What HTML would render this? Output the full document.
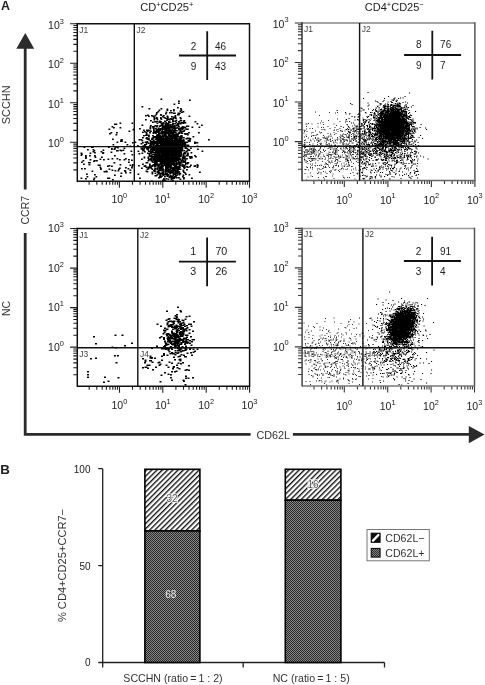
<!DOCTYPE html>
<html><head><meta charset="utf-8"><title>Figure</title>
<style>html,body{margin:0;padding:0;background:#fff;}svg{display:block;}</style></head>
<body>
<svg width="485" height="685" viewBox="0 0 485 685" font-family="'Liberation Sans', Arial, Helvetica, sans-serif" fill="#222">
<rect width="485" height="685" fill="#fff"/>

<text x="1" y="9.9" font-size="12.4" font-weight="bold">A</text>
<text x="140.2" y="10.8" font-size="11.1">CD<tspan font-size="7.5" dy="-4.3">+</tspan><tspan dy="4.3">CD25</tspan><tspan font-size="7.5" dy="-4.3">+</tspan></text>
<text x="364.8" y="10.8" font-size="11.0">CD4<tspan font-size="7.5" dy="-4.3">+</tspan><tspan dy="4.3">CD25</tspan><tspan font-size="7.5" dy="-4.3">&#8722;</tspan></text>
<!-- vertical arrow -->
<path d="M25.2 48V189.6M25.2 233V434.4H250.6M292.9 434.4H469" stroke="#2b2b2b" stroke-width="2.8" fill="none"/>
<path d="M25.3 33L34.2 48.8H16.3Z" fill="#2b2b2b"/>
<path d="M484.5 434.6L468.8 426V443.2Z" fill="#2b2b2b"/>
<text transform="translate(9.9,124.2) rotate(-90)" font-size="10.9" fill="#333">SCCHN</text>
<text transform="translate(29,224.5) rotate(-90)" font-size="10.5" fill="#333">CCR7</text>
<text transform="translate(9.6,316) rotate(-90)" font-size="10.5" fill="#333">NC</text>
<text x="256.5" y="438.8" font-size="10.8" fill="#333">CD62L</text>

<path fill="#000" d="M154 166h1.8v1.6h-1.8zM179 164.5h1.8v1.6h-1.8zM159 157.5h1.8v1.6h-1.8zM164.5 132.5h1.8v1.6h-1.8zM166.5 137.5h1.8v1.6h-1.8zM160 176.5h1.8v1.6h-1.8zM154.5 151.5h1.8v1.6h-1.8zM173 127.5h1.8v1.6h-1.8zM170.5 151.5h1.8v1.6h-1.8zM149 163.5h1.8v1.6h-1.8zM189 156h1.8v1.6h-1.8zM176 151h1.8v1.6h-1.8zM160 121h1.8v1.6h-1.8zM175.5 151.5h1.8v1.6h-1.8zM162.5 149h1.8v1.6h-1.8zM166.5 172.5h1.8v1.6h-1.8zM174.5 151h1.8v1.6h-1.8zM155.5 150.5h1.8v1.6h-1.8zM172.5 145.5h1.8v1.6h-1.8zM180 149.5h1.8v1.6h-1.8zM179.5 154.5h1.8v1.6h-1.8zM164 144.5h1.8v1.6h-1.8zM175.5 139.5h1.8v1.6h-1.8zM152 135h1.8v1.6h-1.8zM165.5 152.5h1.8v1.6h-1.8zM171 146.5h1.8v1.6h-1.8zM154.5 147h1.8v1.6h-1.8zM166 131.5h1.8v1.6h-1.8zM183 140.5h1.8v1.6h-1.8zM191.5 126.5h1.8v1.6h-1.8zM174 163h1.8v1.6h-1.8zM174.5 166h1.8v1.6h-1.8zM158 156h1.8v1.6h-1.8zM156 149.5h1.8v1.6h-1.8zM154 157h1.8v1.6h-1.8zM172 132h1.8v1.6h-1.8zM174 134h1.8v1.6h-1.8zM161 166h1.8v1.6h-1.8zM155.5 137.5h1.8v1.6h-1.8zM169.5 150h1.8v1.6h-1.8zM170 142h1.8v1.6h-1.8zM166 119.5h1.8v1.6h-1.8zM179 142h1.8v1.6h-1.8zM166 161.5h1.8v1.6h-1.8zM166.5 167.5h1.8v1.6h-1.8zM156.5 118.5h1.8v1.6h-1.8zM168.5 130.5h1.8v1.6h-1.8zM179.5 143.5h1.8v1.6h-1.8zM167.5 163.5h1.8v1.6h-1.8zM167.5 166.5h1.8v1.6h-1.8zM171 171h1.8v1.6h-1.8zM169.5 172.5h1.8v1.6h-1.8zM172 145.5h1.8v1.6h-1.8zM172 138h1.8v1.6h-1.8zM173 162.5h1.8v1.6h-1.8zM159.5 147.5h1.8v1.6h-1.8zM170 151h1.8v1.6h-1.8zM152 146h1.8v1.6h-1.8zM169.5 146h1.8v1.6h-1.8zM155.5 162.5h1.8v1.6h-1.8zM166.5 138h1.8v1.6h-1.8zM171.5 128.5h1.8v1.6h-1.8zM163 142h1.8v1.6h-1.8zM168 152h1.8v1.6h-1.8zM151.5 147h1.8v1.6h-1.8zM159 149h1.8v1.6h-1.8zM173.5 125h1.8v1.6h-1.8zM156.5 139.5h1.8v1.6h-1.8zM173 164.5h1.8v1.6h-1.8zM154 148.5h1.8v1.6h-1.8zM158.5 142h1.8v1.6h-1.8zM157 165h1.8v1.6h-1.8zM167 143.5h1.8v1.6h-1.8zM172 160.5h1.8v1.6h-1.8zM157 153.5h1.8v1.6h-1.8zM165.5 156h1.8v1.6h-1.8zM182 164h1.8v1.6h-1.8zM164 179.5h1.8v1.6h-1.8zM159.5 167h1.8v1.6h-1.8zM170.5 139.5h1.8v1.6h-1.8zM165 136h1.8v1.6h-1.8zM160.5 146.5h1.8v1.6h-1.8zM150.5 148.5h1.8v1.6h-1.8zM174.5 159.5h1.8v1.6h-1.8zM161.5 151h1.8v1.6h-1.8zM167 153h1.8v1.6h-1.8zM157 128.5h1.8v1.6h-1.8zM179 150h1.8v1.6h-1.8zM174 157.5h1.8v1.6h-1.8zM176 172.5h1.8v1.6h-1.8zM166 160.5h1.8v1.6h-1.8zM171.5 151.5h1.8v1.6h-1.8zM175.5 135h1.8v1.6h-1.8zM176.5 150.5h1.8v1.6h-1.8zM170 150.5h1.8v1.6h-1.8zM166.5 148.5h1.8v1.6h-1.8zM163.5 152.5h1.8v1.6h-1.8zM160 157h1.8v1.6h-1.8zM158 156h1.8v1.6h-1.8zM170.5 179h1.8v1.6h-1.8zM164.5 137.5h1.8v1.6h-1.8zM148.5 130h1.8v1.6h-1.8zM165.5 155.5h1.8v1.6h-1.8zM177 134.5h1.8v1.6h-1.8zM164.5 147.5h1.8v1.6h-1.8zM150 149.5h1.8v1.6h-1.8zM166 140h1.8v1.6h-1.8zM174.5 160.5h1.8v1.6h-1.8zM169 158.5h1.8v1.6h-1.8zM163 152h1.8v1.6h-1.8zM184 158h1.8v1.6h-1.8zM184.5 161.5h1.8v1.6h-1.8zM166 146.5h1.8v1.6h-1.8zM174.5 158h1.8v1.6h-1.8zM170.5 152h1.8v1.6h-1.8zM174.5 150h1.8v1.6h-1.8zM180.5 144h1.8v1.6h-1.8zM174.5 173h1.8v1.6h-1.8zM168 154.5h1.8v1.6h-1.8zM161 132h1.8v1.6h-1.8zM159.5 156.5h1.8v1.6h-1.8zM167 117h1.8v1.6h-1.8zM178 153.5h1.8v1.6h-1.8zM170 160h1.8v1.6h-1.8zM167.5 168.5h1.8v1.6h-1.8zM169.5 153h1.8v1.6h-1.8zM167.5 141h1.8v1.6h-1.8zM172 175.5h1.8v1.6h-1.8zM156.5 163.5h1.8v1.6h-1.8zM148.5 167h1.8v1.6h-1.8zM163 147h1.8v1.6h-1.8zM156.5 158.5h1.8v1.6h-1.8zM182 127.5h1.8v1.6h-1.8zM165.5 156.5h1.8v1.6h-1.8zM164.5 123h1.8v1.6h-1.8zM152.5 137h1.8v1.6h-1.8zM169.5 131h1.8v1.6h-1.8zM161 165h1.8v1.6h-1.8zM177.5 162h1.8v1.6h-1.8zM175 142.5h1.8v1.6h-1.8zM160 166h1.8v1.6h-1.8zM171 151h1.8v1.6h-1.8zM141.5 124.5h1.8v1.6h-1.8zM160.5 145h1.8v1.6h-1.8zM178.5 128h1.8v1.6h-1.8zM174.5 151h1.8v1.6h-1.8zM168.5 155h1.8v1.6h-1.8zM166.5 140.5h1.8v1.6h-1.8zM154 160.5h1.8v1.6h-1.8zM154.5 163.5h1.8v1.6h-1.8zM169 138.5h1.8v1.6h-1.8zM183.5 157.5h1.8v1.6h-1.8zM147 149h1.8v1.6h-1.8zM173 146.5h1.8v1.6h-1.8zM172.5 172h1.8v1.6h-1.8zM176 141h1.8v1.6h-1.8zM159 145.5h1.8v1.6h-1.8zM162 149.5h1.8v1.6h-1.8zM167.5 157.5h1.8v1.6h-1.8zM157.5 160h1.8v1.6h-1.8zM155.5 138h1.8v1.6h-1.8zM159 168h1.8v1.6h-1.8zM166.5 174h1.8v1.6h-1.8zM170.5 176.5h1.8v1.6h-1.8zM167 152.5h1.8v1.6h-1.8zM167.5 143.5h1.8v1.6h-1.8zM160.5 136.5h1.8v1.6h-1.8zM160.5 154.5h1.8v1.6h-1.8zM177.5 149.5h1.8v1.6h-1.8zM166.5 149.5h1.8v1.6h-1.8zM166 142h1.8v1.6h-1.8zM175.5 121.5h1.8v1.6h-1.8zM178.5 146.5h1.8v1.6h-1.8zM179 148h1.8v1.6h-1.8zM171 145.5h1.8v1.6h-1.8zM166.5 132h1.8v1.6h-1.8zM169.5 146.5h1.8v1.6h-1.8zM168.5 148.5h1.8v1.6h-1.8zM180 135.5h1.8v1.6h-1.8zM169.5 158.5h1.8v1.6h-1.8zM173 150h1.8v1.6h-1.8zM166.5 152h1.8v1.6h-1.8zM180 155.5h1.8v1.6h-1.8zM148 147h1.8v1.6h-1.8zM170.5 149.5h1.8v1.6h-1.8zM174 157h1.8v1.6h-1.8zM156 160h1.8v1.6h-1.8zM187 162h1.8v1.6h-1.8zM165.5 148h1.8v1.6h-1.8zM165.5 160.5h1.8v1.6h-1.8zM157 165h1.8v1.6h-1.8zM175 132h1.8v1.6h-1.8zM169 145h1.8v1.6h-1.8zM161.5 150h1.8v1.6h-1.8zM169 150.5h1.8v1.6h-1.8zM173.5 173.5h1.8v1.6h-1.8zM178.5 166h1.8v1.6h-1.8zM169 148.5h1.8v1.6h-1.8zM158 149h1.8v1.6h-1.8zM162 132.5h1.8v1.6h-1.8zM145.5 137.5h1.8v1.6h-1.8zM160 168h1.8v1.6h-1.8zM174 128h1.8v1.6h-1.8zM171.5 158.5h1.8v1.6h-1.8zM166 141.5h1.8v1.6h-1.8zM164 146.5h1.8v1.6h-1.8zM181.5 149h1.8v1.6h-1.8zM169.5 174.5h1.8v1.6h-1.8zM175.5 155h1.8v1.6h-1.8zM170.5 157h1.8v1.6h-1.8zM161 164h1.8v1.6h-1.8zM181.5 122h1.8v1.6h-1.8zM155.5 175h1.8v1.6h-1.8zM156 129h1.8v1.6h-1.8zM163 141.5h1.8v1.6h-1.8zM160 159.5h1.8v1.6h-1.8zM162 134.5h1.8v1.6h-1.8zM161.5 128h1.8v1.6h-1.8zM176 166h1.8v1.6h-1.8zM167.5 146.5h1.8v1.6h-1.8zM170.5 163h1.8v1.6h-1.8zM152 157h1.8v1.6h-1.8zM159 148.5h1.8v1.6h-1.8zM177 173h1.8v1.6h-1.8zM156 147.5h1.8v1.6h-1.8zM178 177h1.8v1.6h-1.8zM157.5 139h1.8v1.6h-1.8zM170 138h1.8v1.6h-1.8zM159 142h1.8v1.6h-1.8zM169 154h1.8v1.6h-1.8zM158.5 136h1.8v1.6h-1.8zM164.5 142h1.8v1.6h-1.8zM182.5 169.5h1.8v1.6h-1.8zM163.5 153.5h1.8v1.6h-1.8zM186 166h1.8v1.6h-1.8zM162.5 156h1.8v1.6h-1.8zM156 143.5h1.8v1.6h-1.8zM167.5 141h1.8v1.6h-1.8zM163 153.5h1.8v1.6h-1.8zM183.5 152h1.8v1.6h-1.8zM175 144.5h1.8v1.6h-1.8zM178 144h1.8v1.6h-1.8zM173 170h1.8v1.6h-1.8zM190 164.5h1.8v1.6h-1.8zM174.5 155h1.8v1.6h-1.8zM172 146.5h1.8v1.6h-1.8zM159.5 145.5h1.8v1.6h-1.8zM158.5 177h1.8v1.6h-1.8zM168.5 143.5h1.8v1.6h-1.8zM177.5 142.5h1.8v1.6h-1.8zM158 132h1.8v1.6h-1.8zM172 177.5h1.8v1.6h-1.8zM169 149.5h1.8v1.6h-1.8zM156.5 171h1.8v1.6h-1.8zM172 157h1.8v1.6h-1.8zM146 148h1.8v1.6h-1.8zM169.5 163.5h1.8v1.6h-1.8zM190 147.5h1.8v1.6h-1.8zM157.5 156.5h1.8v1.6h-1.8zM167 149h1.8v1.6h-1.8zM149.5 128h1.8v1.6h-1.8zM160 156h1.8v1.6h-1.8zM174 144h1.8v1.6h-1.8zM157.5 149h1.8v1.6h-1.8zM166.5 156.5h1.8v1.6h-1.8zM163.5 132.5h1.8v1.6h-1.8zM163.5 158h1.8v1.6h-1.8zM169 158.5h1.8v1.6h-1.8zM171.5 176h1.8v1.6h-1.8zM178.5 161.5h1.8v1.6h-1.8zM174.5 155.5h1.8v1.6h-1.8zM161.5 142.5h1.8v1.6h-1.8zM180 150.5h1.8v1.6h-1.8zM178.5 132.5h1.8v1.6h-1.8zM152.5 156h1.8v1.6h-1.8zM173 148.5h1.8v1.6h-1.8zM174.5 146h1.8v1.6h-1.8zM176 151h1.8v1.6h-1.8zM172 156.5h1.8v1.6h-1.8zM155 154h1.8v1.6h-1.8zM164.5 135.5h1.8v1.6h-1.8zM147.5 168h1.8v1.6h-1.8zM165.5 151h1.8v1.6h-1.8zM186 155h1.8v1.6h-1.8zM173.5 151h1.8v1.6h-1.8zM175 138.5h1.8v1.6h-1.8zM162 154h1.8v1.6h-1.8zM157.5 145.5h1.8v1.6h-1.8zM157 140h1.8v1.6h-1.8zM168 152.5h1.8v1.6h-1.8zM159.5 160.5h1.8v1.6h-1.8zM161 158.5h1.8v1.6h-1.8zM177.5 153h1.8v1.6h-1.8zM151.5 143h1.8v1.6h-1.8zM155 146.5h1.8v1.6h-1.8zM162.5 149h1.8v1.6h-1.8zM166 132.5h1.8v1.6h-1.8zM166 161h1.8v1.6h-1.8zM154 152h1.8v1.6h-1.8zM169 134h1.8v1.6h-1.8zM166 170h1.8v1.6h-1.8zM170.5 175.5h1.8v1.6h-1.8zM157 134h1.8v1.6h-1.8zM169.5 148.5h1.8v1.6h-1.8zM169 140h1.8v1.6h-1.8zM161 160.5h1.8v1.6h-1.8zM165 133h1.8v1.6h-1.8zM162 157h1.8v1.6h-1.8zM179.5 155.5h1.8v1.6h-1.8zM138 165h1.8v1.6h-1.8zM153.5 126h1.8v1.6h-1.8zM151 141h1.8v1.6h-1.8zM163.5 148h1.8v1.6h-1.8zM160.5 163h1.8v1.6h-1.8zM163 152h1.8v1.6h-1.8zM173.5 160h1.8v1.6h-1.8zM152 156.5h1.8v1.6h-1.8zM159 139h1.8v1.6h-1.8zM165 149h1.8v1.6h-1.8zM156 145.5h1.8v1.6h-1.8zM170.5 146.5h1.8v1.6h-1.8zM170 139h1.8v1.6h-1.8zM160.5 160.5h1.8v1.6h-1.8zM150.5 154.5h1.8v1.6h-1.8zM182 126h1.8v1.6h-1.8zM171.5 160h1.8v1.6h-1.8zM171 143.5h1.8v1.6h-1.8zM167.5 131.5h1.8v1.6h-1.8zM167 166h1.8v1.6h-1.8zM174.5 150h1.8v1.6h-1.8zM167 155h1.8v1.6h-1.8zM161 148.5h1.8v1.6h-1.8zM173.5 150h1.8v1.6h-1.8zM167.5 127h1.8v1.6h-1.8zM160 160h1.8v1.6h-1.8zM158.5 141h1.8v1.6h-1.8zM178 150.5h1.8v1.6h-1.8zM173 149.5h1.8v1.6h-1.8zM185.5 138h1.8v1.6h-1.8zM162 134.5h1.8v1.6h-1.8zM160 148.5h1.8v1.6h-1.8zM171 167h1.8v1.6h-1.8zM180 142h1.8v1.6h-1.8zM172.5 142.5h1.8v1.6h-1.8zM171 151.5h1.8v1.6h-1.8zM184.5 143h1.8v1.6h-1.8zM160 167.5h1.8v1.6h-1.8zM155.5 156.5h1.8v1.6h-1.8zM164 153.5h1.8v1.6h-1.8zM170.5 179h1.8v1.6h-1.8zM176.5 143h1.8v1.6h-1.8zM171 153.5h1.8v1.6h-1.8zM181 137h1.8v1.6h-1.8zM159.5 145.5h1.8v1.6h-1.8zM184.5 146.5h1.8v1.6h-1.8zM159.5 158.5h1.8v1.6h-1.8zM178 168.5h1.8v1.6h-1.8zM158.5 147.5h1.8v1.6h-1.8zM170 132h1.8v1.6h-1.8zM167.5 151h1.8v1.6h-1.8zM172 148.5h1.8v1.6h-1.8zM174 144.5h1.8v1.6h-1.8zM165 162h1.8v1.6h-1.8zM166.5 165.5h1.8v1.6h-1.8zM169 142h1.8v1.6h-1.8zM155 142h1.8v1.6h-1.8zM160 117.5h1.8v1.6h-1.8zM152 143h1.8v1.6h-1.8zM167 162h1.8v1.6h-1.8zM187.5 139.5h1.8v1.6h-1.8zM174 163h1.8v1.6h-1.8zM159 160h1.8v1.6h-1.8zM160.5 159h1.8v1.6h-1.8zM176 159.5h1.8v1.6h-1.8zM162.5 150.5h1.8v1.6h-1.8zM152 164.5h1.8v1.6h-1.8zM157.5 165h1.8v1.6h-1.8zM157 156h1.8v1.6h-1.8zM157.5 151h1.8v1.6h-1.8zM173.5 168.5h1.8v1.6h-1.8zM167.5 171h1.8v1.6h-1.8zM153 143.5h1.8v1.6h-1.8zM162 162.5h1.8v1.6h-1.8zM156.5 152.5h1.8v1.6h-1.8zM153 147.5h1.8v1.6h-1.8zM183 143.5h1.8v1.6h-1.8zM164 139.5h1.8v1.6h-1.8zM172.5 163.5h1.8v1.6h-1.8zM175 138h1.8v1.6h-1.8zM163.5 160h1.8v1.6h-1.8zM172 145h1.8v1.6h-1.8zM172 169h1.8v1.6h-1.8zM169 172h1.8v1.6h-1.8zM187 166.5h1.8v1.6h-1.8zM169.5 126.5h1.8v1.6h-1.8zM165 133h1.8v1.6h-1.8zM173 116.5h1.8v1.6h-1.8zM176 144h1.8v1.6h-1.8zM162.5 146.5h1.8v1.6h-1.8zM159 152h1.8v1.6h-1.8zM158.5 159.5h1.8v1.6h-1.8zM161 147.5h1.8v1.6h-1.8zM170.5 152.5h1.8v1.6h-1.8zM175 151.5h1.8v1.6h-1.8zM146 134.5h1.8v1.6h-1.8zM167 175h1.8v1.6h-1.8zM156.5 174h1.8v1.6h-1.8zM173.5 152h1.8v1.6h-1.8zM175.5 150h1.8v1.6h-1.8zM160 176h1.8v1.6h-1.8zM158 152.5h1.8v1.6h-1.8zM170.5 159.5h1.8v1.6h-1.8zM152 146.5h1.8v1.6h-1.8zM156.5 156h1.8v1.6h-1.8zM160.5 118.5h1.8v1.6h-1.8zM178.5 122.5h1.8v1.6h-1.8zM189.5 157.5h1.8v1.6h-1.8zM167 149.5h1.8v1.6h-1.8zM155.5 157h1.8v1.6h-1.8zM167.5 153h1.8v1.6h-1.8zM159 159.5h1.8v1.6h-1.8zM171.5 155h1.8v1.6h-1.8zM156.5 149.5h1.8v1.6h-1.8zM163.5 157.5h1.8v1.6h-1.8zM167 143.5h1.8v1.6h-1.8zM172 170.5h1.8v1.6h-1.8zM166.5 139.5h1.8v1.6h-1.8zM179 147h1.8v1.6h-1.8zM168 163.5h1.8v1.6h-1.8zM150 147h1.8v1.6h-1.8zM175.5 164.5h1.8v1.6h-1.8zM164.5 171h1.8v1.6h-1.8zM161 162.5h1.8v1.6h-1.8zM181 146.5h1.8v1.6h-1.8zM158 177h1.8v1.6h-1.8zM167.5 158h1.8v1.6h-1.8zM160.5 139.5h1.8v1.6h-1.8zM179.5 178.5h1.8v1.6h-1.8zM163.5 154.5h1.8v1.6h-1.8zM169 160h1.8v1.6h-1.8zM154 164h1.8v1.6h-1.8zM180.5 145.5h1.8v1.6h-1.8zM157 164h1.8v1.6h-1.8zM175.5 136h1.8v1.6h-1.8zM177.5 139.5h1.8v1.6h-1.8zM178.5 147h1.8v1.6h-1.8zM156 160h1.8v1.6h-1.8zM170.5 167.5h1.8v1.6h-1.8zM168.5 146.5h1.8v1.6h-1.8zM171 159.5h1.8v1.6h-1.8zM177 125h1.8v1.6h-1.8zM168 149h1.8v1.6h-1.8zM159.5 158h1.8v1.6h-1.8zM166 145h1.8v1.6h-1.8zM181.5 126.5h1.8v1.6h-1.8zM156 131h1.8v1.6h-1.8zM167.5 160.5h1.8v1.6h-1.8zM158 170h1.8v1.6h-1.8zM177.5 147.5h1.8v1.6h-1.8zM151.5 173h1.8v1.6h-1.8zM164 135.5h1.8v1.6h-1.8zM166 160.5h1.8v1.6h-1.8zM168 156h1.8v1.6h-1.8zM189 166h1.8v1.6h-1.8zM181.5 132.5h1.8v1.6h-1.8zM157.5 165.5h1.8v1.6h-1.8zM187 153.5h1.8v1.6h-1.8zM156 141h1.8v1.6h-1.8zM149.5 146h1.8v1.6h-1.8zM153 149.5h1.8v1.6h-1.8zM169 156h1.8v1.6h-1.8zM172 141h1.8v1.6h-1.8zM146.5 141h1.8v1.6h-1.8zM171 153h1.8v1.6h-1.8zM164.5 151.5h1.8v1.6h-1.8zM173.5 158.5h1.8v1.6h-1.8zM163.5 163.5h1.8v1.6h-1.8zM175.5 127.5h1.8v1.6h-1.8zM172 150.5h1.8v1.6h-1.8zM156 155h1.8v1.6h-1.8zM180.5 152.5h1.8v1.6h-1.8zM169 137.5h1.8v1.6h-1.8zM174 161h1.8v1.6h-1.8zM178.5 174h1.8v1.6h-1.8zM158 149h1.8v1.6h-1.8zM166 141h1.8v1.6h-1.8zM159.5 161.5h1.8v1.6h-1.8zM158 151.5h1.8v1.6h-1.8zM169.5 153h1.8v1.6h-1.8zM170 154.5h1.8v1.6h-1.8zM179.5 145.5h1.8v1.6h-1.8zM180 151h1.8v1.6h-1.8zM167 142h1.8v1.6h-1.8zM159 125.5h1.8v1.6h-1.8zM197 165h1.8v1.6h-1.8zM187 155h1.8v1.6h-1.8zM166 150.5h1.8v1.6h-1.8zM158.5 169h1.8v1.6h-1.8zM163 149h1.8v1.6h-1.8zM169.5 166h1.8v1.6h-1.8zM177.5 162h1.8v1.6h-1.8zM176 147.5h1.8v1.6h-1.8zM171 135h1.8v1.6h-1.8zM164.5 157.5h1.8v1.6h-1.8zM168.5 154h1.8v1.6h-1.8zM164 164.5h1.8v1.6h-1.8zM167.5 131h1.8v1.6h-1.8zM166 149.5h1.8v1.6h-1.8zM172 154h1.8v1.6h-1.8zM149.5 155.5h1.8v1.6h-1.8zM164 152.5h1.8v1.6h-1.8zM164.5 155h1.8v1.6h-1.8zM156.5 120.5h1.8v1.6h-1.8zM165.5 147h1.8v1.6h-1.8zM157 142.5h1.8v1.6h-1.8zM161 131h1.8v1.6h-1.8zM164.5 152.5h1.8v1.6h-1.8zM164.5 146h1.8v1.6h-1.8zM161.5 136h1.8v1.6h-1.8zM177.5 133h1.8v1.6h-1.8zM169 155.5h1.8v1.6h-1.8zM170 118h1.8v1.6h-1.8zM169 150h1.8v1.6h-1.8zM161 136.5h1.8v1.6h-1.8zM159 153h1.8v1.6h-1.8zM175 176h1.8v1.6h-1.8zM163.5 164.5h1.8v1.6h-1.8zM150.5 150.5h1.8v1.6h-1.8zM146.5 171h1.8v1.6h-1.8zM169 176h1.8v1.6h-1.8zM160 164h1.8v1.6h-1.8zM166.5 175.5h1.8v1.6h-1.8zM162 154h1.8v1.6h-1.8zM163 159.5h1.8v1.6h-1.8zM165.5 150h1.8v1.6h-1.8zM155.5 146.5h1.8v1.6h-1.8zM167 151.5h1.8v1.6h-1.8zM176 141h1.8v1.6h-1.8zM173.5 150h1.8v1.6h-1.8zM151 180.5h1.8v1.6h-1.8zM154.5 160.5h1.8v1.6h-1.8zM154.5 149h1.8v1.6h-1.8zM164.5 174h1.8v1.6h-1.8zM175 170.5h1.8v1.6h-1.8zM170 137.5h1.8v1.6h-1.8zM150.5 142h1.8v1.6h-1.8zM167.5 174h1.8v1.6h-1.8zM174.5 152.5h1.8v1.6h-1.8zM163 154h1.8v1.6h-1.8zM184.5 144.5h1.8v1.6h-1.8zM161 137h1.8v1.6h-1.8zM178 166.5h1.8v1.6h-1.8zM189 140.5h1.8v1.6h-1.8zM155 158.5h1.8v1.6h-1.8zM164 176h1.8v1.6h-1.8zM172.5 158.5h1.8v1.6h-1.8zM197 148.5h1.8v1.6h-1.8zM150.5 159.5h1.8v1.6h-1.8zM172.5 158.5h1.8v1.6h-1.8zM169.5 145.5h1.8v1.6h-1.8zM163 155h1.8v1.6h-1.8zM159 135.5h1.8v1.6h-1.8zM162 128.5h1.8v1.6h-1.8zM164 144h1.8v1.6h-1.8zM155 128h1.8v1.6h-1.8zM181.5 143h1.8v1.6h-1.8zM156.5 149.5h1.8v1.6h-1.8zM163 153.5h1.8v1.6h-1.8zM161 175.5h1.8v1.6h-1.8zM163 139h1.8v1.6h-1.8zM168 145h1.8v1.6h-1.8zM160 145h1.8v1.6h-1.8zM165 138h1.8v1.6h-1.8zM183 178h1.8v1.6h-1.8zM177 141h1.8v1.6h-1.8zM164.5 148h1.8v1.6h-1.8zM175.5 148.5h1.8v1.6h-1.8zM169 147h1.8v1.6h-1.8zM153.5 141h1.8v1.6h-1.8zM156.5 167.5h1.8v1.6h-1.8zM159 142.5h1.8v1.6h-1.8zM178.5 123h1.8v1.6h-1.8zM169 166h1.8v1.6h-1.8zM172 163.5h1.8v1.6h-1.8zM168.5 132h1.8v1.6h-1.8zM170.5 134.5h1.8v1.6h-1.8zM171 150.5h1.8v1.6h-1.8zM174 138h1.8v1.6h-1.8zM168.5 130.5h1.8v1.6h-1.8zM158.5 135h1.8v1.6h-1.8zM159.5 174.5h1.8v1.6h-1.8zM178.5 165h1.8v1.6h-1.8zM180 136.5h1.8v1.6h-1.8zM172 148.5h1.8v1.6h-1.8zM151.5 152h1.8v1.6h-1.8zM181.5 146h1.8v1.6h-1.8zM170 150h1.8v1.6h-1.8zM166.5 174h1.8v1.6h-1.8zM167 142h1.8v1.6h-1.8zM163.5 140.5h1.8v1.6h-1.8zM183.5 150h1.8v1.6h-1.8zM182.5 141.5h1.8v1.6h-1.8zM157 144.5h1.8v1.6h-1.8zM165 144.5h1.8v1.6h-1.8zM170 137h1.8v1.6h-1.8zM179 166.5h1.8v1.6h-1.8zM144.5 141.5h1.8v1.6h-1.8zM175.5 168h1.8v1.6h-1.8zM182.5 139h1.8v1.6h-1.8zM164 138h1.8v1.6h-1.8zM166.5 153.5h1.8v1.6h-1.8zM178.5 147h1.8v1.6h-1.8zM170.5 161.5h1.8v1.6h-1.8zM154.5 159.5h1.8v1.6h-1.8zM157.5 111h1.8v1.6h-1.8zM153.5 136.5h1.8v1.6h-1.8zM167 149.5h1.8v1.6h-1.8zM162 147.5h1.8v1.6h-1.8zM167 149.5h1.8v1.6h-1.8zM183.5 120h1.8v1.6h-1.8zM169 159.5h1.8v1.6h-1.8zM149.5 147h1.8v1.6h-1.8zM180 150.5h1.8v1.6h-1.8zM166 164.5h1.8v1.6h-1.8zM177.5 149.5h1.8v1.6h-1.8zM162.5 161h1.8v1.6h-1.8zM169.5 167.5h1.8v1.6h-1.8zM165.5 166h1.8v1.6h-1.8zM166.5 125h1.8v1.6h-1.8zM178.5 141.5h1.8v1.6h-1.8zM160.5 132.5h1.8v1.6h-1.8zM168.5 139.5h1.8v1.6h-1.8zM169 147.5h1.8v1.6h-1.8zM163 178h1.8v1.6h-1.8zM146.5 141.5h1.8v1.6h-1.8zM170 146h1.8v1.6h-1.8zM140.5 148h1.8v1.6h-1.8zM153 170h1.8v1.6h-1.8zM162.5 142.5h1.8v1.6h-1.8zM171 156h1.8v1.6h-1.8zM175 161h1.8v1.6h-1.8zM174.5 157.5h1.8v1.6h-1.8zM172.5 123h1.8v1.6h-1.8zM163.5 132.5h1.8v1.6h-1.8zM178 159h1.8v1.6h-1.8zM164.5 126h1.8v1.6h-1.8zM177.5 146.5h1.8v1.6h-1.8zM146 129.5h1.8v1.6h-1.8zM158 155h1.8v1.6h-1.8zM161.5 149h1.8v1.6h-1.8zM167 128.5h1.8v1.6h-1.8zM144.5 146h1.8v1.6h-1.8zM174.5 135h1.8v1.6h-1.8zM176 142h1.8v1.6h-1.8zM174 166h1.8v1.6h-1.8zM162 153h1.8v1.6h-1.8zM180.5 154h1.8v1.6h-1.8zM162 170h1.8v1.6h-1.8zM175.5 151h1.8v1.6h-1.8zM166.5 167h1.8v1.6h-1.8zM166.5 154.5h1.8v1.6h-1.8zM165.5 153h1.8v1.6h-1.8zM166.5 144.5h1.8v1.6h-1.8zM177 138.5h1.8v1.6h-1.8zM180.5 135.5h1.8v1.6h-1.8zM180 137h1.8v1.6h-1.8zM175.5 156.5h1.8v1.6h-1.8zM173 155h1.8v1.6h-1.8zM171 138h1.8v1.6h-1.8zM183 166h1.8v1.6h-1.8zM162.5 141h1.8v1.6h-1.8zM161 144h1.8v1.6h-1.8zM167.5 131h1.8v1.6h-1.8zM151.5 138.5h1.8v1.6h-1.8zM164.5 161h1.8v1.6h-1.8zM166.5 155.5h1.8v1.6h-1.8zM157.5 141h1.8v1.6h-1.8zM161.5 166h1.8v1.6h-1.8zM173.5 148.5h1.8v1.6h-1.8zM164.5 150.5h1.8v1.6h-1.8zM167.5 163.5h1.8v1.6h-1.8zM176.5 155.5h1.8v1.6h-1.8zM161 145h1.8v1.6h-1.8zM156 135.5h1.8v1.6h-1.8zM166.5 166.5h1.8v1.6h-1.8zM171 118.5h1.8v1.6h-1.8zM150 141.5h1.8v1.6h-1.8zM173 126.5h1.8v1.6h-1.8zM164 141.5h1.8v1.6h-1.8zM163 161h1.8v1.6h-1.8zM159 145h1.8v1.6h-1.8zM165 144h1.8v1.6h-1.8zM176 149h1.8v1.6h-1.8zM172 175.5h1.8v1.6h-1.8zM174.5 167.5h1.8v1.6h-1.8zM163.5 152.5h1.8v1.6h-1.8zM181.5 141h1.8v1.6h-1.8zM179 144.5h1.8v1.6h-1.8zM166.5 154h1.8v1.6h-1.8zM142.5 146.5h1.8v1.6h-1.8zM167.5 148h1.8v1.6h-1.8zM192.5 136h1.8v1.6h-1.8zM166.5 131.5h1.8v1.6h-1.8zM157.5 135h1.8v1.6h-1.8zM183 153h1.8v1.6h-1.8zM161 137.5h1.8v1.6h-1.8zM174 157h1.8v1.6h-1.8zM153 158.5h1.8v1.6h-1.8zM168 163h1.8v1.6h-1.8zM178 136h1.8v1.6h-1.8zM164 134.5h1.8v1.6h-1.8zM173 147h1.8v1.6h-1.8zM167 158h1.8v1.6h-1.8zM176.5 157.5h1.8v1.6h-1.8zM184 172h1.8v1.6h-1.8zM156.5 169h1.8v1.6h-1.8zM164.5 164.5h1.8v1.6h-1.8zM170.5 165.5h1.8v1.6h-1.8zM161 154h1.8v1.6h-1.8zM159.5 162h1.8v1.6h-1.8zM163.5 147h1.8v1.6h-1.8zM164.5 145.5h1.8v1.6h-1.8zM161 163.5h1.8v1.6h-1.8zM170 129.5h1.8v1.6h-1.8zM174.5 169.5h1.8v1.6h-1.8zM174 176h1.8v1.6h-1.8zM173.5 145h1.8v1.6h-1.8zM178 161.5h1.8v1.6h-1.8zM154.5 154h1.8v1.6h-1.8zM166 139h1.8v1.6h-1.8zM169 156.5h1.8v1.6h-1.8zM172 159h1.8v1.6h-1.8zM152 165h1.8v1.6h-1.8zM184.5 147.5h1.8v1.6h-1.8zM158.5 154h1.8v1.6h-1.8zM169.5 144h1.8v1.6h-1.8zM174 165h1.8v1.6h-1.8zM177 150.5h1.8v1.6h-1.8zM160.5 163.5h1.8v1.6h-1.8zM162 143h1.8v1.6h-1.8zM170.5 153.5h1.8v1.6h-1.8zM172.5 140h1.8v1.6h-1.8zM175.5 142.5h1.8v1.6h-1.8zM166.5 166.5h1.8v1.6h-1.8zM160.5 149.5h1.8v1.6h-1.8zM154.5 151h1.8v1.6h-1.8zM183 161.5h1.8v1.6h-1.8zM154 141.5h1.8v1.6h-1.8zM173.5 177.5h1.8v1.6h-1.8zM169.5 142h1.8v1.6h-1.8zM174 147h1.8v1.6h-1.8zM179.5 129.5h1.8v1.6h-1.8zM166.5 175h1.8v1.6h-1.8zM170.5 157h1.8v1.6h-1.8zM149 159h1.8v1.6h-1.8zM167.5 138h1.8v1.6h-1.8zM158.5 154h1.8v1.6h-1.8zM165.5 135.5h1.8v1.6h-1.8zM178.5 165h1.8v1.6h-1.8zM168 148.5h1.8v1.6h-1.8zM177 143.5h1.8v1.6h-1.8zM165 145.5h1.8v1.6h-1.8zM171 150h1.8v1.6h-1.8zM163 164.5h1.8v1.6h-1.8zM143.5 156.5h1.8v1.6h-1.8zM160.5 141.5h1.8v1.6h-1.8zM164.5 140.5h1.8v1.6h-1.8zM168.5 138h1.8v1.6h-1.8zM167 162h1.8v1.6h-1.8zM166 158h1.8v1.6h-1.8zM176 137h1.8v1.6h-1.8zM173 130.5h1.8v1.6h-1.8zM163.5 151h1.8v1.6h-1.8zM175 144h1.8v1.6h-1.8zM148.5 158.5h1.8v1.6h-1.8zM164.5 150h1.8v1.6h-1.8zM165.5 156.5h1.8v1.6h-1.8zM179 162h1.8v1.6h-1.8zM162 165h1.8v1.6h-1.8zM153.5 148.5h1.8v1.6h-1.8zM168.5 160.5h1.8v1.6h-1.8zM183 144h1.8v1.6h-1.8zM165 135.5h1.8v1.6h-1.8zM166 154h1.8v1.6h-1.8zM165 167h1.8v1.6h-1.8zM167.5 170h1.8v1.6h-1.8zM179 150.5h1.8v1.6h-1.8zM185.5 128.5h1.8v1.6h-1.8zM171.5 155.5h1.8v1.6h-1.8zM166 148.5h1.8v1.6h-1.8zM184.5 159.5h1.8v1.6h-1.8zM168 165h1.8v1.6h-1.8zM167.5 145.5h1.8v1.6h-1.8zM164 142h1.8v1.6h-1.8zM164 146h1.8v1.6h-1.8zM169.5 142h1.8v1.6h-1.8zM164.5 138h1.8v1.6h-1.8zM171 154h1.8v1.6h-1.8zM168 141.5h1.8v1.6h-1.8zM172.5 147.5h1.8v1.6h-1.8zM163.5 146.5h1.8v1.6h-1.8zM165.5 143h1.8v1.6h-1.8zM169.5 159h1.8v1.6h-1.8zM168 145h1.8v1.6h-1.8zM168 150h1.8v1.6h-1.8zM178 161h1.8v1.6h-1.8zM157 149h1.8v1.6h-1.8zM149 132h1.8v1.6h-1.8zM174 144.5h1.8v1.6h-1.8zM165 144.5h1.8v1.6h-1.8zM179.5 159h1.8v1.6h-1.8zM166.5 172.5h1.8v1.6h-1.8zM156.5 153.5h1.8v1.6h-1.8zM187.5 149h1.8v1.6h-1.8zM171 169.5h1.8v1.6h-1.8zM163 141.5h1.8v1.6h-1.8zM160 154.5h1.8v1.6h-1.8zM172.5 157h1.8v1.6h-1.8zM161 150h1.8v1.6h-1.8zM171 148h1.8v1.6h-1.8zM178 153h1.8v1.6h-1.8zM154 170.5h1.8v1.6h-1.8zM164 158h1.8v1.6h-1.8zM171.5 143h1.8v1.6h-1.8zM182.5 154.5h1.8v1.6h-1.8zM176 163h1.8v1.6h-1.8zM163 173.5h1.8v1.6h-1.8zM180.5 161h1.8v1.6h-1.8zM164 153h1.8v1.6h-1.8zM165.5 168.5h1.8v1.6h-1.8zM170.5 162h1.8v1.6h-1.8zM157 152.5h1.8v1.6h-1.8zM195.5 142h1.8v1.6h-1.8zM178 151.5h1.8v1.6h-1.8zM169 163h1.8v1.6h-1.8zM162 137h1.8v1.6h-1.8zM156.5 130h1.8v1.6h-1.8zM170.5 157h1.8v1.6h-1.8zM173.5 131h1.8v1.6h-1.8zM163.5 134h1.8v1.6h-1.8zM165.5 148h1.8v1.6h-1.8zM172.5 147.5h1.8v1.6h-1.8zM166.5 151h1.8v1.6h-1.8zM150 152.5h1.8v1.6h-1.8zM173.5 157.5h1.8v1.6h-1.8zM169.5 149h1.8v1.6h-1.8zM174 139.5h1.8v1.6h-1.8zM160 114h1.8v1.6h-1.8zM147.5 166.5h1.8v1.6h-1.8zM155.5 160.5h1.8v1.6h-1.8zM170 158.5h1.8v1.6h-1.8zM186.5 150h1.8v1.6h-1.8zM189 139h1.8v1.6h-1.8zM170 156.5h1.8v1.6h-1.8zM153.5 149.5h1.8v1.6h-1.8zM164 132.5h1.8v1.6h-1.8zM171 163.5h1.8v1.6h-1.8zM171 132h1.8v1.6h-1.8zM168 144.5h1.8v1.6h-1.8zM179.5 173h1.8v1.6h-1.8zM158.5 139.5h1.8v1.6h-1.8zM147 152.5h1.8v1.6h-1.8zM159 164h1.8v1.6h-1.8zM156 150h1.8v1.6h-1.8zM188 132h1.8v1.6h-1.8zM165.5 143.5h1.8v1.6h-1.8zM154 149.5h1.8v1.6h-1.8zM173 130.5h1.8v1.6h-1.8zM176.5 168.5h1.8v1.6h-1.8zM167.5 154h1.8v1.6h-1.8zM169 159h1.8v1.6h-1.8zM176.5 153.5h1.8v1.6h-1.8zM172 155h1.8v1.6h-1.8zM160.5 145h1.8v1.6h-1.8zM172.5 131h1.8v1.6h-1.8zM175.5 158.5h1.8v1.6h-1.8zM170 150.5h1.8v1.6h-1.8zM175 170h1.8v1.6h-1.8zM172.5 135h1.8v1.6h-1.8zM165 152h1.8v1.6h-1.8zM165.5 178h1.8v1.6h-1.8zM172.5 132.5h1.8v1.6h-1.8zM162 134.5h1.8v1.6h-1.8zM177.5 152.5h1.8v1.6h-1.8zM178.5 171.5h1.8v1.6h-1.8zM148 134.5h1.8v1.6h-1.8zM166.5 150.5h1.8v1.6h-1.8zM160 147.5h1.8v1.6h-1.8zM161 142.5h1.8v1.6h-1.8zM168.5 146.5h1.8v1.6h-1.8zM165.5 165.5h1.8v1.6h-1.8zM172.5 151.5h1.8v1.6h-1.8zM170 132.5h1.8v1.6h-1.8zM170.5 141.5h1.8v1.6h-1.8zM159.5 151h1.8v1.6h-1.8zM164 131.5h1.8v1.6h-1.8zM180.5 140.5h1.8v1.6h-1.8zM144 144h1.8v1.6h-1.8zM183 122h1.8v1.6h-1.8zM162 173.5h1.8v1.6h-1.8zM178 128.5h1.8v1.6h-1.8zM143 150h1.8v1.6h-1.8zM163 147h1.8v1.6h-1.8zM175 141.5h1.8v1.6h-1.8zM168.5 165h1.8v1.6h-1.8zM176.5 150h1.8v1.6h-1.8zM159 138.5h1.8v1.6h-1.8zM162 164.5h1.8v1.6h-1.8zM161 156.5h1.8v1.6h-1.8zM171.5 136h1.8v1.6h-1.8zM171.5 129.5h1.8v1.6h-1.8zM166 161h1.8v1.6h-1.8zM164.5 147.5h1.8v1.6h-1.8zM164.5 130.5h1.8v1.6h-1.8zM168 156.5h1.8v1.6h-1.8zM158 130.5h1.8v1.6h-1.8zM166.5 140.5h1.8v1.6h-1.8zM165.5 138.5h1.8v1.6h-1.8zM162 123.5h1.8v1.6h-1.8zM161.5 158.5h1.8v1.6h-1.8zM161.5 157.5h1.8v1.6h-1.8zM171 154.5h1.8v1.6h-1.8zM179.5 146h1.8v1.6h-1.8zM174 148.5h1.8v1.6h-1.8zM167 153h1.8v1.6h-1.8zM176.5 157.5h1.8v1.6h-1.8zM154 143h1.8v1.6h-1.8zM155.5 150h1.8v1.6h-1.8zM163.5 147h1.8v1.6h-1.8zM165 157h1.8v1.6h-1.8zM166 162h1.8v1.6h-1.8zM184.5 164h1.8v1.6h-1.8zM182.5 144h1.8v1.6h-1.8zM166.5 143.5h1.8v1.6h-1.8zM169.5 159h1.8v1.6h-1.8zM158.5 146.5h1.8v1.6h-1.8zM170 147h1.8v1.6h-1.8zM154.5 156h1.8v1.6h-1.8zM180 155h1.8v1.6h-1.8zM162 167.5h1.8v1.6h-1.8zM172 134.5h1.8v1.6h-1.8zM155 165h1.8v1.6h-1.8zM180 144h1.8v1.6h-1.8zM172.5 159h1.8v1.6h-1.8zM185 133.5h1.8v1.6h-1.8zM167.5 148.5h1.8v1.6h-1.8zM152 142.5h1.8v1.6h-1.8zM159.5 173.5h1.8v1.6h-1.8zM155.5 138h1.8v1.6h-1.8zM181.5 165.5h1.8v1.6h-1.8zM161 140h1.8v1.6h-1.8zM160 136h1.8v1.6h-1.8zM172.5 154.5h1.8v1.6h-1.8zM169.5 164.5h1.8v1.6h-1.8zM171.5 150h1.8v1.6h-1.8zM162.5 158.5h1.8v1.6h-1.8zM148.5 153.5h1.8v1.6h-1.8zM154.5 150h1.8v1.6h-1.8zM146.5 168.5h1.8v1.6h-1.8zM179 150.5h1.8v1.6h-1.8zM175.5 162h1.8v1.6h-1.8zM163.5 135.5h1.8v1.6h-1.8zM173 148.5h1.8v1.6h-1.8zM173.5 163h1.8v1.6h-1.8zM173 145h1.8v1.6h-1.8zM172 123h1.8v1.6h-1.8zM175 160.5h1.8v1.6h-1.8zM168 158.5h1.8v1.6h-1.8zM146.5 147h1.8v1.6h-1.8zM141.5 152.5h1.8v1.6h-1.8zM179 146.5h1.8v1.6h-1.8zM172.5 156h1.8v1.6h-1.8zM143.5 165.5h1.8v1.6h-1.8zM168.5 155h1.8v1.6h-1.8zM159 150h1.8v1.6h-1.8zM162 144.5h1.8v1.6h-1.8zM143 149h1.8v1.6h-1.8zM174 144.5h1.8v1.6h-1.8zM166 163.5h1.8v1.6h-1.8zM174.5 137.5h1.8v1.6h-1.8zM177 143.5h1.8v1.6h-1.8zM179 155.5h1.8v1.6h-1.8zM182.5 155.5h1.8v1.6h-1.8zM169.5 154.5h1.8v1.6h-1.8zM169 145.5h1.8v1.6h-1.8zM161 154h1.8v1.6h-1.8zM172 132.5h1.8v1.6h-1.8zM165 131.5h1.8v1.6h-1.8zM156 134.5h1.8v1.6h-1.8zM178 156h1.8v1.6h-1.8zM173.5 169h1.8v1.6h-1.8zM142 145.5h1.8v1.6h-1.8zM149.5 144h1.8v1.6h-1.8zM165 147.5h1.8v1.6h-1.8zM154.5 175h1.8v1.6h-1.8zM178.5 154h1.8v1.6h-1.8zM169 152.5h1.8v1.6h-1.8zM172.5 144h1.8v1.6h-1.8zM176 158h1.8v1.6h-1.8zM179.5 168.5h1.8v1.6h-1.8zM164.5 154h1.8v1.6h-1.8zM173 141h1.8v1.6h-1.8zM169.5 168.5h1.8v1.6h-1.8zM174.5 151.5h1.8v1.6h-1.8zM172.5 174.5h1.8v1.6h-1.8zM180.5 138h1.8v1.6h-1.8zM172 149.5h1.8v1.6h-1.8zM162.5 155h1.8v1.6h-1.8zM168.5 129h1.8v1.6h-1.8zM156.5 153h1.8v1.6h-1.8zM170 159.5h1.8v1.6h-1.8zM181.5 150h1.8v1.6h-1.8zM161.5 157h1.8v1.6h-1.8zM151.5 154h1.8v1.6h-1.8zM166.5 140.5h1.8v1.6h-1.8zM162.5 161h1.8v1.6h-1.8zM167 141.5h1.8v1.6h-1.8zM161.5 147.5h1.8v1.6h-1.8zM168 142h1.8v1.6h-1.8zM157.5 159.5h1.8v1.6h-1.8zM181.5 145.5h1.8v1.6h-1.8zM165 145h1.8v1.6h-1.8zM172 123.5h1.8v1.6h-1.8zM174.5 147.5h1.8v1.6h-1.8zM165.5 164h1.8v1.6h-1.8zM171.5 124h1.8v1.6h-1.8zM165 156h1.8v1.6h-1.8zM163 150.5h1.8v1.6h-1.8zM165 128.5h1.8v1.6h-1.8zM172 146h1.8v1.6h-1.8zM155.5 163.5h1.8v1.6h-1.8zM158.5 151h1.8v1.6h-1.8zM159.5 156h1.8v1.6h-1.8zM162 165.5h1.8v1.6h-1.8zM178 147h1.8v1.6h-1.8zM167 162.5h1.8v1.6h-1.8zM164.5 135h1.8v1.6h-1.8zM168.5 140h1.8v1.6h-1.8zM177 170h1.8v1.6h-1.8zM160 169h1.8v1.6h-1.8zM177 163.5h1.8v1.6h-1.8zM145.5 132h1.8v1.6h-1.8zM159 148.5h1.8v1.6h-1.8zM181 140h1.8v1.6h-1.8zM182 176h1.8v1.6h-1.8zM169 134h1.8v1.6h-1.8zM163.5 135h1.8v1.6h-1.8zM175 143.5h1.8v1.6h-1.8zM163.5 155.5h1.8v1.6h-1.8zM182 144h1.8v1.6h-1.8zM178.5 147.5h1.8v1.6h-1.8zM174.5 155.5h1.8v1.6h-1.8zM159.5 152h1.8v1.6h-1.8zM176.5 127h1.8v1.6h-1.8zM165 135.5h1.8v1.6h-1.8zM165 172.5h1.8v1.6h-1.8zM163.5 152h1.8v1.6h-1.8zM166.5 175h1.8v1.6h-1.8zM172 170.5h1.8v1.6h-1.8zM175.5 166h1.8v1.6h-1.8zM175.5 152.5h1.8v1.6h-1.8zM199 171.5h1.8v1.6h-1.8zM164.5 146h1.8v1.6h-1.8zM161.5 159.5h1.8v1.6h-1.8zM165.5 159.5h1.8v1.6h-1.8zM156.5 147h1.8v1.6h-1.8zM179 144.5h1.8v1.6h-1.8zM170 149h1.8v1.6h-1.8zM169 145.5h1.8v1.6h-1.8zM166.5 141h1.8v1.6h-1.8zM176.5 138.5h1.8v1.6h-1.8zM163 155h1.8v1.6h-1.8zM171.5 167.5h1.8v1.6h-1.8zM191 177.5h1.8v1.6h-1.8zM166.5 162.5h1.8v1.6h-1.8zM162 151h1.8v1.6h-1.8zM158 160.5h1.8v1.6h-1.8zM175.5 174.5h1.8v1.6h-1.8zM168.5 154.5h1.8v1.6h-1.8zM160.5 165.5h1.8v1.6h-1.8zM160 157.5h1.8v1.6h-1.8zM168 154.5h1.8v1.6h-1.8zM158.5 145.5h1.8v1.6h-1.8zM187.5 162h1.8v1.6h-1.8zM166 142h1.8v1.6h-1.8zM166 140h1.8v1.6h-1.8zM167 157h1.8v1.6h-1.8zM151 165.5h1.8v1.6h-1.8zM154 164.5h1.8v1.6h-1.8zM164.5 163.5h1.8v1.6h-1.8zM167.5 149h1.8v1.6h-1.8zM156 151h1.8v1.6h-1.8zM183.5 167h1.8v1.6h-1.8zM172 179.5h1.8v1.6h-1.8zM180 118h1.8v1.6h-1.8zM178.5 168.5h1.8v1.6h-1.8zM165.5 155.5h1.8v1.6h-1.8zM190.5 152h1.8v1.6h-1.8zM169 143h1.8v1.6h-1.8zM150 144.5h1.8v1.6h-1.8zM146 137h1.8v1.6h-1.8zM168 156h1.8v1.6h-1.8zM176 140h1.8v1.6h-1.8zM168.5 150h1.8v1.6h-1.8zM184 133h1.8v1.6h-1.8zM165 168h1.8v1.6h-1.8zM173 161h1.8v1.6h-1.8zM174.5 137.5h1.8v1.6h-1.8zM158 158.5h1.8v1.6h-1.8zM170.5 147.5h1.8v1.6h-1.8zM171 141h1.8v1.6h-1.8zM178 153h1.8v1.6h-1.8zM179 163h1.8v1.6h-1.8zM177 171.5h1.8v1.6h-1.8zM160.5 156h1.8v1.6h-1.8zM174.5 167.5h1.8v1.6h-1.8zM178 161h1.8v1.6h-1.8zM168 161h1.8v1.6h-1.8zM175 165h1.8v1.6h-1.8zM175 135h1.8v1.6h-1.8zM179 147h1.8v1.6h-1.8zM168.5 171.5h1.8v1.6h-1.8zM172 135h1.8v1.6h-1.8zM169.5 141.5h1.8v1.6h-1.8zM168.5 176.5h1.8v1.6h-1.8zM162 139h1.8v1.6h-1.8zM164.5 153.5h1.8v1.6h-1.8zM157.5 155.5h1.8v1.6h-1.8zM166 148.5h1.8v1.6h-1.8zM174 164h1.8v1.6h-1.8zM173.5 163h1.8v1.6h-1.8zM174.5 143h1.8v1.6h-1.8zM166.5 174.5h1.8v1.6h-1.8zM180.5 141.5h1.8v1.6h-1.8zM163.5 146h1.8v1.6h-1.8zM175 150h1.8v1.6h-1.8zM171.5 154.5h1.8v1.6h-1.8zM160.5 137.5h1.8v1.6h-1.8zM161 155h1.8v1.6h-1.8zM174.5 123h1.8v1.6h-1.8zM168 145h1.8v1.6h-1.8zM170 140h1.8v1.6h-1.8zM196.5 142h1.8v1.6h-1.8zM173 150h1.8v1.6h-1.8zM169 154h1.8v1.6h-1.8zM174.5 141.5h1.8v1.6h-1.8zM162 151.5h1.8v1.6h-1.8zM166 131.5h1.8v1.6h-1.8zM172 146h1.8v1.6h-1.8zM160 163h1.8v1.6h-1.8zM167.5 142h1.8v1.6h-1.8zM166 146.5h1.8v1.6h-1.8zM168.5 150.5h1.8v1.6h-1.8zM151.5 161h1.8v1.6h-1.8zM184 155.5h1.8v1.6h-1.8zM167 148.5h1.8v1.6h-1.8zM173 138h1.8v1.6h-1.8zM158 153.5h1.8v1.6h-1.8zM155.5 113.5h1.8v1.6h-1.8zM168 156h1.8v1.6h-1.8zM164.5 141h1.8v1.6h-1.8zM174 158.5h1.8v1.6h-1.8zM159 149.5h1.8v1.6h-1.8zM158.5 167.5h1.8v1.6h-1.8zM171 142.5h1.8v1.6h-1.8zM174 125h1.8v1.6h-1.8zM176.5 150.5h1.8v1.6h-1.8zM167.5 144h1.8v1.6h-1.8zM170 149h1.8v1.6h-1.8zM160.5 165.5h1.8v1.6h-1.8zM180 139h1.8v1.6h-1.8zM178.5 159h1.8v1.6h-1.8zM178 161.5h1.8v1.6h-1.8zM153 164h1.8v1.6h-1.8zM176 125h1.8v1.6h-1.8zM161 152.5h1.8v1.6h-1.8zM172.5 141.5h1.8v1.6h-1.8zM171.5 147.5h1.8v1.6h-1.8zM179 140h1.8v1.6h-1.8zM166 146h1.8v1.6h-1.8zM164.5 162.5h1.8v1.6h-1.8zM158.5 172.5h1.8v1.6h-1.8zM156.5 159.5h1.8v1.6h-1.8zM173 134.5h1.8v1.6h-1.8zM159 166.5h1.8v1.6h-1.8zM174 134.5h1.8v1.6h-1.8zM164 145.5h1.8v1.6h-1.8zM162.5 165h1.8v1.6h-1.8zM176.5 143h1.8v1.6h-1.8zM175.5 159.5h1.8v1.6h-1.8zM158.5 147h1.8v1.6h-1.8zM166 135.5h1.8v1.6h-1.8zM167.5 153h1.8v1.6h-1.8zM173.5 143.5h1.8v1.6h-1.8zM160.5 173h1.8v1.6h-1.8zM163.5 174h1.8v1.6h-1.8zM166.5 170.5h1.8v1.6h-1.8zM174 137.5h1.8v1.6h-1.8zM176 174.5h1.8v1.6h-1.8zM162.5 154.5h1.8v1.6h-1.8zM184 157h1.8v1.6h-1.8zM171.5 153h1.8v1.6h-1.8zM160 143.5h1.8v1.6h-1.8zM153 152h1.8v1.6h-1.8zM163 162h1.8v1.6h-1.8zM145.5 170.5h1.8v1.6h-1.8zM169 158h1.8v1.6h-1.8zM172.5 150.5h1.8v1.6h-1.8zM179.5 144.5h1.8v1.6h-1.8zM172 146.5h1.8v1.6h-1.8zM151.5 171.5h1.8v1.6h-1.8zM165 159.5h1.8v1.6h-1.8zM174 153.5h1.8v1.6h-1.8zM147.5 129.5h1.8v1.6h-1.8zM160 128h1.8v1.6h-1.8zM173.5 159h1.8v1.6h-1.8zM168 158.5h1.8v1.6h-1.8zM149 165h1.8v1.6h-1.8zM163 153h1.8v1.6h-1.8zM167.5 142h1.8v1.6h-1.8zM187 128.5h1.8v1.6h-1.8zM163.5 139h1.8v1.6h-1.8zM159 121h1.8v1.6h-1.8zM169.5 154.5h1.8v1.6h-1.8zM170.5 156.5h1.8v1.6h-1.8zM172.5 168h1.8v1.6h-1.8zM181 127h1.8v1.6h-1.8zM167 132.5h1.8v1.6h-1.8zM154.5 158.5h1.8v1.6h-1.8zM168 154.5h1.8v1.6h-1.8zM167.5 124.5h1.8v1.6h-1.8zM176.5 141.5h1.8v1.6h-1.8zM175.5 151.5h1.8v1.6h-1.8zM160.5 145.5h1.8v1.6h-1.8zM174.5 155h1.8v1.6h-1.8zM177 151h1.8v1.6h-1.8zM166 143h1.8v1.6h-1.8zM176.5 155.5h1.8v1.6h-1.8zM169 149.5h1.8v1.6h-1.8zM169 165.5h1.8v1.6h-1.8zM166 131.5h1.8v1.6h-1.8zM175 147.5h1.8v1.6h-1.8zM194 141.5h1.8v1.6h-1.8zM169.5 147h1.8v1.6h-1.8zM156.5 155.5h1.8v1.6h-1.8zM165.5 158.5h1.8v1.6h-1.8zM162 122.5h1.8v1.6h-1.8zM170.5 165.5h1.8v1.6h-1.8zM166 157.5h1.8v1.6h-1.8zM191 157h1.8v1.6h-1.8zM174.5 151h1.8v1.6h-1.8zM185 162.5h1.8v1.6h-1.8zM161 155.5h1.8v1.6h-1.8zM165.5 127h1.8v1.6h-1.8zM186.5 141.5h1.8v1.6h-1.8zM152 147h1.8v1.6h-1.8zM169 145.5h1.8v1.6h-1.8zM153 144.5h1.8v1.6h-1.8zM182 158h1.8v1.6h-1.8zM154.5 136h1.8v1.6h-1.8zM164.5 140.5h1.8v1.6h-1.8zM166 137.5h1.8v1.6h-1.8zM152 150h1.8v1.6h-1.8zM190.5 156h1.8v1.6h-1.8zM166 138.5h1.8v1.6h-1.8zM183 155.5h1.8v1.6h-1.8zM161 143h1.8v1.6h-1.8zM154 168.5h1.8v1.6h-1.8zM169.5 121.5h1.8v1.6h-1.8zM169 150h1.8v1.6h-1.8zM194.5 165h1.8v1.6h-1.8zM157.5 145.5h1.8v1.6h-1.8zM153 136h1.8v1.6h-1.8zM161 139h1.8v1.6h-1.8zM170.5 157.5h1.8v1.6h-1.8zM172.5 143h1.8v1.6h-1.8zM160.5 164h1.8v1.6h-1.8zM164 151h1.8v1.6h-1.8zM172.5 143h1.8v1.6h-1.8zM177.5 144.5h1.8v1.6h-1.8zM162 156.5h1.8v1.6h-1.8zM168.5 163.5h1.8v1.6h-1.8zM141.5 140h1.8v1.6h-1.8zM158.5 135h1.8v1.6h-1.8zM171.5 135.5h1.8v1.6h-1.8zM167.5 156.5h1.8v1.6h-1.8zM165.5 174h1.8v1.6h-1.8zM182.5 144h1.8v1.6h-1.8zM164.5 159.5h1.8v1.6h-1.8zM157 145.5h1.8v1.6h-1.8zM169.5 162.5h1.8v1.6h-1.8zM169.5 131.5h1.8v1.6h-1.8zM156.5 158.5h1.8v1.6h-1.8zM176.5 133.5h1.8v1.6h-1.8zM183 139.5h1.8v1.6h-1.8zM162 155h1.8v1.6h-1.8zM159 147.5h1.8v1.6h-1.8zM166.5 150h1.8v1.6h-1.8zM179 157.5h1.8v1.6h-1.8zM162 153h1.8v1.6h-1.8zM160.5 170h1.8v1.6h-1.8zM162 160.5h1.8v1.6h-1.8zM169.5 139.5h1.8v1.6h-1.8zM169.5 150h1.8v1.6h-1.8zM166 143.5h1.8v1.6h-1.8zM178.5 145.5h1.8v1.6h-1.8zM188.5 174h1.8v1.6h-1.8zM162 140.5h1.8v1.6h-1.8zM177 167.5h1.8v1.6h-1.8zM170 170.5h1.8v1.6h-1.8zM159 151h1.8v1.6h-1.8zM164 154h1.8v1.6h-1.8zM168.5 154.5h1.8v1.6h-1.8zM154 146h1.8v1.6h-1.8zM165.5 174h1.8v1.6h-1.8zM174 176.5h1.8v1.6h-1.8zM154 121h1.8v1.6h-1.8zM168.5 146.5h1.8v1.6h-1.8zM184 166.5h1.8v1.6h-1.8zM162 137.5h1.8v1.6h-1.8zM159 142h1.8v1.6h-1.8zM144 151h1.8v1.6h-1.8zM166.5 150.5h1.8v1.6h-1.8zM152 148.5h1.8v1.6h-1.8zM172.5 149h1.8v1.6h-1.8zM182.5 174.5h1.8v1.6h-1.8zM172.5 120.5h1.8v1.6h-1.8zM160 144h1.8v1.6h-1.8zM173.5 136h1.8v1.6h-1.8zM163 154h1.8v1.6h-1.8zM157 145h1.8v1.6h-1.8zM162.5 157h1.8v1.6h-1.8zM169.5 151h1.8v1.6h-1.8zM172.5 133.5h1.8v1.6h-1.8zM187.5 144.5h1.8v1.6h-1.8zM173 162h1.8v1.6h-1.8zM174.5 145.5h1.8v1.6h-1.8zM161 152.5h1.8v1.6h-1.8zM179.5 130.5h1.8v1.6h-1.8zM170.5 160h1.8v1.6h-1.8zM176.5 149h1.8v1.6h-1.8zM160 158h1.8v1.6h-1.8zM169.5 138.5h1.8v1.6h-1.8zM145.5 143.5h1.8v1.6h-1.8zM164 139.5h1.8v1.6h-1.8zM159.5 172.5h1.8v1.6h-1.8zM158 127.5h1.8v1.6h-1.8zM183.5 156h1.8v1.6h-1.8zM153 154h1.8v1.6h-1.8zM166 167h1.8v1.6h-1.8zM166 154h1.8v1.6h-1.8zM172 137h1.8v1.6h-1.8zM176.5 157h1.8v1.6h-1.8zM152.5 127.5h1.8v1.6h-1.8zM162 164.5h1.8v1.6h-1.8zM160.5 149h1.8v1.6h-1.8zM173.5 140.5h1.8v1.6h-1.8zM176 144h1.8v1.6h-1.8zM163.5 158h1.8v1.6h-1.8zM162 128.5h1.8v1.6h-1.8zM158 173h1.8v1.6h-1.8zM170.5 141h1.8v1.6h-1.8zM182.5 170.5h1.8v1.6h-1.8zM170.5 152.5h1.8v1.6h-1.8zM160.5 175.5h1.8v1.6h-1.8zM159.5 134.5h1.8v1.6h-1.8zM160.5 162h1.8v1.6h-1.8zM152 149.5h1.8v1.6h-1.8zM183.5 142h1.8v1.6h-1.8zM168 161.5h1.8v1.6h-1.8zM164 147.5h1.8v1.6h-1.8zM188 140.5h1.8v1.6h-1.8zM169 147.5h1.8v1.6h-1.8zM181 140h1.8v1.6h-1.8zM169.5 147.5h1.8v1.6h-1.8zM177.5 149.5h1.8v1.6h-1.8zM168 164.5h1.8v1.6h-1.8zM163.5 149h1.8v1.6h-1.8zM171 140h1.8v1.6h-1.8zM174 160.5h1.8v1.6h-1.8zM177.5 145.5h1.8v1.6h-1.8zM169 137.5h1.8v1.6h-1.8zM165 134.5h1.8v1.6h-1.8zM163.5 173.5h1.8v1.6h-1.8zM170 149h1.8v1.6h-1.8zM162.5 171.5h1.8v1.6h-1.8zM164 137.5h1.8v1.6h-1.8zM172 136h1.8v1.6h-1.8zM172.5 173h1.8v1.6h-1.8zM172 147h1.8v1.6h-1.8zM160 147.5h1.8v1.6h-1.8zM153.5 147h1.8v1.6h-1.8zM169.5 136.5h1.8v1.6h-1.8zM168 163.5h1.8v1.6h-1.8zM163.5 134h1.8v1.6h-1.8zM169 160h1.8v1.6h-1.8zM175 136h1.8v1.6h-1.8zM171 159.5h1.8v1.6h-1.8zM158 165h1.8v1.6h-1.8zM165 128h1.8v1.6h-1.8zM159.5 155h1.8v1.6h-1.8zM153.5 142h1.8v1.6h-1.8zM171 138.5h1.8v1.6h-1.8zM140.5 139h1.8v1.6h-1.8zM166.5 161h1.8v1.6h-1.8zM174.5 150.5h1.8v1.6h-1.8zM171 143.5h1.8v1.6h-1.8zM152.5 142h1.8v1.6h-1.8zM169.5 141.5h1.8v1.6h-1.8zM150 143h1.8v1.6h-1.8zM159 146.5h1.8v1.6h-1.8zM180.5 135h1.8v1.6h-1.8zM168.5 138h1.8v1.6h-1.8zM178 121h1.8v1.6h-1.8zM157 149.5h1.8v1.6h-1.8zM147.5 157.5h1.8v1.6h-1.8zM160 143.5h1.8v1.6h-1.8zM179 168.5h1.8v1.6h-1.8zM175.5 140h1.8v1.6h-1.8zM177 150.5h1.8v1.6h-1.8zM165.5 165.5h1.8v1.6h-1.8zM166 153.5h1.8v1.6h-1.8zM165 139.5h1.8v1.6h-1.8zM194 155h1.8v1.6h-1.8zM168 145h1.8v1.6h-1.8zM183.5 165h1.8v1.6h-1.8zM165.5 160.5h1.8v1.6h-1.8zM180 147.5h1.8v1.6h-1.8zM157 157h1.8v1.6h-1.8zM162.5 173h1.8v1.6h-1.8zM170.5 165h1.8v1.6h-1.8zM162 161.5h1.8v1.6h-1.8zM163.5 148h1.8v1.6h-1.8zM165.5 142.5h1.8v1.6h-1.8zM162 140.5h1.8v1.6h-1.8zM181.5 164h1.8v1.6h-1.8zM177.5 136h1.8v1.6h-1.8zM154 155.5h1.8v1.6h-1.8zM183 171.5h1.8v1.6h-1.8zM167 129.5h1.8v1.6h-1.8zM167 155h1.8v1.6h-1.8zM165.5 137h1.8v1.6h-1.8zM175.5 148.5h1.8v1.6h-1.8zM174 157h1.8v1.6h-1.8zM162.5 137.5h1.8v1.6h-1.8zM167.5 133h1.8v1.6h-1.8zM155 145h1.8v1.6h-1.8zM184.5 153h1.8v1.6h-1.8zM159.5 145h1.8v1.6h-1.8zM159 137.5h1.8v1.6h-1.8zM160.5 159.5h1.8v1.6h-1.8zM168.5 135.5h1.8v1.6h-1.8zM174 131.5h1.8v1.6h-1.8zM164 151.5h1.8v1.6h-1.8zM167.5 178.5h1.8v1.6h-1.8zM164 143.5h1.8v1.6h-1.8zM179.5 149h1.8v1.6h-1.8zM169.5 137h1.8v1.6h-1.8zM151.5 142.5h1.8v1.6h-1.8zM181 135.5h1.8v1.6h-1.8zM170.5 154h1.8v1.6h-1.8zM185 141.5h1.8v1.6h-1.8zM161.5 140h1.8v1.6h-1.8zM162.5 162.5h1.8v1.6h-1.8zM165.5 131h1.8v1.6h-1.8zM154 162.5h1.8v1.6h-1.8zM164 148h1.8v1.6h-1.8zM179 138.5h1.8v1.6h-1.8zM174 150h1.8v1.6h-1.8zM145 146.5h1.8v1.6h-1.8zM179.5 154.5h1.8v1.6h-1.8zM170.5 147.5h1.8v1.6h-1.8zM175 175h1.8v1.6h-1.8zM167.5 164h1.8v1.6h-1.8zM169 165h1.8v1.6h-1.8zM168 134.5h1.8v1.6h-1.8zM168 146h1.8v1.6h-1.8zM157.5 166h1.8v1.6h-1.8zM177 158.5h1.8v1.6h-1.8zM169.5 150.5h1.8v1.6h-1.8zM171 149.5h1.8v1.6h-1.8zM170.5 164h1.8v1.6h-1.8zM164.5 125.5h1.8v1.6h-1.8zM167 139h1.8v1.6h-1.8zM155 132.5h1.8v1.6h-1.8zM170 165.5h1.8v1.6h-1.8zM170 132.5h1.8v1.6h-1.8zM165 147h1.8v1.6h-1.8zM151.5 168.5h1.8v1.6h-1.8zM180 146.5h1.8v1.6h-1.8zM165.5 154.5h1.8v1.6h-1.8zM167 151h1.8v1.6h-1.8zM164.5 159.5h1.8v1.6h-1.8zM162 179.5h1.8v1.6h-1.8zM163.5 135h1.8v1.6h-1.8zM157 150h1.8v1.6h-1.8zM162 172.5h1.8v1.6h-1.8zM178.5 148h1.8v1.6h-1.8zM186 169h1.8v1.6h-1.8zM161.5 159.5h1.8v1.6h-1.8zM149.5 159h1.8v1.6h-1.8zM154.5 132h1.8v1.6h-1.8zM143 129.5h1.8v1.6h-1.8zM177.5 152.5h1.8v1.6h-1.8zM179 149h1.8v1.6h-1.8zM168.5 149.5h1.8v1.6h-1.8zM171 135h1.8v1.6h-1.8zM171 169.5h1.8v1.6h-1.8zM166.5 148.5h1.8v1.6h-1.8zM158 147.5h1.8v1.6h-1.8zM163 155.5h1.8v1.6h-1.8zM166 160.5h1.8v1.6h-1.8zM151.5 146h1.8v1.6h-1.8zM158 137.5h1.8v1.6h-1.8zM171.5 143.5h1.8v1.6h-1.8zM170.5 151h1.8v1.6h-1.8zM144.5 144h1.8v1.6h-1.8zM176 177h1.8v1.6h-1.8zM170.5 144h1.8v1.6h-1.8zM174.5 161h1.8v1.6h-1.8zM166.5 161.5h1.8v1.6h-1.8zM173 153.5h1.8v1.6h-1.8zM155.5 136.5h1.8v1.6h-1.8zM165.5 157.5h1.8v1.6h-1.8zM157.5 163.5h1.8v1.6h-1.8zM162.5 153h1.8v1.6h-1.8zM178.5 151h1.8v1.6h-1.8zM182.5 122.5h1.8v1.6h-1.8zM167.5 136.5h1.8v1.6h-1.8zM163 148.5h1.8v1.6h-1.8zM174.5 153.5h1.8v1.6h-1.8zM171.5 161h1.8v1.6h-1.8zM185 147h1.8v1.6h-1.8zM173 153h1.8v1.6h-1.8zM145.5 137.5h1.8v1.6h-1.8zM168 159h1.8v1.6h-1.8zM164.5 160.5h1.8v1.6h-1.8zM160 149.5h1.8v1.6h-1.8zM168.5 163.5h1.8v1.6h-1.8zM168 147h1.8v1.6h-1.8zM164 144.5h1.8v1.6h-1.8zM181.5 147h1.8v1.6h-1.8zM171 177h1.8v1.6h-1.8zM171 129.5h1.8v1.6h-1.8zM169 153.5h1.8v1.6h-1.8zM178.5 146.5h1.8v1.6h-1.8zM157 152.5h1.8v1.6h-1.8zM178.5 131.5h1.8v1.6h-1.8zM165 160.5h1.8v1.6h-1.8zM181 159.5h1.8v1.6h-1.8zM180.5 147.5h1.8v1.6h-1.8zM172 145.5h1.8v1.6h-1.8zM163 152h1.8v1.6h-1.8zM170 163.5h1.8v1.6h-1.8zM170.5 131h1.8v1.6h-1.8zM154 169.5h1.8v1.6h-1.8zM164.5 147h1.8v1.6h-1.8zM161 162h1.8v1.6h-1.8zM180 140h1.8v1.6h-1.8zM183 177h1.8v1.6h-1.8zM160.5 154.5h1.8v1.6h-1.8zM162.5 174.5h1.8v1.6h-1.8zM155 143h1.8v1.6h-1.8zM170 143h1.8v1.6h-1.8zM175 166h1.8v1.6h-1.8zM184 160.5h1.8v1.6h-1.8zM155.5 156h1.8v1.6h-1.8zM176 167.5h1.8v1.6h-1.8zM166 157h1.8v1.6h-1.8zM160.5 147h1.8v1.6h-1.8zM164 126.5h1.8v1.6h-1.8zM160 121.5h1.8v1.6h-1.8zM171.5 160h1.8v1.6h-1.8zM167.5 159h1.8v1.6h-1.8zM178.5 139.5h1.8v1.6h-1.8zM162.5 158.5h1.8v1.6h-1.8zM150 149h1.8v1.6h-1.8zM158 152h1.8v1.6h-1.8zM170.5 164.5h1.8v1.6h-1.8zM153.5 131h1.8v1.6h-1.8zM160.5 156.5h1.8v1.6h-1.8zM172 158.5h1.8v1.6h-1.8zM154.5 149h1.8v1.6h-1.8zM175 154h1.8v1.6h-1.8zM170.5 136.5h1.8v1.6h-1.8zM162 153.5h1.8v1.6h-1.8zM167 160h1.8v1.6h-1.8zM162.5 162h1.8v1.6h-1.8zM163.5 142.5h1.8v1.6h-1.8zM164 162h1.8v1.6h-1.8zM167.5 155.5h1.8v1.6h-1.8zM166.5 160.5h1.8v1.6h-1.8zM160.5 151h1.8v1.6h-1.8zM158 160h1.8v1.6h-1.8zM186.5 154.5h1.8v1.6h-1.8zM166 147.5h1.8v1.6h-1.8zM178.5 166.5h1.8v1.6h-1.8zM176.5 151.5h1.8v1.6h-1.8zM160.5 132h1.8v1.6h-1.8zM186 158h1.8v1.6h-1.8zM183.5 167.5h1.8v1.6h-1.8zM164.5 161.5h1.8v1.6h-1.8zM156 162h1.8v1.6h-1.8zM173 141h1.8v1.6h-1.8zM165.5 155.5h1.8v1.6h-1.8zM164.5 133.5h1.8v1.6h-1.8zM159.5 175h1.8v1.6h-1.8zM161.5 172h1.8v1.6h-1.8zM168.5 138h1.8v1.6h-1.8zM175.5 146.5h1.8v1.6h-1.8zM148 135.5h1.8v1.6h-1.8zM145 141.5h1.8v1.6h-1.8zM176 145.5h1.8v1.6h-1.8zM159.5 136h1.8v1.6h-1.8zM173.5 145.5h1.8v1.6h-1.8zM168 160h1.8v1.6h-1.8zM179 148h1.8v1.6h-1.8zM175.5 161h1.8v1.6h-1.8zM164.5 149.5h1.8v1.6h-1.8zM165.5 153h1.8v1.6h-1.8zM170 135h1.8v1.6h-1.8zM174 163.5h1.8v1.6h-1.8zM161.5 136.5h1.8v1.6h-1.8zM153 146.5h1.8v1.6h-1.8zM168 134.5h1.8v1.6h-1.8zM167 158h1.8v1.6h-1.8zM166 137.5h1.8v1.6h-1.8zM158 159h1.8v1.6h-1.8zM173 177h1.8v1.6h-1.8zM151 156h1.8v1.6h-1.8zM162.5 122h1.8v1.6h-1.8zM179 164.5h1.8v1.6h-1.8zM157 154h1.8v1.6h-1.8zM171 159.5h1.8v1.6h-1.8zM171.5 157h1.8v1.6h-1.8zM171 167h1.8v1.6h-1.8zM151.5 165h1.8v1.6h-1.8zM176.5 151h1.8v1.6h-1.8zM168.5 135.5h1.8v1.6h-1.8zM172 150.5h1.8v1.6h-1.8zM170 162h1.8v1.6h-1.8zM168 127h1.8v1.6h-1.8zM178.5 153.5h1.8v1.6h-1.8zM180.5 128h1.8v1.6h-1.8zM150 166.5h1.8v1.6h-1.8zM160 176h1.8v1.6h-1.8zM165.5 163.5h1.8v1.6h-1.8zM147 146h1.8v1.6h-1.8zM181 162h1.8v1.6h-1.8zM160 169.5h1.8v1.6h-1.8zM172.5 174h1.8v1.6h-1.8zM169.5 170.5h1.8v1.6h-1.8zM165.5 166h1.8v1.6h-1.8zM158 139h1.8v1.6h-1.8zM164 150.5h1.8v1.6h-1.8zM168 158h1.8v1.6h-1.8zM174.5 152.5h1.8v1.6h-1.8zM165.5 126h1.8v1.6h-1.8zM163.5 149.5h1.8v1.6h-1.8zM165 142.5h1.8v1.6h-1.8zM179.5 154.5h1.8v1.6h-1.8zM170 156.5h1.8v1.6h-1.8zM161 133h1.8v1.6h-1.8zM155.5 142h1.8v1.6h-1.8zM163.5 154h1.8v1.6h-1.8zM159 138h1.8v1.6h-1.8zM163.5 151.5h1.8v1.6h-1.8zM180 140.5h1.8v1.6h-1.8zM173.5 142.5h1.8v1.6h-1.8zM169.5 163h1.8v1.6h-1.8zM171 150h1.8v1.6h-1.8zM183.5 144.5h1.8v1.6h-1.8zM157 172h1.8v1.6h-1.8zM171.5 147.5h1.8v1.6h-1.8zM165.5 151h1.8v1.6h-1.8zM168.5 152h1.8v1.6h-1.8zM164.5 160h1.8v1.6h-1.8zM172.5 163h1.8v1.6h-1.8zM147.5 146.5h1.8v1.6h-1.8zM170 162.5h1.8v1.6h-1.8zM173.5 166.5h1.8v1.6h-1.8zM158.5 136h1.8v1.6h-1.8zM158.5 157.5h1.8v1.6h-1.8zM185 173.5h1.8v1.6h-1.8zM159 175.5h1.8v1.6h-1.8zM164 155h1.8v1.6h-1.8zM161.5 142.5h1.8v1.6h-1.8zM161 165.5h1.8v1.6h-1.8zM148 159h1.8v1.6h-1.8zM189.5 138h1.8v1.6h-1.8zM160.5 165h1.8v1.6h-1.8zM171 135h1.8v1.6h-1.8zM166.5 143h1.8v1.6h-1.8zM180 150.5h1.8v1.6h-1.8zM173.5 136h1.8v1.6h-1.8zM178 167.5h1.8v1.6h-1.8zM178 146h1.8v1.6h-1.8zM175 135.5h1.8v1.6h-1.8zM167.5 155.5h1.8v1.6h-1.8zM175.5 152h1.8v1.6h-1.8zM152.5 137.5h1.8v1.6h-1.8zM175.5 144.5h1.8v1.6h-1.8zM174 163.5h1.8v1.6h-1.8zM170 163h1.8v1.6h-1.8zM155 131h1.8v1.6h-1.8zM179.5 164.5h1.8v1.6h-1.8zM161 165h1.8v1.6h-1.8zM173 167h1.8v1.6h-1.8zM150 145.5h1.8v1.6h-1.8zM165.5 142h1.8v1.6h-1.8zM161.5 151h1.8v1.6h-1.8zM160 143.5h1.8v1.6h-1.8zM161 148.5h1.8v1.6h-1.8zM183.5 144h1.8v1.6h-1.8zM167 148.5h1.8v1.6h-1.8zM170.5 145.5h1.8v1.6h-1.8zM187 152.5h1.8v1.6h-1.8zM154 154h1.8v1.6h-1.8zM181.5 148.5h1.8v1.6h-1.8zM164 145h1.8v1.6h-1.8zM161.5 173h1.8v1.6h-1.8zM163.5 164.5h1.8v1.6h-1.8zM150.5 158.5h1.8v1.6h-1.8zM153 140.5h1.8v1.6h-1.8zM157 160.5h1.8v1.6h-1.8zM162 150h1.8v1.6h-1.8zM174 160h1.8v1.6h-1.8zM177.5 155h1.8v1.6h-1.8zM170.5 152.5h1.8v1.6h-1.8zM171.5 138.5h1.8v1.6h-1.8zM165 166h1.8v1.6h-1.8zM169.5 167h1.8v1.6h-1.8zM162 169.5h1.8v1.6h-1.8zM172.5 117.5h1.8v1.6h-1.8zM165 139.5h1.8v1.6h-1.8zM167.5 141h1.8v1.6h-1.8zM169.5 130h1.8v1.6h-1.8zM168.5 153.5h1.8v1.6h-1.8zM160.5 160.5h1.8v1.6h-1.8zM154.5 166h1.8v1.6h-1.8zM166.5 163.5h1.8v1.6h-1.8zM162 152h1.8v1.6h-1.8zM162.5 172h1.8v1.6h-1.8zM166 155h1.8v1.6h-1.8zM160.5 114.5h1.8v1.6h-1.8zM171.5 147h1.8v1.6h-1.8zM171 141.5h1.8v1.6h-1.8zM159 156h1.8v1.6h-1.8zM170.5 145.5h1.8v1.6h-1.8zM158.5 147h1.8v1.6h-1.8zM174 169.5h1.8v1.6h-1.8zM173 141h1.8v1.6h-1.8zM167 133h1.8v1.6h-1.8zM175.5 154h1.8v1.6h-1.8zM176.5 159.5h1.8v1.6h-1.8zM171.5 149.5h1.8v1.6h-1.8zM150 151h1.8v1.6h-1.8zM168.5 143h1.8v1.6h-1.8zM169 133.5h1.8v1.6h-1.8zM174.5 140.5h1.8v1.6h-1.8zM158 136.5h1.8v1.6h-1.8zM173.5 167h1.8v1.6h-1.8zM170.5 147.5h1.8v1.6h-1.8zM171 169.5h1.8v1.6h-1.8zM155.5 149h1.8v1.6h-1.8zM159 138.5h1.8v1.6h-1.8zM177.5 153h1.8v1.6h-1.8zM175 153.5h1.8v1.6h-1.8zM166.5 168h1.8v1.6h-1.8zM177 124h1.8v1.6h-1.8zM169.5 145h1.8v1.6h-1.8zM163 156h1.8v1.6h-1.8zM152.5 140.5h1.8v1.6h-1.8zM176.5 152h1.8v1.6h-1.8zM166 146.5h1.8v1.6h-1.8zM169 169.5h1.8v1.6h-1.8zM150.5 167.5h1.8v1.6h-1.8zM162 123.5h1.8v1.6h-1.8zM170 130h1.8v1.6h-1.8zM165 140h1.8v1.6h-1.8zM160 149.5h1.8v1.6h-1.8zM157 148.5h1.8v1.6h-1.8zM169 144h1.8v1.6h-1.8zM163.5 158.5h1.8v1.6h-1.8zM164 162h1.8v1.6h-1.8zM164.5 152h1.8v1.6h-1.8zM161 147h1.8v1.6h-1.8zM164 151h1.8v1.6h-1.8zM161.5 140h1.8v1.6h-1.8zM167.5 161.5h1.8v1.6h-1.8zM154.5 162h1.8v1.6h-1.8zM157 138.5h1.8v1.6h-1.8zM167 170h1.8v1.6h-1.8zM165.5 150h1.8v1.6h-1.8zM168.5 161.5h1.8v1.6h-1.8zM185.5 151h1.8v1.6h-1.8zM174 148.5h1.8v1.6h-1.8zM177.5 160h1.8v1.6h-1.8zM171 138h1.8v1.6h-1.8zM166 147.5h1.8v1.6h-1.8zM159.5 135h1.8v1.6h-1.8zM150 157.5h1.8v1.6h-1.8zM154 148h1.8v1.6h-1.8zM145.5 146.5h1.8v1.6h-1.8zM156.5 144h1.8v1.6h-1.8zM152.5 159.5h1.8v1.6h-1.8zM158 154.5h1.8v1.6h-1.8zM167 148h1.8v1.6h-1.8zM163 144.5h1.8v1.6h-1.8zM175 174.5h1.8v1.6h-1.8zM175.5 170.5h1.8v1.6h-1.8zM176.5 136h1.8v1.6h-1.8zM175 167h1.8v1.6h-1.8zM169.5 158h1.8v1.6h-1.8zM162 155h1.8v1.6h-1.8zM171 156.5h1.8v1.6h-1.8zM164.5 133h1.8v1.6h-1.8zM170.5 178h1.8v1.6h-1.8zM157 151.5h1.8v1.6h-1.8zM152 151h1.8v1.6h-1.8zM170 153h1.8v1.6h-1.8zM183.5 142h1.8v1.6h-1.8zM177.5 158h1.8v1.6h-1.8zM201.5 150.5h1.8v1.6h-1.8zM154 136.5h1.8v1.6h-1.8zM161 144.5h1.8v1.6h-1.8zM146 142h1.8v1.6h-1.8zM159 143h1.8v1.6h-1.8zM184.5 146.5h1.8v1.6h-1.8zM182 159h1.8v1.6h-1.8zM157.5 145h1.8v1.6h-1.8zM164 129h1.8v1.6h-1.8zM159.5 169.5h1.8v1.6h-1.8zM154.5 143h1.8v1.6h-1.8zM164.5 169.5h1.8v1.6h-1.8zM164 154h1.8v1.6h-1.8zM168 158h1.8v1.6h-1.8zM169.5 139.5h1.8v1.6h-1.8zM173.5 152h1.8v1.6h-1.8zM179.5 145.5h1.8v1.6h-1.8zM166.5 150h1.8v1.6h-1.8zM165 157h1.8v1.6h-1.8zM167 145.5h1.8v1.6h-1.8zM171 161.5h1.8v1.6h-1.8zM166 132h1.8v1.6h-1.8zM158 136.5h1.8v1.6h-1.8zM162 156.5h1.8v1.6h-1.8zM174 157.5h1.8v1.6h-1.8zM157.5 164.5h1.8v1.6h-1.8zM174.5 172h1.8v1.6h-1.8zM154 156.5h1.8v1.6h-1.8zM172.5 160.5h1.8v1.6h-1.8zM172.5 154h1.8v1.6h-1.8zM165 153h1.8v1.6h-1.8zM167 149.5h1.8v1.6h-1.8zM165 152.5h1.8v1.6h-1.8zM182.5 143.5h1.8v1.6h-1.8zM163 149h1.8v1.6h-1.8zM160.5 161.5h1.8v1.6h-1.8zM170.5 157.5h1.8v1.6h-1.8zM177 166h1.8v1.6h-1.8zM170 144.5h1.8v1.6h-1.8zM165.5 146h1.8v1.6h-1.8zM176.5 156.5h1.8v1.6h-1.8zM160 139.5h1.8v1.6h-1.8zM160 139h1.8v1.6h-1.8zM155.5 159h1.8v1.6h-1.8zM178 147h1.8v1.6h-1.8zM146.5 162h1.8v1.6h-1.8zM155 152h1.8v1.6h-1.8zM169.5 145h1.8v1.6h-1.8zM170.5 137h1.8v1.6h-1.8zM183 166.5h1.8v1.6h-1.8zM171 149.5h1.8v1.6h-1.8zM162.5 139h1.8v1.6h-1.8zM179.5 131h1.8v1.6h-1.8zM177 134h1.8v1.6h-1.8zM159 149.5h1.8v1.6h-1.8zM180.5 132h1.8v1.6h-1.8zM152.5 115.5h1.8v1.6h-1.8zM168 153.5h1.8v1.6h-1.8zM167 167h1.8v1.6h-1.8zM120.5 139h1.8v1.6h-1.8zM147.5 156.5h1.8v1.6h-1.8zM174.5 138.5h1.8v1.6h-1.8zM137 145h1.8v1.6h-1.8zM178.5 137.5h1.8v1.6h-1.8zM164 161.5h1.8v1.6h-1.8zM142 131.5h1.8v1.6h-1.8zM188.5 149.5h1.8v1.6h-1.8zM162 162.5h1.8v1.6h-1.8zM184.5 147h1.8v1.6h-1.8zM166.5 126.5h1.8v1.6h-1.8zM154 154h1.8v1.6h-1.8zM178.5 144h1.8v1.6h-1.8zM187.5 125.5h1.8v1.6h-1.8zM180.5 144h1.8v1.6h-1.8zM148 142.5h1.8v1.6h-1.8zM172 157.5h1.8v1.6h-1.8zM148 139h1.8v1.6h-1.8zM156 149h1.8v1.6h-1.8zM181.5 157.5h1.8v1.6h-1.8zM145 115h1.8v1.6h-1.8zM196.5 164h1.8v1.6h-1.8zM143.5 147.5h1.8v1.6h-1.8zM146.5 130.5h1.8v1.6h-1.8zM173.5 149.5h1.8v1.6h-1.8zM161 164.5h1.8v1.6h-1.8zM161.5 135.5h1.8v1.6h-1.8zM151.5 138h1.8v1.6h-1.8zM173 170.5h1.8v1.6h-1.8zM166.5 173.5h1.8v1.6h-1.8zM153 148h1.8v1.6h-1.8zM144 131h1.8v1.6h-1.8zM163.5 131h1.8v1.6h-1.8zM134.5 141.5h1.8v1.6h-1.8zM155 130.5h1.8v1.6h-1.8zM172 154.5h1.8v1.6h-1.8zM172.5 168.5h1.8v1.6h-1.8zM158 129h1.8v1.6h-1.8zM129.5 172h1.8v1.6h-1.8zM171 132h1.8v1.6h-1.8zM175 135.5h1.8v1.6h-1.8zM164.5 124h1.8v1.6h-1.8zM180.5 159.5h1.8v1.6h-1.8zM177 146h1.8v1.6h-1.8zM141.5 147.5h1.8v1.6h-1.8zM160.5 98.5h1.8v1.6h-1.8zM157 137h1.8v1.6h-1.8zM184.5 152.5h1.8v1.6h-1.8zM178 100.5h1.8v1.6h-1.8zM165 180.5h1.8v1.6h-1.8zM171 152.5h1.8v1.6h-1.8zM175.5 165.5h1.8v1.6h-1.8zM154.5 142h1.8v1.6h-1.8zM161.5 162.5h1.8v1.6h-1.8zM162.5 169h1.8v1.6h-1.8zM159.5 130h1.8v1.6h-1.8zM146.5 129.5h1.8v1.6h-1.8zM148.5 150.5h1.8v1.6h-1.8zM174 141.5h1.8v1.6h-1.8zM184 145h1.8v1.6h-1.8zM188.5 115.5h1.8v1.6h-1.8zM140.5 143h1.8v1.6h-1.8zM168.5 128h1.8v1.6h-1.8zM152.5 144.5h1.8v1.6h-1.8zM156.5 152.5h1.8v1.6h-1.8zM160.5 149h1.8v1.6h-1.8zM169 146.5h1.8v1.6h-1.8zM171 172h1.8v1.6h-1.8zM131.5 154h1.8v1.6h-1.8zM155.5 158.5h1.8v1.6h-1.8zM178 171h1.8v1.6h-1.8zM165 147.5h1.8v1.6h-1.8zM142 150h1.8v1.6h-1.8zM150.5 160h1.8v1.6h-1.8zM153 144h1.8v1.6h-1.8zM177 169.5h1.8v1.6h-1.8zM186.5 137.5h1.8v1.6h-1.8zM149 145h1.8v1.6h-1.8zM170 146h1.8v1.6h-1.8zM159.5 143h1.8v1.6h-1.8zM171 148h1.8v1.6h-1.8zM160 140.5h1.8v1.6h-1.8zM148.5 108h1.8v1.6h-1.8zM154.5 168h1.8v1.6h-1.8zM154.5 141h1.8v1.6h-1.8zM182.5 160.5h1.8v1.6h-1.8zM153 130h1.8v1.6h-1.8zM170.5 158h1.8v1.6h-1.8zM152 126h1.8v1.6h-1.8zM154.5 172.5h1.8v1.6h-1.8zM166 146h1.8v1.6h-1.8zM155.5 140.5h1.8v1.6h-1.8zM189 99.5h1.8v1.6h-1.8zM180.5 109.5h1.8v1.6h-1.8zM148 139h1.8v1.6h-1.8zM170 137h1.8v1.6h-1.8zM183 137h1.8v1.6h-1.8zM147 138.5h1.8v1.6h-1.8zM158 163.5h1.8v1.6h-1.8zM183 140.5h1.8v1.6h-1.8zM152 140.5h1.8v1.6h-1.8zM171.5 134.5h1.8v1.6h-1.8zM162 129h1.8v1.6h-1.8zM165.5 153.5h1.8v1.6h-1.8zM149.5 140h1.8v1.6h-1.8zM162 140.5h1.8v1.6h-1.8zM157.5 152h1.8v1.6h-1.8zM186.5 148h1.8v1.6h-1.8zM171.5 160.5h1.8v1.6h-1.8zM164.5 159.5h1.8v1.6h-1.8zM163 125.5h1.8v1.6h-1.8zM172 134h1.8v1.6h-1.8zM142 163.5h1.8v1.6h-1.8zM150 140.5h1.8v1.6h-1.8zM151 158h1.8v1.6h-1.8zM152.5 132.5h1.8v1.6h-1.8zM141.5 106h1.8v1.6h-1.8zM170 110h1.8v1.6h-1.8zM157 135.5h1.8v1.6h-1.8zM179.5 140h1.8v1.6h-1.8zM158 160h1.8v1.6h-1.8zM169 159.5h1.8v1.6h-1.8zM169 163h1.8v1.6h-1.8zM159 120.5h1.8v1.6h-1.8zM170.5 148.5h1.8v1.6h-1.8zM179.5 146h1.8v1.6h-1.8zM180 136h1.8v1.6h-1.8zM160.5 123h1.8v1.6h-1.8zM174.5 149h1.8v1.6h-1.8zM162.5 144.5h1.8v1.6h-1.8zM158 149.5h1.8v1.6h-1.8zM167 152h1.8v1.6h-1.8zM148 150.5h1.8v1.6h-1.8zM142 137h1.8v1.6h-1.8zM162.5 140.5h1.8v1.6h-1.8zM148 137.5h1.8v1.6h-1.8zM191 156.5h1.8v1.6h-1.8zM168.5 131h1.8v1.6h-1.8zM153.5 119h1.8v1.6h-1.8zM170 163.5h1.8v1.6h-1.8zM170 151.5h1.8v1.6h-1.8zM158 171h1.8v1.6h-1.8zM160 166.5h1.8v1.6h-1.8zM138.5 153h1.8v1.6h-1.8zM166 136.5h1.8v1.6h-1.8zM178 150.5h1.8v1.6h-1.8zM155.5 161.5h1.8v1.6h-1.8zM149 165.5h1.8v1.6h-1.8zM174.5 160.5h1.8v1.6h-1.8zM167 158h1.8v1.6h-1.8zM160.5 147h1.8v1.6h-1.8zM175.5 135.5h1.8v1.6h-1.8zM171.5 125h1.8v1.6h-1.8zM157 156h1.8v1.6h-1.8zM161.5 139.5h1.8v1.6h-1.8zM141 167.5h1.8v1.6h-1.8zM147.5 148h1.8v1.6h-1.8zM170.5 171h1.8v1.6h-1.8zM157 152.5h1.8v1.6h-1.8zM151.5 137.5h1.8v1.6h-1.8zM166.5 145.5h1.8v1.6h-1.8zM179.5 162.5h1.8v1.6h-1.8zM152 140.5h1.8v1.6h-1.8zM159 136.5h1.8v1.6h-1.8zM159.5 147.5h1.8v1.6h-1.8zM195 156h1.8v1.6h-1.8zM176.5 171.5h1.8v1.6h-1.8zM166.5 158h1.8v1.6h-1.8zM144.5 165h1.8v1.6h-1.8zM173 147.5h1.8v1.6h-1.8zM153 139.5h1.8v1.6h-1.8zM157 154.5h1.8v1.6h-1.8zM141.5 148.5h1.8v1.6h-1.8zM158 156h1.8v1.6h-1.8zM157 145h1.8v1.6h-1.8zM151 138.5h1.8v1.6h-1.8zM159 128.5h1.8v1.6h-1.8zM142 142h1.8v1.6h-1.8zM178 150.5h1.8v1.6h-1.8zM161 168h1.8v1.6h-1.8zM147.5 160h1.8v1.6h-1.8zM173 143.5h1.8v1.6h-1.8zM170.5 139h1.8v1.6h-1.8zM156.5 125h1.8v1.6h-1.8zM145.5 162h1.8v1.6h-1.8zM162 152h1.8v1.6h-1.8zM169 160.5h1.8v1.6h-1.8zM171.5 163h1.8v1.6h-1.8zM175 159.5h1.8v1.6h-1.8zM174 148.5h1.8v1.6h-1.8zM143.5 145h1.8v1.6h-1.8zM164.5 133h1.8v1.6h-1.8zM138.5 139h1.8v1.6h-1.8zM175.5 157h1.8v1.6h-1.8zM175.5 143h1.8v1.6h-1.8zM163.5 153.5h1.8v1.6h-1.8zM155.5 151.5h1.8v1.6h-1.8zM126.5 144h1.8v1.6h-1.8zM160 150h1.8v1.6h-1.8zM196.5 145.5h1.8v1.6h-1.8zM179.5 117h1.8v1.6h-1.8zM160 163.5h1.8v1.6h-1.8zM167 119h1.8v1.6h-1.8zM169 139.5h1.8v1.6h-1.8zM155.5 141.5h1.8v1.6h-1.8zM163 156h1.8v1.6h-1.8zM167.5 145h1.8v1.6h-1.8zM156.5 140.5h1.8v1.6h-1.8zM169 133.5h1.8v1.6h-1.8zM179 152h1.8v1.6h-1.8zM174 142h1.8v1.6h-1.8zM166.5 135.5h1.8v1.6h-1.8zM161 125h1.8v1.6h-1.8zM172.5 133h1.8v1.6h-1.8zM156 150h1.8v1.6h-1.8zM155 121h1.8v1.6h-1.8zM180 149.5h1.8v1.6h-1.8zM158.5 148.5h1.8v1.6h-1.8zM145.5 166.5h1.8v1.6h-1.8zM174.5 135.5h1.8v1.6h-1.8zM172.5 130.5h1.8v1.6h-1.8zM178 145h1.8v1.6h-1.8zM162 140h1.8v1.6h-1.8zM178 102.5h1.8v1.6h-1.8zM161.5 166.5h1.8v1.6h-1.8zM150 150.5h1.8v1.6h-1.8zM161 148.5h1.8v1.6h-1.8zM166.5 132.5h1.8v1.6h-1.8zM149 152.5h1.8v1.6h-1.8zM161 141.5h1.8v1.6h-1.8zM166.5 173h1.8v1.6h-1.8zM158 158h1.8v1.6h-1.8zM164.5 170.5h1.8v1.6h-1.8zM163 125.5h1.8v1.6h-1.8zM153 131.5h1.8v1.6h-1.8zM168 139.5h1.8v1.6h-1.8zM171 136h1.8v1.6h-1.8zM137.5 173.5h1.8v1.6h-1.8zM154.5 152.5h1.8v1.6h-1.8zM174 128.5h1.8v1.6h-1.8zM169.5 142h1.8v1.6h-1.8zM139 177.5h1.8v1.6h-1.8zM166.5 141h1.8v1.6h-1.8zM182 156.5h1.8v1.6h-1.8zM175 117.5h1.8v1.6h-1.8zM174 137h1.8v1.6h-1.8zM162.5 143.5h1.8v1.6h-1.8zM165 142h1.8v1.6h-1.8zM149 146.5h1.8v1.6h-1.8zM164 152.5h1.8v1.6h-1.8zM194 165.5h1.8v1.6h-1.8zM163.5 117h1.8v1.6h-1.8zM152 147.5h1.8v1.6h-1.8zM171 158.5h1.8v1.6h-1.8zM137.5 150.5h1.8v1.6h-1.8zM193.5 165.5h1.8v1.6h-1.8zM172 144h1.8v1.6h-1.8zM160.5 139h1.8v1.6h-1.8zM159.5 132.5h1.8v1.6h-1.8zM152.5 161.5h1.8v1.6h-1.8zM165.5 124.5h1.8v1.6h-1.8zM164.5 139h1.8v1.6h-1.8zM144 145.5h1.8v1.6h-1.8zM177 156.5h1.8v1.6h-1.8zM159.5 141.5h1.8v1.6h-1.8zM150 130.5h1.8v1.6h-1.8zM176.5 156h1.8v1.6h-1.8zM174 127h1.8v1.6h-1.8zM157 134h1.8v1.6h-1.8zM156 112h1.8v1.6h-1.8zM178.5 149h1.8v1.6h-1.8zM159 148h1.8v1.6h-1.8zM167 116.5h1.8v1.6h-1.8zM182 142h1.8v1.6h-1.8zM148.5 155h1.8v1.6h-1.8zM145 134.5h1.8v1.6h-1.8zM153.5 117.5h1.8v1.6h-1.8zM157 144h1.8v1.6h-1.8zM165 156h1.8v1.6h-1.8zM177 114h1.8v1.6h-1.8zM159 160h1.8v1.6h-1.8zM186.5 144.5h1.8v1.6h-1.8zM167.5 161h1.8v1.6h-1.8zM139 128h1.8v1.6h-1.8zM164 161h1.8v1.6h-1.8zM174 151h1.8v1.6h-1.8zM179 158.5h1.8v1.6h-1.8zM155.5 146.5h1.8v1.6h-1.8zM163.5 162h1.8v1.6h-1.8zM194 142.5h1.8v1.6h-1.8zM166.5 138h1.8v1.6h-1.8zM153 128h1.8v1.6h-1.8zM145 119h1.8v1.6h-1.8zM159 146.5h1.8v1.6h-1.8zM169.5 140h1.8v1.6h-1.8zM150.5 143.5h1.8v1.6h-1.8zM182.5 140.5h1.8v1.6h-1.8zM155 151.5h1.8v1.6h-1.8zM140 146h1.8v1.6h-1.8zM173.5 135.5h1.8v1.6h-1.8zM165.5 158h1.8v1.6h-1.8zM181.5 130.5h1.8v1.6h-1.8zM157 138h1.8v1.6h-1.8zM174 155h1.8v1.6h-1.8zM158 133.5h1.8v1.6h-1.8zM186.5 163h1.8v1.6h-1.8zM165 134h1.8v1.6h-1.8zM165.5 125.5h1.8v1.6h-1.8zM173 130h1.8v1.6h-1.8zM164 163.5h1.8v1.6h-1.8zM171 112h1.8v1.6h-1.8zM162 148h1.8v1.6h-1.8zM173 110h1.8v1.6h-1.8zM166 158.5h1.8v1.6h-1.8zM158 153h1.8v1.6h-1.8zM172.5 157.5h1.8v1.6h-1.8zM151.5 145.5h1.8v1.6h-1.8zM161 166.5h1.8v1.6h-1.8zM143.5 157h1.8v1.6h-1.8zM166.5 165h1.8v1.6h-1.8zM176 135h1.8v1.6h-1.8zM196.5 166.5h1.8v1.6h-1.8zM169 142.5h1.8v1.6h-1.8zM179 173h1.8v1.6h-1.8zM184.5 164h1.8v1.6h-1.8zM174.5 149.5h1.8v1.6h-1.8zM141 158.5h1.8v1.6h-1.8zM159 158h1.8v1.6h-1.8zM169.5 153h1.8v1.6h-1.8zM162 125h1.8v1.6h-1.8zM156.5 122.5h1.8v1.6h-1.8zM157 131.5h1.8v1.6h-1.8zM168 121h1.8v1.6h-1.8zM170 131h1.8v1.6h-1.8zM177 123h1.8v1.6h-1.8zM180.5 122h1.8v1.6h-1.8zM173 129.5h1.8v1.6h-1.8zM172 119h1.8v1.6h-1.8zM161.5 136h1.8v1.6h-1.8zM180.5 120h1.8v1.6h-1.8zM184.5 122h1.8v1.6h-1.8zM169.5 135.5h1.8v1.6h-1.8zM178 114h1.8v1.6h-1.8zM164.5 133.5h1.8v1.6h-1.8zM170.5 126.5h1.8v1.6h-1.8zM172 126.5h1.8v1.6h-1.8zM179.5 127.5h1.8v1.6h-1.8zM156.5 118.5h1.8v1.6h-1.8zM171.5 139.5h1.8v1.6h-1.8zM179.5 130h1.8v1.6h-1.8zM174 131h1.8v1.6h-1.8zM177.5 132.5h1.8v1.6h-1.8zM146 133.5h1.8v1.6h-1.8zM162 128.5h1.8v1.6h-1.8zM166.5 118h1.8v1.6h-1.8zM163 115h1.8v1.6h-1.8zM147 114.5h1.8v1.6h-1.8zM181 122h1.8v1.6h-1.8zM173 134h1.8v1.6h-1.8zM151 115h1.8v1.6h-1.8zM165.5 123h1.8v1.6h-1.8zM170.5 130.5h1.8v1.6h-1.8zM179.5 123h1.8v1.6h-1.8zM176.5 123.5h1.8v1.6h-1.8zM160 117h1.8v1.6h-1.8zM163.5 127h1.8v1.6h-1.8zM172 120.5h1.8v1.6h-1.8zM179.5 120h1.8v1.6h-1.8zM165.5 122h1.8v1.6h-1.8zM163.5 128.5h1.8v1.6h-1.8zM175.5 133.5h1.8v1.6h-1.8zM171 116h1.8v1.6h-1.8zM183.5 129.5h1.8v1.6h-1.8zM174.5 116.5h1.8v1.6h-1.8zM179.5 110.5h1.8v1.6h-1.8zM150 120h1.8v1.6h-1.8zM156 126h1.8v1.6h-1.8zM154.5 125h1.8v1.6h-1.8zM162.5 128.5h1.8v1.6h-1.8zM173 109h1.8v1.6h-1.8zM166.5 136.5h1.8v1.6h-1.8zM174.5 132h1.8v1.6h-1.8zM162 131h1.8v1.6h-1.8zM179 112.5h1.8v1.6h-1.8zM178 129h1.8v1.6h-1.8zM152 121.5h1.8v1.6h-1.8zM158.5 121.5h1.8v1.6h-1.8zM163 125.5h1.8v1.6h-1.8zM177.5 112.5h1.8v1.6h-1.8zM177 134.5h1.8v1.6h-1.8zM187 134h1.8v1.6h-1.8zM154 132h1.8v1.6h-1.8zM171 137h1.8v1.6h-1.8zM169 112h1.8v1.6h-1.8zM166 123h1.8v1.6h-1.8zM167.5 123h1.8v1.6h-1.8zM148 115.5h1.8v1.6h-1.8zM172 132h1.8v1.6h-1.8zM164.5 146.5h1.8v1.6h-1.8zM156 117h1.8v1.6h-1.8zM183 130.5h1.8v1.6h-1.8zM162 126.5h1.8v1.6h-1.8zM171 127h1.8v1.6h-1.8zM162 126.5h1.8v1.6h-1.8zM153 131.5h1.8v1.6h-1.8zM164 120.5h1.8v1.6h-1.8zM172 122.5h1.8v1.6h-1.8zM158.5 139h1.8v1.6h-1.8zM174 126h1.8v1.6h-1.8zM186 125.5h1.8v1.6h-1.8zM181 111.5h1.8v1.6h-1.8zM165.5 129.5h1.8v1.6h-1.8zM161 130.5h1.8v1.6h-1.8zM178 128h1.8v1.6h-1.8zM155 138.5h1.8v1.6h-1.8zM158.5 109.5h1.8v1.6h-1.8zM186.5 133h1.8v1.6h-1.8zM173 112.5h1.8v1.6h-1.8zM174 117h1.8v1.6h-1.8zM166.5 109.5h1.8v1.6h-1.8zM198 132h1.8v1.6h-1.8zM201 124.5h1.8v1.6h-1.8zM168 122h1.8v1.6h-1.8zM178 126h1.8v1.6h-1.8zM166.5 108.5h1.8v1.6h-1.8zM174.5 120.5h1.8v1.6h-1.8zM183.5 127h1.8v1.6h-1.8zM183 120.5h1.8v1.6h-1.8zM167.5 125h1.8v1.6h-1.8zM174 112.5h1.8v1.6h-1.8zM198.5 126.5h1.8v1.6h-1.8zM180 123h1.8v1.6h-1.8zM184.5 127h1.8v1.6h-1.8zM176 138h1.8v1.6h-1.8zM169 126h1.8v1.6h-1.8zM159 120.5h1.8v1.6h-1.8zM160 128.5h1.8v1.6h-1.8zM153 116h1.8v1.6h-1.8zM159 138.5h1.8v1.6h-1.8zM161 125h1.8v1.6h-1.8zM177.5 125h1.8v1.6h-1.8zM153 129h1.8v1.6h-1.8zM174.5 115h1.8v1.6h-1.8zM150 125h1.8v1.6h-1.8zM196.5 123h1.8v1.6h-1.8zM164 142h1.8v1.6h-1.8zM171.5 136.5h1.8v1.6h-1.8zM188 139.5h1.8v1.6h-1.8zM168 125.5h1.8v1.6h-1.8zM171 126h1.8v1.6h-1.8zM171.5 133.5h1.8v1.6h-1.8zM175.5 119.5h1.8v1.6h-1.8zM165 117.5h1.8v1.6h-1.8zM188 137.5h1.8v1.6h-1.8zM181.5 128.5h1.8v1.6h-1.8zM171.5 128.5h1.8v1.6h-1.8zM182.5 111h1.8v1.6h-1.8zM169 121.5h1.8v1.6h-1.8zM164.5 121h1.8v1.6h-1.8zM169 119h1.8v1.6h-1.8zM175 127.5h1.8v1.6h-1.8zM154 117.5h1.8v1.6h-1.8zM166.5 115.5h1.8v1.6h-1.8zM174.5 140.5h1.8v1.6h-1.8zM158.5 128.5h1.8v1.6h-1.8zM173.5 116.5h1.8v1.6h-1.8zM158.5 142h1.8v1.6h-1.8zM172 129.5h1.8v1.6h-1.8zM169 128h1.8v1.6h-1.8zM173.5 103.5h1.8v1.6h-1.8zM162.5 137h1.8v1.6h-1.8zM149.5 126.5h1.8v1.6h-1.8zM143 135h1.8v1.6h-1.8zM208 139h1.8v1.6h-1.8zM154.5 115h1.8v1.6h-1.8zM161 140.5h1.8v1.6h-1.8zM152.5 132h1.8v1.6h-1.8zM184 126.5h1.8v1.6h-1.8zM177 107h1.8v1.6h-1.8zM178.5 141.5h1.8v1.6h-1.8zM158 128.5h1.8v1.6h-1.8zM180 130.5h1.8v1.6h-1.8zM162 116h1.8v1.6h-1.8zM182.5 130.5h1.8v1.6h-1.8zM169 130.5h1.8v1.6h-1.8zM146 138h1.8v1.6h-1.8zM168.5 118.5h1.8v1.6h-1.8zM160.5 108h1.8v1.6h-1.8zM194.5 121h1.8v1.6h-1.8zM156 117.5h1.8v1.6h-1.8zM166.5 128h1.8v1.6h-1.8zM166.5 124.5h1.8v1.6h-1.8zM161 127.5h1.8v1.6h-1.8zM162 136h1.8v1.6h-1.8zM169 139.5h1.8v1.6h-1.8zM173 126h1.8v1.6h-1.8zM165 113h1.8v1.6h-1.8zM166.5 125.5h1.8v1.6h-1.8zM169.5 124h1.8v1.6h-1.8zM159.5 125h1.8v1.6h-1.8zM167 124.5h1.8v1.6h-1.8zM169.5 125.5h1.8v1.6h-1.8zM180 108h1.8v1.6h-1.8zM176 130h1.8v1.6h-1.8zM174.5 129.5h1.8v1.6h-1.8zM178.5 128h1.8v1.6h-1.8zM161 124.5h1.8v1.6h-1.8zM181 132.5h1.8v1.6h-1.8zM165.5 111.5h1.8v1.6h-1.8zM88 162h1.8v1.6h-1.8zM96 160h1.8v1.6h-1.8zM123.5 147.5h1.8v1.6h-1.8zM102 152.5h1.8v1.6h-1.8zM103.5 171h1.8v1.6h-1.8zM82.5 160h1.8v1.6h-1.8zM119 159h1.8v1.6h-1.8zM118 168.5h1.8v1.6h-1.8zM94 155h1.8v1.6h-1.8zM105.5 170.5h1.8v1.6h-1.8zM114.5 146.5h1.8v1.6h-1.8zM102.5 152h1.8v1.6h-1.8zM114 174.5h1.8v1.6h-1.8zM84 168h1.8v1.6h-1.8zM97.5 164.5h1.8v1.6h-1.8zM108 146.5h1.8v1.6h-1.8zM114.5 170h1.8v1.6h-1.8zM123.5 159h1.8v1.6h-1.8zM117 147h1.8v1.6h-1.8zM114 148h1.8v1.6h-1.8zM83.5 146.5h1.8v1.6h-1.8zM99.5 158.5h1.8v1.6h-1.8zM107 165.5h1.8v1.6h-1.8zM113.5 162h1.8v1.6h-1.8zM132 164h1.8v1.6h-1.8zM119 167.5h1.8v1.6h-1.8zM101 156.5h1.8v1.6h-1.8zM99.5 166.5h1.8v1.6h-1.8zM85 156.5h1.8v1.6h-1.8zM80.5 154.5h1.8v1.6h-1.8zM116 150h1.8v1.6h-1.8zM122.5 149.5h1.8v1.6h-1.8zM129.5 164.5h1.8v1.6h-1.8zM100 168.5h1.8v1.6h-1.8zM80.5 152.5h1.8v1.6h-1.8zM128 161.5h1.8v1.6h-1.8zM104 171h1.8v1.6h-1.8zM103 159h1.8v1.6h-1.8zM81 168h1.8v1.6h-1.8zM124 170h1.8v1.6h-1.8zM102.5 149.5h1.8v1.6h-1.8zM112 179h1.8v1.6h-1.8zM125 172h1.8v1.6h-1.8zM120 175.5h1.8v1.6h-1.8zM130.5 150.5h1.8v1.6h-1.8zM93 160.5h1.8v1.6h-1.8zM129.5 169.5h1.8v1.6h-1.8zM85 155h1.8v1.6h-1.8zM117 150h1.8v1.6h-1.8zM120.5 172.5h1.8v1.6h-1.8zM108.5 177.5h1.8v1.6h-1.8zM93.5 150h1.8v1.6h-1.8zM107 177.5h1.8v1.6h-1.8zM100 168h1.8v1.6h-1.8zM123.5 153h1.8v1.6h-1.8zM89 155h1.8v1.6h-1.8zM94 174h1.8v1.6h-1.8zM117.5 170h1.8v1.6h-1.8zM100.5 151h1.8v1.6h-1.8zM125 167h1.8v1.6h-1.8zM110.5 151.5h1.8v1.6h-1.8zM88.5 164h1.8v1.6h-1.8zM94 160h1.8v1.6h-1.8zM116.5 158h1.8v1.6h-1.8zM81 153.5h1.8v1.6h-1.8zM99 164.5h1.8v1.6h-1.8zM93 179h1.8v1.6h-1.8zM131.5 165.5h1.8v1.6h-1.8zM85 157.5h1.8v1.6h-1.8zM119.5 149.5h1.8v1.6h-1.8zM86.5 176h1.8v1.6h-1.8zM92.5 149h1.8v1.6h-1.8zM128 159h1.8v1.6h-1.8zM89 162h1.8v1.6h-1.8zM111 148.5h1.8v1.6h-1.8zM107.5 158.5h1.8v1.6h-1.8zM111.5 169.5h1.8v1.6h-1.8zM113.5 148.5h1.8v1.6h-1.8zM89.5 159h1.8v1.6h-1.8zM116.5 146h1.8v1.6h-1.8zM131 159.5h1.8v1.6h-1.8zM125 158h1.8v1.6h-1.8zM80.5 177.5h1.8v1.6h-1.8zM116.5 146.5h1.8v1.6h-1.8zM83 163.5h1.8v1.6h-1.8zM108.5 165h1.8v1.6h-1.8zM119.5 164h1.8v1.6h-1.8zM85 178h1.8v1.6h-1.8zM124.5 170.5h1.8v1.6h-1.8zM127.5 168h1.8v1.6h-1.8zM111 148h1.8v1.6h-1.8zM92.5 151h1.8v1.6h-1.8zM91.5 170.5h1.8v1.6h-1.8zM95.5 176h1.8v1.6h-1.8zM89.5 152.5h1.8v1.6h-1.8zM131 167h1.8v1.6h-1.8zM93.5 177.5h1.8v1.6h-1.8zM114 155h1.8v1.6h-1.8zM92 146.5h1.8v1.6h-1.8zM81 161.5h1.8v1.6h-1.8zM94.5 156.5h1.8v1.6h-1.8zM111.5 158h1.8v1.6h-1.8zM120.5 150h1.8v1.6h-1.8zM106 171h1.8v1.6h-1.8zM87 149h1.8v1.6h-1.8zM86 173.5h1.8v1.6h-1.8zM111 165.5h1.8v1.6h-1.8zM94 152h1.8v1.6h-1.8zM108.5 168.5h1.8v1.6h-1.8zM91 146.5h1.8v1.6h-1.8zM132.5 129h1.8v1.6h-1.8zM129.5 145.5h1.8v1.6h-1.8zM133 128.5h1.8v1.6h-1.8zM108.5 128.5h1.8v1.6h-1.8zM112.5 144h1.8v1.6h-1.8zM132 142h1.8v1.6h-1.8zM113 127h1.8v1.6h-1.8zM120 140.5h1.8v1.6h-1.8zM111.5 126h1.8v1.6h-1.8zM131.5 122.5h1.8v1.6h-1.8zM116.5 141.5h1.8v1.6h-1.8zM124.5 141.5h1.8v1.6h-1.8zM109 133h1.8v1.6h-1.8zM121 139h1.8v1.6h-1.8zM128.5 130.5h1.8v1.6h-1.8zM114 123.5h1.8v1.6h-1.8zM116 132h1.8v1.6h-1.8zM112 138.5h1.8v1.6h-1.8zM121 140.5h1.8v1.6h-1.8zM110.5 132h1.8v1.6h-1.8zM133 145.5h1.8v1.6h-1.8zM115.5 134h1.8v1.6h-1.8zM119.5 127h1.8v1.6h-1.8zM115.5 123.5h1.8v1.6h-1.8zM119.5 122.5h1.8v1.6h-1.8z"/>
<path fill="#000" d="M393 115.5h1.1v1.1h-1.1zM394 117.5h1.1v1.1h-1.1zM392 129h1.1v1.1h-1.1zM407 118h1.1v1.1h-1.1zM390 122h1.1v1.1h-1.1zM401 130.5h1.1v1.1h-1.1zM396.5 124h1.1v1.1h-1.1zM409 132.5h1.1v1.1h-1.1zM391.5 124.5h1.1v1.1h-1.1zM398.5 122.5h1.1v1.1h-1.1zM397.5 117.5h1.1v1.1h-1.1zM368.5 104.5h1.1v1.1h-1.1zM396.5 120.5h1.1v1.1h-1.1zM401.5 108h1.1v1.1h-1.1zM405 130.5h1.1v1.1h-1.1zM385 130.5h1.1v1.1h-1.1zM392 127.5h1.1v1.1h-1.1zM403 133.5h1.1v1.1h-1.1zM385 142h1.1v1.1h-1.1zM387.5 108.5h1.1v1.1h-1.1zM398 122.5h1.1v1.1h-1.1zM398.5 131h1.1v1.1h-1.1zM404 121.5h1.1v1.1h-1.1zM402 122.5h1.1v1.1h-1.1zM395 133h1.1v1.1h-1.1zM385.5 128h1.1v1.1h-1.1zM388.5 112h1.1v1.1h-1.1zM393.5 136.5h1.1v1.1h-1.1zM396.5 116.5h1.1v1.1h-1.1zM394 125.5h1.1v1.1h-1.1zM399.5 128.5h1.1v1.1h-1.1zM388 109.5h1.1v1.1h-1.1zM390.5 138.5h1.1v1.1h-1.1zM383.5 129.5h1.1v1.1h-1.1zM409 127h1.1v1.1h-1.1zM392.5 130.5h1.1v1.1h-1.1zM401 122h1.1v1.1h-1.1zM403.5 130h1.1v1.1h-1.1zM396.5 129.5h1.1v1.1h-1.1zM392.5 105h1.1v1.1h-1.1zM390 113.5h1.1v1.1h-1.1zM392 132h1.1v1.1h-1.1zM380.5 115h1.1v1.1h-1.1zM389.5 128.5h1.1v1.1h-1.1zM399.5 122.5h1.1v1.1h-1.1zM396 130h1.1v1.1h-1.1zM400 108.5h1.1v1.1h-1.1zM400 125h1.1v1.1h-1.1zM399.5 124h1.1v1.1h-1.1zM394.5 126h1.1v1.1h-1.1zM395.5 126h1.1v1.1h-1.1zM401 124.5h1.1v1.1h-1.1zM391 127h1.1v1.1h-1.1zM383.5 128h1.1v1.1h-1.1zM400 119h1.1v1.1h-1.1zM394 136h1.1v1.1h-1.1zM402 124h1.1v1.1h-1.1zM389 118.5h1.1v1.1h-1.1zM381 129.5h1.1v1.1h-1.1zM392.5 111h1.1v1.1h-1.1zM389 133h1.1v1.1h-1.1zM386.5 120.5h1.1v1.1h-1.1zM405.5 124h1.1v1.1h-1.1zM396 124h1.1v1.1h-1.1zM384.5 127.5h1.1v1.1h-1.1zM381.5 118h1.1v1.1h-1.1zM393 119.5h1.1v1.1h-1.1zM398 126.5h1.1v1.1h-1.1zM396 118h1.1v1.1h-1.1zM402.5 123h1.1v1.1h-1.1zM396 122h1.1v1.1h-1.1zM397.5 120h1.1v1.1h-1.1zM379 117h1.1v1.1h-1.1zM403.5 116h1.1v1.1h-1.1zM389.5 119.5h1.1v1.1h-1.1zM401 112.5h1.1v1.1h-1.1zM382 113.5h1.1v1.1h-1.1zM387 146h1.1v1.1h-1.1zM403 123.5h1.1v1.1h-1.1zM384.5 131h1.1v1.1h-1.1zM395 125.5h1.1v1.1h-1.1zM391 129.5h1.1v1.1h-1.1zM407 124.5h1.1v1.1h-1.1zM396.5 132h1.1v1.1h-1.1zM403.5 125h1.1v1.1h-1.1zM393.5 125.5h1.1v1.1h-1.1zM381 113h1.1v1.1h-1.1zM409.5 131.5h1.1v1.1h-1.1zM389.5 121.5h1.1v1.1h-1.1zM394 123h1.1v1.1h-1.1zM393.5 127h1.1v1.1h-1.1zM381.5 125.5h1.1v1.1h-1.1zM399 123.5h1.1v1.1h-1.1zM391 134h1.1v1.1h-1.1zM380.5 116h1.1v1.1h-1.1zM382.5 106.5h1.1v1.1h-1.1zM376.5 121h1.1v1.1h-1.1zM387.5 104.5h1.1v1.1h-1.1zM392 122h1.1v1.1h-1.1zM386 134h1.1v1.1h-1.1zM393 136.5h1.1v1.1h-1.1zM390.5 114.5h1.1v1.1h-1.1zM397.5 127h1.1v1.1h-1.1zM393.5 113.5h1.1v1.1h-1.1zM392 126.5h1.1v1.1h-1.1zM387 135h1.1v1.1h-1.1zM384 118.5h1.1v1.1h-1.1zM386.5 136.5h1.1v1.1h-1.1zM396 126h1.1v1.1h-1.1zM389.5 146h1.1v1.1h-1.1zM404.5 118.5h1.1v1.1h-1.1zM399.5 116.5h1.1v1.1h-1.1zM383 135h1.1v1.1h-1.1zM396.5 131.5h1.1v1.1h-1.1zM403 129h1.1v1.1h-1.1zM388.5 117.5h1.1v1.1h-1.1zM402.5 125.5h1.1v1.1h-1.1zM387.5 119.5h1.1v1.1h-1.1zM405.5 137.5h1.1v1.1h-1.1zM397.5 129.5h1.1v1.1h-1.1zM391.5 118.5h1.1v1.1h-1.1zM380.5 117.5h1.1v1.1h-1.1zM392.5 112h1.1v1.1h-1.1zM387.5 119.5h1.1v1.1h-1.1zM396 124h1.1v1.1h-1.1zM386.5 128h1.1v1.1h-1.1zM397 133.5h1.1v1.1h-1.1zM389.5 120.5h1.1v1.1h-1.1zM397.5 135h1.1v1.1h-1.1zM399.5 107.5h1.1v1.1h-1.1zM394.5 124h1.1v1.1h-1.1zM397 130h1.1v1.1h-1.1zM401.5 120.5h1.1v1.1h-1.1zM386 126.5h1.1v1.1h-1.1zM398 131.5h1.1v1.1h-1.1zM395 120h1.1v1.1h-1.1zM405.5 126.5h1.1v1.1h-1.1zM392 134h1.1v1.1h-1.1zM401 114.5h1.1v1.1h-1.1zM380.5 134h1.1v1.1h-1.1zM403 123.5h1.1v1.1h-1.1zM396.5 112.5h1.1v1.1h-1.1zM396.5 128h1.1v1.1h-1.1zM400 130.5h1.1v1.1h-1.1zM383.5 123.5h1.1v1.1h-1.1zM391.5 127.5h1.1v1.1h-1.1zM394 129h1.1v1.1h-1.1zM391 125.5h1.1v1.1h-1.1zM389.5 126h1.1v1.1h-1.1zM400.5 132h1.1v1.1h-1.1zM393.5 131.5h1.1v1.1h-1.1zM391.5 125h1.1v1.1h-1.1zM393.5 109.5h1.1v1.1h-1.1zM403.5 114h1.1v1.1h-1.1zM407.5 121.5h1.1v1.1h-1.1zM401.5 134.5h1.1v1.1h-1.1zM397 129.5h1.1v1.1h-1.1zM383 140h1.1v1.1h-1.1zM389 129h1.1v1.1h-1.1zM386 128.5h1.1v1.1h-1.1zM386 122.5h1.1v1.1h-1.1zM402.5 135.5h1.1v1.1h-1.1zM388.5 113.5h1.1v1.1h-1.1zM404 128h1.1v1.1h-1.1zM394 124h1.1v1.1h-1.1zM392.5 120.5h1.1v1.1h-1.1zM391.5 133h1.1v1.1h-1.1zM382.5 131h1.1v1.1h-1.1zM390 128.5h1.1v1.1h-1.1zM400 122.5h1.1v1.1h-1.1zM398.5 112.5h1.1v1.1h-1.1zM394.5 113.5h1.1v1.1h-1.1zM398.5 103.5h1.1v1.1h-1.1zM394.5 113.5h1.1v1.1h-1.1zM396.5 127.5h1.1v1.1h-1.1zM411.5 137h1.1v1.1h-1.1zM394.5 115.5h1.1v1.1h-1.1zM380 135.5h1.1v1.1h-1.1zM377 141h1.1v1.1h-1.1zM387.5 134.5h1.1v1.1h-1.1zM395 139.5h1.1v1.1h-1.1zM401 125h1.1v1.1h-1.1zM393 121h1.1v1.1h-1.1zM394.5 127.5h1.1v1.1h-1.1zM398 133.5h1.1v1.1h-1.1zM386 129h1.1v1.1h-1.1zM393 127h1.1v1.1h-1.1zM396 132h1.1v1.1h-1.1zM390.5 118h1.1v1.1h-1.1zM387 132h1.1v1.1h-1.1zM397.5 108.5h1.1v1.1h-1.1zM401.5 137.5h1.1v1.1h-1.1zM394 137.5h1.1v1.1h-1.1zM375.5 145.5h1.1v1.1h-1.1zM387 117.5h1.1v1.1h-1.1zM390 120.5h1.1v1.1h-1.1zM396.5 116.5h1.1v1.1h-1.1zM389.5 113h1.1v1.1h-1.1zM390 105.5h1.1v1.1h-1.1zM400.5 132h1.1v1.1h-1.1zM403 123.5h1.1v1.1h-1.1zM394 124h1.1v1.1h-1.1zM384.5 110h1.1v1.1h-1.1zM384 126.5h1.1v1.1h-1.1zM398 142.5h1.1v1.1h-1.1zM387 126.5h1.1v1.1h-1.1zM393 132.5h1.1v1.1h-1.1zM391.5 115.5h1.1v1.1h-1.1zM394 134.5h1.1v1.1h-1.1zM395.5 125h1.1v1.1h-1.1zM385 126.5h1.1v1.1h-1.1zM388 128.5h1.1v1.1h-1.1zM394.5 123h1.1v1.1h-1.1zM393 131h1.1v1.1h-1.1zM382.5 124.5h1.1v1.1h-1.1zM407.5 121.5h1.1v1.1h-1.1zM382.5 116h1.1v1.1h-1.1zM401 115.5h1.1v1.1h-1.1zM380.5 133h1.1v1.1h-1.1zM400.5 134.5h1.1v1.1h-1.1zM379.5 124.5h1.1v1.1h-1.1zM400 124h1.1v1.1h-1.1zM394 120.5h1.1v1.1h-1.1zM399 127h1.1v1.1h-1.1zM387 137.5h1.1v1.1h-1.1zM395 127.5h1.1v1.1h-1.1zM394.5 121h1.1v1.1h-1.1zM394 134.5h1.1v1.1h-1.1zM388.5 132h1.1v1.1h-1.1zM403 110h1.1v1.1h-1.1zM379 121.5h1.1v1.1h-1.1zM381 136.5h1.1v1.1h-1.1zM381.5 129h1.1v1.1h-1.1zM403.5 125h1.1v1.1h-1.1zM386 129h1.1v1.1h-1.1zM387 115.5h1.1v1.1h-1.1zM387 115.5h1.1v1.1h-1.1zM390.5 124.5h1.1v1.1h-1.1zM391 126.5h1.1v1.1h-1.1zM389 139.5h1.1v1.1h-1.1zM381 124.5h1.1v1.1h-1.1zM396 128.5h1.1v1.1h-1.1zM393 139h1.1v1.1h-1.1zM404.5 120.5h1.1v1.1h-1.1zM396 123.5h1.1v1.1h-1.1zM392 126h1.1v1.1h-1.1zM382 128h1.1v1.1h-1.1zM393.5 127h1.1v1.1h-1.1zM397.5 131.5h1.1v1.1h-1.1zM405.5 115.5h1.1v1.1h-1.1zM396 114h1.1v1.1h-1.1zM399 125h1.1v1.1h-1.1zM397.5 111.5h1.1v1.1h-1.1zM405.5 139h1.1v1.1h-1.1zM401.5 118.5h1.1v1.1h-1.1zM393.5 120.5h1.1v1.1h-1.1zM382 130.5h1.1v1.1h-1.1zM405.5 128h1.1v1.1h-1.1zM393.5 130.5h1.1v1.1h-1.1zM387 125h1.1v1.1h-1.1zM382 114h1.1v1.1h-1.1zM379.5 124h1.1v1.1h-1.1zM395 119.5h1.1v1.1h-1.1zM391.5 110.5h1.1v1.1h-1.1zM395 122.5h1.1v1.1h-1.1zM402 133.5h1.1v1.1h-1.1zM388 117h1.1v1.1h-1.1zM395 118.5h1.1v1.1h-1.1zM389 118.5h1.1v1.1h-1.1zM386 131.5h1.1v1.1h-1.1zM375.5 107.5h1.1v1.1h-1.1zM387 129h1.1v1.1h-1.1zM401 126h1.1v1.1h-1.1zM389 124h1.1v1.1h-1.1zM395 117h1.1v1.1h-1.1zM394 122.5h1.1v1.1h-1.1zM408.5 141.5h1.1v1.1h-1.1zM404 126.5h1.1v1.1h-1.1zM388 121.5h1.1v1.1h-1.1zM389.5 132h1.1v1.1h-1.1zM401.5 114h1.1v1.1h-1.1zM395 134.5h1.1v1.1h-1.1zM394 124h1.1v1.1h-1.1zM402 146.5h1.1v1.1h-1.1zM397.5 144h1.1v1.1h-1.1zM394.5 130h1.1v1.1h-1.1zM416.5 128.5h1.1v1.1h-1.1zM396.5 121.5h1.1v1.1h-1.1zM383 130h1.1v1.1h-1.1zM395.5 131h1.1v1.1h-1.1zM395 113h1.1v1.1h-1.1zM406 112h1.1v1.1h-1.1zM395.5 129.5h1.1v1.1h-1.1zM388.5 120h1.1v1.1h-1.1zM396 126h1.1v1.1h-1.1zM384 125.5h1.1v1.1h-1.1zM390.5 126h1.1v1.1h-1.1zM396 122.5h1.1v1.1h-1.1zM386.5 130h1.1v1.1h-1.1zM377.5 137h1.1v1.1h-1.1zM385 138.5h1.1v1.1h-1.1zM387 121.5h1.1v1.1h-1.1zM397.5 125.5h1.1v1.1h-1.1zM389.5 125.5h1.1v1.1h-1.1zM392.5 111.5h1.1v1.1h-1.1zM385.5 111h1.1v1.1h-1.1zM393.5 123.5h1.1v1.1h-1.1zM388 128.5h1.1v1.1h-1.1zM397 131h1.1v1.1h-1.1zM394.5 119h1.1v1.1h-1.1zM404 130h1.1v1.1h-1.1zM397 123.5h1.1v1.1h-1.1zM390.5 120.5h1.1v1.1h-1.1zM386 133h1.1v1.1h-1.1zM394.5 109.5h1.1v1.1h-1.1zM398.5 104.5h1.1v1.1h-1.1zM404.5 141h1.1v1.1h-1.1zM388.5 124h1.1v1.1h-1.1zM382.5 131h1.1v1.1h-1.1zM378.5 123.5h1.1v1.1h-1.1zM385 118.5h1.1v1.1h-1.1zM391 114.5h1.1v1.1h-1.1zM390.5 108.5h1.1v1.1h-1.1zM390 126h1.1v1.1h-1.1zM392 115.5h1.1v1.1h-1.1zM395 123.5h1.1v1.1h-1.1zM379.5 126.5h1.1v1.1h-1.1zM392.5 123.5h1.1v1.1h-1.1zM391 125h1.1v1.1h-1.1zM391 137h1.1v1.1h-1.1zM389 127h1.1v1.1h-1.1zM378 126.5h1.1v1.1h-1.1zM396 123h1.1v1.1h-1.1zM388.5 136.5h1.1v1.1h-1.1zM391.5 135.5h1.1v1.1h-1.1zM394.5 119h1.1v1.1h-1.1zM392.5 127.5h1.1v1.1h-1.1zM395.5 123h1.1v1.1h-1.1zM395.5 120.5h1.1v1.1h-1.1zM385 116.5h1.1v1.1h-1.1zM383.5 140h1.1v1.1h-1.1zM398.5 129h1.1v1.1h-1.1zM386.5 106h1.1v1.1h-1.1zM408.5 133.5h1.1v1.1h-1.1zM384 139.5h1.1v1.1h-1.1zM393.5 125.5h1.1v1.1h-1.1zM391.5 124h1.1v1.1h-1.1zM394 125.5h1.1v1.1h-1.1zM385 132.5h1.1v1.1h-1.1zM394.5 119.5h1.1v1.1h-1.1zM407.5 128h1.1v1.1h-1.1zM388 111.5h1.1v1.1h-1.1zM375.5 134.5h1.1v1.1h-1.1zM397 114.5h1.1v1.1h-1.1zM395 121h1.1v1.1h-1.1zM397 128h1.1v1.1h-1.1zM386 133h1.1v1.1h-1.1zM395 118h1.1v1.1h-1.1zM399 118.5h1.1v1.1h-1.1zM388.5 137.5h1.1v1.1h-1.1zM392.5 119h1.1v1.1h-1.1zM396 117h1.1v1.1h-1.1zM397.5 120h1.1v1.1h-1.1zM390.5 130h1.1v1.1h-1.1zM393.5 130.5h1.1v1.1h-1.1zM407 133h1.1v1.1h-1.1zM407.5 128h1.1v1.1h-1.1zM384 120.5h1.1v1.1h-1.1zM408.5 128h1.1v1.1h-1.1zM389 131h1.1v1.1h-1.1zM400 114.5h1.1v1.1h-1.1zM382.5 119h1.1v1.1h-1.1zM390.5 124h1.1v1.1h-1.1zM387 138.5h1.1v1.1h-1.1zM398 121.5h1.1v1.1h-1.1zM393.5 125h1.1v1.1h-1.1zM395.5 124.5h1.1v1.1h-1.1zM395 127.5h1.1v1.1h-1.1zM393.5 130h1.1v1.1h-1.1zM399 115.5h1.1v1.1h-1.1zM393 100h1.1v1.1h-1.1zM391.5 131h1.1v1.1h-1.1zM387 106h1.1v1.1h-1.1zM385 127h1.1v1.1h-1.1zM388 128h1.1v1.1h-1.1zM394.5 130.5h1.1v1.1h-1.1zM399.5 115.5h1.1v1.1h-1.1zM391 127h1.1v1.1h-1.1zM407 130h1.1v1.1h-1.1zM401.5 130.5h1.1v1.1h-1.1zM392 135h1.1v1.1h-1.1zM394.5 115.5h1.1v1.1h-1.1zM391.5 120h1.1v1.1h-1.1zM378 122h1.1v1.1h-1.1zM398 124h1.1v1.1h-1.1zM393.5 133h1.1v1.1h-1.1zM379 131.5h1.1v1.1h-1.1zM398.5 125.5h1.1v1.1h-1.1zM387.5 139.5h1.1v1.1h-1.1zM390 129.5h1.1v1.1h-1.1zM379 114.5h1.1v1.1h-1.1zM391.5 135.5h1.1v1.1h-1.1zM395 113h1.1v1.1h-1.1zM388.5 113.5h1.1v1.1h-1.1zM392 121h1.1v1.1h-1.1zM377.5 120.5h1.1v1.1h-1.1zM396 123.5h1.1v1.1h-1.1zM391.5 124.5h1.1v1.1h-1.1zM391.5 117.5h1.1v1.1h-1.1zM397 118h1.1v1.1h-1.1zM399.5 130h1.1v1.1h-1.1zM391 127h1.1v1.1h-1.1zM398.5 122.5h1.1v1.1h-1.1zM405.5 117h1.1v1.1h-1.1zM383.5 124.5h1.1v1.1h-1.1zM392.5 115.5h1.1v1.1h-1.1zM379.5 113h1.1v1.1h-1.1zM394.5 133h1.1v1.1h-1.1zM402 130h1.1v1.1h-1.1zM390.5 121.5h1.1v1.1h-1.1zM383 138h1.1v1.1h-1.1zM387.5 123.5h1.1v1.1h-1.1zM395 130h1.1v1.1h-1.1zM380.5 128.5h1.1v1.1h-1.1zM381 125.5h1.1v1.1h-1.1zM395 125.5h1.1v1.1h-1.1zM381.5 137.5h1.1v1.1h-1.1zM392 132.5h1.1v1.1h-1.1zM383.5 108.5h1.1v1.1h-1.1zM379.5 129.5h1.1v1.1h-1.1zM398 105.5h1.1v1.1h-1.1zM400 115.5h1.1v1.1h-1.1zM385.5 128.5h1.1v1.1h-1.1zM409.5 115h1.1v1.1h-1.1zM393 135.5h1.1v1.1h-1.1zM396 121.5h1.1v1.1h-1.1zM393 129.5h1.1v1.1h-1.1zM383.5 127h1.1v1.1h-1.1zM399.5 131.5h1.1v1.1h-1.1zM393 136h1.1v1.1h-1.1zM396 112h1.1v1.1h-1.1zM393 124h1.1v1.1h-1.1zM389 126.5h1.1v1.1h-1.1zM410 133.5h1.1v1.1h-1.1zM395.5 129.5h1.1v1.1h-1.1zM390.5 122.5h1.1v1.1h-1.1zM397 113h1.1v1.1h-1.1zM383 111h1.1v1.1h-1.1zM395 117h1.1v1.1h-1.1zM413 126h1.1v1.1h-1.1zM387 126h1.1v1.1h-1.1zM396 137h1.1v1.1h-1.1zM383 127h1.1v1.1h-1.1zM392.5 131.5h1.1v1.1h-1.1zM400.5 112.5h1.1v1.1h-1.1zM384.5 127h1.1v1.1h-1.1zM385 120.5h1.1v1.1h-1.1zM401 119.5h1.1v1.1h-1.1zM394 135.5h1.1v1.1h-1.1zM397 124.5h1.1v1.1h-1.1zM396 124h1.1v1.1h-1.1zM382.5 124.5h1.1v1.1h-1.1zM379 113h1.1v1.1h-1.1zM377.5 110.5h1.1v1.1h-1.1zM396 141h1.1v1.1h-1.1zM381 125h1.1v1.1h-1.1zM378.5 124.5h1.1v1.1h-1.1zM388 126.5h1.1v1.1h-1.1zM391 120.5h1.1v1.1h-1.1zM394 122h1.1v1.1h-1.1zM378 117h1.1v1.1h-1.1zM402 127.5h1.1v1.1h-1.1zM385 123h1.1v1.1h-1.1zM393 133.5h1.1v1.1h-1.1zM391.5 138h1.1v1.1h-1.1zM384.5 115.5h1.1v1.1h-1.1zM395 130.5h1.1v1.1h-1.1zM394.5 121h1.1v1.1h-1.1zM400.5 143h1.1v1.1h-1.1zM407 126.5h1.1v1.1h-1.1zM408.5 133h1.1v1.1h-1.1zM399.5 120.5h1.1v1.1h-1.1zM397.5 135.5h1.1v1.1h-1.1zM389.5 118h1.1v1.1h-1.1zM380.5 114h1.1v1.1h-1.1zM395.5 103.5h1.1v1.1h-1.1zM387.5 124h1.1v1.1h-1.1zM390 121h1.1v1.1h-1.1zM388.5 126h1.1v1.1h-1.1zM395.5 116.5h1.1v1.1h-1.1zM389 124h1.1v1.1h-1.1zM410.5 124h1.1v1.1h-1.1zM399 115h1.1v1.1h-1.1zM388.5 141h1.1v1.1h-1.1zM395 143.5h1.1v1.1h-1.1zM403 127h1.1v1.1h-1.1zM383 129.5h1.1v1.1h-1.1zM394 130.5h1.1v1.1h-1.1zM388 131h1.1v1.1h-1.1zM393 117.5h1.1v1.1h-1.1zM388.5 127h1.1v1.1h-1.1zM393.5 140h1.1v1.1h-1.1zM396 123h1.1v1.1h-1.1zM397 122.5h1.1v1.1h-1.1zM381 117h1.1v1.1h-1.1zM398 121h1.1v1.1h-1.1zM392.5 106h1.1v1.1h-1.1zM387.5 124.5h1.1v1.1h-1.1zM392 134h1.1v1.1h-1.1zM405 127.5h1.1v1.1h-1.1zM391 126.5h1.1v1.1h-1.1zM385.5 125.5h1.1v1.1h-1.1zM398 125.5h1.1v1.1h-1.1zM391 116h1.1v1.1h-1.1zM398 108.5h1.1v1.1h-1.1zM394.5 141h1.1v1.1h-1.1zM403 129.5h1.1v1.1h-1.1zM388 106h1.1v1.1h-1.1zM389.5 139h1.1v1.1h-1.1zM401 121.5h1.1v1.1h-1.1zM406 133.5h1.1v1.1h-1.1zM394.5 124h1.1v1.1h-1.1zM402 119.5h1.1v1.1h-1.1zM396.5 132h1.1v1.1h-1.1zM393 122h1.1v1.1h-1.1zM380 103.5h1.1v1.1h-1.1zM409 129.5h1.1v1.1h-1.1zM401.5 124h1.1v1.1h-1.1zM375 124.5h1.1v1.1h-1.1zM399 122h1.1v1.1h-1.1zM388 128.5h1.1v1.1h-1.1zM385 138h1.1v1.1h-1.1zM388 133.5h1.1v1.1h-1.1zM398.5 127.5h1.1v1.1h-1.1zM392 125.5h1.1v1.1h-1.1zM391 118.5h1.1v1.1h-1.1zM391.5 140.5h1.1v1.1h-1.1zM389.5 108h1.1v1.1h-1.1zM396.5 116h1.1v1.1h-1.1zM377 123.5h1.1v1.1h-1.1zM382.5 126h1.1v1.1h-1.1zM391.5 127.5h1.1v1.1h-1.1zM383.5 121.5h1.1v1.1h-1.1zM394 141.5h1.1v1.1h-1.1zM389.5 135.5h1.1v1.1h-1.1zM395.5 108.5h1.1v1.1h-1.1zM391.5 116.5h1.1v1.1h-1.1zM397 113h1.1v1.1h-1.1zM392.5 137.5h1.1v1.1h-1.1zM398.5 121h1.1v1.1h-1.1zM390 111.5h1.1v1.1h-1.1zM379 122.5h1.1v1.1h-1.1zM393 113.5h1.1v1.1h-1.1zM393 125.5h1.1v1.1h-1.1zM389 131h1.1v1.1h-1.1zM400.5 115h1.1v1.1h-1.1zM397 127h1.1v1.1h-1.1zM405 127.5h1.1v1.1h-1.1zM390 118.5h1.1v1.1h-1.1zM390 129h1.1v1.1h-1.1zM397 119.5h1.1v1.1h-1.1zM404.5 130.5h1.1v1.1h-1.1zM388 124h1.1v1.1h-1.1zM397 121h1.1v1.1h-1.1zM393 137.5h1.1v1.1h-1.1zM391 133.5h1.1v1.1h-1.1zM400.5 122.5h1.1v1.1h-1.1zM400 97.5h1.1v1.1h-1.1zM399 127.5h1.1v1.1h-1.1zM388.5 120.5h1.1v1.1h-1.1zM393.5 128.5h1.1v1.1h-1.1zM380.5 125h1.1v1.1h-1.1zM397.5 122.5h1.1v1.1h-1.1zM383.5 122h1.1v1.1h-1.1zM391.5 137h1.1v1.1h-1.1zM400 138h1.1v1.1h-1.1zM391.5 136h1.1v1.1h-1.1zM394.5 115h1.1v1.1h-1.1zM388.5 121.5h1.1v1.1h-1.1zM413.5 126h1.1v1.1h-1.1zM384 107.5h1.1v1.1h-1.1zM389 134h1.1v1.1h-1.1zM392.5 115h1.1v1.1h-1.1zM413.5 133h1.1v1.1h-1.1zM389 119.5h1.1v1.1h-1.1zM394 128h1.1v1.1h-1.1zM400 109h1.1v1.1h-1.1zM377.5 102h1.1v1.1h-1.1zM400.5 117.5h1.1v1.1h-1.1zM396.5 112h1.1v1.1h-1.1zM405.5 112.5h1.1v1.1h-1.1zM406 119.5h1.1v1.1h-1.1zM398 126.5h1.1v1.1h-1.1zM402.5 131h1.1v1.1h-1.1zM389 115.5h1.1v1.1h-1.1zM385.5 110.5h1.1v1.1h-1.1zM392.5 122.5h1.1v1.1h-1.1zM395.5 114h1.1v1.1h-1.1zM392 112.5h1.1v1.1h-1.1zM397.5 119h1.1v1.1h-1.1zM399 133h1.1v1.1h-1.1zM408 125.5h1.1v1.1h-1.1zM393 105h1.1v1.1h-1.1zM391 140.5h1.1v1.1h-1.1zM398 111.5h1.1v1.1h-1.1zM396 124.5h1.1v1.1h-1.1zM399 116h1.1v1.1h-1.1zM407.5 131.5h1.1v1.1h-1.1zM388 127h1.1v1.1h-1.1zM400.5 133.5h1.1v1.1h-1.1zM405 125h1.1v1.1h-1.1zM404.5 122h1.1v1.1h-1.1zM383 134h1.1v1.1h-1.1zM392 106.5h1.1v1.1h-1.1zM404.5 112h1.1v1.1h-1.1zM394.5 110.5h1.1v1.1h-1.1zM398 121.5h1.1v1.1h-1.1zM393.5 119h1.1v1.1h-1.1zM404.5 115.5h1.1v1.1h-1.1zM396.5 129.5h1.1v1.1h-1.1zM392.5 128h1.1v1.1h-1.1zM395.5 119h1.1v1.1h-1.1zM405 111h1.1v1.1h-1.1zM397.5 142h1.1v1.1h-1.1zM382 126.5h1.1v1.1h-1.1zM378.5 118.5h1.1v1.1h-1.1zM399.5 125h1.1v1.1h-1.1zM381.5 126.5h1.1v1.1h-1.1zM395 118h1.1v1.1h-1.1zM388.5 130.5h1.1v1.1h-1.1zM395.5 125h1.1v1.1h-1.1zM388 119.5h1.1v1.1h-1.1zM375.5 133.5h1.1v1.1h-1.1zM404.5 120h1.1v1.1h-1.1zM393 135.5h1.1v1.1h-1.1zM392 125h1.1v1.1h-1.1zM405.5 122h1.1v1.1h-1.1zM398.5 134.5h1.1v1.1h-1.1zM402 121h1.1v1.1h-1.1zM391.5 129h1.1v1.1h-1.1zM394.5 136h1.1v1.1h-1.1zM397 121h1.1v1.1h-1.1zM388.5 119h1.1v1.1h-1.1zM399.5 131h1.1v1.1h-1.1zM396.5 133h1.1v1.1h-1.1zM391 105h1.1v1.1h-1.1zM390 128.5h1.1v1.1h-1.1zM400 134h1.1v1.1h-1.1zM392 119.5h1.1v1.1h-1.1zM396.5 133h1.1v1.1h-1.1zM395.5 121.5h1.1v1.1h-1.1zM391.5 118.5h1.1v1.1h-1.1zM368.5 121.5h1.1v1.1h-1.1zM396 131h1.1v1.1h-1.1zM399.5 121h1.1v1.1h-1.1zM388.5 119.5h1.1v1.1h-1.1zM388 124.5h1.1v1.1h-1.1zM400 131.5h1.1v1.1h-1.1zM384 106.5h1.1v1.1h-1.1zM402.5 134h1.1v1.1h-1.1zM397.5 136.5h1.1v1.1h-1.1zM404 115h1.1v1.1h-1.1zM393 123.5h1.1v1.1h-1.1zM394 128h1.1v1.1h-1.1zM395.5 125h1.1v1.1h-1.1zM381.5 140.5h1.1v1.1h-1.1zM386.5 125.5h1.1v1.1h-1.1zM402 119.5h1.1v1.1h-1.1zM388 120.5h1.1v1.1h-1.1zM386 127h1.1v1.1h-1.1zM396 117.5h1.1v1.1h-1.1zM404 119h1.1v1.1h-1.1zM393 119.5h1.1v1.1h-1.1zM391.5 139h1.1v1.1h-1.1zM393 130h1.1v1.1h-1.1zM396.5 114h1.1v1.1h-1.1zM381.5 128.5h1.1v1.1h-1.1zM396 101h1.1v1.1h-1.1zM396.5 124.5h1.1v1.1h-1.1zM401.5 130h1.1v1.1h-1.1zM401.5 127.5h1.1v1.1h-1.1zM398.5 129h1.1v1.1h-1.1zM409 126.5h1.1v1.1h-1.1zM393.5 118.5h1.1v1.1h-1.1zM392.5 123h1.1v1.1h-1.1zM406 122.5h1.1v1.1h-1.1zM394.5 112h1.1v1.1h-1.1zM389 125h1.1v1.1h-1.1zM389.5 116h1.1v1.1h-1.1zM393.5 130.5h1.1v1.1h-1.1zM383.5 144.5h1.1v1.1h-1.1zM401 143.5h1.1v1.1h-1.1zM396 148h1.1v1.1h-1.1zM403.5 121.5h1.1v1.1h-1.1zM386 121h1.1v1.1h-1.1zM391 130.5h1.1v1.1h-1.1zM388.5 117h1.1v1.1h-1.1zM397.5 130.5h1.1v1.1h-1.1zM396.5 120h1.1v1.1h-1.1zM399.5 128h1.1v1.1h-1.1zM399 121.5h1.1v1.1h-1.1zM385.5 139h1.1v1.1h-1.1zM395.5 135.5h1.1v1.1h-1.1zM394.5 132.5h1.1v1.1h-1.1zM393.5 114.5h1.1v1.1h-1.1zM397.5 136h1.1v1.1h-1.1zM379.5 121.5h1.1v1.1h-1.1zM388.5 113.5h1.1v1.1h-1.1zM391.5 128h1.1v1.1h-1.1zM387 134.5h1.1v1.1h-1.1zM384.5 112h1.1v1.1h-1.1zM400.5 132h1.1v1.1h-1.1zM400 123.5h1.1v1.1h-1.1zM406.5 123.5h1.1v1.1h-1.1zM386.5 129.5h1.1v1.1h-1.1zM376 122.5h1.1v1.1h-1.1zM398 119.5h1.1v1.1h-1.1zM390.5 135h1.1v1.1h-1.1zM385 103.5h1.1v1.1h-1.1zM397 134h1.1v1.1h-1.1zM392.5 114h1.1v1.1h-1.1zM380 136h1.1v1.1h-1.1zM393.5 115h1.1v1.1h-1.1zM380.5 137.5h1.1v1.1h-1.1zM397 110.5h1.1v1.1h-1.1zM383.5 141h1.1v1.1h-1.1zM381 127h1.1v1.1h-1.1zM398 123.5h1.1v1.1h-1.1zM400 123h1.1v1.1h-1.1zM390.5 134.5h1.1v1.1h-1.1zM384 124h1.1v1.1h-1.1zM397 131h1.1v1.1h-1.1zM393.5 127h1.1v1.1h-1.1zM394.5 116h1.1v1.1h-1.1zM389.5 140.5h1.1v1.1h-1.1zM381.5 124h1.1v1.1h-1.1zM389 128h1.1v1.1h-1.1zM403.5 128h1.1v1.1h-1.1zM387.5 126h1.1v1.1h-1.1zM391.5 140.5h1.1v1.1h-1.1zM392 129h1.1v1.1h-1.1zM399.5 123h1.1v1.1h-1.1zM394.5 126.5h1.1v1.1h-1.1zM389.5 123h1.1v1.1h-1.1zM406.5 116h1.1v1.1h-1.1zM394 135.5h1.1v1.1h-1.1zM395 117h1.1v1.1h-1.1zM387.5 136.5h1.1v1.1h-1.1zM381 126.5h1.1v1.1h-1.1zM396 133h1.1v1.1h-1.1zM390 125.5h1.1v1.1h-1.1zM395 123h1.1v1.1h-1.1zM376 145.5h1.1v1.1h-1.1zM405 122.5h1.1v1.1h-1.1zM393 117.5h1.1v1.1h-1.1zM398.5 129.5h1.1v1.1h-1.1zM384.5 138h1.1v1.1h-1.1zM393.5 114.5h1.1v1.1h-1.1zM394 121h1.1v1.1h-1.1zM401 133h1.1v1.1h-1.1zM398.5 134h1.1v1.1h-1.1zM377.5 130.5h1.1v1.1h-1.1zM394.5 122h1.1v1.1h-1.1zM393.5 127.5h1.1v1.1h-1.1zM390.5 119.5h1.1v1.1h-1.1zM394.5 129.5h1.1v1.1h-1.1zM397 125.5h1.1v1.1h-1.1zM400 128h1.1v1.1h-1.1zM384 124h1.1v1.1h-1.1zM386.5 132h1.1v1.1h-1.1zM393 126h1.1v1.1h-1.1zM397.5 119h1.1v1.1h-1.1zM385.5 138h1.1v1.1h-1.1zM392.5 127.5h1.1v1.1h-1.1zM383 123h1.1v1.1h-1.1zM393 124h1.1v1.1h-1.1zM391.5 138.5h1.1v1.1h-1.1zM396.5 126.5h1.1v1.1h-1.1zM403 128h1.1v1.1h-1.1zM387 118.5h1.1v1.1h-1.1zM396 122.5h1.1v1.1h-1.1zM381 120.5h1.1v1.1h-1.1zM395 118h1.1v1.1h-1.1zM406 116h1.1v1.1h-1.1zM381 122.5h1.1v1.1h-1.1zM389 114h1.1v1.1h-1.1zM369 130.5h1.1v1.1h-1.1zM396 131.5h1.1v1.1h-1.1zM409 117h1.1v1.1h-1.1zM386 128.5h1.1v1.1h-1.1zM395.5 118.5h1.1v1.1h-1.1zM403.5 127.5h1.1v1.1h-1.1zM387 128.5h1.1v1.1h-1.1zM394.5 110h1.1v1.1h-1.1zM387 103.5h1.1v1.1h-1.1zM389.5 128.5h1.1v1.1h-1.1zM393 128.5h1.1v1.1h-1.1zM399.5 124h1.1v1.1h-1.1zM394.5 119.5h1.1v1.1h-1.1zM392.5 118h1.1v1.1h-1.1zM391.5 102h1.1v1.1h-1.1zM401 136h1.1v1.1h-1.1zM397 104.5h1.1v1.1h-1.1zM396 126h1.1v1.1h-1.1zM379 122h1.1v1.1h-1.1zM391.5 126.5h1.1v1.1h-1.1zM385 113h1.1v1.1h-1.1zM406 116.5h1.1v1.1h-1.1zM398 127.5h1.1v1.1h-1.1zM404 114h1.1v1.1h-1.1zM387 124.5h1.1v1.1h-1.1zM381.5 112.5h1.1v1.1h-1.1zM387 125h1.1v1.1h-1.1zM398 127.5h1.1v1.1h-1.1zM388 124h1.1v1.1h-1.1zM398.5 128h1.1v1.1h-1.1zM403.5 113.5h1.1v1.1h-1.1zM390.5 119h1.1v1.1h-1.1zM400.5 120.5h1.1v1.1h-1.1zM376.5 135.5h1.1v1.1h-1.1zM384 118.5h1.1v1.1h-1.1zM388.5 123.5h1.1v1.1h-1.1zM390.5 133.5h1.1v1.1h-1.1zM382.5 125h1.1v1.1h-1.1zM390.5 131h1.1v1.1h-1.1zM401 114h1.1v1.1h-1.1zM399.5 131.5h1.1v1.1h-1.1zM396.5 123h1.1v1.1h-1.1zM386 127.5h1.1v1.1h-1.1zM404 129h1.1v1.1h-1.1zM398 106.5h1.1v1.1h-1.1zM385.5 132.5h1.1v1.1h-1.1zM400.5 119.5h1.1v1.1h-1.1zM390.5 133h1.1v1.1h-1.1zM397.5 120.5h1.1v1.1h-1.1zM396 124.5h1.1v1.1h-1.1zM397.5 109.5h1.1v1.1h-1.1zM404.5 113h1.1v1.1h-1.1zM412.5 132h1.1v1.1h-1.1zM396.5 115.5h1.1v1.1h-1.1zM394.5 125h1.1v1.1h-1.1zM393 122.5h1.1v1.1h-1.1zM397 113h1.1v1.1h-1.1zM398 121h1.1v1.1h-1.1zM383.5 121.5h1.1v1.1h-1.1zM394.5 128h1.1v1.1h-1.1zM411 119.5h1.1v1.1h-1.1zM399.5 117.5h1.1v1.1h-1.1zM402 135h1.1v1.1h-1.1zM393.5 135h1.1v1.1h-1.1zM410 123.5h1.1v1.1h-1.1zM398 114.5h1.1v1.1h-1.1zM391.5 126.5h1.1v1.1h-1.1zM388 118.5h1.1v1.1h-1.1zM397.5 135h1.1v1.1h-1.1zM407 123h1.1v1.1h-1.1zM389 117.5h1.1v1.1h-1.1zM386.5 120.5h1.1v1.1h-1.1zM376 115h1.1v1.1h-1.1zM399 122.5h1.1v1.1h-1.1zM385.5 112h1.1v1.1h-1.1zM388 125h1.1v1.1h-1.1zM385.5 130h1.1v1.1h-1.1zM387 127h1.1v1.1h-1.1zM399.5 115h1.1v1.1h-1.1zM387.5 126.5h1.1v1.1h-1.1zM394.5 119.5h1.1v1.1h-1.1zM388 110.5h1.1v1.1h-1.1zM390.5 122h1.1v1.1h-1.1zM398.5 130h1.1v1.1h-1.1zM398.5 124.5h1.1v1.1h-1.1zM384.5 120h1.1v1.1h-1.1zM393.5 117.5h1.1v1.1h-1.1zM386 122.5h1.1v1.1h-1.1zM398.5 126.5h1.1v1.1h-1.1zM388.5 124h1.1v1.1h-1.1zM386 132.5h1.1v1.1h-1.1zM399.5 129.5h1.1v1.1h-1.1zM389 131h1.1v1.1h-1.1zM394 120.5h1.1v1.1h-1.1zM398.5 126.5h1.1v1.1h-1.1zM389 123h1.1v1.1h-1.1zM391 126.5h1.1v1.1h-1.1zM397.5 125.5h1.1v1.1h-1.1zM410.5 144h1.1v1.1h-1.1zM397.5 113.5h1.1v1.1h-1.1zM399 126.5h1.1v1.1h-1.1zM393.5 119h1.1v1.1h-1.1zM393 126.5h1.1v1.1h-1.1zM404.5 125.5h1.1v1.1h-1.1zM387.5 136.5h1.1v1.1h-1.1zM388 122h1.1v1.1h-1.1zM404.5 117.5h1.1v1.1h-1.1zM387.5 126h1.1v1.1h-1.1zM383.5 125.5h1.1v1.1h-1.1zM397 105.5h1.1v1.1h-1.1zM401 139.5h1.1v1.1h-1.1zM406.5 116h1.1v1.1h-1.1zM410 136.5h1.1v1.1h-1.1zM376 134h1.1v1.1h-1.1zM391.5 135h1.1v1.1h-1.1zM391 125.5h1.1v1.1h-1.1zM396 116.5h1.1v1.1h-1.1zM386.5 117.5h1.1v1.1h-1.1zM393.5 134h1.1v1.1h-1.1zM395.5 120h1.1v1.1h-1.1zM394.5 127h1.1v1.1h-1.1zM387 120.5h1.1v1.1h-1.1zM395 119h1.1v1.1h-1.1zM386.5 132h1.1v1.1h-1.1zM386.5 116h1.1v1.1h-1.1zM391.5 122h1.1v1.1h-1.1zM399.5 121.5h1.1v1.1h-1.1zM378 125h1.1v1.1h-1.1zM393 123h1.1v1.1h-1.1zM404 115h1.1v1.1h-1.1zM394.5 120.5h1.1v1.1h-1.1zM389 121h1.1v1.1h-1.1zM395 140.5h1.1v1.1h-1.1zM405.5 130.5h1.1v1.1h-1.1zM392 123h1.1v1.1h-1.1zM388 125.5h1.1v1.1h-1.1zM399 121.5h1.1v1.1h-1.1zM391 138h1.1v1.1h-1.1zM388 122.5h1.1v1.1h-1.1zM399.5 115.5h1.1v1.1h-1.1zM386.5 157.5h1.1v1.1h-1.1zM391 117h1.1v1.1h-1.1zM403.5 119h1.1v1.1h-1.1zM394.5 115.5h1.1v1.1h-1.1zM403 127.5h1.1v1.1h-1.1zM379.5 118h1.1v1.1h-1.1zM381.5 117h1.1v1.1h-1.1zM387 132h1.1v1.1h-1.1zM392 136h1.1v1.1h-1.1zM378.5 126.5h1.1v1.1h-1.1zM394.5 115h1.1v1.1h-1.1zM389 128h1.1v1.1h-1.1zM389 118.5h1.1v1.1h-1.1zM393 126.5h1.1v1.1h-1.1zM391 126.5h1.1v1.1h-1.1zM384 114h1.1v1.1h-1.1zM391 131.5h1.1v1.1h-1.1zM384 124h1.1v1.1h-1.1zM403 123.5h1.1v1.1h-1.1zM389.5 115h1.1v1.1h-1.1zM391 132h1.1v1.1h-1.1zM388 118h1.1v1.1h-1.1zM393 124.5h1.1v1.1h-1.1zM394.5 115.5h1.1v1.1h-1.1zM392 113.5h1.1v1.1h-1.1zM385 113.5h1.1v1.1h-1.1zM401.5 110h1.1v1.1h-1.1zM392.5 120.5h1.1v1.1h-1.1zM378.5 135h1.1v1.1h-1.1zM375.5 133h1.1v1.1h-1.1zM384.5 116.5h1.1v1.1h-1.1zM384 117h1.1v1.1h-1.1zM380 136.5h1.1v1.1h-1.1zM385.5 130.5h1.1v1.1h-1.1zM395.5 124h1.1v1.1h-1.1zM402.5 120.5h1.1v1.1h-1.1zM394.5 120.5h1.1v1.1h-1.1zM395.5 104h1.1v1.1h-1.1zM401.5 118.5h1.1v1.1h-1.1zM409.5 141.5h1.1v1.1h-1.1zM401.5 137h1.1v1.1h-1.1zM397.5 121.5h1.1v1.1h-1.1zM392 130.5h1.1v1.1h-1.1zM385 128.5h1.1v1.1h-1.1zM396 119h1.1v1.1h-1.1zM402 116h1.1v1.1h-1.1zM395 118.5h1.1v1.1h-1.1zM388.5 125h1.1v1.1h-1.1zM397.5 134.5h1.1v1.1h-1.1zM392 125.5h1.1v1.1h-1.1zM388.5 123.5h1.1v1.1h-1.1zM377.5 121.5h1.1v1.1h-1.1zM397 134h1.1v1.1h-1.1zM388 137.5h1.1v1.1h-1.1zM401.5 125.5h1.1v1.1h-1.1zM388 121.5h1.1v1.1h-1.1zM393.5 126.5h1.1v1.1h-1.1zM388.5 128.5h1.1v1.1h-1.1zM406.5 133.5h1.1v1.1h-1.1zM403.5 132h1.1v1.1h-1.1zM393 117h1.1v1.1h-1.1zM404 123h1.1v1.1h-1.1zM383.5 120h1.1v1.1h-1.1zM398 129h1.1v1.1h-1.1zM388.5 114.5h1.1v1.1h-1.1zM392 108.5h1.1v1.1h-1.1zM389.5 124h1.1v1.1h-1.1zM397.5 119.5h1.1v1.1h-1.1zM379 120h1.1v1.1h-1.1zM389.5 122.5h1.1v1.1h-1.1zM403.5 116h1.1v1.1h-1.1zM375.5 124.5h1.1v1.1h-1.1zM391.5 114h1.1v1.1h-1.1zM382.5 113.5h1.1v1.1h-1.1zM372.5 128h1.1v1.1h-1.1zM396 121h1.1v1.1h-1.1zM389.5 133h1.1v1.1h-1.1zM403 126h1.1v1.1h-1.1zM378.5 117.5h1.1v1.1h-1.1zM396 119h1.1v1.1h-1.1zM405 115h1.1v1.1h-1.1zM379 123.5h1.1v1.1h-1.1zM398 128h1.1v1.1h-1.1zM398.5 123.5h1.1v1.1h-1.1zM394.5 125.5h1.1v1.1h-1.1zM404 115.5h1.1v1.1h-1.1zM398.5 134h1.1v1.1h-1.1zM387.5 128.5h1.1v1.1h-1.1zM387 131.5h1.1v1.1h-1.1zM392 114h1.1v1.1h-1.1zM406 121.5h1.1v1.1h-1.1zM392 117h1.1v1.1h-1.1zM400 136.5h1.1v1.1h-1.1zM392 122h1.1v1.1h-1.1zM398 142h1.1v1.1h-1.1zM397.5 127h1.1v1.1h-1.1zM402.5 118.5h1.1v1.1h-1.1zM407.5 133.5h1.1v1.1h-1.1zM389.5 138h1.1v1.1h-1.1zM384.5 122h1.1v1.1h-1.1zM392.5 118.5h1.1v1.1h-1.1zM393 123h1.1v1.1h-1.1zM395.5 113.5h1.1v1.1h-1.1zM401 114.5h1.1v1.1h-1.1zM390 105.5h1.1v1.1h-1.1zM393.5 118.5h1.1v1.1h-1.1zM393.5 112.5h1.1v1.1h-1.1zM402 124.5h1.1v1.1h-1.1zM390 125.5h1.1v1.1h-1.1zM402.5 132h1.1v1.1h-1.1zM408.5 125.5h1.1v1.1h-1.1zM392 121.5h1.1v1.1h-1.1zM404.5 134h1.1v1.1h-1.1zM398 117.5h1.1v1.1h-1.1zM393 105.5h1.1v1.1h-1.1zM409 112h1.1v1.1h-1.1zM403 120h1.1v1.1h-1.1zM391.5 128h1.1v1.1h-1.1zM398 131.5h1.1v1.1h-1.1zM388.5 115h1.1v1.1h-1.1zM383 132h1.1v1.1h-1.1zM402 126.5h1.1v1.1h-1.1zM394 128.5h1.1v1.1h-1.1zM406.5 115h1.1v1.1h-1.1zM395 121.5h1.1v1.1h-1.1zM396 105.5h1.1v1.1h-1.1zM393 124h1.1v1.1h-1.1zM395 120h1.1v1.1h-1.1zM387.5 129h1.1v1.1h-1.1zM392 132.5h1.1v1.1h-1.1zM380.5 116h1.1v1.1h-1.1zM380 131h1.1v1.1h-1.1zM383 132.5h1.1v1.1h-1.1zM389 121h1.1v1.1h-1.1zM393 139h1.1v1.1h-1.1zM392.5 117h1.1v1.1h-1.1zM403 111.5h1.1v1.1h-1.1zM413 123.5h1.1v1.1h-1.1zM375 138h1.1v1.1h-1.1zM405 128h1.1v1.1h-1.1zM401 109h1.1v1.1h-1.1zM389 119h1.1v1.1h-1.1zM395 133.5h1.1v1.1h-1.1zM378.5 117.5h1.1v1.1h-1.1zM392 122h1.1v1.1h-1.1zM405.5 115h1.1v1.1h-1.1zM384.5 140h1.1v1.1h-1.1zM389 137.5h1.1v1.1h-1.1zM394.5 113h1.1v1.1h-1.1zM398.5 108.5h1.1v1.1h-1.1zM394 128.5h1.1v1.1h-1.1zM389.5 127.5h1.1v1.1h-1.1zM398.5 124h1.1v1.1h-1.1zM389 124.5h1.1v1.1h-1.1zM412 121.5h1.1v1.1h-1.1zM403 131.5h1.1v1.1h-1.1zM394.5 131h1.1v1.1h-1.1zM387 134.5h1.1v1.1h-1.1zM389 131h1.1v1.1h-1.1zM388 119.5h1.1v1.1h-1.1zM391 120.5h1.1v1.1h-1.1zM396.5 121.5h1.1v1.1h-1.1zM383.5 125h1.1v1.1h-1.1zM394.5 118h1.1v1.1h-1.1zM393.5 117h1.1v1.1h-1.1zM386 122h1.1v1.1h-1.1zM403.5 120h1.1v1.1h-1.1zM397 123h1.1v1.1h-1.1zM396 137h1.1v1.1h-1.1zM389 135h1.1v1.1h-1.1zM387.5 119.5h1.1v1.1h-1.1zM393.5 124.5h1.1v1.1h-1.1zM382 121.5h1.1v1.1h-1.1zM396 116.5h1.1v1.1h-1.1zM384.5 128h1.1v1.1h-1.1zM393 107.5h1.1v1.1h-1.1zM398.5 125h1.1v1.1h-1.1zM391 121h1.1v1.1h-1.1zM388 113h1.1v1.1h-1.1zM387.5 127h1.1v1.1h-1.1zM394.5 131h1.1v1.1h-1.1zM384.5 125h1.1v1.1h-1.1zM392.5 126.5h1.1v1.1h-1.1zM400.5 115.5h1.1v1.1h-1.1zM378.5 126.5h1.1v1.1h-1.1zM387 135.5h1.1v1.1h-1.1zM395 113.5h1.1v1.1h-1.1zM384.5 141.5h1.1v1.1h-1.1zM385 108h1.1v1.1h-1.1zM383.5 130.5h1.1v1.1h-1.1zM399.5 118h1.1v1.1h-1.1zM376.5 124.5h1.1v1.1h-1.1zM392 123h1.1v1.1h-1.1zM391.5 123h1.1v1.1h-1.1zM393 131.5h1.1v1.1h-1.1zM387 120.5h1.1v1.1h-1.1zM393.5 124.5h1.1v1.1h-1.1zM388.5 132.5h1.1v1.1h-1.1zM386 122h1.1v1.1h-1.1zM412.5 105h1.1v1.1h-1.1zM400.5 118.5h1.1v1.1h-1.1zM384.5 118h1.1v1.1h-1.1zM387 115.5h1.1v1.1h-1.1zM396 128h1.1v1.1h-1.1zM403.5 123.5h1.1v1.1h-1.1zM391 116.5h1.1v1.1h-1.1zM398 118h1.1v1.1h-1.1zM394 111h1.1v1.1h-1.1zM401.5 118.5h1.1v1.1h-1.1zM388.5 138.5h1.1v1.1h-1.1zM387 108.5h1.1v1.1h-1.1zM395 139h1.1v1.1h-1.1zM395 122.5h1.1v1.1h-1.1zM393 121h1.1v1.1h-1.1zM402 118h1.1v1.1h-1.1zM398 112.5h1.1v1.1h-1.1zM393.5 128h1.1v1.1h-1.1zM384 120h1.1v1.1h-1.1zM398 117.5h1.1v1.1h-1.1zM399.5 122.5h1.1v1.1h-1.1zM388 136h1.1v1.1h-1.1zM392 119h1.1v1.1h-1.1zM384.5 121.5h1.1v1.1h-1.1zM393.5 134h1.1v1.1h-1.1zM391 114h1.1v1.1h-1.1zM379 130h1.1v1.1h-1.1zM393 143.5h1.1v1.1h-1.1zM390.5 122.5h1.1v1.1h-1.1zM390 109h1.1v1.1h-1.1zM401 131h1.1v1.1h-1.1zM396.5 120h1.1v1.1h-1.1zM399.5 134h1.1v1.1h-1.1zM390.5 127.5h1.1v1.1h-1.1zM403 125.5h1.1v1.1h-1.1zM387 115.5h1.1v1.1h-1.1zM398.5 133h1.1v1.1h-1.1zM381.5 127h1.1v1.1h-1.1zM394.5 127h1.1v1.1h-1.1zM385 127h1.1v1.1h-1.1zM382 127h1.1v1.1h-1.1zM398 125h1.1v1.1h-1.1zM394.5 122.5h1.1v1.1h-1.1zM396.5 109.5h1.1v1.1h-1.1zM393 118.5h1.1v1.1h-1.1zM395 120.5h1.1v1.1h-1.1zM392.5 132.5h1.1v1.1h-1.1zM391.5 132.5h1.1v1.1h-1.1zM394 115.5h1.1v1.1h-1.1zM410.5 119.5h1.1v1.1h-1.1zM385.5 118.5h1.1v1.1h-1.1zM381.5 126h1.1v1.1h-1.1zM386 126h1.1v1.1h-1.1zM388 128.5h1.1v1.1h-1.1zM397 118h1.1v1.1h-1.1zM401.5 121h1.1v1.1h-1.1zM402 141h1.1v1.1h-1.1zM391.5 114h1.1v1.1h-1.1zM398.5 136h1.1v1.1h-1.1zM407.5 130.5h1.1v1.1h-1.1zM398 132h1.1v1.1h-1.1zM403.5 125h1.1v1.1h-1.1zM386 124h1.1v1.1h-1.1zM400 130.5h1.1v1.1h-1.1zM399.5 123h1.1v1.1h-1.1zM384 123.5h1.1v1.1h-1.1zM393.5 122h1.1v1.1h-1.1zM398 127.5h1.1v1.1h-1.1zM386.5 123.5h1.1v1.1h-1.1zM400.5 121.5h1.1v1.1h-1.1zM401 129h1.1v1.1h-1.1zM395.5 125.5h1.1v1.1h-1.1zM392.5 113.5h1.1v1.1h-1.1zM392 123.5h1.1v1.1h-1.1zM396 135.5h1.1v1.1h-1.1zM402 127.5h1.1v1.1h-1.1zM383 137h1.1v1.1h-1.1zM395 110h1.1v1.1h-1.1zM395 127h1.1v1.1h-1.1zM386.5 108h1.1v1.1h-1.1zM383.5 129h1.1v1.1h-1.1zM391.5 118.5h1.1v1.1h-1.1zM380.5 122.5h1.1v1.1h-1.1zM395 127.5h1.1v1.1h-1.1zM391 117h1.1v1.1h-1.1zM384.5 118h1.1v1.1h-1.1zM393 120.5h1.1v1.1h-1.1zM386.5 130h1.1v1.1h-1.1zM387.5 135h1.1v1.1h-1.1zM402 117.5h1.1v1.1h-1.1zM387 116h1.1v1.1h-1.1zM373.5 124h1.1v1.1h-1.1zM395.5 113.5h1.1v1.1h-1.1zM385 112.5h1.1v1.1h-1.1zM386 128h1.1v1.1h-1.1zM405 119.5h1.1v1.1h-1.1zM392.5 136.5h1.1v1.1h-1.1zM399 116h1.1v1.1h-1.1zM382.5 136h1.1v1.1h-1.1zM385 134h1.1v1.1h-1.1zM386.5 121h1.1v1.1h-1.1zM398.5 125.5h1.1v1.1h-1.1zM387.5 101.5h1.1v1.1h-1.1zM378 126h1.1v1.1h-1.1zM398.5 124h1.1v1.1h-1.1zM389 117h1.1v1.1h-1.1zM393.5 135h1.1v1.1h-1.1zM398.5 104h1.1v1.1h-1.1zM409.5 129.5h1.1v1.1h-1.1zM392.5 124h1.1v1.1h-1.1zM405 125.5h1.1v1.1h-1.1zM382 111h1.1v1.1h-1.1zM394 129h1.1v1.1h-1.1zM395 119.5h1.1v1.1h-1.1zM376 125h1.1v1.1h-1.1zM385 131.5h1.1v1.1h-1.1zM387 116.5h1.1v1.1h-1.1zM396.5 100h1.1v1.1h-1.1zM389 126.5h1.1v1.1h-1.1zM389.5 125.5h1.1v1.1h-1.1zM387.5 121.5h1.1v1.1h-1.1zM396.5 118.5h1.1v1.1h-1.1zM392.5 116h1.1v1.1h-1.1zM392 125h1.1v1.1h-1.1zM391 129h1.1v1.1h-1.1zM398 120.5h1.1v1.1h-1.1zM387.5 135h1.1v1.1h-1.1zM392.5 122h1.1v1.1h-1.1zM393 129.5h1.1v1.1h-1.1zM396 123h1.1v1.1h-1.1zM400.5 124.5h1.1v1.1h-1.1zM395.5 132.5h1.1v1.1h-1.1zM383 130h1.1v1.1h-1.1zM400.5 134.5h1.1v1.1h-1.1zM402.5 134h1.1v1.1h-1.1zM403 125h1.1v1.1h-1.1zM400 131h1.1v1.1h-1.1zM381.5 129h1.1v1.1h-1.1zM392.5 129h1.1v1.1h-1.1zM399.5 131.5h1.1v1.1h-1.1zM399.5 126h1.1v1.1h-1.1zM392.5 126.5h1.1v1.1h-1.1zM394.5 129.5h1.1v1.1h-1.1zM385 117.5h1.1v1.1h-1.1zM396.5 132h1.1v1.1h-1.1zM377.5 133.5h1.1v1.1h-1.1zM392 108h1.1v1.1h-1.1zM401 131.5h1.1v1.1h-1.1zM384.5 119h1.1v1.1h-1.1zM403.5 118h1.1v1.1h-1.1zM408.5 130.5h1.1v1.1h-1.1zM397.5 117.5h1.1v1.1h-1.1zM389.5 127h1.1v1.1h-1.1zM390 119.5h1.1v1.1h-1.1zM384.5 114.5h1.1v1.1h-1.1zM399 139.5h1.1v1.1h-1.1zM385 118.5h1.1v1.1h-1.1zM395 114.5h1.1v1.1h-1.1zM385.5 121.5h1.1v1.1h-1.1zM398 139.5h1.1v1.1h-1.1zM383 111h1.1v1.1h-1.1zM393 134h1.1v1.1h-1.1zM388 118.5h1.1v1.1h-1.1zM401.5 126.5h1.1v1.1h-1.1zM390.5 124h1.1v1.1h-1.1zM392.5 133.5h1.1v1.1h-1.1zM402.5 118.5h1.1v1.1h-1.1zM385 140.5h1.1v1.1h-1.1zM384 121.5h1.1v1.1h-1.1zM393 113h1.1v1.1h-1.1zM386 126.5h1.1v1.1h-1.1zM406.5 131.5h1.1v1.1h-1.1zM394.5 130.5h1.1v1.1h-1.1zM395.5 132.5h1.1v1.1h-1.1zM391 123h1.1v1.1h-1.1zM369.5 137h1.1v1.1h-1.1zM403 132h1.1v1.1h-1.1zM392.5 117h1.1v1.1h-1.1zM378 121.5h1.1v1.1h-1.1zM385 119h1.1v1.1h-1.1zM393 122.5h1.1v1.1h-1.1zM403 127h1.1v1.1h-1.1zM396 121h1.1v1.1h-1.1zM396 123.5h1.1v1.1h-1.1zM396 131h1.1v1.1h-1.1zM386.5 132h1.1v1.1h-1.1zM388.5 137h1.1v1.1h-1.1zM393.5 99h1.1v1.1h-1.1zM383 119.5h1.1v1.1h-1.1zM393.5 119h1.1v1.1h-1.1zM398.5 120.5h1.1v1.1h-1.1zM375.5 117.5h1.1v1.1h-1.1zM391.5 117.5h1.1v1.1h-1.1zM391 131h1.1v1.1h-1.1zM394 136h1.1v1.1h-1.1zM406.5 116h1.1v1.1h-1.1zM383 131h1.1v1.1h-1.1zM408 107h1.1v1.1h-1.1zM398.5 129.5h1.1v1.1h-1.1zM412 139h1.1v1.1h-1.1zM390.5 133h1.1v1.1h-1.1zM396 118h1.1v1.1h-1.1zM392.5 118h1.1v1.1h-1.1zM397 122.5h1.1v1.1h-1.1zM386.5 135.5h1.1v1.1h-1.1zM387.5 128h1.1v1.1h-1.1zM392 126.5h1.1v1.1h-1.1zM398 129.5h1.1v1.1h-1.1zM383.5 116h1.1v1.1h-1.1zM390.5 107h1.1v1.1h-1.1zM388.5 120h1.1v1.1h-1.1zM395.5 120.5h1.1v1.1h-1.1zM399.5 127.5h1.1v1.1h-1.1zM382 125.5h1.1v1.1h-1.1zM385.5 151.5h1.1v1.1h-1.1zM390.5 121h1.1v1.1h-1.1zM385.5 120h1.1v1.1h-1.1zM404 136.5h1.1v1.1h-1.1zM406 125.5h1.1v1.1h-1.1zM399 141.5h1.1v1.1h-1.1zM397 141h1.1v1.1h-1.1zM384.5 132h1.1v1.1h-1.1zM385.5 131.5h1.1v1.1h-1.1zM396.5 112h1.1v1.1h-1.1zM404.5 136h1.1v1.1h-1.1zM390.5 127h1.1v1.1h-1.1zM395.5 130.5h1.1v1.1h-1.1zM405.5 133.5h1.1v1.1h-1.1zM406.5 126.5h1.1v1.1h-1.1zM385.5 117h1.1v1.1h-1.1zM395 121h1.1v1.1h-1.1zM399 117h1.1v1.1h-1.1zM380.5 133h1.1v1.1h-1.1zM389.5 125h1.1v1.1h-1.1zM394.5 126h1.1v1.1h-1.1zM389 121.5h1.1v1.1h-1.1zM397 124h1.1v1.1h-1.1zM390 115.5h1.1v1.1h-1.1zM380 126h1.1v1.1h-1.1zM383.5 116h1.1v1.1h-1.1zM376.5 127.5h1.1v1.1h-1.1zM382.5 123h1.1v1.1h-1.1zM397 129h1.1v1.1h-1.1zM395 134.5h1.1v1.1h-1.1zM396.5 129h1.1v1.1h-1.1zM402.5 126.5h1.1v1.1h-1.1zM384 132.5h1.1v1.1h-1.1zM389 120.5h1.1v1.1h-1.1zM393.5 125h1.1v1.1h-1.1zM405.5 128.5h1.1v1.1h-1.1zM395 113.5h1.1v1.1h-1.1zM391.5 119.5h1.1v1.1h-1.1zM395 142.5h1.1v1.1h-1.1zM385.5 127h1.1v1.1h-1.1zM377.5 127h1.1v1.1h-1.1zM396.5 130h1.1v1.1h-1.1zM389.5 124h1.1v1.1h-1.1zM396 122h1.1v1.1h-1.1zM383.5 123h1.1v1.1h-1.1zM385.5 134h1.1v1.1h-1.1zM398.5 139h1.1v1.1h-1.1zM394 121h1.1v1.1h-1.1zM400 124.5h1.1v1.1h-1.1zM387.5 129h1.1v1.1h-1.1zM393 116h1.1v1.1h-1.1zM398 126h1.1v1.1h-1.1zM399.5 134.5h1.1v1.1h-1.1zM392.5 135h1.1v1.1h-1.1zM395 146h1.1v1.1h-1.1zM392 123h1.1v1.1h-1.1zM391.5 125.5h1.1v1.1h-1.1zM392 133h1.1v1.1h-1.1zM396 128.5h1.1v1.1h-1.1zM382.5 135.5h1.1v1.1h-1.1zM392 126h1.1v1.1h-1.1zM384.5 111.5h1.1v1.1h-1.1zM392.5 119h1.1v1.1h-1.1zM390.5 111.5h1.1v1.1h-1.1zM393.5 127h1.1v1.1h-1.1zM390.5 136.5h1.1v1.1h-1.1zM391 130.5h1.1v1.1h-1.1zM381.5 121.5h1.1v1.1h-1.1zM403 108.5h1.1v1.1h-1.1zM382 125.5h1.1v1.1h-1.1zM377.5 119.5h1.1v1.1h-1.1zM395 120h1.1v1.1h-1.1zM396.5 125.5h1.1v1.1h-1.1zM391.5 145h1.1v1.1h-1.1zM389.5 121.5h1.1v1.1h-1.1zM383.5 119h1.1v1.1h-1.1zM406 113h1.1v1.1h-1.1zM379 133h1.1v1.1h-1.1zM410 117h1.1v1.1h-1.1zM380 109h1.1v1.1h-1.1zM384 121h1.1v1.1h-1.1zM390 127.5h1.1v1.1h-1.1zM388.5 114.5h1.1v1.1h-1.1zM395.5 124h1.1v1.1h-1.1zM385.5 110.5h1.1v1.1h-1.1zM389.5 135h1.1v1.1h-1.1zM380 114.5h1.1v1.1h-1.1zM401 124h1.1v1.1h-1.1zM389.5 116.5h1.1v1.1h-1.1zM386.5 120h1.1v1.1h-1.1zM392.5 127h1.1v1.1h-1.1zM399 119.5h1.1v1.1h-1.1zM395 123.5h1.1v1.1h-1.1zM387 134.5h1.1v1.1h-1.1zM393.5 146.5h1.1v1.1h-1.1zM395 131.5h1.1v1.1h-1.1zM395.5 125h1.1v1.1h-1.1zM390 126.5h1.1v1.1h-1.1zM397.5 114h1.1v1.1h-1.1zM384 115.5h1.1v1.1h-1.1zM393.5 115.5h1.1v1.1h-1.1zM386.5 128h1.1v1.1h-1.1zM393 123.5h1.1v1.1h-1.1zM388 121.5h1.1v1.1h-1.1zM398 144.5h1.1v1.1h-1.1zM389.5 124.5h1.1v1.1h-1.1zM401.5 131.5h1.1v1.1h-1.1zM385.5 128.5h1.1v1.1h-1.1zM400.5 125h1.1v1.1h-1.1zM386 129h1.1v1.1h-1.1zM374 112h1.1v1.1h-1.1zM385 125.5h1.1v1.1h-1.1zM399.5 133.5h1.1v1.1h-1.1zM394 139h1.1v1.1h-1.1zM396.5 123h1.1v1.1h-1.1zM389.5 136.5h1.1v1.1h-1.1zM395.5 131.5h1.1v1.1h-1.1zM385 121.5h1.1v1.1h-1.1zM406 111h1.1v1.1h-1.1zM405 127.5h1.1v1.1h-1.1zM396 119.5h1.1v1.1h-1.1zM388.5 134.5h1.1v1.1h-1.1zM388 128h1.1v1.1h-1.1zM397.5 112.5h1.1v1.1h-1.1zM395.5 121h1.1v1.1h-1.1zM386 128h1.1v1.1h-1.1zM398.5 135.5h1.1v1.1h-1.1zM399.5 103h1.1v1.1h-1.1zM397.5 129h1.1v1.1h-1.1zM396 113.5h1.1v1.1h-1.1zM395 122.5h1.1v1.1h-1.1zM393 117h1.1v1.1h-1.1zM391 132.5h1.1v1.1h-1.1zM388.5 127.5h1.1v1.1h-1.1zM402.5 139.5h1.1v1.1h-1.1zM381.5 135.5h1.1v1.1h-1.1zM394 118.5h1.1v1.1h-1.1zM400 106h1.1v1.1h-1.1zM411 122.5h1.1v1.1h-1.1zM390.5 120h1.1v1.1h-1.1zM404 125.5h1.1v1.1h-1.1zM403 118.5h1.1v1.1h-1.1zM400.5 119h1.1v1.1h-1.1zM407.5 131h1.1v1.1h-1.1zM381 126.5h1.1v1.1h-1.1zM401 119h1.1v1.1h-1.1zM393 128h1.1v1.1h-1.1zM397 117h1.1v1.1h-1.1zM392.5 125h1.1v1.1h-1.1zM387.5 132.5h1.1v1.1h-1.1zM379.5 120.5h1.1v1.1h-1.1zM397 113h1.1v1.1h-1.1zM392 126h1.1v1.1h-1.1zM383.5 121h1.1v1.1h-1.1zM392.5 139.5h1.1v1.1h-1.1zM385 123.5h1.1v1.1h-1.1zM387 119h1.1v1.1h-1.1zM395 114.5h1.1v1.1h-1.1zM399.5 105h1.1v1.1h-1.1zM379 117h1.1v1.1h-1.1zM393 124.5h1.1v1.1h-1.1zM398 116.5h1.1v1.1h-1.1zM384 128.5h1.1v1.1h-1.1zM391 132h1.1v1.1h-1.1zM396 130h1.1v1.1h-1.1zM400.5 118.5h1.1v1.1h-1.1zM384.5 117.5h1.1v1.1h-1.1zM381 131.5h1.1v1.1h-1.1zM388.5 118.5h1.1v1.1h-1.1zM389.5 119h1.1v1.1h-1.1zM393 119.5h1.1v1.1h-1.1zM393.5 135.5h1.1v1.1h-1.1zM378.5 108.5h1.1v1.1h-1.1zM398.5 134h1.1v1.1h-1.1zM380.5 132h1.1v1.1h-1.1zM395.5 138h1.1v1.1h-1.1zM397 128.5h1.1v1.1h-1.1zM396 143.5h1.1v1.1h-1.1zM395.5 131h1.1v1.1h-1.1zM396 117h1.1v1.1h-1.1zM387 112h1.1v1.1h-1.1zM386.5 124.5h1.1v1.1h-1.1zM409 128.5h1.1v1.1h-1.1zM405 127h1.1v1.1h-1.1zM403.5 133h1.1v1.1h-1.1zM399.5 134h1.1v1.1h-1.1zM381 103.5h1.1v1.1h-1.1zM407.5 124h1.1v1.1h-1.1zM391.5 124h1.1v1.1h-1.1zM393 129.5h1.1v1.1h-1.1zM399 117.5h1.1v1.1h-1.1zM388 134h1.1v1.1h-1.1zM403 125h1.1v1.1h-1.1zM374.5 135.5h1.1v1.1h-1.1zM402.5 119h1.1v1.1h-1.1zM397 123h1.1v1.1h-1.1zM386.5 113h1.1v1.1h-1.1zM399.5 116h1.1v1.1h-1.1zM402 121.5h1.1v1.1h-1.1zM399 119.5h1.1v1.1h-1.1zM400 127h1.1v1.1h-1.1zM391 128h1.1v1.1h-1.1zM401 124h1.1v1.1h-1.1zM401 124.5h1.1v1.1h-1.1zM403 114.5h1.1v1.1h-1.1zM398 120.5h1.1v1.1h-1.1zM380 122h1.1v1.1h-1.1zM397 118h1.1v1.1h-1.1zM383 130.5h1.1v1.1h-1.1zM387 129h1.1v1.1h-1.1zM392 117h1.1v1.1h-1.1zM394 120h1.1v1.1h-1.1zM390.5 123.5h1.1v1.1h-1.1zM395 124.5h1.1v1.1h-1.1zM396.5 136.5h1.1v1.1h-1.1zM394 122h1.1v1.1h-1.1zM393 118.5h1.1v1.1h-1.1zM395 127h1.1v1.1h-1.1zM397.5 129h1.1v1.1h-1.1zM385.5 134h1.1v1.1h-1.1zM381 115.5h1.1v1.1h-1.1zM400.5 121.5h1.1v1.1h-1.1zM393.5 125.5h1.1v1.1h-1.1zM374.5 125h1.1v1.1h-1.1zM401 110.5h1.1v1.1h-1.1zM401 127h1.1v1.1h-1.1zM378 136h1.1v1.1h-1.1zM383 129h1.1v1.1h-1.1zM388 122.5h1.1v1.1h-1.1zM382.5 115h1.1v1.1h-1.1zM387 115h1.1v1.1h-1.1zM391.5 123.5h1.1v1.1h-1.1zM399.5 117h1.1v1.1h-1.1zM373 117h1.1v1.1h-1.1zM393 109.5h1.1v1.1h-1.1zM400.5 127h1.1v1.1h-1.1zM373.5 130.5h1.1v1.1h-1.1zM394.5 123h1.1v1.1h-1.1zM391.5 128.5h1.1v1.1h-1.1zM388 124.5h1.1v1.1h-1.1zM398 137.5h1.1v1.1h-1.1zM402.5 122.5h1.1v1.1h-1.1zM401 123h1.1v1.1h-1.1zM408 113h1.1v1.1h-1.1zM387 123h1.1v1.1h-1.1zM376.5 120h1.1v1.1h-1.1zM388.5 119h1.1v1.1h-1.1zM393.5 136h1.1v1.1h-1.1zM401.5 130h1.1v1.1h-1.1zM396.5 132h1.1v1.1h-1.1zM388 126h1.1v1.1h-1.1zM403 115.5h1.1v1.1h-1.1zM396 124h1.1v1.1h-1.1zM394.5 132h1.1v1.1h-1.1zM391 116.5h1.1v1.1h-1.1zM395.5 122h1.1v1.1h-1.1zM397 123.5h1.1v1.1h-1.1zM392.5 132h1.1v1.1h-1.1zM374 124h1.1v1.1h-1.1zM386 130h1.1v1.1h-1.1zM396 129h1.1v1.1h-1.1zM404.5 121.5h1.1v1.1h-1.1zM401.5 125.5h1.1v1.1h-1.1zM401 113h1.1v1.1h-1.1zM406 119.5h1.1v1.1h-1.1zM398 128.5h1.1v1.1h-1.1zM403 127.5h1.1v1.1h-1.1zM400.5 127h1.1v1.1h-1.1zM394.5 124.5h1.1v1.1h-1.1zM386 131h1.1v1.1h-1.1zM380 129.5h1.1v1.1h-1.1zM396.5 124.5h1.1v1.1h-1.1zM383.5 110.5h1.1v1.1h-1.1zM392 150h1.1v1.1h-1.1zM398.5 143.5h1.1v1.1h-1.1zM387.5 117.5h1.1v1.1h-1.1zM400 137h1.1v1.1h-1.1zM393.5 122.5h1.1v1.1h-1.1zM386 134.5h1.1v1.1h-1.1zM397.5 117h1.1v1.1h-1.1zM398.5 124h1.1v1.1h-1.1zM389.5 120.5h1.1v1.1h-1.1zM397 130.5h1.1v1.1h-1.1zM384.5 132h1.1v1.1h-1.1zM394 125.5h1.1v1.1h-1.1zM395.5 105h1.1v1.1h-1.1zM385 125h1.1v1.1h-1.1zM394 115.5h1.1v1.1h-1.1zM404.5 137.5h1.1v1.1h-1.1zM388 120h1.1v1.1h-1.1zM384.5 106h1.1v1.1h-1.1zM382 123h1.1v1.1h-1.1zM387 113h1.1v1.1h-1.1zM384.5 128.5h1.1v1.1h-1.1zM380.5 113.5h1.1v1.1h-1.1zM394 128h1.1v1.1h-1.1zM396 110.5h1.1v1.1h-1.1zM385.5 134.5h1.1v1.1h-1.1zM394 124h1.1v1.1h-1.1zM400.5 130.5h1.1v1.1h-1.1zM396 122.5h1.1v1.1h-1.1zM395 141.5h1.1v1.1h-1.1zM398.5 122.5h1.1v1.1h-1.1zM388.5 129.5h1.1v1.1h-1.1zM400.5 123h1.1v1.1h-1.1zM408 134.5h1.1v1.1h-1.1zM388.5 111.5h1.1v1.1h-1.1zM379 110.5h1.1v1.1h-1.1zM388 128.5h1.1v1.1h-1.1zM385.5 117.5h1.1v1.1h-1.1zM395 115.5h1.1v1.1h-1.1zM403 128h1.1v1.1h-1.1zM398 123.5h1.1v1.1h-1.1zM407 102.5h1.1v1.1h-1.1zM397 124.5h1.1v1.1h-1.1zM394.5 119h1.1v1.1h-1.1zM378.5 114.5h1.1v1.1h-1.1zM396.5 130h1.1v1.1h-1.1zM388.5 128.5h1.1v1.1h-1.1zM389.5 135.5h1.1v1.1h-1.1zM391.5 119h1.1v1.1h-1.1zM406 115.5h1.1v1.1h-1.1zM400.5 145.5h1.1v1.1h-1.1zM394 131h1.1v1.1h-1.1zM382.5 129.5h1.1v1.1h-1.1zM390.5 116h1.1v1.1h-1.1zM391.5 119.5h1.1v1.1h-1.1zM400.5 130.5h1.1v1.1h-1.1zM398 98h1.1v1.1h-1.1zM398 112h1.1v1.1h-1.1zM386.5 126h1.1v1.1h-1.1zM401 107h1.1v1.1h-1.1zM414.5 129.5h1.1v1.1h-1.1zM383 121.5h1.1v1.1h-1.1zM385.5 108.5h1.1v1.1h-1.1zM394 123h1.1v1.1h-1.1zM401 123.5h1.1v1.1h-1.1zM395.5 122h1.1v1.1h-1.1zM394.5 128h1.1v1.1h-1.1zM405 109.5h1.1v1.1h-1.1zM385 118.5h1.1v1.1h-1.1zM377.5 127h1.1v1.1h-1.1zM381.5 125h1.1v1.1h-1.1zM399.5 125h1.1v1.1h-1.1zM400.5 147.5h1.1v1.1h-1.1zM390.5 119.5h1.1v1.1h-1.1zM382 118h1.1v1.1h-1.1zM386.5 128.5h1.1v1.1h-1.1zM396 121h1.1v1.1h-1.1zM400.5 131h1.1v1.1h-1.1zM388.5 121.5h1.1v1.1h-1.1zM386.5 138h1.1v1.1h-1.1zM386 117.5h1.1v1.1h-1.1zM388 121h1.1v1.1h-1.1zM398 131h1.1v1.1h-1.1zM394.5 124h1.1v1.1h-1.1zM395.5 131h1.1v1.1h-1.1zM393.5 130h1.1v1.1h-1.1zM394.5 131h1.1v1.1h-1.1zM382.5 112.5h1.1v1.1h-1.1zM384.5 131h1.1v1.1h-1.1zM395.5 124h1.1v1.1h-1.1zM396 126.5h1.1v1.1h-1.1zM401 116.5h1.1v1.1h-1.1zM392.5 128h1.1v1.1h-1.1zM386 131h1.1v1.1h-1.1zM391.5 127h1.1v1.1h-1.1zM391 128.5h1.1v1.1h-1.1zM397 125.5h1.1v1.1h-1.1zM391.5 122.5h1.1v1.1h-1.1zM397 128.5h1.1v1.1h-1.1zM397.5 122.5h1.1v1.1h-1.1zM397.5 123h1.1v1.1h-1.1zM397.5 128h1.1v1.1h-1.1zM385.5 132.5h1.1v1.1h-1.1zM402 139.5h1.1v1.1h-1.1zM406 134h1.1v1.1h-1.1zM400 125h1.1v1.1h-1.1zM406 117.5h1.1v1.1h-1.1zM397 127.5h1.1v1.1h-1.1zM389.5 116h1.1v1.1h-1.1zM398 116h1.1v1.1h-1.1zM393.5 108h1.1v1.1h-1.1zM393 135h1.1v1.1h-1.1zM406.5 134h1.1v1.1h-1.1zM387 115h1.1v1.1h-1.1zM403 125.5h1.1v1.1h-1.1zM390 127.5h1.1v1.1h-1.1zM381 137.5h1.1v1.1h-1.1zM400 137h1.1v1.1h-1.1zM395 117h1.1v1.1h-1.1zM396 127.5h1.1v1.1h-1.1zM396.5 111h1.1v1.1h-1.1zM403 123.5h1.1v1.1h-1.1zM397.5 125h1.1v1.1h-1.1zM392.5 122h1.1v1.1h-1.1zM394 114.5h1.1v1.1h-1.1zM398 121.5h1.1v1.1h-1.1zM390.5 143h1.1v1.1h-1.1zM398 119h1.1v1.1h-1.1zM379 124.5h1.1v1.1h-1.1zM394 132.5h1.1v1.1h-1.1zM394.5 131.5h1.1v1.1h-1.1zM400 121.5h1.1v1.1h-1.1zM386.5 137h1.1v1.1h-1.1zM393 137h1.1v1.1h-1.1zM398.5 126.5h1.1v1.1h-1.1zM416.5 127.5h1.1v1.1h-1.1zM396 124h1.1v1.1h-1.1zM399.5 129.5h1.1v1.1h-1.1zM390.5 127h1.1v1.1h-1.1zM411 134.5h1.1v1.1h-1.1zM393 110h1.1v1.1h-1.1zM393 133h1.1v1.1h-1.1zM396 123.5h1.1v1.1h-1.1zM385 137h1.1v1.1h-1.1zM387 135h1.1v1.1h-1.1zM392 123.5h1.1v1.1h-1.1zM388.5 124.5h1.1v1.1h-1.1zM402 120.5h1.1v1.1h-1.1zM390.5 116h1.1v1.1h-1.1zM411.5 123h1.1v1.1h-1.1zM396.5 131.5h1.1v1.1h-1.1zM389 122.5h1.1v1.1h-1.1zM395.5 113h1.1v1.1h-1.1zM399.5 124.5h1.1v1.1h-1.1zM394.5 115h1.1v1.1h-1.1zM397.5 125h1.1v1.1h-1.1zM392.5 130h1.1v1.1h-1.1zM388.5 132.5h1.1v1.1h-1.1zM393.5 134h1.1v1.1h-1.1zM407.5 117h1.1v1.1h-1.1zM391 102h1.1v1.1h-1.1zM393.5 124h1.1v1.1h-1.1zM382.5 122h1.1v1.1h-1.1zM389 130.5h1.1v1.1h-1.1zM396.5 130h1.1v1.1h-1.1zM391.5 121.5h1.1v1.1h-1.1zM402.5 124.5h1.1v1.1h-1.1zM401 131.5h1.1v1.1h-1.1zM390.5 118.5h1.1v1.1h-1.1zM393 105.5h1.1v1.1h-1.1zM399 127h1.1v1.1h-1.1zM396.5 125.5h1.1v1.1h-1.1zM391.5 119.5h1.1v1.1h-1.1zM380 135h1.1v1.1h-1.1zM404 123h1.1v1.1h-1.1zM394 117.5h1.1v1.1h-1.1zM395 126h1.1v1.1h-1.1zM388.5 139h1.1v1.1h-1.1zM405 114.5h1.1v1.1h-1.1zM393 131h1.1v1.1h-1.1zM395 113h1.1v1.1h-1.1zM378.5 130h1.1v1.1h-1.1zM390 120h1.1v1.1h-1.1zM393 120.5h1.1v1.1h-1.1zM396.5 130h1.1v1.1h-1.1zM399 145.5h1.1v1.1h-1.1zM392 109h1.1v1.1h-1.1zM401 122h1.1v1.1h-1.1zM392.5 117h1.1v1.1h-1.1zM392 134h1.1v1.1h-1.1zM393.5 124.5h1.1v1.1h-1.1zM381 116.5h1.1v1.1h-1.1zM376.5 131h1.1v1.1h-1.1zM407 129.5h1.1v1.1h-1.1zM380.5 123h1.1v1.1h-1.1zM388.5 131h1.1v1.1h-1.1zM397.5 127h1.1v1.1h-1.1zM388 132h1.1v1.1h-1.1zM401.5 114.5h1.1v1.1h-1.1zM378.5 129.5h1.1v1.1h-1.1zM394 132h1.1v1.1h-1.1zM398 116.5h1.1v1.1h-1.1zM409.5 154.5h1.1v1.1h-1.1zM404 137h1.1v1.1h-1.1zM387.5 126h1.1v1.1h-1.1zM399.5 119h1.1v1.1h-1.1zM395 122h1.1v1.1h-1.1zM384 123.5h1.1v1.1h-1.1zM389 128h1.1v1.1h-1.1zM401 112.5h1.1v1.1h-1.1zM391 114.5h1.1v1.1h-1.1zM386 135h1.1v1.1h-1.1zM388.5 112.5h1.1v1.1h-1.1zM383.5 141h1.1v1.1h-1.1zM381 122.5h1.1v1.1h-1.1zM395.5 111.5h1.1v1.1h-1.1zM396.5 116.5h1.1v1.1h-1.1zM400.5 138.5h1.1v1.1h-1.1zM381.5 126h1.1v1.1h-1.1zM384.5 115h1.1v1.1h-1.1zM396 135h1.1v1.1h-1.1zM394 128.5h1.1v1.1h-1.1zM391.5 118.5h1.1v1.1h-1.1zM384 114.5h1.1v1.1h-1.1zM390.5 110.5h1.1v1.1h-1.1zM382 124.5h1.1v1.1h-1.1zM404 128.5h1.1v1.1h-1.1zM398 137h1.1v1.1h-1.1zM385.5 137.5h1.1v1.1h-1.1zM402 132.5h1.1v1.1h-1.1zM385 111.5h1.1v1.1h-1.1zM397 119h1.1v1.1h-1.1zM394 128.5h1.1v1.1h-1.1zM389.5 122h1.1v1.1h-1.1zM402.5 125h1.1v1.1h-1.1zM380 120.5h1.1v1.1h-1.1zM390 124h1.1v1.1h-1.1zM390 133h1.1v1.1h-1.1zM379 128.5h1.1v1.1h-1.1zM381 112h1.1v1.1h-1.1zM393.5 120.5h1.1v1.1h-1.1zM394.5 114.5h1.1v1.1h-1.1zM385 110h1.1v1.1h-1.1zM396.5 132.5h1.1v1.1h-1.1zM396 124h1.1v1.1h-1.1zM398.5 145.5h1.1v1.1h-1.1zM390.5 130h1.1v1.1h-1.1zM392 128.5h1.1v1.1h-1.1zM397 120h1.1v1.1h-1.1zM388.5 118h1.1v1.1h-1.1zM386.5 131h1.1v1.1h-1.1zM383.5 120h1.1v1.1h-1.1zM396.5 138h1.1v1.1h-1.1zM402 133h1.1v1.1h-1.1zM379 133h1.1v1.1h-1.1zM390.5 126h1.1v1.1h-1.1zM398 116.5h1.1v1.1h-1.1zM404 135h1.1v1.1h-1.1zM395 119.5h1.1v1.1h-1.1zM387 124.5h1.1v1.1h-1.1zM398.5 131.5h1.1v1.1h-1.1zM410.5 121.5h1.1v1.1h-1.1zM396 121h1.1v1.1h-1.1zM398.5 113h1.1v1.1h-1.1zM406.5 134h1.1v1.1h-1.1zM382.5 139.5h1.1v1.1h-1.1zM399.5 117.5h1.1v1.1h-1.1zM404.5 135h1.1v1.1h-1.1zM401 141.5h1.1v1.1h-1.1zM395 140.5h1.1v1.1h-1.1zM391.5 134h1.1v1.1h-1.1zM390 119.5h1.1v1.1h-1.1zM384.5 112.5h1.1v1.1h-1.1zM390 119.5h1.1v1.1h-1.1zM385 129.5h1.1v1.1h-1.1zM393 137.5h1.1v1.1h-1.1zM392.5 137h1.1v1.1h-1.1zM389.5 124.5h1.1v1.1h-1.1zM391 129.5h1.1v1.1h-1.1zM394.5 122h1.1v1.1h-1.1zM384.5 110h1.1v1.1h-1.1zM398.5 120h1.1v1.1h-1.1zM395 135h1.1v1.1h-1.1zM398 132.5h1.1v1.1h-1.1zM391.5 126.5h1.1v1.1h-1.1zM392.5 126h1.1v1.1h-1.1zM395 146h1.1v1.1h-1.1zM394.5 130h1.1v1.1h-1.1zM391 123h1.1v1.1h-1.1zM391.5 113.5h1.1v1.1h-1.1zM390 120h1.1v1.1h-1.1zM391 129h1.1v1.1h-1.1zM388.5 121h1.1v1.1h-1.1zM388 130h1.1v1.1h-1.1zM386.5 121.5h1.1v1.1h-1.1zM404 149h1.1v1.1h-1.1zM389 122h1.1v1.1h-1.1zM393 133.5h1.1v1.1h-1.1zM386.5 119h1.1v1.1h-1.1zM395 128h1.1v1.1h-1.1zM403 133.5h1.1v1.1h-1.1zM388.5 127.5h1.1v1.1h-1.1zM395 111h1.1v1.1h-1.1zM393.5 138h1.1v1.1h-1.1zM400 131.5h1.1v1.1h-1.1zM393.5 117.5h1.1v1.1h-1.1zM393 121h1.1v1.1h-1.1zM392 130.5h1.1v1.1h-1.1zM379.5 118h1.1v1.1h-1.1zM401 130.5h1.1v1.1h-1.1zM406 114h1.1v1.1h-1.1zM388 125.5h1.1v1.1h-1.1zM400.5 131.5h1.1v1.1h-1.1zM394 121h1.1v1.1h-1.1zM404.5 126h1.1v1.1h-1.1zM390.5 128h1.1v1.1h-1.1zM397.5 137h1.1v1.1h-1.1zM404 135h1.1v1.1h-1.1zM398.5 126.5h1.1v1.1h-1.1zM396 127h1.1v1.1h-1.1zM394 121.5h1.1v1.1h-1.1zM390 121h1.1v1.1h-1.1zM395.5 120.5h1.1v1.1h-1.1zM387.5 119.5h1.1v1.1h-1.1zM406.5 131.5h1.1v1.1h-1.1zM398.5 122h1.1v1.1h-1.1zM393.5 116.5h1.1v1.1h-1.1zM383.5 117h1.1v1.1h-1.1zM402.5 123h1.1v1.1h-1.1zM404.5 128h1.1v1.1h-1.1zM398 119h1.1v1.1h-1.1zM401 115h1.1v1.1h-1.1zM401 125.5h1.1v1.1h-1.1zM394.5 132h1.1v1.1h-1.1zM393 115h1.1v1.1h-1.1zM395.5 120h1.1v1.1h-1.1zM404 107h1.1v1.1h-1.1zM390.5 144.5h1.1v1.1h-1.1zM383.5 114.5h1.1v1.1h-1.1zM395.5 113h1.1v1.1h-1.1zM395.5 125.5h1.1v1.1h-1.1zM394 120.5h1.1v1.1h-1.1zM396 130h1.1v1.1h-1.1zM386.5 116h1.1v1.1h-1.1zM388.5 124.5h1.1v1.1h-1.1zM392 125.5h1.1v1.1h-1.1zM394 128h1.1v1.1h-1.1zM398.5 140h1.1v1.1h-1.1zM400 123.5h1.1v1.1h-1.1zM396 116.5h1.1v1.1h-1.1zM393.5 127.5h1.1v1.1h-1.1zM387.5 117.5h1.1v1.1h-1.1zM391 131.5h1.1v1.1h-1.1zM383.5 126h1.1v1.1h-1.1zM389.5 124.5h1.1v1.1h-1.1zM397.5 110h1.1v1.1h-1.1zM398.5 110.5h1.1v1.1h-1.1zM387 118.5h1.1v1.1h-1.1zM403 123h1.1v1.1h-1.1zM377.5 105.5h1.1v1.1h-1.1zM398 119.5h1.1v1.1h-1.1zM394.5 125.5h1.1v1.1h-1.1zM393 118h1.1v1.1h-1.1zM397 131.5h1.1v1.1h-1.1zM391.5 125.5h1.1v1.1h-1.1zM410.5 137h1.1v1.1h-1.1zM391 117.5h1.1v1.1h-1.1zM392 127.5h1.1v1.1h-1.1zM396.5 99.5h1.1v1.1h-1.1zM380 116.5h1.1v1.1h-1.1zM393.5 132h1.1v1.1h-1.1zM384 120h1.1v1.1h-1.1zM404 119h1.1v1.1h-1.1zM390.5 113h1.1v1.1h-1.1zM393 138h1.1v1.1h-1.1zM381.5 134.5h1.1v1.1h-1.1zM407 123.5h1.1v1.1h-1.1zM381.5 126.5h1.1v1.1h-1.1zM383.5 123.5h1.1v1.1h-1.1zM388.5 111.5h1.1v1.1h-1.1zM377.5 126.5h1.1v1.1h-1.1zM384.5 119h1.1v1.1h-1.1zM391 116.5h1.1v1.1h-1.1zM401.5 133h1.1v1.1h-1.1zM402 124h1.1v1.1h-1.1zM385.5 114.5h1.1v1.1h-1.1zM389.5 128h1.1v1.1h-1.1zM398.5 123h1.1v1.1h-1.1zM402 126.5h1.1v1.1h-1.1zM387.5 122.5h1.1v1.1h-1.1zM392 126h1.1v1.1h-1.1zM393.5 126h1.1v1.1h-1.1zM394.5 115.5h1.1v1.1h-1.1zM392 142h1.1v1.1h-1.1zM406.5 126h1.1v1.1h-1.1zM392 102h1.1v1.1h-1.1zM402.5 132h1.1v1.1h-1.1zM397.5 110.5h1.1v1.1h-1.1zM419.5 127h1.1v1.1h-1.1zM404.5 137h1.1v1.1h-1.1zM380 121h1.1v1.1h-1.1zM398.5 122.5h1.1v1.1h-1.1zM379 133.5h1.1v1.1h-1.1zM403.5 129h1.1v1.1h-1.1zM391.5 128.5h1.1v1.1h-1.1zM378.5 122h1.1v1.1h-1.1zM386.5 124h1.1v1.1h-1.1zM391.5 107h1.1v1.1h-1.1zM404 120h1.1v1.1h-1.1zM394.5 122.5h1.1v1.1h-1.1zM397.5 129h1.1v1.1h-1.1zM389 128h1.1v1.1h-1.1zM390 112h1.1v1.1h-1.1zM383 116.5h1.1v1.1h-1.1zM390.5 104h1.1v1.1h-1.1zM391.5 122h1.1v1.1h-1.1zM393 136h1.1v1.1h-1.1zM387.5 124.5h1.1v1.1h-1.1zM391.5 116.5h1.1v1.1h-1.1zM390 124h1.1v1.1h-1.1zM395 121.5h1.1v1.1h-1.1zM388.5 112h1.1v1.1h-1.1zM388.5 115h1.1v1.1h-1.1zM386.5 121h1.1v1.1h-1.1zM388 130h1.1v1.1h-1.1zM390.5 117.5h1.1v1.1h-1.1zM385.5 117h1.1v1.1h-1.1zM402 110.5h1.1v1.1h-1.1zM400 122.5h1.1v1.1h-1.1zM395.5 113h1.1v1.1h-1.1zM398 138.5h1.1v1.1h-1.1zM384 123.5h1.1v1.1h-1.1zM388 96h1.1v1.1h-1.1zM389.5 134.5h1.1v1.1h-1.1zM394.5 125h1.1v1.1h-1.1zM398.5 122h1.1v1.1h-1.1zM399 124h1.1v1.1h-1.1zM382 117h1.1v1.1h-1.1zM392.5 114.5h1.1v1.1h-1.1zM401 116h1.1v1.1h-1.1zM391 121h1.1v1.1h-1.1zM396 126h1.1v1.1h-1.1zM380.5 139.5h1.1v1.1h-1.1zM393 126h1.1v1.1h-1.1zM391 129.5h1.1v1.1h-1.1zM378 131h1.1v1.1h-1.1zM398.5 116h1.1v1.1h-1.1zM402.5 114h1.1v1.1h-1.1zM398.5 115h1.1v1.1h-1.1zM390 136h1.1v1.1h-1.1zM392 111h1.1v1.1h-1.1zM388 127.5h1.1v1.1h-1.1zM397 115.5h1.1v1.1h-1.1zM396 145h1.1v1.1h-1.1zM403.5 111h1.1v1.1h-1.1zM393 112h1.1v1.1h-1.1zM399.5 118.5h1.1v1.1h-1.1zM391 113h1.1v1.1h-1.1zM387.5 129.5h1.1v1.1h-1.1zM392.5 131h1.1v1.1h-1.1zM386.5 131.5h1.1v1.1h-1.1zM386.5 141h1.1v1.1h-1.1zM398 115h1.1v1.1h-1.1zM398 124.5h1.1v1.1h-1.1zM387 120h1.1v1.1h-1.1zM386 117h1.1v1.1h-1.1zM391.5 126h1.1v1.1h-1.1zM387 142h1.1v1.1h-1.1zM398 115.5h1.1v1.1h-1.1zM390.5 142.5h1.1v1.1h-1.1zM383 126h1.1v1.1h-1.1zM386.5 119.5h1.1v1.1h-1.1zM395.5 113h1.1v1.1h-1.1zM407.5 131h1.1v1.1h-1.1zM396.5 125h1.1v1.1h-1.1zM382.5 122h1.1v1.1h-1.1zM386 118h1.1v1.1h-1.1zM394 122h1.1v1.1h-1.1zM391.5 120.5h1.1v1.1h-1.1zM393.5 124.5h1.1v1.1h-1.1zM407 107.5h1.1v1.1h-1.1zM385 125.5h1.1v1.1h-1.1zM385.5 132h1.1v1.1h-1.1zM392 130.5h1.1v1.1h-1.1zM393 112h1.1v1.1h-1.1zM394 124.5h1.1v1.1h-1.1zM398.5 126h1.1v1.1h-1.1zM392.5 133.5h1.1v1.1h-1.1zM400.5 131h1.1v1.1h-1.1zM394 132.5h1.1v1.1h-1.1zM395.5 122.5h1.1v1.1h-1.1zM380 129.5h1.1v1.1h-1.1zM386.5 122.5h1.1v1.1h-1.1zM390 121h1.1v1.1h-1.1zM397.5 110h1.1v1.1h-1.1zM388 126.5h1.1v1.1h-1.1zM385.5 122h1.1v1.1h-1.1zM387 110h1.1v1.1h-1.1zM405 135h1.1v1.1h-1.1zM382 120h1.1v1.1h-1.1zM394.5 127h1.1v1.1h-1.1zM393 126.5h1.1v1.1h-1.1zM403 122h1.1v1.1h-1.1zM398 125.5h1.1v1.1h-1.1zM390.5 131.5h1.1v1.1h-1.1zM399 117h1.1v1.1h-1.1zM402 112h1.1v1.1h-1.1zM390 132.5h1.1v1.1h-1.1zM380.5 128h1.1v1.1h-1.1zM384 117h1.1v1.1h-1.1zM393 133h1.1v1.1h-1.1zM385.5 113.5h1.1v1.1h-1.1zM394 124.5h1.1v1.1h-1.1zM401 126.5h1.1v1.1h-1.1zM394.5 124h1.1v1.1h-1.1zM409 128h1.1v1.1h-1.1zM392 119.5h1.1v1.1h-1.1zM384 109.5h1.1v1.1h-1.1zM394.5 118.5h1.1v1.1h-1.1zM400 129h1.1v1.1h-1.1zM383 124.5h1.1v1.1h-1.1zM396 123.5h1.1v1.1h-1.1zM405 121h1.1v1.1h-1.1zM394.5 133.5h1.1v1.1h-1.1zM406 119.5h1.1v1.1h-1.1zM382 126.5h1.1v1.1h-1.1zM397 126.5h1.1v1.1h-1.1zM380.5 116h1.1v1.1h-1.1zM380 131h1.1v1.1h-1.1zM382 128h1.1v1.1h-1.1zM400.5 129h1.1v1.1h-1.1zM395 112h1.1v1.1h-1.1zM403 134h1.1v1.1h-1.1zM386.5 120.5h1.1v1.1h-1.1zM380.5 123.5h1.1v1.1h-1.1zM399 127.5h1.1v1.1h-1.1zM388 131.5h1.1v1.1h-1.1zM381.5 119h1.1v1.1h-1.1zM398.5 126.5h1.1v1.1h-1.1zM400.5 124h1.1v1.1h-1.1zM387 123.5h1.1v1.1h-1.1zM394 123.5h1.1v1.1h-1.1zM397 115.5h1.1v1.1h-1.1zM386 123.5h1.1v1.1h-1.1zM387 134h1.1v1.1h-1.1zM395 115h1.1v1.1h-1.1zM405 109.5h1.1v1.1h-1.1zM385.5 136h1.1v1.1h-1.1zM399 112h1.1v1.1h-1.1zM397 120.5h1.1v1.1h-1.1zM394.5 118h1.1v1.1h-1.1zM391.5 125.5h1.1v1.1h-1.1zM387 120.5h1.1v1.1h-1.1zM398 127.5h1.1v1.1h-1.1zM392 119.5h1.1v1.1h-1.1zM374.5 114h1.1v1.1h-1.1zM395.5 144h1.1v1.1h-1.1zM387 124.5h1.1v1.1h-1.1zM392 128h1.1v1.1h-1.1zM408 113h1.1v1.1h-1.1zM395.5 117.5h1.1v1.1h-1.1zM377.5 119.5h1.1v1.1h-1.1zM390 132h1.1v1.1h-1.1zM384.5 116.5h1.1v1.1h-1.1zM400.5 128h1.1v1.1h-1.1zM368.5 121h1.1v1.1h-1.1zM397.5 118h1.1v1.1h-1.1zM393.5 130h1.1v1.1h-1.1zM390.5 126.5h1.1v1.1h-1.1zM396 115h1.1v1.1h-1.1zM406.5 129.5h1.1v1.1h-1.1zM379 113h1.1v1.1h-1.1zM389.5 128h1.1v1.1h-1.1zM393 123h1.1v1.1h-1.1zM393.5 143h1.1v1.1h-1.1zM391.5 128.5h1.1v1.1h-1.1zM396.5 142h1.1v1.1h-1.1zM394 129h1.1v1.1h-1.1zM390 120.5h1.1v1.1h-1.1zM379.5 130h1.1v1.1h-1.1zM398.5 111.5h1.1v1.1h-1.1zM404.5 113.5h1.1v1.1h-1.1zM402.5 123h1.1v1.1h-1.1zM396.5 137h1.1v1.1h-1.1zM402.5 132h1.1v1.1h-1.1zM382.5 112h1.1v1.1h-1.1zM399.5 106h1.1v1.1h-1.1zM396 126.5h1.1v1.1h-1.1zM393 110.5h1.1v1.1h-1.1zM402.5 114h1.1v1.1h-1.1zM392.5 118h1.1v1.1h-1.1zM391 115h1.1v1.1h-1.1zM386 116.5h1.1v1.1h-1.1zM380 121.5h1.1v1.1h-1.1zM390.5 132h1.1v1.1h-1.1zM407 118h1.1v1.1h-1.1zM407.5 124h1.1v1.1h-1.1zM389 127.5h1.1v1.1h-1.1zM395 128h1.1v1.1h-1.1zM405.5 122.5h1.1v1.1h-1.1zM386 117h1.1v1.1h-1.1zM390.5 123h1.1v1.1h-1.1zM383 111h1.1v1.1h-1.1zM406 123h1.1v1.1h-1.1zM389 134.5h1.1v1.1h-1.1zM391 128.5h1.1v1.1h-1.1zM393.5 98h1.1v1.1h-1.1zM387 128h1.1v1.1h-1.1zM413 128.5h1.1v1.1h-1.1zM402.5 120.5h1.1v1.1h-1.1zM409.5 129.5h1.1v1.1h-1.1zM378 129h1.1v1.1h-1.1zM399.5 122.5h1.1v1.1h-1.1zM392.5 121.5h1.1v1.1h-1.1zM385.5 113.5h1.1v1.1h-1.1zM394.5 132.5h1.1v1.1h-1.1zM406 104.5h1.1v1.1h-1.1zM403 126.5h1.1v1.1h-1.1zM390 120.5h1.1v1.1h-1.1zM420.5 124h1.1v1.1h-1.1zM403 120h1.1v1.1h-1.1zM388 123h1.1v1.1h-1.1zM387.5 116h1.1v1.1h-1.1zM389.5 115.5h1.1v1.1h-1.1zM393.5 138h1.1v1.1h-1.1zM390.5 120.5h1.1v1.1h-1.1zM389.5 135h1.1v1.1h-1.1zM401.5 130h1.1v1.1h-1.1zM389.5 125.5h1.1v1.1h-1.1zM395.5 126h1.1v1.1h-1.1zM389.5 123h1.1v1.1h-1.1zM392.5 132h1.1v1.1h-1.1zM403.5 122.5h1.1v1.1h-1.1zM394.5 120.5h1.1v1.1h-1.1zM400.5 129.5h1.1v1.1h-1.1zM394 123.5h1.1v1.1h-1.1zM403 128h1.1v1.1h-1.1zM394.5 118h1.1v1.1h-1.1zM403.5 123h1.1v1.1h-1.1zM385 131.5h1.1v1.1h-1.1zM403 131.5h1.1v1.1h-1.1zM398 114.5h1.1v1.1h-1.1zM387.5 122.5h1.1v1.1h-1.1zM389.5 114.5h1.1v1.1h-1.1zM379.5 130h1.1v1.1h-1.1zM392.5 115.5h1.1v1.1h-1.1zM396 108h1.1v1.1h-1.1zM390.5 113.5h1.1v1.1h-1.1zM402.5 113.5h1.1v1.1h-1.1zM378 143.5h1.1v1.1h-1.1zM392.5 118.5h1.1v1.1h-1.1zM384.5 130h1.1v1.1h-1.1zM390 117h1.1v1.1h-1.1zM400.5 127h1.1v1.1h-1.1zM394 134h1.1v1.1h-1.1zM405.5 131.5h1.1v1.1h-1.1zM391.5 135h1.1v1.1h-1.1zM389 131.5h1.1v1.1h-1.1zM392 121.5h1.1v1.1h-1.1zM382.5 127.5h1.1v1.1h-1.1zM387 124.5h1.1v1.1h-1.1zM393.5 119.5h1.1v1.1h-1.1zM401 141.5h1.1v1.1h-1.1zM386 115.5h1.1v1.1h-1.1zM386.5 112.5h1.1v1.1h-1.1zM381.5 119h1.1v1.1h-1.1zM383 133h1.1v1.1h-1.1zM393 120h1.1v1.1h-1.1zM393.5 126h1.1v1.1h-1.1zM395.5 117.5h1.1v1.1h-1.1zM391 134h1.1v1.1h-1.1zM401 126.5h1.1v1.1h-1.1zM380 124.5h1.1v1.1h-1.1zM393 135.5h1.1v1.1h-1.1zM398 116.5h1.1v1.1h-1.1zM390.5 136h1.1v1.1h-1.1zM396.5 131h1.1v1.1h-1.1zM391.5 113.5h1.1v1.1h-1.1zM390.5 122.5h1.1v1.1h-1.1zM394.5 128h1.1v1.1h-1.1zM388 114.5h1.1v1.1h-1.1zM393 116.5h1.1v1.1h-1.1zM398 136h1.1v1.1h-1.1zM385 147h1.1v1.1h-1.1zM398.5 137.5h1.1v1.1h-1.1zM402 129h1.1v1.1h-1.1zM406 125h1.1v1.1h-1.1zM391 115.5h1.1v1.1h-1.1zM402 130.5h1.1v1.1h-1.1zM379 119.5h1.1v1.1h-1.1zM383 124.5h1.1v1.1h-1.1zM394 125h1.1v1.1h-1.1zM385 131h1.1v1.1h-1.1zM386 128.5h1.1v1.1h-1.1zM385.5 105.5h1.1v1.1h-1.1zM390.5 119h1.1v1.1h-1.1zM388 132.5h1.1v1.1h-1.1zM386 135h1.1v1.1h-1.1zM393 130.5h1.1v1.1h-1.1zM389 132.5h1.1v1.1h-1.1zM393 115h1.1v1.1h-1.1zM395.5 123.5h1.1v1.1h-1.1zM397 125h1.1v1.1h-1.1zM391.5 132h1.1v1.1h-1.1zM390 125h1.1v1.1h-1.1zM390 120h1.1v1.1h-1.1zM385 132h1.1v1.1h-1.1zM396.5 124.5h1.1v1.1h-1.1zM392.5 129.5h1.1v1.1h-1.1zM401 110.5h1.1v1.1h-1.1zM395.5 125h1.1v1.1h-1.1zM389.5 129h1.1v1.1h-1.1zM399.5 136.5h1.1v1.1h-1.1zM391 125h1.1v1.1h-1.1zM392.5 110.5h1.1v1.1h-1.1zM396.5 113.5h1.1v1.1h-1.1zM395 133.5h1.1v1.1h-1.1zM387 132.5h1.1v1.1h-1.1zM398 122.5h1.1v1.1h-1.1zM396 117h1.1v1.1h-1.1zM393 133h1.1v1.1h-1.1zM391.5 119.5h1.1v1.1h-1.1zM395 123.5h1.1v1.1h-1.1zM381.5 111.5h1.1v1.1h-1.1zM402.5 102h1.1v1.1h-1.1zM374.5 126h1.1v1.1h-1.1zM385.5 139.5h1.1v1.1h-1.1zM385.5 121.5h1.1v1.1h-1.1zM396 113.5h1.1v1.1h-1.1zM393 135h1.1v1.1h-1.1zM395.5 115.5h1.1v1.1h-1.1zM383.5 106h1.1v1.1h-1.1zM401.5 119.5h1.1v1.1h-1.1zM399.5 126.5h1.1v1.1h-1.1zM377 116.5h1.1v1.1h-1.1zM394 124h1.1v1.1h-1.1zM378.5 124h1.1v1.1h-1.1zM388.5 124.5h1.1v1.1h-1.1zM397 136.5h1.1v1.1h-1.1zM393 125.5h1.1v1.1h-1.1zM383 128.5h1.1v1.1h-1.1zM388 135h1.1v1.1h-1.1zM400.5 121h1.1v1.1h-1.1zM394 131.5h1.1v1.1h-1.1zM398 119h1.1v1.1h-1.1zM380 124.5h1.1v1.1h-1.1zM396.5 123h1.1v1.1h-1.1zM394 132.5h1.1v1.1h-1.1zM385.5 131.5h1.1v1.1h-1.1zM403 118h1.1v1.1h-1.1zM392.5 115.5h1.1v1.1h-1.1zM399 114.5h1.1v1.1h-1.1zM389 115.5h1.1v1.1h-1.1zM395.5 118.5h1.1v1.1h-1.1zM396.5 123.5h1.1v1.1h-1.1zM392 116.5h1.1v1.1h-1.1zM393.5 139.5h1.1v1.1h-1.1zM395 134.5h1.1v1.1h-1.1zM392 141.5h1.1v1.1h-1.1zM383.5 128h1.1v1.1h-1.1zM395.5 130h1.1v1.1h-1.1zM392 122.5h1.1v1.1h-1.1zM394.5 134h1.1v1.1h-1.1zM387 129h1.1v1.1h-1.1zM404 123.5h1.1v1.1h-1.1zM399.5 127.5h1.1v1.1h-1.1zM403 140h1.1v1.1h-1.1zM406.5 138h1.1v1.1h-1.1zM400 124.5h1.1v1.1h-1.1zM390.5 108h1.1v1.1h-1.1zM383.5 100h1.1v1.1h-1.1zM401.5 124h1.1v1.1h-1.1zM395 123.5h1.1v1.1h-1.1zM399 124h1.1v1.1h-1.1zM402.5 127.5h1.1v1.1h-1.1zM391.5 129h1.1v1.1h-1.1zM386 117.5h1.1v1.1h-1.1zM396 119.5h1.1v1.1h-1.1zM389.5 138h1.1v1.1h-1.1zM387 143.5h1.1v1.1h-1.1zM396 126h1.1v1.1h-1.1zM391 126h1.1v1.1h-1.1zM396.5 132h1.1v1.1h-1.1zM385 128h1.1v1.1h-1.1zM392 125.5h1.1v1.1h-1.1zM391 125h1.1v1.1h-1.1zM393 137.5h1.1v1.1h-1.1zM388.5 119h1.1v1.1h-1.1zM398 129.5h1.1v1.1h-1.1zM382.5 115h1.1v1.1h-1.1zM396 129.5h1.1v1.1h-1.1zM401 127.5h1.1v1.1h-1.1zM393 124h1.1v1.1h-1.1zM393.5 128h1.1v1.1h-1.1zM387.5 110.5h1.1v1.1h-1.1zM395 118.5h1.1v1.1h-1.1zM396 121.5h1.1v1.1h-1.1zM394 126h1.1v1.1h-1.1zM395.5 124.5h1.1v1.1h-1.1zM397 119h1.1v1.1h-1.1zM394.5 125.5h1.1v1.1h-1.1zM379.5 128h1.1v1.1h-1.1zM384.5 146h1.1v1.1h-1.1zM392 126.5h1.1v1.1h-1.1zM408.5 128h1.1v1.1h-1.1zM401 127.5h1.1v1.1h-1.1zM393 122.5h1.1v1.1h-1.1zM391.5 121.5h1.1v1.1h-1.1zM390 131.5h1.1v1.1h-1.1zM397 123h1.1v1.1h-1.1zM390.5 121h1.1v1.1h-1.1zM393.5 125h1.1v1.1h-1.1zM386.5 138.5h1.1v1.1h-1.1zM390 115.5h1.1v1.1h-1.1zM386 122h1.1v1.1h-1.1zM387 127.5h1.1v1.1h-1.1zM390.5 130h1.1v1.1h-1.1zM401.5 139.5h1.1v1.1h-1.1zM395.5 142h1.1v1.1h-1.1zM400.5 120h1.1v1.1h-1.1zM389.5 131.5h1.1v1.1h-1.1zM395 141.5h1.1v1.1h-1.1zM388.5 135h1.1v1.1h-1.1zM391.5 118.5h1.1v1.1h-1.1zM392 120.5h1.1v1.1h-1.1zM381 126.5h1.1v1.1h-1.1zM393.5 132.5h1.1v1.1h-1.1zM384 117h1.1v1.1h-1.1zM396.5 132.5h1.1v1.1h-1.1zM388.5 120h1.1v1.1h-1.1zM381.5 131h1.1v1.1h-1.1zM384.5 131.5h1.1v1.1h-1.1zM386.5 129.5h1.1v1.1h-1.1zM403 134h1.1v1.1h-1.1zM384 125.5h1.1v1.1h-1.1zM390 127h1.1v1.1h-1.1zM394 136.5h1.1v1.1h-1.1zM391.5 120.5h1.1v1.1h-1.1zM392.5 120.5h1.1v1.1h-1.1zM398 113.5h1.1v1.1h-1.1zM387.5 140h1.1v1.1h-1.1zM405.5 119h1.1v1.1h-1.1zM402.5 133h1.1v1.1h-1.1zM394.5 126h1.1v1.1h-1.1zM402.5 129h1.1v1.1h-1.1zM393.5 122h1.1v1.1h-1.1zM390 124h1.1v1.1h-1.1zM384 133.5h1.1v1.1h-1.1zM388 126h1.1v1.1h-1.1zM397 116.5h1.1v1.1h-1.1zM395 124h1.1v1.1h-1.1zM404.5 113.5h1.1v1.1h-1.1zM404 129.5h1.1v1.1h-1.1zM399.5 132.5h1.1v1.1h-1.1zM394 127h1.1v1.1h-1.1zM405.5 137.5h1.1v1.1h-1.1zM392.5 138h1.1v1.1h-1.1zM375.5 123.5h1.1v1.1h-1.1zM391 134h1.1v1.1h-1.1zM396 122.5h1.1v1.1h-1.1zM397 126h1.1v1.1h-1.1zM397 123h1.1v1.1h-1.1zM398.5 125.5h1.1v1.1h-1.1zM374 114.5h1.1v1.1h-1.1zM409.5 123h1.1v1.1h-1.1zM397 114h1.1v1.1h-1.1zM393.5 138h1.1v1.1h-1.1zM379 120.5h1.1v1.1h-1.1zM399 124h1.1v1.1h-1.1zM385.5 111.5h1.1v1.1h-1.1zM378.5 119h1.1v1.1h-1.1zM397 129h1.1v1.1h-1.1zM396.5 107.5h1.1v1.1h-1.1zM392 127.5h1.1v1.1h-1.1zM386 121h1.1v1.1h-1.1zM396 143h1.1v1.1h-1.1zM393 130.5h1.1v1.1h-1.1zM395 132.5h1.1v1.1h-1.1zM395.5 128h1.1v1.1h-1.1zM381.5 134h1.1v1.1h-1.1zM396 115.5h1.1v1.1h-1.1zM383.5 139.5h1.1v1.1h-1.1zM396 132h1.1v1.1h-1.1zM390 112h1.1v1.1h-1.1zM389 128.5h1.1v1.1h-1.1zM404.5 125.5h1.1v1.1h-1.1zM394 138h1.1v1.1h-1.1zM394 123.5h1.1v1.1h-1.1zM398 126h1.1v1.1h-1.1zM408.5 129.5h1.1v1.1h-1.1zM372 124h1.1v1.1h-1.1zM396.5 140h1.1v1.1h-1.1zM393 129.5h1.1v1.1h-1.1zM401 120h1.1v1.1h-1.1zM393 127.5h1.1v1.1h-1.1zM392.5 124h1.1v1.1h-1.1zM397 140h1.1v1.1h-1.1zM392.5 116.5h1.1v1.1h-1.1zM386.5 110.5h1.1v1.1h-1.1zM393 143.5h1.1v1.1h-1.1zM406.5 126h1.1v1.1h-1.1zM397 135.5h1.1v1.1h-1.1zM376 126h1.1v1.1h-1.1zM392 122h1.1v1.1h-1.1zM385.5 130.5h1.1v1.1h-1.1zM399.5 127h1.1v1.1h-1.1zM384.5 120.5h1.1v1.1h-1.1zM392 110h1.1v1.1h-1.1zM396.5 128.5h1.1v1.1h-1.1zM399 137.5h1.1v1.1h-1.1zM388.5 136h1.1v1.1h-1.1zM395 114.5h1.1v1.1h-1.1zM409.5 138h1.1v1.1h-1.1zM388 114.5h1.1v1.1h-1.1zM393 122h1.1v1.1h-1.1zM386.5 127h1.1v1.1h-1.1zM391.5 126.5h1.1v1.1h-1.1zM396.5 119h1.1v1.1h-1.1zM393.5 123.5h1.1v1.1h-1.1zM398 127h1.1v1.1h-1.1zM383.5 127h1.1v1.1h-1.1zM394 132h1.1v1.1h-1.1zM390.5 134h1.1v1.1h-1.1zM372 127.5h1.1v1.1h-1.1zM401 120.5h1.1v1.1h-1.1zM394 132.5h1.1v1.1h-1.1zM388.5 126h1.1v1.1h-1.1zM401 119.5h1.1v1.1h-1.1zM397 106h1.1v1.1h-1.1zM375.5 127.5h1.1v1.1h-1.1zM396.5 132h1.1v1.1h-1.1zM411 135h1.1v1.1h-1.1zM395.5 118h1.1v1.1h-1.1zM399.5 125.5h1.1v1.1h-1.1zM380.5 111.5h1.1v1.1h-1.1zM381.5 127.5h1.1v1.1h-1.1zM382.5 128h1.1v1.1h-1.1zM401 119h1.1v1.1h-1.1zM400 130.5h1.1v1.1h-1.1zM374.5 134.5h1.1v1.1h-1.1zM399.5 135h1.1v1.1h-1.1zM377.5 118.5h1.1v1.1h-1.1zM382.5 126.5h1.1v1.1h-1.1zM392 135h1.1v1.1h-1.1zM388 124.5h1.1v1.1h-1.1zM392.5 123h1.1v1.1h-1.1zM394.5 124h1.1v1.1h-1.1zM401.5 133.5h1.1v1.1h-1.1zM389.5 124h1.1v1.1h-1.1zM388 110.5h1.1v1.1h-1.1zM387.5 132h1.1v1.1h-1.1zM411 150.5h1.1v1.1h-1.1zM402 130h1.1v1.1h-1.1zM402 138h1.1v1.1h-1.1zM397.5 129h1.1v1.1h-1.1zM395 124.5h1.1v1.1h-1.1zM404 118h1.1v1.1h-1.1zM392.5 130.5h1.1v1.1h-1.1zM381.5 126.5h1.1v1.1h-1.1zM381 134h1.1v1.1h-1.1zM412 127.5h1.1v1.1h-1.1zM385.5 132h1.1v1.1h-1.1zM388 109h1.1v1.1h-1.1zM392 129h1.1v1.1h-1.1zM401 131.5h1.1v1.1h-1.1zM384.5 129h1.1v1.1h-1.1zM391.5 138h1.1v1.1h-1.1zM396 125.5h1.1v1.1h-1.1zM383.5 132h1.1v1.1h-1.1zM393.5 109.5h1.1v1.1h-1.1zM401.5 132.5h1.1v1.1h-1.1zM395 132.5h1.1v1.1h-1.1zM393.5 118.5h1.1v1.1h-1.1zM397 107.5h1.1v1.1h-1.1zM392.5 117.5h1.1v1.1h-1.1zM389.5 125.5h1.1v1.1h-1.1zM389 139.5h1.1v1.1h-1.1zM399.5 115.5h1.1v1.1h-1.1zM380.5 129.5h1.1v1.1h-1.1zM384 131h1.1v1.1h-1.1zM399 130h1.1v1.1h-1.1zM402 120h1.1v1.1h-1.1zM393.5 131h1.1v1.1h-1.1zM386.5 114h1.1v1.1h-1.1zM380.5 109h1.1v1.1h-1.1zM397.5 124.5h1.1v1.1h-1.1zM394 118h1.1v1.1h-1.1zM395.5 106h1.1v1.1h-1.1zM396 136.5h1.1v1.1h-1.1zM384.5 132h1.1v1.1h-1.1zM387 130.5h1.1v1.1h-1.1zM391.5 117.5h1.1v1.1h-1.1zM391 119.5h1.1v1.1h-1.1zM380 112h1.1v1.1h-1.1zM383 125h1.1v1.1h-1.1zM391 123h1.1v1.1h-1.1zM403 125h1.1v1.1h-1.1zM410.5 138h1.1v1.1h-1.1zM394.5 121h1.1v1.1h-1.1zM390 124h1.1v1.1h-1.1zM394.5 112.5h1.1v1.1h-1.1zM393 138.5h1.1v1.1h-1.1zM386 136h1.1v1.1h-1.1zM367.5 105.5h1.1v1.1h-1.1zM393.5 106.5h1.1v1.1h-1.1zM387.5 140h1.1v1.1h-1.1zM392 142h1.1v1.1h-1.1zM385 131.5h1.1v1.1h-1.1zM390 138h1.1v1.1h-1.1zM393.5 114.5h1.1v1.1h-1.1zM382 126h1.1v1.1h-1.1zM387 133h1.1v1.1h-1.1zM397 124h1.1v1.1h-1.1zM398.5 117.5h1.1v1.1h-1.1zM379 124h1.1v1.1h-1.1zM398.5 118h1.1v1.1h-1.1zM402.5 142h1.1v1.1h-1.1zM396 122.5h1.1v1.1h-1.1zM396 119.5h1.1v1.1h-1.1zM394 109h1.1v1.1h-1.1zM396 138h1.1v1.1h-1.1zM389 124h1.1v1.1h-1.1zM402.5 130.5h1.1v1.1h-1.1zM392.5 124.5h1.1v1.1h-1.1zM382 128h1.1v1.1h-1.1zM397 125.5h1.1v1.1h-1.1zM399.5 120h1.1v1.1h-1.1zM396 129.5h1.1v1.1h-1.1zM385 118.5h1.1v1.1h-1.1zM397.5 128h1.1v1.1h-1.1zM370.5 128.5h1.1v1.1h-1.1zM405.5 132.5h1.1v1.1h-1.1zM397 117.5h1.1v1.1h-1.1zM379 146h1.1v1.1h-1.1zM377 127h1.1v1.1h-1.1zM411 115h1.1v1.1h-1.1zM394.5 111h1.1v1.1h-1.1zM387 126h1.1v1.1h-1.1zM395 124.5h1.1v1.1h-1.1zM391 130.5h1.1v1.1h-1.1zM391 111.5h1.1v1.1h-1.1zM395 124.5h1.1v1.1h-1.1zM395 128.5h1.1v1.1h-1.1zM384.5 133.5h1.1v1.1h-1.1zM395 109.5h1.1v1.1h-1.1zM394.5 119.5h1.1v1.1h-1.1zM385 118h1.1v1.1h-1.1zM400 123.5h1.1v1.1h-1.1zM396.5 122h1.1v1.1h-1.1zM385 125.5h1.1v1.1h-1.1zM406.5 116.5h1.1v1.1h-1.1zM397 128.5h1.1v1.1h-1.1zM403.5 111h1.1v1.1h-1.1zM387 124h1.1v1.1h-1.1zM389 143h1.1v1.1h-1.1zM394 115.5h1.1v1.1h-1.1zM388.5 140h1.1v1.1h-1.1zM391 136h1.1v1.1h-1.1zM382 120.5h1.1v1.1h-1.1zM408.5 128.5h1.1v1.1h-1.1zM397 129.5h1.1v1.1h-1.1zM403 116h1.1v1.1h-1.1zM406 106h1.1v1.1h-1.1zM392.5 122h1.1v1.1h-1.1zM408 113h1.1v1.1h-1.1zM375 129.5h1.1v1.1h-1.1zM390 109.5h1.1v1.1h-1.1zM388.5 142.5h1.1v1.1h-1.1zM392.5 145.5h1.1v1.1h-1.1zM384 118h1.1v1.1h-1.1zM399.5 106.5h1.1v1.1h-1.1zM407.5 127.5h1.1v1.1h-1.1zM394.5 120h1.1v1.1h-1.1zM397.5 123.5h1.1v1.1h-1.1zM376 110.5h1.1v1.1h-1.1zM387 111.5h1.1v1.1h-1.1zM395.5 129h1.1v1.1h-1.1zM387.5 112.5h1.1v1.1h-1.1zM395 106.5h1.1v1.1h-1.1zM389.5 128.5h1.1v1.1h-1.1zM395.5 129.5h1.1v1.1h-1.1zM382 121.5h1.1v1.1h-1.1zM396.5 115h1.1v1.1h-1.1zM403.5 138.5h1.1v1.1h-1.1zM398 121h1.1v1.1h-1.1zM409 130h1.1v1.1h-1.1zM392 112.5h1.1v1.1h-1.1zM399.5 112h1.1v1.1h-1.1zM383 126h1.1v1.1h-1.1zM400 137.5h1.1v1.1h-1.1zM397 115h1.1v1.1h-1.1zM391 119h1.1v1.1h-1.1zM401.5 120.5h1.1v1.1h-1.1zM384 136.5h1.1v1.1h-1.1zM391 124h1.1v1.1h-1.1zM395.5 128h1.1v1.1h-1.1zM385.5 132.5h1.1v1.1h-1.1zM385.5 130.5h1.1v1.1h-1.1zM400.5 139h1.1v1.1h-1.1zM390.5 113h1.1v1.1h-1.1zM385 127h1.1v1.1h-1.1zM389.5 127.5h1.1v1.1h-1.1zM388.5 113.5h1.1v1.1h-1.1zM387 125.5h1.1v1.1h-1.1zM395.5 126.5h1.1v1.1h-1.1zM385 121h1.1v1.1h-1.1zM381.5 118.5h1.1v1.1h-1.1zM393.5 135.5h1.1v1.1h-1.1zM392.5 127h1.1v1.1h-1.1zM402 124h1.1v1.1h-1.1zM383 127h1.1v1.1h-1.1zM388.5 120h1.1v1.1h-1.1zM400.5 126.5h1.1v1.1h-1.1zM395.5 129h1.1v1.1h-1.1zM388.5 117h1.1v1.1h-1.1zM386.5 124h1.1v1.1h-1.1zM398 124h1.1v1.1h-1.1zM392.5 126h1.1v1.1h-1.1zM386.5 121h1.1v1.1h-1.1zM389.5 124.5h1.1v1.1h-1.1zM389.5 120.5h1.1v1.1h-1.1zM399.5 116.5h1.1v1.1h-1.1zM373.5 120h1.1v1.1h-1.1zM388 110.5h1.1v1.1h-1.1zM401.5 130h1.1v1.1h-1.1zM380 127.5h1.1v1.1h-1.1zM390.5 116.5h1.1v1.1h-1.1zM399 116h1.1v1.1h-1.1zM382.5 116.5h1.1v1.1h-1.1zM388.5 114h1.1v1.1h-1.1zM386 114.5h1.1v1.1h-1.1zM393.5 129h1.1v1.1h-1.1zM387.5 121.5h1.1v1.1h-1.1zM384.5 132h1.1v1.1h-1.1zM393 129h1.1v1.1h-1.1zM394 128h1.1v1.1h-1.1zM401 113h1.1v1.1h-1.1zM389.5 140h1.1v1.1h-1.1zM391 123h1.1v1.1h-1.1zM388 104h1.1v1.1h-1.1zM401 122h1.1v1.1h-1.1zM401.5 121h1.1v1.1h-1.1zM386.5 129.5h1.1v1.1h-1.1zM376.5 115.5h1.1v1.1h-1.1zM407 125.5h1.1v1.1h-1.1zM378.5 121h1.1v1.1h-1.1zM379 135h1.1v1.1h-1.1zM388 121.5h1.1v1.1h-1.1zM406.5 128.5h1.1v1.1h-1.1zM400.5 133h1.1v1.1h-1.1zM390.5 117h1.1v1.1h-1.1zM397.5 127h1.1v1.1h-1.1zM391 124.5h1.1v1.1h-1.1zM400.5 138.5h1.1v1.1h-1.1zM389 129.5h1.1v1.1h-1.1zM404.5 118h1.1v1.1h-1.1zM396.5 141h1.1v1.1h-1.1zM388 119.5h1.1v1.1h-1.1zM379.5 124h1.1v1.1h-1.1zM401 125.5h1.1v1.1h-1.1zM396 129.5h1.1v1.1h-1.1zM385 118.5h1.1v1.1h-1.1zM385.5 122.5h1.1v1.1h-1.1zM388.5 121h1.1v1.1h-1.1zM389.5 126h1.1v1.1h-1.1zM391 117.5h1.1v1.1h-1.1zM392 120.5h1.1v1.1h-1.1zM392 112h1.1v1.1h-1.1zM388 139.5h1.1v1.1h-1.1zM407.5 129h1.1v1.1h-1.1zM390 135.5h1.1v1.1h-1.1zM387 118h1.1v1.1h-1.1zM396.5 109h1.1v1.1h-1.1zM385.5 110h1.1v1.1h-1.1zM395.5 113.5h1.1v1.1h-1.1zM393 129h1.1v1.1h-1.1zM400 121h1.1v1.1h-1.1zM385 119.5h1.1v1.1h-1.1zM378 113.5h1.1v1.1h-1.1zM401 139h1.1v1.1h-1.1zM391 112.5h1.1v1.1h-1.1zM405.5 122.5h1.1v1.1h-1.1zM397.5 122h1.1v1.1h-1.1zM389 123h1.1v1.1h-1.1zM395 123h1.1v1.1h-1.1zM383.5 127.5h1.1v1.1h-1.1zM385 148h1.1v1.1h-1.1zM392.5 134.5h1.1v1.1h-1.1zM393.5 127.5h1.1v1.1h-1.1zM379.5 115.5h1.1v1.1h-1.1zM398 138h1.1v1.1h-1.1zM396.5 138.5h1.1v1.1h-1.1zM400.5 119.5h1.1v1.1h-1.1zM381.5 129.5h1.1v1.1h-1.1zM397 104h1.1v1.1h-1.1zM388 115.5h1.1v1.1h-1.1zM389 134.5h1.1v1.1h-1.1zM400.5 109.5h1.1v1.1h-1.1zM393 130.5h1.1v1.1h-1.1zM397 134.5h1.1v1.1h-1.1zM399 112h1.1v1.1h-1.1zM401 123.5h1.1v1.1h-1.1zM385.5 138h1.1v1.1h-1.1zM385.5 146.5h1.1v1.1h-1.1zM395.5 125.5h1.1v1.1h-1.1zM397 138.5h1.1v1.1h-1.1zM387.5 117.5h1.1v1.1h-1.1zM396 119h1.1v1.1h-1.1zM386.5 129h1.1v1.1h-1.1zM391 132h1.1v1.1h-1.1zM392 127h1.1v1.1h-1.1zM394.5 135.5h1.1v1.1h-1.1zM398 133h1.1v1.1h-1.1zM390.5 137.5h1.1v1.1h-1.1zM394.5 133h1.1v1.1h-1.1zM387 126.5h1.1v1.1h-1.1zM399 127.5h1.1v1.1h-1.1zM397.5 125.5h1.1v1.1h-1.1zM389.5 128h1.1v1.1h-1.1zM408 136.5h1.1v1.1h-1.1zM393.5 135.5h1.1v1.1h-1.1zM392 138.5h1.1v1.1h-1.1zM391 135h1.1v1.1h-1.1zM397 134.5h1.1v1.1h-1.1zM395.5 119.5h1.1v1.1h-1.1zM389.5 123.5h1.1v1.1h-1.1zM398 122.5h1.1v1.1h-1.1zM402 120h1.1v1.1h-1.1zM405 104.5h1.1v1.1h-1.1zM398.5 132.5h1.1v1.1h-1.1zM392.5 116.5h1.1v1.1h-1.1zM389 119.5h1.1v1.1h-1.1zM399 119.5h1.1v1.1h-1.1zM404 140h1.1v1.1h-1.1zM411.5 129.5h1.1v1.1h-1.1zM392.5 139h1.1v1.1h-1.1zM387 125.5h1.1v1.1h-1.1zM388 133h1.1v1.1h-1.1zM397.5 133h1.1v1.1h-1.1zM400 124.5h1.1v1.1h-1.1zM389.5 127h1.1v1.1h-1.1zM386 110.5h1.1v1.1h-1.1zM380.5 116.5h1.1v1.1h-1.1zM400 126.5h1.1v1.1h-1.1zM383 105h1.1v1.1h-1.1zM398.5 127.5h1.1v1.1h-1.1zM393 127h1.1v1.1h-1.1zM379.5 119.5h1.1v1.1h-1.1zM385.5 132.5h1.1v1.1h-1.1zM401 129.5h1.1v1.1h-1.1zM394 135.5h1.1v1.1h-1.1zM392 127h1.1v1.1h-1.1zM403 131h1.1v1.1h-1.1zM393.5 128h1.1v1.1h-1.1zM394.5 113.5h1.1v1.1h-1.1zM394.5 125h1.1v1.1h-1.1zM394.5 124h1.1v1.1h-1.1zM402 126h1.1v1.1h-1.1zM390 125.5h1.1v1.1h-1.1zM402 132.5h1.1v1.1h-1.1zM405 124.5h1.1v1.1h-1.1zM390 118.5h1.1v1.1h-1.1zM397 130h1.1v1.1h-1.1zM385 106.5h1.1v1.1h-1.1zM394.5 112.5h1.1v1.1h-1.1zM403 135.5h1.1v1.1h-1.1zM400.5 112h1.1v1.1h-1.1zM390.5 127h1.1v1.1h-1.1zM398 115.5h1.1v1.1h-1.1zM397.5 130.5h1.1v1.1h-1.1zM394.5 128h1.1v1.1h-1.1zM395 133.5h1.1v1.1h-1.1zM408 129.5h1.1v1.1h-1.1zM374.5 135h1.1v1.1h-1.1zM389.5 116.5h1.1v1.1h-1.1zM400 138h1.1v1.1h-1.1zM393 121h1.1v1.1h-1.1zM396 132h1.1v1.1h-1.1zM396 123h1.1v1.1h-1.1zM392 134.5h1.1v1.1h-1.1zM394 128.5h1.1v1.1h-1.1zM388 127h1.1v1.1h-1.1zM393.5 130h1.1v1.1h-1.1zM399 124.5h1.1v1.1h-1.1zM401 125h1.1v1.1h-1.1zM397.5 137.5h1.1v1.1h-1.1zM392 130h1.1v1.1h-1.1zM390.5 126h1.1v1.1h-1.1zM381 121.5h1.1v1.1h-1.1zM392 135.5h1.1v1.1h-1.1zM386.5 118h1.1v1.1h-1.1zM388.5 124.5h1.1v1.1h-1.1zM391 115h1.1v1.1h-1.1zM394 119.5h1.1v1.1h-1.1zM394.5 123.5h1.1v1.1h-1.1zM393.5 128h1.1v1.1h-1.1zM385 124.5h1.1v1.1h-1.1zM390 133h1.1v1.1h-1.1zM398.5 109h1.1v1.1h-1.1zM392.5 143h1.1v1.1h-1.1zM396.5 130h1.1v1.1h-1.1zM394 129.5h1.1v1.1h-1.1zM404.5 118h1.1v1.1h-1.1zM405.5 133.5h1.1v1.1h-1.1zM412.5 118.5h1.1v1.1h-1.1zM391 125h1.1v1.1h-1.1zM399.5 127h1.1v1.1h-1.1zM384 130h1.1v1.1h-1.1zM399 129.5h1.1v1.1h-1.1zM397 118h1.1v1.1h-1.1zM391 114.5h1.1v1.1h-1.1zM404.5 137h1.1v1.1h-1.1zM395 132h1.1v1.1h-1.1zM382.5 130.5h1.1v1.1h-1.1zM404.5 129.5h1.1v1.1h-1.1zM394.5 130h1.1v1.1h-1.1zM400 109.5h1.1v1.1h-1.1zM389 126h1.1v1.1h-1.1zM388.5 134h1.1v1.1h-1.1zM385 126.5h1.1v1.1h-1.1zM386 132h1.1v1.1h-1.1zM399 129.5h1.1v1.1h-1.1zM398 122h1.1v1.1h-1.1zM382 119.5h1.1v1.1h-1.1zM394 125h1.1v1.1h-1.1zM394 135h1.1v1.1h-1.1zM388 112.5h1.1v1.1h-1.1zM396 134h1.1v1.1h-1.1zM388 109.5h1.1v1.1h-1.1zM400.5 143h1.1v1.1h-1.1zM391.5 124.5h1.1v1.1h-1.1zM394.5 127.5h1.1v1.1h-1.1zM368 122h1.1v1.1h-1.1zM389.5 134.5h1.1v1.1h-1.1zM393 120h1.1v1.1h-1.1zM388 138h1.1v1.1h-1.1zM391 145h1.1v1.1h-1.1zM386 126.5h1.1v1.1h-1.1zM399 119h1.1v1.1h-1.1zM385 133h1.1v1.1h-1.1zM390.5 120h1.1v1.1h-1.1zM403 123.5h1.1v1.1h-1.1zM401 128h1.1v1.1h-1.1zM392 135.5h1.1v1.1h-1.1zM383 117h1.1v1.1h-1.1zM378.5 132.5h1.1v1.1h-1.1zM395.5 130.5h1.1v1.1h-1.1zM394 125.5h1.1v1.1h-1.1zM390 132h1.1v1.1h-1.1zM390 127h1.1v1.1h-1.1zM408 123h1.1v1.1h-1.1zM399 109h1.1v1.1h-1.1zM392.5 105h1.1v1.1h-1.1zM391 126.5h1.1v1.1h-1.1zM390 132h1.1v1.1h-1.1zM395 117.5h1.1v1.1h-1.1zM390.5 123.5h1.1v1.1h-1.1zM393.5 139.5h1.1v1.1h-1.1zM389.5 133.5h1.1v1.1h-1.1zM398 111h1.1v1.1h-1.1zM394.5 131.5h1.1v1.1h-1.1zM384 123.5h1.1v1.1h-1.1zM414 130.5h1.1v1.1h-1.1zM395 126.5h1.1v1.1h-1.1zM389.5 117.5h1.1v1.1h-1.1zM383.5 143h1.1v1.1h-1.1zM393.5 103.5h1.1v1.1h-1.1zM388 116h1.1v1.1h-1.1zM405 135h1.1v1.1h-1.1zM396.5 124h1.1v1.1h-1.1zM388.5 127.5h1.1v1.1h-1.1zM380 116h1.1v1.1h-1.1zM398.5 131.5h1.1v1.1h-1.1zM380.5 118h1.1v1.1h-1.1zM396.5 114h1.1v1.1h-1.1zM394 114h1.1v1.1h-1.1zM372.5 133.5h1.1v1.1h-1.1zM391 123.5h1.1v1.1h-1.1zM405 130h1.1v1.1h-1.1zM386 127.5h1.1v1.1h-1.1zM376 122.5h1.1v1.1h-1.1zM380 114h1.1v1.1h-1.1zM392 126.5h1.1v1.1h-1.1zM395 129.5h1.1v1.1h-1.1zM399 114h1.1v1.1h-1.1zM394.5 119h1.1v1.1h-1.1zM385.5 116.5h1.1v1.1h-1.1zM389.5 106h1.1v1.1h-1.1zM391 126.5h1.1v1.1h-1.1zM391.5 129h1.1v1.1h-1.1zM383.5 123.5h1.1v1.1h-1.1zM397.5 126h1.1v1.1h-1.1zM400.5 125.5h1.1v1.1h-1.1zM391.5 134.5h1.1v1.1h-1.1zM394 131h1.1v1.1h-1.1zM383.5 132h1.1v1.1h-1.1zM394 117.5h1.1v1.1h-1.1zM386.5 128.5h1.1v1.1h-1.1zM386 124h1.1v1.1h-1.1zM398.5 114.5h1.1v1.1h-1.1zM393.5 128h1.1v1.1h-1.1zM389 109.5h1.1v1.1h-1.1zM380.5 114.5h1.1v1.1h-1.1zM393 133.5h1.1v1.1h-1.1zM405 130h1.1v1.1h-1.1zM395 108h1.1v1.1h-1.1zM394.5 127.5h1.1v1.1h-1.1zM402 125h1.1v1.1h-1.1zM408.5 121.5h1.1v1.1h-1.1zM397.5 114h1.1v1.1h-1.1zM400.5 121.5h1.1v1.1h-1.1zM394.5 130.5h1.1v1.1h-1.1zM397 139.5h1.1v1.1h-1.1zM396.5 131.5h1.1v1.1h-1.1zM401.5 116.5h1.1v1.1h-1.1zM390 130h1.1v1.1h-1.1zM395.5 142h1.1v1.1h-1.1zM395.5 122.5h1.1v1.1h-1.1zM392.5 113.5h1.1v1.1h-1.1zM389 133.5h1.1v1.1h-1.1zM399.5 119h1.1v1.1h-1.1zM390.5 124.5h1.1v1.1h-1.1zM382 127h1.1v1.1h-1.1zM399 122.5h1.1v1.1h-1.1zM382.5 124h1.1v1.1h-1.1zM399.5 130h1.1v1.1h-1.1zM374.5 130.5h1.1v1.1h-1.1zM393.5 127h1.1v1.1h-1.1zM407 131h1.1v1.1h-1.1zM392 127h1.1v1.1h-1.1zM402.5 118.5h1.1v1.1h-1.1zM390.5 140h1.1v1.1h-1.1zM388 127.5h1.1v1.1h-1.1zM391.5 129h1.1v1.1h-1.1zM400.5 133.5h1.1v1.1h-1.1zM403 123.5h1.1v1.1h-1.1zM404.5 112.5h1.1v1.1h-1.1zM400.5 109.5h1.1v1.1h-1.1zM393.5 121h1.1v1.1h-1.1zM378.5 133.5h1.1v1.1h-1.1zM388 127.5h1.1v1.1h-1.1zM405 129.5h1.1v1.1h-1.1zM381.5 120h1.1v1.1h-1.1zM397 112h1.1v1.1h-1.1zM396.5 122h1.1v1.1h-1.1zM381 108.5h1.1v1.1h-1.1zM396 116.5h1.1v1.1h-1.1zM390.5 128.5h1.1v1.1h-1.1zM395 118h1.1v1.1h-1.1zM392.5 111h1.1v1.1h-1.1zM391.5 128h1.1v1.1h-1.1zM386.5 127.5h1.1v1.1h-1.1zM378 124.5h1.1v1.1h-1.1zM406.5 107.5h1.1v1.1h-1.1zM386.5 129h1.1v1.1h-1.1zM391.5 120.5h1.1v1.1h-1.1zM390.5 127.5h1.1v1.1h-1.1zM391 132.5h1.1v1.1h-1.1zM387.5 127h1.1v1.1h-1.1zM397.5 134.5h1.1v1.1h-1.1zM393 129.5h1.1v1.1h-1.1zM389.5 119.5h1.1v1.1h-1.1zM389 118.5h1.1v1.1h-1.1zM397 140h1.1v1.1h-1.1zM386.5 142.5h1.1v1.1h-1.1zM397.5 121.5h1.1v1.1h-1.1zM403.5 126.5h1.1v1.1h-1.1zM401.5 128h1.1v1.1h-1.1zM397.5 131h1.1v1.1h-1.1zM381 111h1.1v1.1h-1.1zM399 131.5h1.1v1.1h-1.1zM395.5 126.5h1.1v1.1h-1.1zM404 126.5h1.1v1.1h-1.1zM389.5 122h1.1v1.1h-1.1zM390 137.5h1.1v1.1h-1.1zM404.5 122.5h1.1v1.1h-1.1zM387.5 141h1.1v1.1h-1.1zM402.5 139h1.1v1.1h-1.1zM396.5 121h1.1v1.1h-1.1zM375 134h1.1v1.1h-1.1zM390.5 134.5h1.1v1.1h-1.1zM390 123h1.1v1.1h-1.1zM383.5 107h1.1v1.1h-1.1zM379.5 123.5h1.1v1.1h-1.1zM394 129h1.1v1.1h-1.1zM386 145.5h1.1v1.1h-1.1zM388.5 137.5h1.1v1.1h-1.1zM386.5 134.5h1.1v1.1h-1.1zM391.5 128.5h1.1v1.1h-1.1zM397.5 134h1.1v1.1h-1.1zM399.5 119h1.1v1.1h-1.1zM397.5 119h1.1v1.1h-1.1zM391 114.5h1.1v1.1h-1.1zM392 116h1.1v1.1h-1.1zM398 124.5h1.1v1.1h-1.1zM403 143h1.1v1.1h-1.1zM393 114h1.1v1.1h-1.1zM383.5 128.5h1.1v1.1h-1.1zM395.5 126h1.1v1.1h-1.1zM398.5 110h1.1v1.1h-1.1zM390 124.5h1.1v1.1h-1.1zM402.5 107h1.1v1.1h-1.1zM390 135h1.1v1.1h-1.1zM393.5 133h1.1v1.1h-1.1zM396.5 119h1.1v1.1h-1.1zM405.5 122h1.1v1.1h-1.1zM384.5 121h1.1v1.1h-1.1zM397.5 119.5h1.1v1.1h-1.1zM399.5 131.5h1.1v1.1h-1.1zM392.5 115.5h1.1v1.1h-1.1zM401.5 122h1.1v1.1h-1.1zM388.5 114.5h1.1v1.1h-1.1zM384.5 135h1.1v1.1h-1.1zM384 126.5h1.1v1.1h-1.1zM388 134h1.1v1.1h-1.1zM385 118h1.1v1.1h-1.1zM397.5 102.5h1.1v1.1h-1.1zM393.5 130h1.1v1.1h-1.1zM382.5 128h1.1v1.1h-1.1zM405.5 132.5h1.1v1.1h-1.1zM395.5 124.5h1.1v1.1h-1.1zM381 130.5h1.1v1.1h-1.1zM379.5 132h1.1v1.1h-1.1zM394 120h1.1v1.1h-1.1zM404 105.5h1.1v1.1h-1.1zM391 130h1.1v1.1h-1.1zM401 126h1.1v1.1h-1.1zM406 120.5h1.1v1.1h-1.1zM399 113.5h1.1v1.1h-1.1zM391 139.5h1.1v1.1h-1.1zM383.5 125.5h1.1v1.1h-1.1zM388.5 125.5h1.1v1.1h-1.1zM403.5 116.5h1.1v1.1h-1.1zM393.5 118h1.1v1.1h-1.1zM386 126h1.1v1.1h-1.1zM390.5 113h1.1v1.1h-1.1zM392 135h1.1v1.1h-1.1zM402 120.5h1.1v1.1h-1.1zM389 135.5h1.1v1.1h-1.1zM408 125.5h1.1v1.1h-1.1zM395 117.5h1.1v1.1h-1.1zM396 141.5h1.1v1.1h-1.1zM385 124h1.1v1.1h-1.1zM396.5 120h1.1v1.1h-1.1zM395.5 132.5h1.1v1.1h-1.1zM399 127.5h1.1v1.1h-1.1zM388 124.5h1.1v1.1h-1.1zM395 107h1.1v1.1h-1.1zM381.5 109.5h1.1v1.1h-1.1zM385.5 132h1.1v1.1h-1.1zM411.5 119.5h1.1v1.1h-1.1zM390 128.5h1.1v1.1h-1.1zM387.5 116.5h1.1v1.1h-1.1zM400 126.5h1.1v1.1h-1.1zM392 109h1.1v1.1h-1.1zM413.5 122h1.1v1.1h-1.1zM394 136.5h1.1v1.1h-1.1zM399 126h1.1v1.1h-1.1zM391.5 121h1.1v1.1h-1.1zM402 123h1.1v1.1h-1.1zM393.5 124h1.1v1.1h-1.1zM414.5 140.5h1.1v1.1h-1.1zM388 125.5h1.1v1.1h-1.1zM397 128h1.1v1.1h-1.1zM399 120h1.1v1.1h-1.1zM384.5 129h1.1v1.1h-1.1zM389 128h1.1v1.1h-1.1zM387 118h1.1v1.1h-1.1zM380.5 109.5h1.1v1.1h-1.1zM395.5 122h1.1v1.1h-1.1zM371 134h1.1v1.1h-1.1zM383 119h1.1v1.1h-1.1zM384.5 121h1.1v1.1h-1.1zM395 134h1.1v1.1h-1.1zM392 123h1.1v1.1h-1.1zM401 107.5h1.1v1.1h-1.1zM402.5 138h1.1v1.1h-1.1zM394.5 124.5h1.1v1.1h-1.1zM385.5 119.5h1.1v1.1h-1.1zM398.5 122h1.1v1.1h-1.1zM387.5 128.5h1.1v1.1h-1.1zM390.5 119.5h1.1v1.1h-1.1zM393.5 139.5h1.1v1.1h-1.1zM404.5 128h1.1v1.1h-1.1zM413.5 129.5h1.1v1.1h-1.1zM402.5 126.5h1.1v1.1h-1.1zM389.5 119h1.1v1.1h-1.1zM400.5 125.5h1.1v1.1h-1.1zM403 139.5h1.1v1.1h-1.1zM386.5 120h1.1v1.1h-1.1zM394.5 123h1.1v1.1h-1.1zM388 127h1.1v1.1h-1.1zM388.5 117.5h1.1v1.1h-1.1zM394 131.5h1.1v1.1h-1.1zM394.5 113.5h1.1v1.1h-1.1zM387.5 127.5h1.1v1.1h-1.1zM393.5 115.5h1.1v1.1h-1.1zM384 121.5h1.1v1.1h-1.1zM392 121.5h1.1v1.1h-1.1zM394.5 146.5h1.1v1.1h-1.1zM390 119h1.1v1.1h-1.1zM381.5 133h1.1v1.1h-1.1zM387.5 127.5h1.1v1.1h-1.1zM396.5 117.5h1.1v1.1h-1.1zM401 132h1.1v1.1h-1.1zM400.5 123.5h1.1v1.1h-1.1zM401 110h1.1v1.1h-1.1zM406.5 109h1.1v1.1h-1.1zM390 125.5h1.1v1.1h-1.1zM402 125.5h1.1v1.1h-1.1zM387 110.5h1.1v1.1h-1.1zM406.5 124.5h1.1v1.1h-1.1zM401 121h1.1v1.1h-1.1zM385.5 128h1.1v1.1h-1.1zM398.5 118h1.1v1.1h-1.1zM401 124.5h1.1v1.1h-1.1zM387 122.5h1.1v1.1h-1.1zM396 128.5h1.1v1.1h-1.1zM400 133h1.1v1.1h-1.1zM407.5 141h1.1v1.1h-1.1zM389 111h1.1v1.1h-1.1zM405 126h1.1v1.1h-1.1zM385.5 116h1.1v1.1h-1.1zM387 114h1.1v1.1h-1.1zM403.5 108.5h1.1v1.1h-1.1zM399 118.5h1.1v1.1h-1.1zM387.5 123.5h1.1v1.1h-1.1zM405 121h1.1v1.1h-1.1zM397 125h1.1v1.1h-1.1zM395 124.5h1.1v1.1h-1.1zM391 127h1.1v1.1h-1.1zM373.5 123.5h1.1v1.1h-1.1zM393.5 125.5h1.1v1.1h-1.1zM400.5 124.5h1.1v1.1h-1.1zM393 119h1.1v1.1h-1.1zM399 111.5h1.1v1.1h-1.1zM392.5 110h1.1v1.1h-1.1zM404 126.5h1.1v1.1h-1.1zM371 114h1.1v1.1h-1.1zM397 128.5h1.1v1.1h-1.1zM386 118h1.1v1.1h-1.1zM395 115.5h1.1v1.1h-1.1zM398.5 120h1.1v1.1h-1.1zM402 123.5h1.1v1.1h-1.1zM399.5 137h1.1v1.1h-1.1zM402.5 118.5h1.1v1.1h-1.1zM385.5 118h1.1v1.1h-1.1zM394.5 125.5h1.1v1.1h-1.1zM376.5 130.5h1.1v1.1h-1.1zM396 121.5h1.1v1.1h-1.1zM380.5 118h1.1v1.1h-1.1zM401.5 127h1.1v1.1h-1.1zM394.5 125h1.1v1.1h-1.1zM391 126.5h1.1v1.1h-1.1zM388 111h1.1v1.1h-1.1zM394.5 128h1.1v1.1h-1.1zM388.5 123.5h1.1v1.1h-1.1zM382 132h1.1v1.1h-1.1zM396 121h1.1v1.1h-1.1zM386.5 126.5h1.1v1.1h-1.1zM396.5 120.5h1.1v1.1h-1.1zM385.5 141h1.1v1.1h-1.1zM384 110.5h1.1v1.1h-1.1zM410 114.5h1.1v1.1h-1.1zM397.5 116h1.1v1.1h-1.1zM402.5 97.5h1.1v1.1h-1.1zM391 118h1.1v1.1h-1.1zM392.5 136.5h1.1v1.1h-1.1zM393 129h1.1v1.1h-1.1zM408 132h1.1v1.1h-1.1zM398 121.5h1.1v1.1h-1.1zM394 117.5h1.1v1.1h-1.1zM392.5 121.5h1.1v1.1h-1.1zM393.5 112h1.1v1.1h-1.1zM401 108h1.1v1.1h-1.1zM393.5 132h1.1v1.1h-1.1zM393.5 122.5h1.1v1.1h-1.1zM403.5 134.5h1.1v1.1h-1.1zM400.5 111h1.1v1.1h-1.1zM399.5 123.5h1.1v1.1h-1.1zM408.5 110h1.1v1.1h-1.1zM392.5 136h1.1v1.1h-1.1zM384.5 123.5h1.1v1.1h-1.1zM381 114h1.1v1.1h-1.1zM392.5 114.5h1.1v1.1h-1.1zM395 133.5h1.1v1.1h-1.1zM400.5 114h1.1v1.1h-1.1zM382.5 121h1.1v1.1h-1.1zM383 123h1.1v1.1h-1.1zM391.5 114.5h1.1v1.1h-1.1zM391 135.5h1.1v1.1h-1.1zM382.5 138.5h1.1v1.1h-1.1zM391.5 118.5h1.1v1.1h-1.1zM398.5 124.5h1.1v1.1h-1.1zM391 129h1.1v1.1h-1.1zM411 128.5h1.1v1.1h-1.1zM398.5 129h1.1v1.1h-1.1zM386.5 113.5h1.1v1.1h-1.1zM391 123.5h1.1v1.1h-1.1zM382 111.5h1.1v1.1h-1.1zM409.5 122h1.1v1.1h-1.1zM390.5 127.5h1.1v1.1h-1.1zM390.5 130h1.1v1.1h-1.1zM398.5 105.5h1.1v1.1h-1.1zM390.5 125.5h1.1v1.1h-1.1zM387.5 111.5h1.1v1.1h-1.1zM392 127.5h1.1v1.1h-1.1zM400.5 126.5h1.1v1.1h-1.1zM400.5 125h1.1v1.1h-1.1zM382 131.5h1.1v1.1h-1.1zM380 125.5h1.1v1.1h-1.1zM396 117h1.1v1.1h-1.1zM390 120.5h1.1v1.1h-1.1zM389 126.5h1.1v1.1h-1.1zM400.5 109.5h1.1v1.1h-1.1zM396 121.5h1.1v1.1h-1.1zM388.5 126.5h1.1v1.1h-1.1zM397.5 114.5h1.1v1.1h-1.1zM387 133.5h1.1v1.1h-1.1zM388.5 132.5h1.1v1.1h-1.1zM407 128h1.1v1.1h-1.1zM391 122.5h1.1v1.1h-1.1zM397 120.5h1.1v1.1h-1.1zM390.5 128.5h1.1v1.1h-1.1zM390.5 127.5h1.1v1.1h-1.1zM384 131.5h1.1v1.1h-1.1zM384 117.5h1.1v1.1h-1.1zM402.5 128.5h1.1v1.1h-1.1zM410 133h1.1v1.1h-1.1zM398 115.5h1.1v1.1h-1.1zM397.5 124.5h1.1v1.1h-1.1zM388.5 123.5h1.1v1.1h-1.1zM392.5 122h1.1v1.1h-1.1zM404.5 131.5h1.1v1.1h-1.1zM413 122h1.1v1.1h-1.1zM398.5 129.5h1.1v1.1h-1.1zM396 127h1.1v1.1h-1.1zM401.5 129.5h1.1v1.1h-1.1zM394 121.5h1.1v1.1h-1.1zM387 118h1.1v1.1h-1.1zM386.5 129h1.1v1.1h-1.1zM391 123.5h1.1v1.1h-1.1zM390 130h1.1v1.1h-1.1zM375 119.5h1.1v1.1h-1.1zM379 118.5h1.1v1.1h-1.1zM399.5 129h1.1v1.1h-1.1zM400.5 124.5h1.1v1.1h-1.1zM399.5 122.5h1.1v1.1h-1.1zM391.5 129h1.1v1.1h-1.1zM388 122h1.1v1.1h-1.1zM392.5 125h1.1v1.1h-1.1zM395.5 127.5h1.1v1.1h-1.1zM389.5 114.5h1.1v1.1h-1.1zM401.5 131.5h1.1v1.1h-1.1zM388 123.5h1.1v1.1h-1.1zM375 121.5h1.1v1.1h-1.1zM398.5 123h1.1v1.1h-1.1zM400 118.5h1.1v1.1h-1.1zM391.5 108.5h1.1v1.1h-1.1zM401 124h1.1v1.1h-1.1zM402.5 120h1.1v1.1h-1.1zM373.5 137h1.1v1.1h-1.1zM396.5 136h1.1v1.1h-1.1zM384 119.5h1.1v1.1h-1.1zM398.5 126.5h1.1v1.1h-1.1zM395 132.5h1.1v1.1h-1.1zM399.5 127h1.1v1.1h-1.1zM391 122.5h1.1v1.1h-1.1zM388.5 121h1.1v1.1h-1.1zM395.5 115.5h1.1v1.1h-1.1zM412 131h1.1v1.1h-1.1zM396.5 129h1.1v1.1h-1.1zM385 125h1.1v1.1h-1.1zM393 124h1.1v1.1h-1.1zM391.5 138h1.1v1.1h-1.1zM403 127.5h1.1v1.1h-1.1zM394 135h1.1v1.1h-1.1zM391 114h1.1v1.1h-1.1zM394.5 117h1.1v1.1h-1.1zM388 117h1.1v1.1h-1.1zM397 130h1.1v1.1h-1.1zM385 121h1.1v1.1h-1.1zM389.5 134.5h1.1v1.1h-1.1zM395 125h1.1v1.1h-1.1zM382.5 132h1.1v1.1h-1.1zM383 121.5h1.1v1.1h-1.1zM387.5 131.5h1.1v1.1h-1.1zM404.5 121.5h1.1v1.1h-1.1zM400 123.5h1.1v1.1h-1.1zM394 116h1.1v1.1h-1.1zM401 109.5h1.1v1.1h-1.1zM400 114.5h1.1v1.1h-1.1zM388.5 126.5h1.1v1.1h-1.1zM385 126.5h1.1v1.1h-1.1zM402.5 111h1.1v1.1h-1.1zM388.5 114.5h1.1v1.1h-1.1zM398.5 112.5h1.1v1.1h-1.1zM381.5 128.5h1.1v1.1h-1.1zM393 117h1.1v1.1h-1.1zM384 115.5h1.1v1.1h-1.1zM398.5 128h1.1v1.1h-1.1zM399.5 119h1.1v1.1h-1.1zM396.5 128h1.1v1.1h-1.1zM399.5 130h1.1v1.1h-1.1zM389 119.5h1.1v1.1h-1.1zM396.5 110h1.1v1.1h-1.1zM398 121.5h1.1v1.1h-1.1zM386.5 141.5h1.1v1.1h-1.1zM398 115h1.1v1.1h-1.1zM395.5 135h1.1v1.1h-1.1zM397 118.5h1.1v1.1h-1.1zM391.5 116h1.1v1.1h-1.1zM393 136h1.1v1.1h-1.1zM397 120.5h1.1v1.1h-1.1zM394.5 106.5h1.1v1.1h-1.1zM398 113h1.1v1.1h-1.1zM383 117h1.1v1.1h-1.1zM401 119h1.1v1.1h-1.1zM387.5 134h1.1v1.1h-1.1zM401.5 131.5h1.1v1.1h-1.1zM382 124h1.1v1.1h-1.1zM388.5 127.5h1.1v1.1h-1.1zM395.5 120h1.1v1.1h-1.1zM396.5 110.5h1.1v1.1h-1.1zM390 124h1.1v1.1h-1.1zM386.5 122h1.1v1.1h-1.1zM398 131.5h1.1v1.1h-1.1zM401.5 126.5h1.1v1.1h-1.1zM386.5 133h1.1v1.1h-1.1zM384 120.5h1.1v1.1h-1.1zM388.5 121h1.1v1.1h-1.1zM392.5 120h1.1v1.1h-1.1zM379.5 117h1.1v1.1h-1.1zM385.5 132.5h1.1v1.1h-1.1zM398.5 125h1.1v1.1h-1.1zM387 114h1.1v1.1h-1.1zM387 119h1.1v1.1h-1.1zM405 139.5h1.1v1.1h-1.1zM401.5 143h1.1v1.1h-1.1zM406 135.5h1.1v1.1h-1.1zM393.5 125h1.1v1.1h-1.1zM392.5 137h1.1v1.1h-1.1zM390 123.5h1.1v1.1h-1.1zM382 114.5h1.1v1.1h-1.1zM377 124.5h1.1v1.1h-1.1zM392.5 115h1.1v1.1h-1.1zM387.5 122h1.1v1.1h-1.1zM398 142.5h1.1v1.1h-1.1zM401 128h1.1v1.1h-1.1zM381.5 125.5h1.1v1.1h-1.1zM382.5 130.5h1.1v1.1h-1.1zM395 120.5h1.1v1.1h-1.1zM404.5 126h1.1v1.1h-1.1zM405.5 116h1.1v1.1h-1.1zM388 112.5h1.1v1.1h-1.1zM394 120h1.1v1.1h-1.1zM404.5 114h1.1v1.1h-1.1zM387.5 105.5h1.1v1.1h-1.1zM386 119.5h1.1v1.1h-1.1zM404 115h1.1v1.1h-1.1zM388 116h1.1v1.1h-1.1zM384.5 135.5h1.1v1.1h-1.1zM406 129h1.1v1.1h-1.1zM390.5 131.5h1.1v1.1h-1.1zM390.5 122h1.1v1.1h-1.1zM398 115h1.1v1.1h-1.1zM405.5 116h1.1v1.1h-1.1zM400 138h1.1v1.1h-1.1zM395.5 100.5h1.1v1.1h-1.1zM397 119.5h1.1v1.1h-1.1zM397 125.5h1.1v1.1h-1.1zM396 111.5h1.1v1.1h-1.1zM380.5 132h1.1v1.1h-1.1zM396 117h1.1v1.1h-1.1zM383.5 123.5h1.1v1.1h-1.1zM388 136.5h1.1v1.1h-1.1zM395 131h1.1v1.1h-1.1zM393 122h1.1v1.1h-1.1zM396.5 123h1.1v1.1h-1.1zM393.5 136h1.1v1.1h-1.1zM397.5 139.5h1.1v1.1h-1.1zM408 128h1.1v1.1h-1.1zM385.5 108.5h1.1v1.1h-1.1zM402.5 120h1.1v1.1h-1.1zM408 132.5h1.1v1.1h-1.1zM390.5 118h1.1v1.1h-1.1zM391 121.5h1.1v1.1h-1.1zM393 116h1.1v1.1h-1.1zM397.5 120.5h1.1v1.1h-1.1zM388.5 132h1.1v1.1h-1.1zM391 129.5h1.1v1.1h-1.1zM393.5 115.5h1.1v1.1h-1.1zM394.5 134.5h1.1v1.1h-1.1zM405 112.5h1.1v1.1h-1.1zM390 132h1.1v1.1h-1.1zM400 131.5h1.1v1.1h-1.1zM400 113.5h1.1v1.1h-1.1zM395.5 109h1.1v1.1h-1.1zM395 132.5h1.1v1.1h-1.1zM387.5 129.5h1.1v1.1h-1.1zM388.5 126h1.1v1.1h-1.1zM397 118h1.1v1.1h-1.1zM396 127.5h1.1v1.1h-1.1zM392 112h1.1v1.1h-1.1zM403 131h1.1v1.1h-1.1zM395 143.5h1.1v1.1h-1.1zM394.5 123h1.1v1.1h-1.1zM392.5 133h1.1v1.1h-1.1zM402 117.5h1.1v1.1h-1.1zM398 127h1.1v1.1h-1.1zM396.5 123h1.1v1.1h-1.1zM384 128h1.1v1.1h-1.1zM407 122h1.1v1.1h-1.1zM383.5 110h1.1v1.1h-1.1zM397 133h1.1v1.1h-1.1zM385 115h1.1v1.1h-1.1zM382 133.5h1.1v1.1h-1.1zM369.5 114.5h1.1v1.1h-1.1zM394.5 131h1.1v1.1h-1.1zM395.5 127.5h1.1v1.1h-1.1zM390.5 120h1.1v1.1h-1.1zM389.5 132.5h1.1v1.1h-1.1zM382.5 126.5h1.1v1.1h-1.1zM393 137.5h1.1v1.1h-1.1zM391 130h1.1v1.1h-1.1zM381.5 134.5h1.1v1.1h-1.1zM389.5 107.5h1.1v1.1h-1.1zM390.5 135.5h1.1v1.1h-1.1zM384.5 122.5h1.1v1.1h-1.1zM401.5 122.5h1.1v1.1h-1.1zM383 113.5h1.1v1.1h-1.1zM408 118h1.1v1.1h-1.1zM401.5 121.5h1.1v1.1h-1.1zM389.5 125h1.1v1.1h-1.1zM405.5 124.5h1.1v1.1h-1.1zM401.5 121h1.1v1.1h-1.1zM402.5 125.5h1.1v1.1h-1.1zM394.5 131h1.1v1.1h-1.1zM385.5 120h1.1v1.1h-1.1zM376.5 118.5h1.1v1.1h-1.1zM395 133h1.1v1.1h-1.1zM392 127.5h1.1v1.1h-1.1zM388.5 116.5h1.1v1.1h-1.1zM409 129.5h1.1v1.1h-1.1zM397 127.5h1.1v1.1h-1.1zM381.5 142h1.1v1.1h-1.1zM392 131.5h1.1v1.1h-1.1zM397 131h1.1v1.1h-1.1zM383.5 123.5h1.1v1.1h-1.1zM394.5 116.5h1.1v1.1h-1.1zM390.5 123.5h1.1v1.1h-1.1zM381.5 122h1.1v1.1h-1.1zM396 122h1.1v1.1h-1.1zM398.5 133.5h1.1v1.1h-1.1zM373 115.5h1.1v1.1h-1.1zM396.5 138.5h1.1v1.1h-1.1zM388.5 116h1.1v1.1h-1.1zM390.5 112.5h1.1v1.1h-1.1zM380.5 132h1.1v1.1h-1.1zM385.5 122h1.1v1.1h-1.1zM406.5 118h1.1v1.1h-1.1zM398.5 127.5h1.1v1.1h-1.1zM392 120h1.1v1.1h-1.1zM394 125h1.1v1.1h-1.1zM387 121h1.1v1.1h-1.1zM392 125h1.1v1.1h-1.1zM386.5 117h1.1v1.1h-1.1zM395 129.5h1.1v1.1h-1.1zM384.5 120.5h1.1v1.1h-1.1zM394.5 124.5h1.1v1.1h-1.1zM399 106h1.1v1.1h-1.1zM390.5 128h1.1v1.1h-1.1zM394.5 119h1.1v1.1h-1.1zM395 122h1.1v1.1h-1.1zM389 120.5h1.1v1.1h-1.1zM382.5 119h1.1v1.1h-1.1zM401.5 115.5h1.1v1.1h-1.1zM394 131h1.1v1.1h-1.1zM391 119.5h1.1v1.1h-1.1zM402.5 121.5h1.1v1.1h-1.1zM387 120.5h1.1v1.1h-1.1zM389 117h1.1v1.1h-1.1zM388 132h1.1v1.1h-1.1zM385.5 117.5h1.1v1.1h-1.1zM392 126h1.1v1.1h-1.1zM388.5 116.5h1.1v1.1h-1.1zM404 111h1.1v1.1h-1.1zM388 111h1.1v1.1h-1.1zM402.5 127h1.1v1.1h-1.1zM386.5 106.5h1.1v1.1h-1.1zM390.5 108.5h1.1v1.1h-1.1zM393.5 117.5h1.1v1.1h-1.1zM386.5 127.5h1.1v1.1h-1.1zM398.5 116.5h1.1v1.1h-1.1zM388.5 131.5h1.1v1.1h-1.1zM388 121h1.1v1.1h-1.1zM398.5 120.5h1.1v1.1h-1.1zM387.5 135.5h1.1v1.1h-1.1zM398 127h1.1v1.1h-1.1zM401.5 119h1.1v1.1h-1.1zM399 118h1.1v1.1h-1.1zM404 129.5h1.1v1.1h-1.1zM390 134h1.1v1.1h-1.1zM402.5 120.5h1.1v1.1h-1.1zM389 121.5h1.1v1.1h-1.1zM380.5 131.5h1.1v1.1h-1.1zM392 117h1.1v1.1h-1.1zM408 126.5h1.1v1.1h-1.1zM385.5 125h1.1v1.1h-1.1zM406.5 121.5h1.1v1.1h-1.1zM382.5 115.5h1.1v1.1h-1.1zM400 103.5h1.1v1.1h-1.1zM397 121.5h1.1v1.1h-1.1zM390 112.5h1.1v1.1h-1.1zM376 125h1.1v1.1h-1.1zM398 118h1.1v1.1h-1.1zM398 119h1.1v1.1h-1.1zM397 134.5h1.1v1.1h-1.1zM400.5 128.5h1.1v1.1h-1.1zM387 115h1.1v1.1h-1.1zM408.5 129.5h1.1v1.1h-1.1zM400 119.5h1.1v1.1h-1.1zM387.5 112h1.1v1.1h-1.1zM409.5 124h1.1v1.1h-1.1zM393.5 123h1.1v1.1h-1.1zM396.5 130.5h1.1v1.1h-1.1zM399.5 131h1.1v1.1h-1.1zM386.5 132h1.1v1.1h-1.1zM386.5 117h1.1v1.1h-1.1zM392 122.5h1.1v1.1h-1.1zM384.5 108.5h1.1v1.1h-1.1zM391.5 125.5h1.1v1.1h-1.1zM403.5 121h1.1v1.1h-1.1zM384.5 105h1.1v1.1h-1.1zM394 128h1.1v1.1h-1.1zM389 126.5h1.1v1.1h-1.1zM399.5 109.5h1.1v1.1h-1.1zM384 104.5h1.1v1.1h-1.1zM384.5 120h1.1v1.1h-1.1zM391.5 124.5h1.1v1.1h-1.1zM408.5 121.5h1.1v1.1h-1.1zM385.5 134.5h1.1v1.1h-1.1zM380 142h1.1v1.1h-1.1zM385.5 123.5h1.1v1.1h-1.1zM398 121h1.1v1.1h-1.1zM400 119h1.1v1.1h-1.1zM392.5 139.5h1.1v1.1h-1.1zM394.5 123h1.1v1.1h-1.1zM382 128.5h1.1v1.1h-1.1zM395.5 130h1.1v1.1h-1.1zM391.5 131.5h1.1v1.1h-1.1zM388 126.5h1.1v1.1h-1.1zM400 138.5h1.1v1.1h-1.1zM400.5 127.5h1.1v1.1h-1.1zM389 124.5h1.1v1.1h-1.1zM394.5 114h1.1v1.1h-1.1zM378 120h1.1v1.1h-1.1zM384.5 122.5h1.1v1.1h-1.1zM402.5 131.5h1.1v1.1h-1.1zM384 118.5h1.1v1.1h-1.1zM385.5 125h1.1v1.1h-1.1zM401 121.5h1.1v1.1h-1.1zM375 100.5h1.1v1.1h-1.1zM387 125h1.1v1.1h-1.1zM398 137h1.1v1.1h-1.1zM389 111h1.1v1.1h-1.1zM386 132.5h1.1v1.1h-1.1zM384.5 113h1.1v1.1h-1.1zM394 119.5h1.1v1.1h-1.1zM385.5 122h1.1v1.1h-1.1zM394.5 131h1.1v1.1h-1.1zM391.5 123h1.1v1.1h-1.1zM392.5 123.5h1.1v1.1h-1.1zM401 131h1.1v1.1h-1.1zM389 131.5h1.1v1.1h-1.1zM385.5 122h1.1v1.1h-1.1zM392.5 127.5h1.1v1.1h-1.1zM394.5 135h1.1v1.1h-1.1zM391 127.5h1.1v1.1h-1.1zM379.5 115h1.1v1.1h-1.1zM397.5 124h1.1v1.1h-1.1zM379.5 110.5h1.1v1.1h-1.1zM377.5 141.5h1.1v1.1h-1.1zM400 125h1.1v1.1h-1.1zM404 109.5h1.1v1.1h-1.1zM390.5 119.5h1.1v1.1h-1.1zM386.5 127h1.1v1.1h-1.1zM403 129.5h1.1v1.1h-1.1zM382.5 122h1.1v1.1h-1.1zM392.5 120h1.1v1.1h-1.1zM388.5 115.5h1.1v1.1h-1.1zM397.5 131h1.1v1.1h-1.1zM395 134h1.1v1.1h-1.1zM387 126h1.1v1.1h-1.1zM401 125h1.1v1.1h-1.1zM398.5 124.5h1.1v1.1h-1.1zM393 119h1.1v1.1h-1.1zM390.5 120h1.1v1.1h-1.1zM392.5 128h1.1v1.1h-1.1zM383.5 125.5h1.1v1.1h-1.1zM391 127h1.1v1.1h-1.1zM391 117h1.1v1.1h-1.1zM397 130h1.1v1.1h-1.1zM391.5 114.5h1.1v1.1h-1.1zM390 133.5h1.1v1.1h-1.1zM395 121.5h1.1v1.1h-1.1zM400.5 126h1.1v1.1h-1.1zM397.5 117.5h1.1v1.1h-1.1zM392 122.5h1.1v1.1h-1.1zM389.5 117h1.1v1.1h-1.1zM403.5 124.5h1.1v1.1h-1.1zM393 108h1.1v1.1h-1.1zM384 133h1.1v1.1h-1.1zM394.5 125h1.1v1.1h-1.1zM379.5 129h1.1v1.1h-1.1zM389 122h1.1v1.1h-1.1zM398 127.5h1.1v1.1h-1.1zM392 117.5h1.1v1.1h-1.1zM390.5 115.5h1.1v1.1h-1.1zM398.5 119.5h1.1v1.1h-1.1zM402 111h1.1v1.1h-1.1zM385.5 130h1.1v1.1h-1.1zM384.5 120h1.1v1.1h-1.1zM387.5 121.5h1.1v1.1h-1.1zM384.5 116h1.1v1.1h-1.1zM396.5 127.5h1.1v1.1h-1.1zM398.5 132h1.1v1.1h-1.1zM392 120.5h1.1v1.1h-1.1zM385 132.5h1.1v1.1h-1.1zM381 126h1.1v1.1h-1.1zM391.5 125h1.1v1.1h-1.1zM387 109h1.1v1.1h-1.1zM396.5 115.5h1.1v1.1h-1.1zM383.5 133.5h1.1v1.1h-1.1zM388.5 132.5h1.1v1.1h-1.1zM390 142h1.1v1.1h-1.1zM400.5 118.5h1.1v1.1h-1.1zM399 130h1.1v1.1h-1.1zM396.5 111h1.1v1.1h-1.1zM394.5 116.5h1.1v1.1h-1.1zM398 114.5h1.1v1.1h-1.1zM379.5 116.5h1.1v1.1h-1.1zM400 126.5h1.1v1.1h-1.1zM391 136h1.1v1.1h-1.1zM404 125.5h1.1v1.1h-1.1zM400 113.5h1.1v1.1h-1.1zM402 135h1.1v1.1h-1.1zM388 127h1.1v1.1h-1.1zM415 111h1.1v1.1h-1.1zM397.5 135.5h1.1v1.1h-1.1zM395.5 124.5h1.1v1.1h-1.1zM389 130.5h1.1v1.1h-1.1zM396 119h1.1v1.1h-1.1zM377.5 119.5h1.1v1.1h-1.1zM403.5 127.5h1.1v1.1h-1.1zM397 110.5h1.1v1.1h-1.1zM393 124.5h1.1v1.1h-1.1zM403.5 131.5h1.1v1.1h-1.1zM397.5 128h1.1v1.1h-1.1zM397 123.5h1.1v1.1h-1.1zM389.5 120.5h1.1v1.1h-1.1zM396 120.5h1.1v1.1h-1.1zM384.5 136.5h1.1v1.1h-1.1zM385 126.5h1.1v1.1h-1.1zM394.5 125.5h1.1v1.1h-1.1zM389 116h1.1v1.1h-1.1zM383.5 127.5h1.1v1.1h-1.1zM392 130.5h1.1v1.1h-1.1zM379.5 104.5h1.1v1.1h-1.1zM405 138h1.1v1.1h-1.1zM386.5 131h1.1v1.1h-1.1zM386.5 122.5h1.1v1.1h-1.1zM405 108.5h1.1v1.1h-1.1zM382 145h1.1v1.1h-1.1zM376.5 130h1.1v1.1h-1.1zM393.5 119.5h1.1v1.1h-1.1zM391 111.5h1.1v1.1h-1.1zM401 133h1.1v1.1h-1.1zM393 108.5h1.1v1.1h-1.1zM381 124h1.1v1.1h-1.1zM394 121h1.1v1.1h-1.1zM391.5 113.5h1.1v1.1h-1.1zM402.5 117.5h1.1v1.1h-1.1zM395.5 117.5h1.1v1.1h-1.1zM386 131.5h1.1v1.1h-1.1zM388 127.5h1.1v1.1h-1.1zM393.5 133.5h1.1v1.1h-1.1zM390 115h1.1v1.1h-1.1zM395 135h1.1v1.1h-1.1zM395.5 127h1.1v1.1h-1.1zM384.5 134.5h1.1v1.1h-1.1zM395 121h1.1v1.1h-1.1zM399.5 128h1.1v1.1h-1.1zM384 115.5h1.1v1.1h-1.1zM382.5 133.5h1.1v1.1h-1.1zM399 124.5h1.1v1.1h-1.1zM397.5 118.5h1.1v1.1h-1.1zM400.5 122.5h1.1v1.1h-1.1zM406.5 124.5h1.1v1.1h-1.1zM392.5 107.5h1.1v1.1h-1.1zM385.5 124.5h1.1v1.1h-1.1zM395 114h1.1v1.1h-1.1zM388.5 122.5h1.1v1.1h-1.1zM396.5 124.5h1.1v1.1h-1.1zM399 143.5h1.1v1.1h-1.1zM394 127h1.1v1.1h-1.1zM398 112h1.1v1.1h-1.1zM393.5 128h1.1v1.1h-1.1zM395.5 113.5h1.1v1.1h-1.1zM385 114.5h1.1v1.1h-1.1zM406 117h1.1v1.1h-1.1zM388.5 131h1.1v1.1h-1.1zM390.5 137.5h1.1v1.1h-1.1zM388 129h1.1v1.1h-1.1zM391.5 112h1.1v1.1h-1.1zM390 124.5h1.1v1.1h-1.1zM378.5 130h1.1v1.1h-1.1zM405 101.5h1.1v1.1h-1.1zM396 120h1.1v1.1h-1.1zM391 145h1.1v1.1h-1.1zM393 111h1.1v1.1h-1.1zM401 114.5h1.1v1.1h-1.1zM399.5 113h1.1v1.1h-1.1zM395.5 135.5h1.1v1.1h-1.1zM400 131.5h1.1v1.1h-1.1zM374 130h1.1v1.1h-1.1zM400 134h1.1v1.1h-1.1zM391.5 118h1.1v1.1h-1.1zM387.5 107h1.1v1.1h-1.1zM385.5 128.5h1.1v1.1h-1.1zM393.5 109.5h1.1v1.1h-1.1zM380 129.5h1.1v1.1h-1.1zM395.5 128.5h1.1v1.1h-1.1zM387 125.5h1.1v1.1h-1.1zM398.5 135h1.1v1.1h-1.1zM379.5 127.5h1.1v1.1h-1.1zM396 113.5h1.1v1.1h-1.1zM389.5 117h1.1v1.1h-1.1zM384 130h1.1v1.1h-1.1zM402.5 118.5h1.1v1.1h-1.1zM401 129.5h1.1v1.1h-1.1zM385.5 122h1.1v1.1h-1.1zM390.5 126.5h1.1v1.1h-1.1zM404 116h1.1v1.1h-1.1zM393.5 123h1.1v1.1h-1.1zM388 110h1.1v1.1h-1.1zM385.5 118h1.1v1.1h-1.1zM387 129h1.1v1.1h-1.1zM397 118.5h1.1v1.1h-1.1zM399.5 116h1.1v1.1h-1.1zM390 131.5h1.1v1.1h-1.1zM384.5 131h1.1v1.1h-1.1zM386.5 114h1.1v1.1h-1.1zM379 126h1.1v1.1h-1.1zM396 128.5h1.1v1.1h-1.1zM392.5 116.5h1.1v1.1h-1.1zM400.5 117.5h1.1v1.1h-1.1zM409.5 122.5h1.1v1.1h-1.1zM402.5 137h1.1v1.1h-1.1zM389 124h1.1v1.1h-1.1zM389.5 123.5h1.1v1.1h-1.1zM382.5 101h1.1v1.1h-1.1zM376.5 127h1.1v1.1h-1.1zM406.5 132.5h1.1v1.1h-1.1zM394 114.5h1.1v1.1h-1.1zM380.5 130.5h1.1v1.1h-1.1zM397.5 127h1.1v1.1h-1.1zM376 131h1.1v1.1h-1.1zM390.5 124h1.1v1.1h-1.1zM393 124.5h1.1v1.1h-1.1zM387 145.5h1.1v1.1h-1.1zM388 140h1.1v1.1h-1.1zM398 116h1.1v1.1h-1.1zM388 110h1.1v1.1h-1.1zM400.5 127.5h1.1v1.1h-1.1zM378 128h1.1v1.1h-1.1zM388.5 125h1.1v1.1h-1.1zM405 123h1.1v1.1h-1.1zM384 136.5h1.1v1.1h-1.1zM384 98h1.1v1.1h-1.1zM392 115.5h1.1v1.1h-1.1zM388 129.5h1.1v1.1h-1.1zM393.5 128h1.1v1.1h-1.1zM399.5 128h1.1v1.1h-1.1zM396 117.5h1.1v1.1h-1.1zM393.5 138.5h1.1v1.1h-1.1zM388.5 132.5h1.1v1.1h-1.1zM393.5 131h1.1v1.1h-1.1zM399 128h1.1v1.1h-1.1zM385 111.5h1.1v1.1h-1.1zM388.5 119h1.1v1.1h-1.1zM383 112.5h1.1v1.1h-1.1zM391.5 123.5h1.1v1.1h-1.1zM393 110.5h1.1v1.1h-1.1zM387.5 123h1.1v1.1h-1.1zM383.5 117.5h1.1v1.1h-1.1zM386 122.5h1.1v1.1h-1.1zM397 103.5h1.1v1.1h-1.1zM387.5 113h1.1v1.1h-1.1zM398.5 123.5h1.1v1.1h-1.1zM387 128.5h1.1v1.1h-1.1zM386 111.5h1.1v1.1h-1.1zM398 128h1.1v1.1h-1.1zM386 144h1.1v1.1h-1.1zM400.5 121h1.1v1.1h-1.1zM375 115.5h1.1v1.1h-1.1zM392 106.5h1.1v1.1h-1.1zM388 108h1.1v1.1h-1.1zM389 117.5h1.1v1.1h-1.1zM394 119.5h1.1v1.1h-1.1zM377 127h1.1v1.1h-1.1zM408.5 138h1.1v1.1h-1.1zM388.5 115h1.1v1.1h-1.1zM411 124.5h1.1v1.1h-1.1zM398.5 135.5h1.1v1.1h-1.1zM393.5 128h1.1v1.1h-1.1zM380 125h1.1v1.1h-1.1zM405.5 124.5h1.1v1.1h-1.1zM397 112h1.1v1.1h-1.1zM401.5 111h1.1v1.1h-1.1zM380 130h1.1v1.1h-1.1zM378.5 135h1.1v1.1h-1.1zM389 132.5h1.1v1.1h-1.1zM396 132.5h1.1v1.1h-1.1zM398.5 137.5h1.1v1.1h-1.1zM401.5 136.5h1.1v1.1h-1.1zM385.5 120.5h1.1v1.1h-1.1zM381.5 126h1.1v1.1h-1.1zM398 104.5h1.1v1.1h-1.1zM384.5 132.5h1.1v1.1h-1.1zM391.5 125h1.1v1.1h-1.1zM408 124.5h1.1v1.1h-1.1zM389 132.5h1.1v1.1h-1.1zM395 112.5h1.1v1.1h-1.1zM394 125h1.1v1.1h-1.1zM392 116.5h1.1v1.1h-1.1zM395 137h1.1v1.1h-1.1zM396 113h1.1v1.1h-1.1zM392.5 118.5h1.1v1.1h-1.1zM404 127.5h1.1v1.1h-1.1zM399.5 138h1.1v1.1h-1.1zM384.5 123.5h1.1v1.1h-1.1zM403.5 111.5h1.1v1.1h-1.1zM393.5 117.5h1.1v1.1h-1.1zM391 126.5h1.1v1.1h-1.1zM386.5 128.5h1.1v1.1h-1.1zM398.5 113h1.1v1.1h-1.1zM392 133.5h1.1v1.1h-1.1zM386 116h1.1v1.1h-1.1zM386 115.5h1.1v1.1h-1.1zM401 122h1.1v1.1h-1.1zM390 113.5h1.1v1.1h-1.1zM389.5 113h1.1v1.1h-1.1zM412 121.5h1.1v1.1h-1.1zM395 103h1.1v1.1h-1.1zM397.5 120.5h1.1v1.1h-1.1zM393.5 113h1.1v1.1h-1.1zM392 126h1.1v1.1h-1.1zM385 115.5h1.1v1.1h-1.1zM398 131h1.1v1.1h-1.1zM394.5 126.5h1.1v1.1h-1.1zM386 127.5h1.1v1.1h-1.1zM391.5 125.5h1.1v1.1h-1.1zM406 116h1.1v1.1h-1.1zM394.5 126.5h1.1v1.1h-1.1zM393 128.5h1.1v1.1h-1.1zM387.5 124.5h1.1v1.1h-1.1zM388 126h1.1v1.1h-1.1zM396.5 126.5h1.1v1.1h-1.1zM399 121.5h1.1v1.1h-1.1zM394 119h1.1v1.1h-1.1zM399.5 124.5h1.1v1.1h-1.1zM386 125h1.1v1.1h-1.1zM389.5 129h1.1v1.1h-1.1zM395 134h1.1v1.1h-1.1zM401.5 121h1.1v1.1h-1.1zM389 119.5h1.1v1.1h-1.1zM400 140.5h1.1v1.1h-1.1zM384.5 123h1.1v1.1h-1.1zM401 123.5h1.1v1.1h-1.1zM402.5 116.5h1.1v1.1h-1.1zM390 127h1.1v1.1h-1.1zM395 105h1.1v1.1h-1.1zM398.5 117.5h1.1v1.1h-1.1zM387.5 121.5h1.1v1.1h-1.1zM389.5 117.5h1.1v1.1h-1.1zM389.5 125.5h1.1v1.1h-1.1zM397 133h1.1v1.1h-1.1zM399.5 126.5h1.1v1.1h-1.1zM384 154h1.1v1.1h-1.1zM359.5 145h1.1v1.1h-1.1zM378.5 125h1.1v1.1h-1.1zM402.5 146.5h1.1v1.1h-1.1zM406 155h1.1v1.1h-1.1zM395 134.5h1.1v1.1h-1.1zM398 150.5h1.1v1.1h-1.1zM397.5 110.5h1.1v1.1h-1.1zM370.5 118.5h1.1v1.1h-1.1zM383 144h1.1v1.1h-1.1zM381.5 138.5h1.1v1.1h-1.1zM395 146h1.1v1.1h-1.1zM400.5 144h1.1v1.1h-1.1zM388 148.5h1.1v1.1h-1.1zM410 119h1.1v1.1h-1.1zM386 119.5h1.1v1.1h-1.1zM381.5 152.5h1.1v1.1h-1.1zM381 142.5h1.1v1.1h-1.1zM363.5 138.5h1.1v1.1h-1.1zM396 136h1.1v1.1h-1.1zM381.5 159h1.1v1.1h-1.1zM395 129h1.1v1.1h-1.1zM392.5 143.5h1.1v1.1h-1.1zM394 157h1.1v1.1h-1.1zM368 131h1.1v1.1h-1.1zM383 131h1.1v1.1h-1.1zM384 134.5h1.1v1.1h-1.1zM391 113h1.1v1.1h-1.1zM375.5 152.5h1.1v1.1h-1.1zM375 151h1.1v1.1h-1.1zM401 162h1.1v1.1h-1.1zM370.5 138.5h1.1v1.1h-1.1zM390 144.5h1.1v1.1h-1.1zM374 148h1.1v1.1h-1.1zM396.5 160.5h1.1v1.1h-1.1zM381.5 143.5h1.1v1.1h-1.1zM383 145.5h1.1v1.1h-1.1zM376 131h1.1v1.1h-1.1zM364 144h1.1v1.1h-1.1zM408 139.5h1.1v1.1h-1.1zM386.5 153h1.1v1.1h-1.1zM405 149h1.1v1.1h-1.1zM395.5 125h1.1v1.1h-1.1zM376 126h1.1v1.1h-1.1zM381 144h1.1v1.1h-1.1zM394 134h1.1v1.1h-1.1zM388.5 143h1.1v1.1h-1.1zM379.5 153.5h1.1v1.1h-1.1zM392 123.5h1.1v1.1h-1.1zM397.5 144h1.1v1.1h-1.1zM402 127h1.1v1.1h-1.1zM407.5 138.5h1.1v1.1h-1.1zM389 137.5h1.1v1.1h-1.1zM383.5 125h1.1v1.1h-1.1zM383.5 109.5h1.1v1.1h-1.1zM357.5 133.5h1.1v1.1h-1.1zM404 123h1.1v1.1h-1.1zM407.5 140.5h1.1v1.1h-1.1zM343 139.5h1.1v1.1h-1.1zM389.5 150h1.1v1.1h-1.1zM381.5 145h1.1v1.1h-1.1zM385 113.5h1.1v1.1h-1.1zM366.5 116h1.1v1.1h-1.1zM386 126.5h1.1v1.1h-1.1zM362.5 136.5h1.1v1.1h-1.1zM395 141h1.1v1.1h-1.1zM398.5 129h1.1v1.1h-1.1zM402 142h1.1v1.1h-1.1zM367 126h1.1v1.1h-1.1zM373 151.5h1.1v1.1h-1.1zM379.5 132.5h1.1v1.1h-1.1zM403.5 131.5h1.1v1.1h-1.1zM384.5 132h1.1v1.1h-1.1zM406 138.5h1.1v1.1h-1.1zM389.5 157h1.1v1.1h-1.1zM395 141h1.1v1.1h-1.1zM369.5 150.5h1.1v1.1h-1.1zM367 129h1.1v1.1h-1.1zM377.5 147h1.1v1.1h-1.1zM372.5 148.5h1.1v1.1h-1.1zM369 151.5h1.1v1.1h-1.1zM393.5 127h1.1v1.1h-1.1zM406 127.5h1.1v1.1h-1.1zM378 139.5h1.1v1.1h-1.1zM386 146.5h1.1v1.1h-1.1zM403.5 128h1.1v1.1h-1.1zM388 141h1.1v1.1h-1.1zM396.5 158.5h1.1v1.1h-1.1zM396 114h1.1v1.1h-1.1zM402 122.5h1.1v1.1h-1.1zM401.5 136h1.1v1.1h-1.1zM391 144.5h1.1v1.1h-1.1zM376 138.5h1.1v1.1h-1.1zM401 145.5h1.1v1.1h-1.1zM374.5 156.5h1.1v1.1h-1.1zM389.5 133h1.1v1.1h-1.1zM393.5 128.5h1.1v1.1h-1.1zM423 156.5h1.1v1.1h-1.1zM397 117.5h1.1v1.1h-1.1zM394 150h1.1v1.1h-1.1zM384.5 156h1.1v1.1h-1.1zM386.5 143h1.1v1.1h-1.1zM370 132h1.1v1.1h-1.1zM361.5 141.5h1.1v1.1h-1.1zM386.5 132h1.1v1.1h-1.1zM390.5 164.5h1.1v1.1h-1.1zM383 147h1.1v1.1h-1.1zM385 140h1.1v1.1h-1.1zM385 144.5h1.1v1.1h-1.1zM410 146h1.1v1.1h-1.1zM380.5 152.5h1.1v1.1h-1.1zM411.5 143.5h1.1v1.1h-1.1zM380 129.5h1.1v1.1h-1.1zM386 136h1.1v1.1h-1.1zM388 125.5h1.1v1.1h-1.1zM395.5 121.5h1.1v1.1h-1.1zM406 142.5h1.1v1.1h-1.1zM401 132h1.1v1.1h-1.1zM402.5 137h1.1v1.1h-1.1zM392.5 147.5h1.1v1.1h-1.1zM389 151h1.1v1.1h-1.1zM387.5 140.5h1.1v1.1h-1.1zM375 132.5h1.1v1.1h-1.1zM415.5 147.5h1.1v1.1h-1.1zM388 129h1.1v1.1h-1.1zM380.5 158.5h1.1v1.1h-1.1zM374.5 133.5h1.1v1.1h-1.1zM385.5 154h1.1v1.1h-1.1zM376 126.5h1.1v1.1h-1.1zM401 149.5h1.1v1.1h-1.1zM403 145h1.1v1.1h-1.1zM380.5 137.5h1.1v1.1h-1.1zM404.5 153h1.1v1.1h-1.1zM398.5 146h1.1v1.1h-1.1zM393 140.5h1.1v1.1h-1.1zM392.5 138h1.1v1.1h-1.1zM385.5 145.5h1.1v1.1h-1.1zM400 141.5h1.1v1.1h-1.1zM368.5 129.5h1.1v1.1h-1.1zM398 130.5h1.1v1.1h-1.1zM388 137.5h1.1v1.1h-1.1zM361 124.5h1.1v1.1h-1.1zM385 114.5h1.1v1.1h-1.1zM390.5 150h1.1v1.1h-1.1zM396.5 132h1.1v1.1h-1.1zM390 168h1.1v1.1h-1.1zM377.5 142h1.1v1.1h-1.1zM391.5 149.5h1.1v1.1h-1.1zM390 149h1.1v1.1h-1.1zM349 139.5h1.1v1.1h-1.1zM375 134.5h1.1v1.1h-1.1zM384 119h1.1v1.1h-1.1zM380.5 125h1.1v1.1h-1.1zM390.5 122h1.1v1.1h-1.1zM413 120.5h1.1v1.1h-1.1zM388.5 119.5h1.1v1.1h-1.1zM382.5 141.5h1.1v1.1h-1.1zM387 114h1.1v1.1h-1.1zM376.5 159h1.1v1.1h-1.1zM381 128.5h1.1v1.1h-1.1zM379 144h1.1v1.1h-1.1zM395 142.5h1.1v1.1h-1.1zM381.5 144h1.1v1.1h-1.1zM389.5 137.5h1.1v1.1h-1.1zM392 136h1.1v1.1h-1.1zM375.5 140h1.1v1.1h-1.1zM395 150h1.1v1.1h-1.1zM407.5 147.5h1.1v1.1h-1.1zM385 141h1.1v1.1h-1.1zM391.5 120h1.1v1.1h-1.1zM401.5 127.5h1.1v1.1h-1.1zM404 139.5h1.1v1.1h-1.1zM391.5 153.5h1.1v1.1h-1.1zM385.5 157h1.1v1.1h-1.1zM394.5 131h1.1v1.1h-1.1zM375 143h1.1v1.1h-1.1zM378.5 131.5h1.1v1.1h-1.1zM381.5 126.5h1.1v1.1h-1.1zM393.5 139.5h1.1v1.1h-1.1zM374.5 146h1.1v1.1h-1.1zM391.5 141.5h1.1v1.1h-1.1zM368 108.5h1.1v1.1h-1.1zM376 153h1.1v1.1h-1.1zM377.5 112h1.1v1.1h-1.1zM395 152h1.1v1.1h-1.1zM410 156.5h1.1v1.1h-1.1zM369 178.5h1.1v1.1h-1.1zM391 120h1.1v1.1h-1.1zM386.5 132h1.1v1.1h-1.1zM393 140h1.1v1.1h-1.1zM381 144h1.1v1.1h-1.1zM398.5 132.5h1.1v1.1h-1.1zM362.5 152.5h1.1v1.1h-1.1zM399.5 133h1.1v1.1h-1.1zM405.5 139h1.1v1.1h-1.1zM378 138h1.1v1.1h-1.1zM390 148h1.1v1.1h-1.1zM374.5 144.5h1.1v1.1h-1.1zM384 118.5h1.1v1.1h-1.1zM385 149h1.1v1.1h-1.1zM355.5 125.5h1.1v1.1h-1.1zM398.5 126.5h1.1v1.1h-1.1zM396 129.5h1.1v1.1h-1.1zM410.5 135.5h1.1v1.1h-1.1zM387 146.5h1.1v1.1h-1.1zM389.5 146h1.1v1.1h-1.1zM402.5 119.5h1.1v1.1h-1.1zM366 137.5h1.1v1.1h-1.1zM395 152h1.1v1.1h-1.1zM384 150.5h1.1v1.1h-1.1zM411.5 141h1.1v1.1h-1.1zM386.5 129.5h1.1v1.1h-1.1zM400.5 146.5h1.1v1.1h-1.1zM383 135.5h1.1v1.1h-1.1zM349 121h1.1v1.1h-1.1zM405.5 106.5h1.1v1.1h-1.1zM401.5 145h1.1v1.1h-1.1zM401 154h1.1v1.1h-1.1zM385 164h1.1v1.1h-1.1zM403.5 155.5h1.1v1.1h-1.1zM377 144.5h1.1v1.1h-1.1zM379 137h1.1v1.1h-1.1zM400.5 141h1.1v1.1h-1.1zM398.5 147h1.1v1.1h-1.1zM411.5 123.5h1.1v1.1h-1.1zM380 140.5h1.1v1.1h-1.1zM394.5 134h1.1v1.1h-1.1zM395.5 147.5h1.1v1.1h-1.1zM402.5 146.5h1.1v1.1h-1.1zM376 111h1.1v1.1h-1.1zM390.5 118h1.1v1.1h-1.1zM384 138h1.1v1.1h-1.1zM395.5 145h1.1v1.1h-1.1zM425 127.5h1.1v1.1h-1.1zM398 139.5h1.1v1.1h-1.1zM408.5 137.5h1.1v1.1h-1.1zM397 131h1.1v1.1h-1.1zM385.5 130h1.1v1.1h-1.1zM393 142h1.1v1.1h-1.1zM389.5 152.5h1.1v1.1h-1.1zM388 130h1.1v1.1h-1.1zM400 145h1.1v1.1h-1.1zM396.5 140.5h1.1v1.1h-1.1zM379.5 131h1.1v1.1h-1.1zM364 130.5h1.1v1.1h-1.1zM383 125.5h1.1v1.1h-1.1zM394.5 139.5h1.1v1.1h-1.1zM406.5 145h1.1v1.1h-1.1zM392 134h1.1v1.1h-1.1zM396 114.5h1.1v1.1h-1.1zM402.5 138.5h1.1v1.1h-1.1zM404 135.5h1.1v1.1h-1.1zM381 132h1.1v1.1h-1.1zM387.5 151.5h1.1v1.1h-1.1zM398 127h1.1v1.1h-1.1zM383.5 133h1.1v1.1h-1.1zM379 139h1.1v1.1h-1.1zM386.5 156h1.1v1.1h-1.1zM390 123.5h1.1v1.1h-1.1zM403 140h1.1v1.1h-1.1zM384 113.5h1.1v1.1h-1.1zM380 128.5h1.1v1.1h-1.1zM385.5 133.5h1.1v1.1h-1.1zM400.5 120.5h1.1v1.1h-1.1zM369 144h1.1v1.1h-1.1zM394.5 140h1.1v1.1h-1.1zM403 127h1.1v1.1h-1.1zM386 138.5h1.1v1.1h-1.1zM383.5 128h1.1v1.1h-1.1zM376.5 133.5h1.1v1.1h-1.1zM379.5 134h1.1v1.1h-1.1zM389 154.5h1.1v1.1h-1.1zM406 125.5h1.1v1.1h-1.1zM397.5 144h1.1v1.1h-1.1zM386 151.5h1.1v1.1h-1.1zM373 138.5h1.1v1.1h-1.1zM376 145h1.1v1.1h-1.1zM403.5 163h1.1v1.1h-1.1zM373.5 123.5h1.1v1.1h-1.1zM402.5 123h1.1v1.1h-1.1zM392.5 145h1.1v1.1h-1.1zM402.5 138h1.1v1.1h-1.1zM395 157h1.1v1.1h-1.1zM383.5 130.5h1.1v1.1h-1.1zM390 138.5h1.1v1.1h-1.1zM385.5 146h1.1v1.1h-1.1zM375 110.5h1.1v1.1h-1.1zM387.5 156h1.1v1.1h-1.1zM389 138.5h1.1v1.1h-1.1zM376.5 126.5h1.1v1.1h-1.1zM386.5 130h1.1v1.1h-1.1zM398.5 131.5h1.1v1.1h-1.1zM390 155h1.1v1.1h-1.1zM376.5 126.5h1.1v1.1h-1.1zM408.5 154.5h1.1v1.1h-1.1zM381.5 130.5h1.1v1.1h-1.1zM404 143.5h1.1v1.1h-1.1zM394 133h1.1v1.1h-1.1zM403.5 137.5h1.1v1.1h-1.1zM393 150h1.1v1.1h-1.1zM376.5 137h1.1v1.1h-1.1zM405 130.5h1.1v1.1h-1.1zM381.5 150.5h1.1v1.1h-1.1zM372.5 163.5h1.1v1.1h-1.1zM372 135.5h1.1v1.1h-1.1zM395 134.5h1.1v1.1h-1.1zM384 131h1.1v1.1h-1.1zM384.5 120.5h1.1v1.1h-1.1zM372 128.5h1.1v1.1h-1.1zM413 142.5h1.1v1.1h-1.1zM398.5 130h1.1v1.1h-1.1zM402.5 141.5h1.1v1.1h-1.1zM393 140h1.1v1.1h-1.1zM404.5 145.5h1.1v1.1h-1.1zM384.5 156.5h1.1v1.1h-1.1zM407 136.5h1.1v1.1h-1.1zM390 120h1.1v1.1h-1.1zM385 140.5h1.1v1.1h-1.1zM400 144.5h1.1v1.1h-1.1zM396 160h1.1v1.1h-1.1zM395.5 138h1.1v1.1h-1.1zM372 129h1.1v1.1h-1.1zM379.5 125.5h1.1v1.1h-1.1zM375 145h1.1v1.1h-1.1zM381.5 134.5h1.1v1.1h-1.1zM392 150h1.1v1.1h-1.1zM379 154h1.1v1.1h-1.1zM391 137.5h1.1v1.1h-1.1zM378 144.5h1.1v1.1h-1.1zM387 138h1.1v1.1h-1.1zM397.5 145h1.1v1.1h-1.1zM404.5 120h1.1v1.1h-1.1zM413.5 126.5h1.1v1.1h-1.1zM393.5 158h1.1v1.1h-1.1zM394.5 118h1.1v1.1h-1.1zM409 124h1.1v1.1h-1.1zM372 144h1.1v1.1h-1.1zM378.5 125h1.1v1.1h-1.1zM402.5 131.5h1.1v1.1h-1.1zM404 125.5h1.1v1.1h-1.1zM414 156h1.1v1.1h-1.1zM412.5 135.5h1.1v1.1h-1.1zM411 157.5h1.1v1.1h-1.1zM401.5 140h1.1v1.1h-1.1zM392.5 116.5h1.1v1.1h-1.1zM406 139h1.1v1.1h-1.1zM369.5 114h1.1v1.1h-1.1zM389.5 149h1.1v1.1h-1.1zM373 109h1.1v1.1h-1.1zM388.5 150.5h1.1v1.1h-1.1zM357 144h1.1v1.1h-1.1zM396.5 156h1.1v1.1h-1.1zM390.5 142.5h1.1v1.1h-1.1zM404 140.5h1.1v1.1h-1.1zM371.5 132.5h1.1v1.1h-1.1zM386.5 129h1.1v1.1h-1.1zM401.5 127.5h1.1v1.1h-1.1zM369.5 133h1.1v1.1h-1.1zM388 134h1.1v1.1h-1.1zM364 167h1.1v1.1h-1.1zM413 142.5h1.1v1.1h-1.1zM378.5 125.5h1.1v1.1h-1.1zM390.5 154h1.1v1.1h-1.1zM394 138h1.1v1.1h-1.1zM368 128h1.1v1.1h-1.1zM382.5 138.5h1.1v1.1h-1.1zM369.5 128.5h1.1v1.1h-1.1zM396 144h1.1v1.1h-1.1zM407 133h1.1v1.1h-1.1zM361.5 150.5h1.1v1.1h-1.1zM388.5 121.5h1.1v1.1h-1.1zM372 140h1.1v1.1h-1.1zM394 120h1.1v1.1h-1.1zM396 160.5h1.1v1.1h-1.1zM400.5 122h1.1v1.1h-1.1zM397 162h1.1v1.1h-1.1zM369.5 133.5h1.1v1.1h-1.1zM373.5 150h1.1v1.1h-1.1zM388.5 126.5h1.1v1.1h-1.1zM397.5 133h1.1v1.1h-1.1zM379.5 155h1.1v1.1h-1.1zM384.5 120h1.1v1.1h-1.1zM395 144.5h1.1v1.1h-1.1zM391 116.5h1.1v1.1h-1.1zM402.5 164h1.1v1.1h-1.1zM376 150.5h1.1v1.1h-1.1zM395.5 113.5h1.1v1.1h-1.1zM391 132.5h1.1v1.1h-1.1zM390.5 150.5h1.1v1.1h-1.1zM387.5 166h1.1v1.1h-1.1zM383 136h1.1v1.1h-1.1zM406 113h1.1v1.1h-1.1zM382 153h1.1v1.1h-1.1zM394.5 126.5h1.1v1.1h-1.1zM391 136.5h1.1v1.1h-1.1zM381.5 130.5h1.1v1.1h-1.1zM393 118.5h1.1v1.1h-1.1zM393.5 107.5h1.1v1.1h-1.1zM408.5 156.5h1.1v1.1h-1.1zM380.5 138h1.1v1.1h-1.1zM397 136.5h1.1v1.1h-1.1zM396.5 128.5h1.1v1.1h-1.1zM401 141h1.1v1.1h-1.1zM381.5 122h1.1v1.1h-1.1zM393.5 121h1.1v1.1h-1.1zM375 117.5h1.1v1.1h-1.1zM393.5 117h1.1v1.1h-1.1zM403.5 139h1.1v1.1h-1.1zM408 116h1.1v1.1h-1.1zM363.5 159.5h1.1v1.1h-1.1zM385 134h1.1v1.1h-1.1zM394.5 129h1.1v1.1h-1.1zM368.5 132h1.1v1.1h-1.1zM420 155.5h1.1v1.1h-1.1zM394 105h1.1v1.1h-1.1zM369.5 135.5h1.1v1.1h-1.1zM427.5 158.5h1.1v1.1h-1.1zM395.5 149.5h1.1v1.1h-1.1zM366.5 139.5h1.1v1.1h-1.1zM379 130h1.1v1.1h-1.1zM381 165.5h1.1v1.1h-1.1zM389 129.5h1.1v1.1h-1.1zM410 160.5h1.1v1.1h-1.1zM382 123h1.1v1.1h-1.1zM384 115h1.1v1.1h-1.1zM390.5 135.5h1.1v1.1h-1.1zM397 130h1.1v1.1h-1.1zM393.5 103.5h1.1v1.1h-1.1zM374 135h1.1v1.1h-1.1zM400.5 167.5h1.1v1.1h-1.1zM379.5 133.5h1.1v1.1h-1.1zM380.5 141h1.1v1.1h-1.1zM420 135h1.1v1.1h-1.1zM369 135h1.1v1.1h-1.1zM389.5 138.5h1.1v1.1h-1.1zM377.5 137.5h1.1v1.1h-1.1zM398.5 135.5h1.1v1.1h-1.1zM395 140.5h1.1v1.1h-1.1zM379 141h1.1v1.1h-1.1zM384.5 137.5h1.1v1.1h-1.1zM384 116h1.1v1.1h-1.1zM396.5 124h1.1v1.1h-1.1zM369.5 120h1.1v1.1h-1.1zM394.5 132h1.1v1.1h-1.1zM393.5 155.5h1.1v1.1h-1.1zM390 139h1.1v1.1h-1.1zM385 130h1.1v1.1h-1.1zM398.5 161.5h1.1v1.1h-1.1zM397.5 146h1.1v1.1h-1.1zM393 126.5h1.1v1.1h-1.1zM391 142h1.1v1.1h-1.1zM398.5 149h1.1v1.1h-1.1zM398.5 148.5h1.1v1.1h-1.1zM377 128h1.1v1.1h-1.1zM375.5 139h1.1v1.1h-1.1zM385.5 127h1.1v1.1h-1.1zM381.5 118.5h1.1v1.1h-1.1zM383 142.5h1.1v1.1h-1.1zM388 110h1.1v1.1h-1.1zM407 134h1.1v1.1h-1.1zM391 149h1.1v1.1h-1.1zM392.5 144h1.1v1.1h-1.1zM400.5 135.5h1.1v1.1h-1.1zM382.5 141h1.1v1.1h-1.1zM386.5 138.5h1.1v1.1h-1.1zM368 153.5h1.1v1.1h-1.1zM379.5 143.5h1.1v1.1h-1.1zM397.5 146h1.1v1.1h-1.1zM385.5 128h1.1v1.1h-1.1zM386 135h1.1v1.1h-1.1zM409 130h1.1v1.1h-1.1zM411 150.5h1.1v1.1h-1.1zM392 148h1.1v1.1h-1.1zM380 138.5h1.1v1.1h-1.1zM375 148.5h1.1v1.1h-1.1zM390 138.5h1.1v1.1h-1.1zM376.5 135h1.1v1.1h-1.1zM389.5 145h1.1v1.1h-1.1zM383.5 141h1.1v1.1h-1.1zM388 167.5h1.1v1.1h-1.1zM385 121.5h1.1v1.1h-1.1zM404 150.5h1.1v1.1h-1.1zM387.5 126h1.1v1.1h-1.1zM409.5 148h1.1v1.1h-1.1zM384.5 125h1.1v1.1h-1.1zM409 116h1.1v1.1h-1.1zM378 158.5h1.1v1.1h-1.1zM393 136h1.1v1.1h-1.1zM385.5 159h1.1v1.1h-1.1zM377 129h1.1v1.1h-1.1zM414.5 127.5h1.1v1.1h-1.1zM391.5 154h1.1v1.1h-1.1zM378 130h1.1v1.1h-1.1zM371 138.5h1.1v1.1h-1.1zM396.5 126.5h1.1v1.1h-1.1zM397.5 135h1.1v1.1h-1.1zM391 109.5h1.1v1.1h-1.1zM381.5 133h1.1v1.1h-1.1zM383.5 136h1.1v1.1h-1.1zM374 150h1.1v1.1h-1.1zM382.5 150.5h1.1v1.1h-1.1zM384.5 136.5h1.1v1.1h-1.1zM397 139h1.1v1.1h-1.1zM398.5 137h1.1v1.1h-1.1zM375.5 165.5h1.1v1.1h-1.1zM364.5 129h1.1v1.1h-1.1zM410.5 148.5h1.1v1.1h-1.1zM390 139.5h1.1v1.1h-1.1zM379.5 121.5h1.1v1.1h-1.1zM391 145.5h1.1v1.1h-1.1zM378.5 153.5h1.1v1.1h-1.1zM382.5 142.5h1.1v1.1h-1.1zM358.5 123.5h1.1v1.1h-1.1zM383 146h1.1v1.1h-1.1zM407 146.5h1.1v1.1h-1.1zM397.5 133h1.1v1.1h-1.1zM384.5 150h1.1v1.1h-1.1zM388.5 117.5h1.1v1.1h-1.1zM396 122.5h1.1v1.1h-1.1zM400 133.5h1.1v1.1h-1.1zM378 138h1.1v1.1h-1.1zM384.5 150h1.1v1.1h-1.1zM390 150.5h1.1v1.1h-1.1zM398 128.5h1.1v1.1h-1.1zM383.5 151.5h1.1v1.1h-1.1zM393.5 158.5h1.1v1.1h-1.1zM397 149h1.1v1.1h-1.1zM388.5 137h1.1v1.1h-1.1zM394 135h1.1v1.1h-1.1zM402.5 127.5h1.1v1.1h-1.1zM373.5 113h1.1v1.1h-1.1zM390.5 128h1.1v1.1h-1.1zM392 119.5h1.1v1.1h-1.1zM414 140.5h1.1v1.1h-1.1zM365 139.5h1.1v1.1h-1.1zM379 143h1.1v1.1h-1.1zM370.5 142.5h1.1v1.1h-1.1zM376 144.5h1.1v1.1h-1.1zM392 131.5h1.1v1.1h-1.1zM376 133.5h1.1v1.1h-1.1zM386.5 143.5h1.1v1.1h-1.1zM388 156.5h1.1v1.1h-1.1zM385.5 115h1.1v1.1h-1.1zM398 123.5h1.1v1.1h-1.1zM392.5 134h1.1v1.1h-1.1zM378.5 124.5h1.1v1.1h-1.1zM383 130.5h1.1v1.1h-1.1zM392 137.5h1.1v1.1h-1.1zM381.5 127h1.1v1.1h-1.1zM394 147.5h1.1v1.1h-1.1zM388 146.5h1.1v1.1h-1.1zM382 147h1.1v1.1h-1.1zM384.5 143.5h1.1v1.1h-1.1zM375 147.5h1.1v1.1h-1.1zM392 99.5h1.1v1.1h-1.1zM381.5 148h1.1v1.1h-1.1zM380 125.5h1.1v1.1h-1.1zM385 165.5h1.1v1.1h-1.1zM414.5 128.5h1.1v1.1h-1.1zM402 142h1.1v1.1h-1.1zM381 118.5h1.1v1.1h-1.1zM376.5 122.5h1.1v1.1h-1.1zM397 140.5h1.1v1.1h-1.1zM376.5 143h1.1v1.1h-1.1zM402.5 157.5h1.1v1.1h-1.1zM380.5 149h1.1v1.1h-1.1zM401.5 154.5h1.1v1.1h-1.1zM413.5 163.5h1.1v1.1h-1.1zM385 118.5h1.1v1.1h-1.1zM397 157h1.1v1.1h-1.1zM398.5 128h1.1v1.1h-1.1zM417.5 142h1.1v1.1h-1.1zM418.5 137h1.1v1.1h-1.1zM379.5 149.5h1.1v1.1h-1.1zM405 149h1.1v1.1h-1.1zM402.5 145.5h1.1v1.1h-1.1zM393.5 132.5h1.1v1.1h-1.1zM396 114.5h1.1v1.1h-1.1zM377 139h1.1v1.1h-1.1zM379.5 138h1.1v1.1h-1.1zM389 139h1.1v1.1h-1.1zM374 145.5h1.1v1.1h-1.1zM394.5 163.5h1.1v1.1h-1.1zM392.5 152.5h1.1v1.1h-1.1zM408.5 144h1.1v1.1h-1.1zM377.5 131.5h1.1v1.1h-1.1zM406.5 122.5h1.1v1.1h-1.1zM395 158h1.1v1.1h-1.1zM394.5 147.5h1.1v1.1h-1.1zM391 139h1.1v1.1h-1.1zM391 118.5h1.1v1.1h-1.1zM382.5 134h1.1v1.1h-1.1zM380 146.5h1.1v1.1h-1.1zM406 144h1.1v1.1h-1.1zM364 133h1.1v1.1h-1.1zM403 141h1.1v1.1h-1.1zM396 135.5h1.1v1.1h-1.1zM394 133.5h1.1v1.1h-1.1zM404 156.5h1.1v1.1h-1.1zM392 148h1.1v1.1h-1.1zM394.5 142.5h1.1v1.1h-1.1zM399.5 132.5h1.1v1.1h-1.1zM390.5 156h1.1v1.1h-1.1zM403.5 121h1.1v1.1h-1.1zM402.5 141.5h1.1v1.1h-1.1zM390.5 124.5h1.1v1.1h-1.1zM396.5 111h1.1v1.1h-1.1zM380.5 132h1.1v1.1h-1.1zM395 111.5h1.1v1.1h-1.1zM393 134h1.1v1.1h-1.1zM374 119.5h1.1v1.1h-1.1zM391.5 137.5h1.1v1.1h-1.1zM397.5 131h1.1v1.1h-1.1zM380 117h1.1v1.1h-1.1zM375.5 131.5h1.1v1.1h-1.1zM390.5 127h1.1v1.1h-1.1zM384 156h1.1v1.1h-1.1zM379.5 155.5h1.1v1.1h-1.1zM391.5 147h1.1v1.1h-1.1zM379.5 148.5h1.1v1.1h-1.1zM392.5 168.5h1.1v1.1h-1.1zM403.5 141h1.1v1.1h-1.1zM395 140h1.1v1.1h-1.1zM393 158h1.1v1.1h-1.1zM379 146h1.1v1.1h-1.1zM406.5 126h1.1v1.1h-1.1zM388 158.5h1.1v1.1h-1.1zM411.5 140.5h1.1v1.1h-1.1zM384.5 156.5h1.1v1.1h-1.1zM391.5 158.5h1.1v1.1h-1.1zM375.5 133h1.1v1.1h-1.1zM395 138.5h1.1v1.1h-1.1zM374.5 145.5h1.1v1.1h-1.1zM391.5 121.5h1.1v1.1h-1.1zM411 125.5h1.1v1.1h-1.1zM399.5 140h1.1v1.1h-1.1zM375 138h1.1v1.1h-1.1zM401.5 126h1.1v1.1h-1.1zM376.5 137h1.1v1.1h-1.1zM387 143h1.1v1.1h-1.1zM384 129h1.1v1.1h-1.1zM385.5 127.5h1.1v1.1h-1.1zM389.5 135.5h1.1v1.1h-1.1zM361.5 123.5h1.1v1.1h-1.1zM402.5 126h1.1v1.1h-1.1zM388.5 132h1.1v1.1h-1.1zM377.5 112h1.1v1.1h-1.1zM393.5 129.5h1.1v1.1h-1.1zM407 140h1.1v1.1h-1.1zM377.5 123.5h1.1v1.1h-1.1zM398 152h1.1v1.1h-1.1zM389 141.5h1.1v1.1h-1.1zM391 154.5h1.1v1.1h-1.1zM383 136.5h1.1v1.1h-1.1zM390.5 145.5h1.1v1.1h-1.1zM397 136.5h1.1v1.1h-1.1zM371 123.5h1.1v1.1h-1.1zM380.5 145h1.1v1.1h-1.1zM383.5 128h1.1v1.1h-1.1zM382.5 144.5h1.1v1.1h-1.1zM369 124.5h1.1v1.1h-1.1zM382.5 137.5h1.1v1.1h-1.1zM375.5 133.5h1.1v1.1h-1.1zM393.5 153.5h1.1v1.1h-1.1zM389 133.5h1.1v1.1h-1.1zM391 152h1.1v1.1h-1.1zM393.5 144.5h1.1v1.1h-1.1zM383.5 157h1.1v1.1h-1.1zM377 132.5h1.1v1.1h-1.1zM397.5 150h1.1v1.1h-1.1zM384 149.5h1.1v1.1h-1.1zM381.5 146.5h1.1v1.1h-1.1zM408.5 141.5h1.1v1.1h-1.1zM371.5 156h1.1v1.1h-1.1zM399.5 120h1.1v1.1h-1.1zM405.5 148h1.1v1.1h-1.1zM385 130.5h1.1v1.1h-1.1zM382 145h1.1v1.1h-1.1zM393.5 149h1.1v1.1h-1.1zM379.5 142.5h1.1v1.1h-1.1zM365.5 134.5h1.1v1.1h-1.1zM402.5 125.5h1.1v1.1h-1.1zM408.5 119h1.1v1.1h-1.1zM373.5 128.5h1.1v1.1h-1.1zM398 143.5h1.1v1.1h-1.1zM391.5 118.5h1.1v1.1h-1.1zM389 171h1.1v1.1h-1.1zM398 137h1.1v1.1h-1.1zM384.5 127.5h1.1v1.1h-1.1zM386 151h1.1v1.1h-1.1zM391 152h1.1v1.1h-1.1zM393.5 143h1.1v1.1h-1.1zM360.5 128h1.1v1.1h-1.1zM404 138.5h1.1v1.1h-1.1zM396.5 152.5h1.1v1.1h-1.1zM403 147.5h1.1v1.1h-1.1zM388 112h1.1v1.1h-1.1zM377.5 148h1.1v1.1h-1.1zM396.5 160h1.1v1.1h-1.1zM396 128.5h1.1v1.1h-1.1zM401.5 113h1.1v1.1h-1.1zM398 127.5h1.1v1.1h-1.1zM379.5 139h1.1v1.1h-1.1zM376.5 135h1.1v1.1h-1.1zM387 135h1.1v1.1h-1.1zM394.5 97.5h1.1v1.1h-1.1zM388.5 128.5h1.1v1.1h-1.1zM383.5 128h1.1v1.1h-1.1zM391.5 136h1.1v1.1h-1.1zM367.5 152h1.1v1.1h-1.1zM388.5 126.5h1.1v1.1h-1.1zM363 151.5h1.1v1.1h-1.1zM410 154.5h1.1v1.1h-1.1zM368 150h1.1v1.1h-1.1zM411.5 130h1.1v1.1h-1.1zM400.5 154h1.1v1.1h-1.1zM402.5 131.5h1.1v1.1h-1.1zM399.5 134h1.1v1.1h-1.1zM385.5 117h1.1v1.1h-1.1zM390.5 124h1.1v1.1h-1.1zM409 125h1.1v1.1h-1.1zM377 154.5h1.1v1.1h-1.1zM387 141.5h1.1v1.1h-1.1zM401.5 140.5h1.1v1.1h-1.1zM382 132h1.1v1.1h-1.1zM410.5 131h1.1v1.1h-1.1zM375.5 124h1.1v1.1h-1.1zM381 132h1.1v1.1h-1.1zM391 154.5h1.1v1.1h-1.1zM380.5 134h1.1v1.1h-1.1zM386.5 163h1.1v1.1h-1.1zM389.5 144h1.1v1.1h-1.1zM387.5 132h1.1v1.1h-1.1zM394 153.5h1.1v1.1h-1.1zM394.5 136.5h1.1v1.1h-1.1zM394 150h1.1v1.1h-1.1zM392.5 130h1.1v1.1h-1.1zM391 155.5h1.1v1.1h-1.1zM394 142.5h1.1v1.1h-1.1zM394.5 140h1.1v1.1h-1.1zM399.5 149.5h1.1v1.1h-1.1zM410 130h1.1v1.1h-1.1zM382.5 110h1.1v1.1h-1.1zM412 126h1.1v1.1h-1.1zM401 149h1.1v1.1h-1.1zM402.5 157h1.1v1.1h-1.1zM384.5 119.5h1.1v1.1h-1.1zM394 143.5h1.1v1.1h-1.1zM394.5 144.5h1.1v1.1h-1.1zM387.5 119.5h1.1v1.1h-1.1zM399 114.5h1.1v1.1h-1.1zM376.5 159.5h1.1v1.1h-1.1zM380 142h1.1v1.1h-1.1zM400.5 132.5h1.1v1.1h-1.1zM395 143.5h1.1v1.1h-1.1zM371 115h1.1v1.1h-1.1zM395.5 141.5h1.1v1.1h-1.1zM392 135h1.1v1.1h-1.1zM400 132h1.1v1.1h-1.1zM389 150.5h1.1v1.1h-1.1zM389.5 136.5h1.1v1.1h-1.1zM377.5 136.5h1.1v1.1h-1.1zM387.5 130h1.1v1.1h-1.1zM384 125.5h1.1v1.1h-1.1zM395.5 134.5h1.1v1.1h-1.1zM364.5 155h1.1v1.1h-1.1zM388.5 110h1.1v1.1h-1.1zM402 121.5h1.1v1.1h-1.1zM355.5 127.5h1.1v1.1h-1.1zM396.5 143.5h1.1v1.1h-1.1zM394 126.5h1.1v1.1h-1.1zM390 143h1.1v1.1h-1.1zM392.5 107.5h1.1v1.1h-1.1zM380 121.5h1.1v1.1h-1.1zM398.5 144.5h1.1v1.1h-1.1zM391.5 104h1.1v1.1h-1.1zM367 138.5h1.1v1.1h-1.1zM396 152.5h1.1v1.1h-1.1zM374.5 144h1.1v1.1h-1.1zM376 145h1.1v1.1h-1.1zM392.5 124h1.1v1.1h-1.1zM383 127.5h1.1v1.1h-1.1zM390 148.5h1.1v1.1h-1.1zM391 139.5h1.1v1.1h-1.1zM386.5 158h1.1v1.1h-1.1zM393 141h1.1v1.1h-1.1zM369.5 137.5h1.1v1.1h-1.1zM408 135.5h1.1v1.1h-1.1zM398.5 154.5h1.1v1.1h-1.1zM380 148.5h1.1v1.1h-1.1zM385.5 129h1.1v1.1h-1.1zM405.5 143.5h1.1v1.1h-1.1zM377.5 124.5h1.1v1.1h-1.1zM368 148h1.1v1.1h-1.1zM413 132.5h1.1v1.1h-1.1zM404 154.5h1.1v1.1h-1.1zM393 155.5h1.1v1.1h-1.1zM408.5 146.5h1.1v1.1h-1.1zM394 115.5h1.1v1.1h-1.1zM397 129h1.1v1.1h-1.1zM395.5 140h1.1v1.1h-1.1zM397.5 140h1.1v1.1h-1.1zM377 141h1.1v1.1h-1.1zM389.5 150h1.1v1.1h-1.1zM393 127.5h1.1v1.1h-1.1zM376 120h1.1v1.1h-1.1zM373.5 118h1.1v1.1h-1.1zM388 150.5h1.1v1.1h-1.1zM408 148h1.1v1.1h-1.1zM387.5 130h1.1v1.1h-1.1zM401.5 135.5h1.1v1.1h-1.1zM404 153h1.1v1.1h-1.1zM405 131.5h1.1v1.1h-1.1zM396.5 145h1.1v1.1h-1.1zM368 146.5h1.1v1.1h-1.1zM363 139.5h1.1v1.1h-1.1zM375.5 147h1.1v1.1h-1.1zM385.5 151h1.1v1.1h-1.1zM387.5 131h1.1v1.1h-1.1zM383 113.5h1.1v1.1h-1.1zM384.5 134h1.1v1.1h-1.1zM396 116h1.1v1.1h-1.1zM374.5 113h1.1v1.1h-1.1zM396 145h1.1v1.1h-1.1zM395.5 122.5h1.1v1.1h-1.1zM368 129.5h1.1v1.1h-1.1zM390.5 137.5h1.1v1.1h-1.1zM388.5 123.5h1.1v1.1h-1.1zM395 143.5h1.1v1.1h-1.1zM394.5 161h1.1v1.1h-1.1zM362.5 124.5h1.1v1.1h-1.1zM412 135h1.1v1.1h-1.1zM390.5 101h1.1v1.1h-1.1zM400.5 123.5h1.1v1.1h-1.1zM399.5 158h1.1v1.1h-1.1zM377 134.5h1.1v1.1h-1.1zM388 129.5h1.1v1.1h-1.1zM386.5 142h1.1v1.1h-1.1zM415 131.5h1.1v1.1h-1.1zM372.5 155h1.1v1.1h-1.1zM407.5 134h1.1v1.1h-1.1zM399.5 127h1.1v1.1h-1.1zM387.5 131.5h1.1v1.1h-1.1zM376.5 101h1.1v1.1h-1.1zM386.5 141.5h1.1v1.1h-1.1zM397 143h1.1v1.1h-1.1zM377.5 111h1.1v1.1h-1.1zM391.5 99.5h1.1v1.1h-1.1zM396.5 127.5h1.1v1.1h-1.1zM397.5 138h1.1v1.1h-1.1zM385 155.5h1.1v1.1h-1.1zM397 123.5h1.1v1.1h-1.1zM398 124.5h1.1v1.1h-1.1zM364.5 134.5h1.1v1.1h-1.1zM374.5 152.5h1.1v1.1h-1.1zM372 123h1.1v1.1h-1.1zM380 130h1.1v1.1h-1.1zM398 125h1.1v1.1h-1.1zM395 147.5h1.1v1.1h-1.1zM393.5 155.5h1.1v1.1h-1.1zM382.5 163h1.1v1.1h-1.1zM401 157.5h1.1v1.1h-1.1zM369.5 147.5h1.1v1.1h-1.1zM372 128h1.1v1.1h-1.1zM397 142.5h1.1v1.1h-1.1zM385.5 152.5h1.1v1.1h-1.1zM401.5 146.5h1.1v1.1h-1.1zM399 124.5h1.1v1.1h-1.1zM400 132.5h1.1v1.1h-1.1zM379 130.5h1.1v1.1h-1.1zM382 149h1.1v1.1h-1.1zM368.5 139.5h1.1v1.1h-1.1zM389 130.5h1.1v1.1h-1.1zM388.5 145.5h1.1v1.1h-1.1zM381.5 141.5h1.1v1.1h-1.1zM385.5 127.5h1.1v1.1h-1.1zM391 150.5h1.1v1.1h-1.1zM399.5 137.5h1.1v1.1h-1.1zM381.5 134.5h1.1v1.1h-1.1zM381 123h1.1v1.1h-1.1zM387.5 138h1.1v1.1h-1.1zM395.5 143h1.1v1.1h-1.1zM411 106.5h1.1v1.1h-1.1zM400 126.5h1.1v1.1h-1.1zM359.5 131.5h1.1v1.1h-1.1zM368 142.5h1.1v1.1h-1.1zM379 118.5h1.1v1.1h-1.1zM357.5 162h1.1v1.1h-1.1zM397 132h1.1v1.1h-1.1zM377.5 123.5h1.1v1.1h-1.1zM372.5 133.5h1.1v1.1h-1.1zM386 147h1.1v1.1h-1.1zM392 135h1.1v1.1h-1.1zM384 125.5h1.1v1.1h-1.1zM388 138.5h1.1v1.1h-1.1zM399.5 139.5h1.1v1.1h-1.1zM375.5 137h1.1v1.1h-1.1zM388 122.5h1.1v1.1h-1.1zM365.5 140h1.1v1.1h-1.1zM400.5 133h1.1v1.1h-1.1zM379 138.5h1.1v1.1h-1.1zM376 107.5h1.1v1.1h-1.1zM398 135.5h1.1v1.1h-1.1zM382.5 140h1.1v1.1h-1.1zM399 129.5h1.1v1.1h-1.1zM411.5 133h1.1v1.1h-1.1zM415 122h1.1v1.1h-1.1zM385.5 146h1.1v1.1h-1.1zM392 135.5h1.1v1.1h-1.1zM381 119.5h1.1v1.1h-1.1zM409 130.5h1.1v1.1h-1.1zM395 139h1.1v1.1h-1.1zM422 138h1.1v1.1h-1.1zM382.5 168.5h1.1v1.1h-1.1zM387.5 134h1.1v1.1h-1.1zM353.5 136.5h1.1v1.1h-1.1zM379.5 124h1.1v1.1h-1.1zM380.5 143h1.1v1.1h-1.1zM394 124h1.1v1.1h-1.1zM400 141.5h1.1v1.1h-1.1zM378.5 126.5h1.1v1.1h-1.1zM386.5 124h1.1v1.1h-1.1zM395 124.5h1.1v1.1h-1.1zM387 162h1.1v1.1h-1.1zM396 120h1.1v1.1h-1.1zM407 149h1.1v1.1h-1.1zM380.5 136h1.1v1.1h-1.1zM391.5 119h1.1v1.1h-1.1zM402 131.5h1.1v1.1h-1.1zM389 125.5h1.1v1.1h-1.1zM407 140.5h1.1v1.1h-1.1zM384.5 151h1.1v1.1h-1.1zM401.5 162.5h1.1v1.1h-1.1zM391.5 128.5h1.1v1.1h-1.1zM395.5 128.5h1.1v1.1h-1.1zM380.5 127h1.1v1.1h-1.1zM401.5 136h1.1v1.1h-1.1zM374.5 125.5h1.1v1.1h-1.1zM401 159.5h1.1v1.1h-1.1zM388.5 135h1.1v1.1h-1.1zM391.5 133h1.1v1.1h-1.1zM404.5 96h1.1v1.1h-1.1zM372 138.5h1.1v1.1h-1.1zM398 122.5h1.1v1.1h-1.1zM393 168h1.1v1.1h-1.1zM382.5 144.5h1.1v1.1h-1.1zM398.5 131.5h1.1v1.1h-1.1zM388.5 143.5h1.1v1.1h-1.1zM411.5 162h1.1v1.1h-1.1zM383 141.5h1.1v1.1h-1.1zM408 147h1.1v1.1h-1.1zM406 111.5h1.1v1.1h-1.1zM393.5 126h1.1v1.1h-1.1zM381 119.5h1.1v1.1h-1.1zM388.5 142h1.1v1.1h-1.1zM373.5 116.5h1.1v1.1h-1.1zM380.5 113h1.1v1.1h-1.1zM381.5 130h1.1v1.1h-1.1zM393 133.5h1.1v1.1h-1.1zM372 143.5h1.1v1.1h-1.1zM394 157h1.1v1.1h-1.1zM383.5 153h1.1v1.1h-1.1zM400.5 137.5h1.1v1.1h-1.1zM396 138.5h1.1v1.1h-1.1zM381.5 111h1.1v1.1h-1.1zM392 151.5h1.1v1.1h-1.1zM391.5 124.5h1.1v1.1h-1.1zM382.5 130h1.1v1.1h-1.1zM385.5 135h1.1v1.1h-1.1zM387 122h1.1v1.1h-1.1zM377 132h1.1v1.1h-1.1zM374 148h1.1v1.1h-1.1zM391 154h1.1v1.1h-1.1zM367.5 161.5h1.1v1.1h-1.1zM394.5 147.5h1.1v1.1h-1.1zM398.5 129h1.1v1.1h-1.1zM383.5 142h1.1v1.1h-1.1zM394 122h1.1v1.1h-1.1zM379.5 103h1.1v1.1h-1.1zM396.5 142h1.1v1.1h-1.1zM426 129h1.1v1.1h-1.1zM394.5 129h1.1v1.1h-1.1zM388 121h1.1v1.1h-1.1zM388.5 160.5h1.1v1.1h-1.1zM372 136.5h1.1v1.1h-1.1zM380 152.5h1.1v1.1h-1.1zM385 137h1.1v1.1h-1.1zM381.5 139h1.1v1.1h-1.1zM389.5 138h1.1v1.1h-1.1zM403.5 155.5h1.1v1.1h-1.1zM372 110h1.1v1.1h-1.1zM380.5 131.5h1.1v1.1h-1.1zM390 126.5h1.1v1.1h-1.1zM374.5 141h1.1v1.1h-1.1zM377.5 127.5h1.1v1.1h-1.1zM394 135.5h1.1v1.1h-1.1zM395 127h1.1v1.1h-1.1zM392 123h1.1v1.1h-1.1zM376 140.5h1.1v1.1h-1.1zM394.5 148.5h1.1v1.1h-1.1zM398 139h1.1v1.1h-1.1zM382.5 116h1.1v1.1h-1.1zM388.5 124h1.1v1.1h-1.1zM384.5 145h1.1v1.1h-1.1zM385 129.5h1.1v1.1h-1.1zM382 145.5h1.1v1.1h-1.1zM393 135.5h1.1v1.1h-1.1zM378.5 154.5h1.1v1.1h-1.1zM408.5 121.5h1.1v1.1h-1.1zM396 137.5h1.1v1.1h-1.1zM385 146.5h1.1v1.1h-1.1zM414.5 141.5h1.1v1.1h-1.1zM390 117.5h1.1v1.1h-1.1zM361.5 123.5h1.1v1.1h-1.1zM401.5 129h1.1v1.1h-1.1zM396.5 119.5h1.1v1.1h-1.1zM388 128h1.1v1.1h-1.1zM389 127.5h1.1v1.1h-1.1zM381.5 129.5h1.1v1.1h-1.1zM374.5 129.5h1.1v1.1h-1.1zM375.5 124h1.1v1.1h-1.1zM418 145h1.1v1.1h-1.1zM381 148.5h1.1v1.1h-1.1zM390 133h1.1v1.1h-1.1zM410 152.5h1.1v1.1h-1.1zM380 151.5h1.1v1.1h-1.1zM387.5 130.5h1.1v1.1h-1.1zM383 159h1.1v1.1h-1.1zM371 155.5h1.1v1.1h-1.1zM394.5 147.5h1.1v1.1h-1.1zM395.5 131h1.1v1.1h-1.1zM385.5 140.5h1.1v1.1h-1.1zM386 129h1.1v1.1h-1.1zM396 146h1.1v1.1h-1.1zM396.5 132h1.1v1.1h-1.1zM411.5 120.5h1.1v1.1h-1.1zM397 120.5h1.1v1.1h-1.1zM398 128h1.1v1.1h-1.1zM381 123h1.1v1.1h-1.1zM372.5 142h1.1v1.1h-1.1zM404 146h1.1v1.1h-1.1zM379 137.5h1.1v1.1h-1.1zM397 130.5h1.1v1.1h-1.1zM390 132h1.1v1.1h-1.1zM379 128.5h1.1v1.1h-1.1zM391.5 124h1.1v1.1h-1.1zM409 142h1.1v1.1h-1.1zM405 127.5h1.1v1.1h-1.1zM383.5 142.5h1.1v1.1h-1.1zM385.5 121.5h1.1v1.1h-1.1zM364.5 119h1.1v1.1h-1.1zM374.5 139.5h1.1v1.1h-1.1zM382 172h1.1v1.1h-1.1zM389 136h1.1v1.1h-1.1zM394 124.5h1.1v1.1h-1.1zM383.5 155h1.1v1.1h-1.1zM403.5 136h1.1v1.1h-1.1zM378.5 131h1.1v1.1h-1.1zM397.5 119.5h1.1v1.1h-1.1zM377 145h1.1v1.1h-1.1zM385 129h1.1v1.1h-1.1zM391.5 123.5h1.1v1.1h-1.1zM398.5 131h1.1v1.1h-1.1zM381 150h1.1v1.1h-1.1zM384.5 146h1.1v1.1h-1.1zM386.5 120h1.1v1.1h-1.1zM392.5 108.5h1.1v1.1h-1.1zM406.5 156h1.1v1.1h-1.1zM397.5 136h1.1v1.1h-1.1zM385.5 162.5h1.1v1.1h-1.1zM385.5 140.5h1.1v1.1h-1.1zM404 142h1.1v1.1h-1.1zM405.5 135h1.1v1.1h-1.1zM401.5 135.5h1.1v1.1h-1.1zM389.5 138.5h1.1v1.1h-1.1zM379 136h1.1v1.1h-1.1zM380.5 156.5h1.1v1.1h-1.1zM391 132.5h1.1v1.1h-1.1zM377 130.5h1.1v1.1h-1.1zM387.5 151h1.1v1.1h-1.1zM414.5 123h1.1v1.1h-1.1zM393.5 131.5h1.1v1.1h-1.1zM399.5 136h1.1v1.1h-1.1zM378 114.5h1.1v1.1h-1.1zM406 140.5h1.1v1.1h-1.1zM385 133.5h1.1v1.1h-1.1zM390.5 146h1.1v1.1h-1.1zM392 138.5h1.1v1.1h-1.1zM390.5 118h1.1v1.1h-1.1zM383.5 115.5h1.1v1.1h-1.1zM397 124h1.1v1.1h-1.1zM414 131h1.1v1.1h-1.1zM385.5 132h1.1v1.1h-1.1zM399.5 131h1.1v1.1h-1.1zM377 142h1.1v1.1h-1.1zM393.5 118h1.1v1.1h-1.1zM382.5 126.5h1.1v1.1h-1.1zM406.5 154.5h1.1v1.1h-1.1zM385 134h1.1v1.1h-1.1zM397.5 134.5h1.1v1.1h-1.1zM391 145h1.1v1.1h-1.1zM376 118h1.1v1.1h-1.1zM390.5 140h1.1v1.1h-1.1zM390 134h1.1v1.1h-1.1zM399.5 125.5h1.1v1.1h-1.1zM388 138h1.1v1.1h-1.1zM369 155h1.1v1.1h-1.1zM378 139.5h1.1v1.1h-1.1zM384 133.5h1.1v1.1h-1.1zM398 157h1.1v1.1h-1.1zM385.5 143.5h1.1v1.1h-1.1zM400.5 162.5h1.1v1.1h-1.1zM386.5 153.5h1.1v1.1h-1.1zM394.5 138h1.1v1.1h-1.1zM401.5 128h1.1v1.1h-1.1zM391.5 132h1.1v1.1h-1.1zM370 151h1.1v1.1h-1.1zM403 119h1.1v1.1h-1.1zM387.5 168.5h1.1v1.1h-1.1zM399 102.5h1.1v1.1h-1.1zM357.5 142h1.1v1.1h-1.1zM389.5 150.5h1.1v1.1h-1.1zM389 124h1.1v1.1h-1.1zM384 106h1.1v1.1h-1.1zM388 128h1.1v1.1h-1.1zM377.5 129h1.1v1.1h-1.1zM378.5 146.5h1.1v1.1h-1.1zM395 134h1.1v1.1h-1.1zM387 138h1.1v1.1h-1.1zM398 132.5h1.1v1.1h-1.1zM394 154.5h1.1v1.1h-1.1zM381 128.5h1.1v1.1h-1.1zM389.5 132.5h1.1v1.1h-1.1zM385.5 138.5h1.1v1.1h-1.1zM395.5 173h1.1v1.1h-1.1zM409 92.5h1.1v1.1h-1.1zM390 105h1.1v1.1h-1.1zM383.5 126h1.1v1.1h-1.1zM414.5 122h1.1v1.1h-1.1zM386 133.5h1.1v1.1h-1.1zM381 145h1.1v1.1h-1.1zM385 143.5h1.1v1.1h-1.1zM364 131.5h1.1v1.1h-1.1zM407 125.5h1.1v1.1h-1.1zM402.5 132.5h1.1v1.1h-1.1zM402 125h1.1v1.1h-1.1zM396 162h1.1v1.1h-1.1zM387 152h1.1v1.1h-1.1zM383 134h1.1v1.1h-1.1zM380.5 145h1.1v1.1h-1.1zM398 129h1.1v1.1h-1.1zM400 135.5h1.1v1.1h-1.1zM398.5 138h1.1v1.1h-1.1zM377 120h1.1v1.1h-1.1zM412 136.5h1.1v1.1h-1.1zM380.5 127.5h1.1v1.1h-1.1zM389.5 142.5h1.1v1.1h-1.1zM389 122h1.1v1.1h-1.1zM383.5 128h1.1v1.1h-1.1zM362.5 143.5h1.1v1.1h-1.1zM375 156.5h1.1v1.1h-1.1zM382.5 143.5h1.1v1.1h-1.1zM401 141h1.1v1.1h-1.1zM384 117h1.1v1.1h-1.1zM393 128.5h1.1v1.1h-1.1zM375 138.5h1.1v1.1h-1.1zM384.5 135.5h1.1v1.1h-1.1zM403.5 137.5h1.1v1.1h-1.1zM410.5 152h1.1v1.1h-1.1zM393.5 155h1.1v1.1h-1.1zM396 129.5h1.1v1.1h-1.1zM391 125.5h1.1v1.1h-1.1zM387.5 114.5h1.1v1.1h-1.1zM390 138h1.1v1.1h-1.1zM401 145h1.1v1.1h-1.1zM381 154h1.1v1.1h-1.1zM376 127h1.1v1.1h-1.1zM396 130.5h1.1v1.1h-1.1zM382 125.5h1.1v1.1h-1.1zM393.5 167h1.1v1.1h-1.1zM376.5 159.5h1.1v1.1h-1.1zM392 131h1.1v1.1h-1.1zM384 140.5h1.1v1.1h-1.1zM382.5 126.5h1.1v1.1h-1.1zM397 131.5h1.1v1.1h-1.1zM381.5 167h1.1v1.1h-1.1zM360.5 133.5h1.1v1.1h-1.1zM374 134.5h1.1v1.1h-1.1zM386 137h1.1v1.1h-1.1zM408 118.5h1.1v1.1h-1.1zM384.5 115h1.1v1.1h-1.1zM375 109h1.1v1.1h-1.1zM382 151h1.1v1.1h-1.1zM401 126.5h1.1v1.1h-1.1zM393 128.5h1.1v1.1h-1.1zM394.5 149.5h1.1v1.1h-1.1zM395.5 122h1.1v1.1h-1.1zM406.5 130.5h1.1v1.1h-1.1zM374 126h1.1v1.1h-1.1zM366.5 144h1.1v1.1h-1.1zM359 122h1.1v1.1h-1.1zM342 143.5h1.1v1.1h-1.1zM373.5 133.5h1.1v1.1h-1.1zM377 147h1.1v1.1h-1.1zM365.5 148.5h1.1v1.1h-1.1zM358.5 129h1.1v1.1h-1.1zM360.5 143.5h1.1v1.1h-1.1zM348 150h1.1v1.1h-1.1zM357.5 119.5h1.1v1.1h-1.1zM374 135.5h1.1v1.1h-1.1zM365 121.5h1.1v1.1h-1.1zM346 143.5h1.1v1.1h-1.1zM345.5 113.5h1.1v1.1h-1.1zM358 147h1.1v1.1h-1.1zM376 131h1.1v1.1h-1.1zM366.5 144h1.1v1.1h-1.1zM361.5 162.5h1.1v1.1h-1.1zM371.5 135h1.1v1.1h-1.1zM353 122.5h1.1v1.1h-1.1zM366 120.5h1.1v1.1h-1.1zM358 145h1.1v1.1h-1.1zM348.5 118h1.1v1.1h-1.1zM368 116h1.1v1.1h-1.1zM346.5 140h1.1v1.1h-1.1zM361 152.5h1.1v1.1h-1.1zM373.5 139.5h1.1v1.1h-1.1zM347 160h1.1v1.1h-1.1zM376.5 151.5h1.1v1.1h-1.1zM377.5 145.5h1.1v1.1h-1.1zM371 141.5h1.1v1.1h-1.1zM359 140.5h1.1v1.1h-1.1zM359 141.5h1.1v1.1h-1.1zM359 149h1.1v1.1h-1.1zM362 137.5h1.1v1.1h-1.1zM351.5 116h1.1v1.1h-1.1zM365.5 112.5h1.1v1.1h-1.1zM379 121.5h1.1v1.1h-1.1zM346 135.5h1.1v1.1h-1.1zM381 115h1.1v1.1h-1.1zM349.5 132h1.1v1.1h-1.1zM352 138.5h1.1v1.1h-1.1zM357 150h1.1v1.1h-1.1zM361 123h1.1v1.1h-1.1zM364 122.5h1.1v1.1h-1.1zM381 118h1.1v1.1h-1.1zM368.5 119h1.1v1.1h-1.1zM376 129.5h1.1v1.1h-1.1zM356.5 154h1.1v1.1h-1.1zM367.5 92h1.1v1.1h-1.1zM342 134.5h1.1v1.1h-1.1zM348.5 137.5h1.1v1.1h-1.1zM389.5 152h1.1v1.1h-1.1zM360.5 151h1.1v1.1h-1.1zM369 138.5h1.1v1.1h-1.1zM371.5 112h1.1v1.1h-1.1zM370 123h1.1v1.1h-1.1zM346 129h1.1v1.1h-1.1zM364 123.5h1.1v1.1h-1.1zM388 143.5h1.1v1.1h-1.1zM374 127h1.1v1.1h-1.1zM357 119h1.1v1.1h-1.1zM362 133h1.1v1.1h-1.1zM356 144.5h1.1v1.1h-1.1zM364 126.5h1.1v1.1h-1.1zM363 120h1.1v1.1h-1.1zM361.5 123h1.1v1.1h-1.1zM353 134.5h1.1v1.1h-1.1zM341.5 138h1.1v1.1h-1.1zM367 125h1.1v1.1h-1.1zM364 124h1.1v1.1h-1.1zM368 144h1.1v1.1h-1.1zM375 163h1.1v1.1h-1.1zM359 168.5h1.1v1.1h-1.1zM375.5 165.5h1.1v1.1h-1.1zM360 126h1.1v1.1h-1.1zM373.5 137h1.1v1.1h-1.1zM370 133.5h1.1v1.1h-1.1zM353 128.5h1.1v1.1h-1.1zM373.5 127.5h1.1v1.1h-1.1zM368 135h1.1v1.1h-1.1zM363.5 141.5h1.1v1.1h-1.1zM361.5 152.5h1.1v1.1h-1.1zM363 152.5h1.1v1.1h-1.1zM354 131.5h1.1v1.1h-1.1zM348 131.5h1.1v1.1h-1.1zM362 147.5h1.1v1.1h-1.1zM372 144.5h1.1v1.1h-1.1zM360.5 129h1.1v1.1h-1.1zM371 136h1.1v1.1h-1.1zM345 112h1.1v1.1h-1.1zM381.5 139.5h1.1v1.1h-1.1zM365.5 120h1.1v1.1h-1.1zM359.5 139.5h1.1v1.1h-1.1zM363 98h1.1v1.1h-1.1zM366.5 135.5h1.1v1.1h-1.1zM363 119h1.1v1.1h-1.1zM366.5 128h1.1v1.1h-1.1zM348 136.5h1.1v1.1h-1.1zM369 126h1.1v1.1h-1.1zM360.5 156.5h1.1v1.1h-1.1zM349.5 148h1.1v1.1h-1.1zM372 130h1.1v1.1h-1.1zM362.5 157.5h1.1v1.1h-1.1zM380.5 134.5h1.1v1.1h-1.1zM355.5 138h1.1v1.1h-1.1zM378 158.5h1.1v1.1h-1.1zM369 160h1.1v1.1h-1.1zM354 136h1.1v1.1h-1.1zM373 145.5h1.1v1.1h-1.1zM369 134h1.1v1.1h-1.1zM373.5 148.5h1.1v1.1h-1.1zM356 132.5h1.1v1.1h-1.1zM335 150.5h1.1v1.1h-1.1zM357.5 114h1.1v1.1h-1.1zM364 140.5h1.1v1.1h-1.1zM373 151h1.1v1.1h-1.1zM376 138h1.1v1.1h-1.1zM377 113.5h1.1v1.1h-1.1zM369.5 138h1.1v1.1h-1.1zM364.5 121h1.1v1.1h-1.1zM357.5 129h1.1v1.1h-1.1zM368.5 136h1.1v1.1h-1.1zM357.5 158h1.1v1.1h-1.1zM365.5 133h1.1v1.1h-1.1zM358.5 119.5h1.1v1.1h-1.1zM371 158h1.1v1.1h-1.1zM358.5 131h1.1v1.1h-1.1zM355.5 126h1.1v1.1h-1.1zM356.5 131h1.1v1.1h-1.1zM369 130.5h1.1v1.1h-1.1zM357 151h1.1v1.1h-1.1zM377 106h1.1v1.1h-1.1zM351 122.5h1.1v1.1h-1.1zM366 143.5h1.1v1.1h-1.1zM359 135.5h1.1v1.1h-1.1zM349 132h1.1v1.1h-1.1zM361.5 108h1.1v1.1h-1.1zM367.5 145h1.1v1.1h-1.1zM369.5 126h1.1v1.1h-1.1zM359 151.5h1.1v1.1h-1.1zM350 103h1.1v1.1h-1.1zM354 137.5h1.1v1.1h-1.1zM356 140.5h1.1v1.1h-1.1zM383.5 154.5h1.1v1.1h-1.1zM348.5 134.5h1.1v1.1h-1.1zM361 124.5h1.1v1.1h-1.1zM387.5 136.5h1.1v1.1h-1.1zM349.5 128.5h1.1v1.1h-1.1zM381 135h1.1v1.1h-1.1zM378.5 107h1.1v1.1h-1.1zM372 133h1.1v1.1h-1.1zM368.5 135h1.1v1.1h-1.1zM342.5 136h1.1v1.1h-1.1zM361 133.5h1.1v1.1h-1.1zM359.5 157.5h1.1v1.1h-1.1zM376.5 159.5h1.1v1.1h-1.1zM375.5 148h1.1v1.1h-1.1zM349 135.5h1.1v1.1h-1.1zM334.5 153h1.1v1.1h-1.1zM353 136.5h1.1v1.1h-1.1zM384.5 130h1.1v1.1h-1.1zM363.5 127.5h1.1v1.1h-1.1zM362.5 133.5h1.1v1.1h-1.1zM370.5 154h1.1v1.1h-1.1zM359.5 152h1.1v1.1h-1.1zM366 151h1.1v1.1h-1.1zM353 140h1.1v1.1h-1.1zM353.5 127.5h1.1v1.1h-1.1zM368.5 139h1.1v1.1h-1.1zM365 134.5h1.1v1.1h-1.1zM370.5 127h1.1v1.1h-1.1zM363.5 149h1.1v1.1h-1.1zM373.5 114.5h1.1v1.1h-1.1zM367 117h1.1v1.1h-1.1zM366.5 119.5h1.1v1.1h-1.1zM375 128h1.1v1.1h-1.1zM363.5 133.5h1.1v1.1h-1.1zM349.5 145h1.1v1.1h-1.1zM353 147h1.1v1.1h-1.1zM359.5 129.5h1.1v1.1h-1.1zM374.5 128h1.1v1.1h-1.1zM356 136.5h1.1v1.1h-1.1zM359 149h1.1v1.1h-1.1zM377 141.5h1.1v1.1h-1.1zM379.5 144.5h1.1v1.1h-1.1zM346.5 148h1.1v1.1h-1.1zM349.5 141h1.1v1.1h-1.1zM360.5 136.5h1.1v1.1h-1.1zM363.5 109.5h1.1v1.1h-1.1zM356 129.5h1.1v1.1h-1.1zM345.5 119.5h1.1v1.1h-1.1zM387 126h1.1v1.1h-1.1zM366.5 132h1.1v1.1h-1.1zM379 145h1.1v1.1h-1.1zM372 149.5h1.1v1.1h-1.1zM369.5 125.5h1.1v1.1h-1.1zM343 143.5h1.1v1.1h-1.1zM367 144.5h1.1v1.1h-1.1zM365 112h1.1v1.1h-1.1zM364.5 141h1.1v1.1h-1.1zM354.5 136.5h1.1v1.1h-1.1zM349 113.5h1.1v1.1h-1.1zM363.5 139h1.1v1.1h-1.1zM370.5 146.5h1.1v1.1h-1.1zM374.5 147.5h1.1v1.1h-1.1zM365 131.5h1.1v1.1h-1.1zM343 147.5h1.1v1.1h-1.1zM358.5 151.5h1.1v1.1h-1.1zM357 146.5h1.1v1.1h-1.1zM354.5 119.5h1.1v1.1h-1.1zM349 149.5h1.1v1.1h-1.1zM369.5 131h1.1v1.1h-1.1zM354.5 131h1.1v1.1h-1.1zM363.5 154.5h1.1v1.1h-1.1zM369 157h1.1v1.1h-1.1zM353.5 158h1.1v1.1h-1.1zM359 100.5h1.1v1.1h-1.1zM355 156h1.1v1.1h-1.1zM375.5 110h1.1v1.1h-1.1zM354 145.5h1.1v1.1h-1.1zM345 121.5h1.1v1.1h-1.1zM373 141.5h1.1v1.1h-1.1zM335 151.5h1.1v1.1h-1.1zM378.5 150h1.1v1.1h-1.1zM368 133.5h1.1v1.1h-1.1zM367.5 102.5h1.1v1.1h-1.1zM367.5 129h1.1v1.1h-1.1zM364 130h1.1v1.1h-1.1zM368 137.5h1.1v1.1h-1.1zM334.5 149.5h1.1v1.1h-1.1zM358.5 126.5h1.1v1.1h-1.1zM349 147h1.1v1.1h-1.1zM340.5 126h1.1v1.1h-1.1zM348 129h1.1v1.1h-1.1zM357.5 142h1.1v1.1h-1.1zM364 147.5h1.1v1.1h-1.1zM352.5 149.5h1.1v1.1h-1.1zM350.5 130h1.1v1.1h-1.1zM378 146.5h1.1v1.1h-1.1zM368.5 123.5h1.1v1.1h-1.1zM351.5 166h1.1v1.1h-1.1zM351.5 146.5h1.1v1.1h-1.1zM362.5 139h1.1v1.1h-1.1zM370.5 126.5h1.1v1.1h-1.1zM355 130h1.1v1.1h-1.1zM359.5 140h1.1v1.1h-1.1zM371.5 128.5h1.1v1.1h-1.1zM343.5 139h1.1v1.1h-1.1zM362.5 125.5h1.1v1.1h-1.1zM358 128.5h1.1v1.1h-1.1zM349 151.5h1.1v1.1h-1.1zM363 125.5h1.1v1.1h-1.1zM369.5 132.5h1.1v1.1h-1.1zM357 125.5h1.1v1.1h-1.1zM354.5 145h1.1v1.1h-1.1zM375.5 125h1.1v1.1h-1.1zM362.5 133.5h1.1v1.1h-1.1zM351 138.5h1.1v1.1h-1.1zM364 133.5h1.1v1.1h-1.1zM369 145h1.1v1.1h-1.1zM359 141h1.1v1.1h-1.1zM340.5 140h1.1v1.1h-1.1zM354.5 130.5h1.1v1.1h-1.1zM348.5 134.5h1.1v1.1h-1.1zM378.5 126.5h1.1v1.1h-1.1zM352.5 128h1.1v1.1h-1.1zM381 124.5h1.1v1.1h-1.1zM361.5 157h1.1v1.1h-1.1zM362 149h1.1v1.1h-1.1zM364 123h1.1v1.1h-1.1zM379 136h1.1v1.1h-1.1zM349 149h1.1v1.1h-1.1zM356.5 135.5h1.1v1.1h-1.1zM357.5 159.5h1.1v1.1h-1.1zM365 122h1.1v1.1h-1.1zM354.5 139h1.1v1.1h-1.1zM362.5 109.5h1.1v1.1h-1.1zM371 153.5h1.1v1.1h-1.1zM356.5 128.5h1.1v1.1h-1.1zM375.5 140h1.1v1.1h-1.1zM361 150.5h1.1v1.1h-1.1zM359.5 136h1.1v1.1h-1.1zM368.5 131.5h1.1v1.1h-1.1zM357.5 128.5h1.1v1.1h-1.1zM366.5 156h1.1v1.1h-1.1zM354.5 158.5h1.1v1.1h-1.1zM348 131h1.1v1.1h-1.1zM365 155.5h1.1v1.1h-1.1zM369.5 129.5h1.1v1.1h-1.1zM360.5 107.5h1.1v1.1h-1.1zM371 128.5h1.1v1.1h-1.1zM356.5 126.5h1.1v1.1h-1.1zM385 140.5h1.1v1.1h-1.1zM358.5 142h1.1v1.1h-1.1zM367 126.5h1.1v1.1h-1.1zM360.5 126h1.1v1.1h-1.1zM359.5 134h1.1v1.1h-1.1zM351.5 104h1.1v1.1h-1.1zM376.5 143.5h1.1v1.1h-1.1zM359.5 148.5h1.1v1.1h-1.1zM354.5 136.5h1.1v1.1h-1.1zM374 117h1.1v1.1h-1.1zM373 133.5h1.1v1.1h-1.1zM354 124.5h1.1v1.1h-1.1zM369 127h1.1v1.1h-1.1zM374.5 157h1.1v1.1h-1.1zM364 132h1.1v1.1h-1.1zM348 126h1.1v1.1h-1.1zM361 143.5h1.1v1.1h-1.1zM354 116.5h1.1v1.1h-1.1zM348.5 157.5h1.1v1.1h-1.1zM364.5 140h1.1v1.1h-1.1zM369 138.5h1.1v1.1h-1.1zM337 139.5h1.1v1.1h-1.1zM357.5 116.5h1.1v1.1h-1.1zM352.5 142.5h1.1v1.1h-1.1zM366 141.5h1.1v1.1h-1.1zM355.5 135.5h1.1v1.1h-1.1zM346.5 124h1.1v1.1h-1.1zM377.5 133.5h1.1v1.1h-1.1zM360 153.5h1.1v1.1h-1.1zM376.5 125h1.1v1.1h-1.1zM364 140.5h1.1v1.1h-1.1zM351.5 146.5h1.1v1.1h-1.1zM346 119h1.1v1.1h-1.1zM345.5 129h1.1v1.1h-1.1zM358.5 139h1.1v1.1h-1.1zM363 151.5h1.1v1.1h-1.1zM376.5 139h1.1v1.1h-1.1zM348.5 127h1.1v1.1h-1.1zM362.5 134.5h1.1v1.1h-1.1zM370 112h1.1v1.1h-1.1zM377 141.5h1.1v1.1h-1.1zM372.5 133.5h1.1v1.1h-1.1zM368.5 131.5h1.1v1.1h-1.1zM369.5 135.5h1.1v1.1h-1.1zM347.5 137h1.1v1.1h-1.1zM363 121.5h1.1v1.1h-1.1zM348 162h1.1v1.1h-1.1zM385.5 120.5h1.1v1.1h-1.1zM373 136h1.1v1.1h-1.1zM360.5 135h1.1v1.1h-1.1zM358.5 113h1.1v1.1h-1.1zM359 131h1.1v1.1h-1.1zM368.5 121.5h1.1v1.1h-1.1zM358.5 116h1.1v1.1h-1.1zM360.5 110.5h1.1v1.1h-1.1zM352.5 133h1.1v1.1h-1.1zM368.5 146.5h1.1v1.1h-1.1zM388.5 150h1.1v1.1h-1.1zM390 172.5h1.1v1.1h-1.1zM376 174.5h1.1v1.1h-1.1zM410 167.5h1.1v1.1h-1.1zM382.5 148h1.1v1.1h-1.1zM399 174.5h1.1v1.1h-1.1zM363.5 147.5h1.1v1.1h-1.1zM390 169.5h1.1v1.1h-1.1zM392.5 157.5h1.1v1.1h-1.1zM390.5 165h1.1v1.1h-1.1zM408.5 163h1.1v1.1h-1.1zM407.5 167.5h1.1v1.1h-1.1zM375.5 152h1.1v1.1h-1.1zM400.5 162h1.1v1.1h-1.1zM365.5 152h1.1v1.1h-1.1zM372 163.5h1.1v1.1h-1.1zM411 160.5h1.1v1.1h-1.1zM415.5 151h1.1v1.1h-1.1zM391.5 158.5h1.1v1.1h-1.1zM376.5 153h1.1v1.1h-1.1zM386.5 163h1.1v1.1h-1.1zM367.5 162h1.1v1.1h-1.1zM363.5 163h1.1v1.1h-1.1zM384 132h1.1v1.1h-1.1zM360.5 157h1.1v1.1h-1.1zM404.5 151h1.1v1.1h-1.1zM412 152h1.1v1.1h-1.1zM392 170.5h1.1v1.1h-1.1zM379.5 168.5h1.1v1.1h-1.1zM413.5 160h1.1v1.1h-1.1zM409.5 177h1.1v1.1h-1.1zM408 175h1.1v1.1h-1.1zM415 163.5h1.1v1.1h-1.1zM414.5 171.5h1.1v1.1h-1.1zM405 147h1.1v1.1h-1.1zM413 145h1.1v1.1h-1.1zM378.5 148h1.1v1.1h-1.1zM370 155h1.1v1.1h-1.1zM412 159h1.1v1.1h-1.1zM402 175h1.1v1.1h-1.1zM412 152h1.1v1.1h-1.1zM400.5 178h1.1v1.1h-1.1zM374.5 176.5h1.1v1.1h-1.1zM369.5 176.5h1.1v1.1h-1.1zM417 160.5h1.1v1.1h-1.1zM414.5 150.5h1.1v1.1h-1.1zM375 176h1.1v1.1h-1.1zM360.5 166h1.1v1.1h-1.1zM366.5 157.5h1.1v1.1h-1.1zM370 171.5h1.1v1.1h-1.1zM411.5 165h1.1v1.1h-1.1zM416 151.5h1.1v1.1h-1.1zM391 166.5h1.1v1.1h-1.1zM401 162.5h1.1v1.1h-1.1zM386 158h1.1v1.1h-1.1zM394 165.5h1.1v1.1h-1.1zM385.5 150.5h1.1v1.1h-1.1zM366 161h1.1v1.1h-1.1zM362 153.5h1.1v1.1h-1.1zM408 169.5h1.1v1.1h-1.1zM411 161.5h1.1v1.1h-1.1zM389 157.5h1.1v1.1h-1.1zM417.5 171h1.1v1.1h-1.1zM392.5 153h1.1v1.1h-1.1zM393 151h1.1v1.1h-1.1zM406 173.5h1.1v1.1h-1.1zM379 149h1.1v1.1h-1.1zM375 177.5h1.1v1.1h-1.1zM370.5 172.5h1.1v1.1h-1.1zM399.5 156h1.1v1.1h-1.1zM400 152.5h1.1v1.1h-1.1zM403 161.5h1.1v1.1h-1.1zM360.5 156.5h1.1v1.1h-1.1zM362 154h1.1v1.1h-1.1zM375 149h1.1v1.1h-1.1zM366 169h1.1v1.1h-1.1zM365.5 162.5h1.1v1.1h-1.1zM386 155h1.1v1.1h-1.1zM407 157h1.1v1.1h-1.1zM389 172.5h1.1v1.1h-1.1zM412 135h1.1v1.1h-1.1zM375.5 153.5h1.1v1.1h-1.1zM414 151h1.1v1.1h-1.1zM393.5 144.5h1.1v1.1h-1.1zM380 172h1.1v1.1h-1.1zM410.5 155h1.1v1.1h-1.1zM371.5 176.5h1.1v1.1h-1.1zM366.5 176h1.1v1.1h-1.1zM377 150.5h1.1v1.1h-1.1zM380.5 175.5h1.1v1.1h-1.1zM379.5 166h1.1v1.1h-1.1zM375.5 160h1.1v1.1h-1.1zM371.5 177.5h1.1v1.1h-1.1zM387 165.5h1.1v1.1h-1.1zM391 165h1.1v1.1h-1.1zM371 145.5h1.1v1.1h-1.1zM418 174h1.1v1.1h-1.1zM381.5 160h1.1v1.1h-1.1zM370 178h1.1v1.1h-1.1zM382.5 160h1.1v1.1h-1.1zM362 175h1.1v1.1h-1.1zM368.5 164.5h1.1v1.1h-1.1zM415.5 171h1.1v1.1h-1.1zM408 137.5h1.1v1.1h-1.1zM382.5 162.5h1.1v1.1h-1.1zM372.5 160h1.1v1.1h-1.1zM384.5 159.5h1.1v1.1h-1.1zM416.5 148.5h1.1v1.1h-1.1zM364.5 139.5h1.1v1.1h-1.1zM391 170h1.1v1.1h-1.1zM362 161.5h1.1v1.1h-1.1zM388 164h1.1v1.1h-1.1zM385.5 174h1.1v1.1h-1.1zM376.5 155h1.1v1.1h-1.1zM389.5 178.5h1.1v1.1h-1.1zM375 170h1.1v1.1h-1.1zM373 165.5h1.1v1.1h-1.1zM370 163.5h1.1v1.1h-1.1zM376 168h1.1v1.1h-1.1zM417 171h1.1v1.1h-1.1zM371.5 150.5h1.1v1.1h-1.1zM379.5 167.5h1.1v1.1h-1.1zM367 149.5h1.1v1.1h-1.1zM413.5 153.5h1.1v1.1h-1.1zM405 166.5h1.1v1.1h-1.1zM394 158.5h1.1v1.1h-1.1zM416 139.5h1.1v1.1h-1.1zM389.5 148.5h1.1v1.1h-1.1zM369 154.5h1.1v1.1h-1.1zM373.5 168.5h1.1v1.1h-1.1zM396.5 155h1.1v1.1h-1.1zM395 174h1.1v1.1h-1.1zM417 163h1.1v1.1h-1.1zM376 149.5h1.1v1.1h-1.1zM385 160h1.1v1.1h-1.1zM365 156h1.1v1.1h-1.1zM414.5 153.5h1.1v1.1h-1.1zM397 160.5h1.1v1.1h-1.1zM380.5 156.5h1.1v1.1h-1.1zM389 164.5h1.1v1.1h-1.1zM398.5 171h1.1v1.1h-1.1zM368 163.5h1.1v1.1h-1.1zM373.5 153h1.1v1.1h-1.1zM404 174h1.1v1.1h-1.1zM417.5 158.5h1.1v1.1h-1.1zM411 166.5h1.1v1.1h-1.1zM372 135h1.1v1.1h-1.1zM387 175h1.1v1.1h-1.1zM368 154h1.1v1.1h-1.1zM361 172h1.1v1.1h-1.1zM375 147.5h1.1v1.1h-1.1zM360.5 159.5h1.1v1.1h-1.1zM362.5 178h1.1v1.1h-1.1zM411.5 176h1.1v1.1h-1.1zM371.5 165.5h1.1v1.1h-1.1zM378 170.5h1.1v1.1h-1.1zM412.5 136.5h1.1v1.1h-1.1zM369.5 153.5h1.1v1.1h-1.1zM375.5 159h1.1v1.1h-1.1zM413.5 137h1.1v1.1h-1.1zM379.5 154.5h1.1v1.1h-1.1zM394.5 164h1.1v1.1h-1.1zM414 172.5h1.1v1.1h-1.1zM366 158.5h1.1v1.1h-1.1zM408.5 176.5h1.1v1.1h-1.1zM400 160h1.1v1.1h-1.1zM370.5 169.5h1.1v1.1h-1.1zM386 169.5h1.1v1.1h-1.1zM363.5 178h1.1v1.1h-1.1zM383.5 136h1.1v1.1h-1.1zM371 166h1.1v1.1h-1.1zM387 154.5h1.1v1.1h-1.1zM372.5 145.5h1.1v1.1h-1.1zM378 146h1.1v1.1h-1.1zM391 156h1.1v1.1h-1.1zM379.5 166h1.1v1.1h-1.1zM415 153.5h1.1v1.1h-1.1zM404.5 142.5h1.1v1.1h-1.1zM385 158h1.1v1.1h-1.1zM393.5 176.5h1.1v1.1h-1.1zM411.5 149h1.1v1.1h-1.1zM404 168h1.1v1.1h-1.1zM366.5 175.5h1.1v1.1h-1.1zM401.5 159.5h1.1v1.1h-1.1zM401.5 151.5h1.1v1.1h-1.1zM383 149.5h1.1v1.1h-1.1zM365.5 176.5h1.1v1.1h-1.1zM396 168.5h1.1v1.1h-1.1zM392.5 160h1.1v1.1h-1.1zM412.5 163.5h1.1v1.1h-1.1zM415.5 152.5h1.1v1.1h-1.1zM365 158.5h1.1v1.1h-1.1zM363 179.5h1.1v1.1h-1.1zM392 168h1.1v1.1h-1.1zM379 167h1.1v1.1h-1.1zM378.5 169h1.1v1.1h-1.1zM368 154h1.1v1.1h-1.1zM369 164h1.1v1.1h-1.1zM401.5 147h1.1v1.1h-1.1zM366 132h1.1v1.1h-1.1zM407.5 159h1.1v1.1h-1.1zM372.5 154.5h1.1v1.1h-1.1zM407 152.5h1.1v1.1h-1.1zM408.5 142.5h1.1v1.1h-1.1zM384.5 156h1.1v1.1h-1.1zM400.5 156h1.1v1.1h-1.1zM406 148.5h1.1v1.1h-1.1zM395 150h1.1v1.1h-1.1zM415 144h1.1v1.1h-1.1zM379 152h1.1v1.1h-1.1zM385.5 168h1.1v1.1h-1.1zM395 147h1.1v1.1h-1.1zM416 168h1.1v1.1h-1.1zM408.5 143h1.1v1.1h-1.1zM406.5 150h1.1v1.1h-1.1zM365.5 141.5h1.1v1.1h-1.1zM377.5 170h1.1v1.1h-1.1zM409 148.5h1.1v1.1h-1.1zM411 162.5h1.1v1.1h-1.1zM372.5 165.5h1.1v1.1h-1.1zM371.5 170h1.1v1.1h-1.1zM399.5 158h1.1v1.1h-1.1zM415.5 152h1.1v1.1h-1.1zM394 167h1.1v1.1h-1.1zM393.5 167h1.1v1.1h-1.1zM397.5 149.5h1.1v1.1h-1.1zM397 146h1.1v1.1h-1.1zM383 166.5h1.1v1.1h-1.1zM417 177.5h1.1v1.1h-1.1zM418 152.5h1.1v1.1h-1.1zM382.5 145.5h1.1v1.1h-1.1zM399 170.5h1.1v1.1h-1.1zM386.5 152.5h1.1v1.1h-1.1zM365 165h1.1v1.1h-1.1zM415.5 146.5h1.1v1.1h-1.1zM363 159h1.1v1.1h-1.1zM365 150h1.1v1.1h-1.1zM387 154.5h1.1v1.1h-1.1zM374 150h1.1v1.1h-1.1zM364 162.5h1.1v1.1h-1.1zM416.5 155.5h1.1v1.1h-1.1zM378.5 162.5h1.1v1.1h-1.1zM361 153.5h1.1v1.1h-1.1zM414 173h1.1v1.1h-1.1zM396.5 151h1.1v1.1h-1.1zM400 155.5h1.1v1.1h-1.1zM393.5 172h1.1v1.1h-1.1zM362 161h1.1v1.1h-1.1zM366 151h1.1v1.1h-1.1zM402 153h1.1v1.1h-1.1zM376.5 150h1.1v1.1h-1.1zM374 172h1.1v1.1h-1.1zM377 159.5h1.1v1.1h-1.1zM414 159h1.1v1.1h-1.1zM378.5 140.5h1.1v1.1h-1.1zM371.5 170h1.1v1.1h-1.1zM413.5 170h1.1v1.1h-1.1zM379 174.5h1.1v1.1h-1.1zM371 146h1.1v1.1h-1.1zM387.5 174h1.1v1.1h-1.1zM392 152.5h1.1v1.1h-1.1zM383.5 164h1.1v1.1h-1.1zM396.5 161.5h1.1v1.1h-1.1zM417 169.5h1.1v1.1h-1.1zM370.5 143h1.1v1.1h-1.1zM394 160.5h1.1v1.1h-1.1zM399.5 168.5h1.1v1.1h-1.1zM404 157h1.1v1.1h-1.1zM404 165.5h1.1v1.1h-1.1zM380.5 176.5h1.1v1.1h-1.1zM391 155.5h1.1v1.1h-1.1zM416 156.5h1.1v1.1h-1.1zM386 160h1.1v1.1h-1.1zM370.5 176h1.1v1.1h-1.1zM408 156h1.1v1.1h-1.1zM396 163h1.1v1.1h-1.1zM410 155.5h1.1v1.1h-1.1zM383.5 162.5h1.1v1.1h-1.1zM406 168.5h1.1v1.1h-1.1zM366.5 167h1.1v1.1h-1.1zM379.5 155.5h1.1v1.1h-1.1zM370.5 153h1.1v1.1h-1.1zM402 171.5h1.1v1.1h-1.1zM415.5 175h1.1v1.1h-1.1zM391.5 151.5h1.1v1.1h-1.1zM399.5 157h1.1v1.1h-1.1zM388.5 155h1.1v1.1h-1.1zM391.5 156.5h1.1v1.1h-1.1zM395.5 170.5h1.1v1.1h-1.1zM364 147h1.1v1.1h-1.1zM409.5 173.5h1.1v1.1h-1.1zM389 178.5h1.1v1.1h-1.1zM380 144h1.1v1.1h-1.1zM387 161.5h1.1v1.1h-1.1zM391 158h1.1v1.1h-1.1zM390.5 148.5h1.1v1.1h-1.1zM410.5 178h1.1v1.1h-1.1zM365 154h1.1v1.1h-1.1zM388.5 154.5h1.1v1.1h-1.1zM405.5 163h1.1v1.1h-1.1zM384 176h1.1v1.1h-1.1zM389.5 174h1.1v1.1h-1.1zM364.5 163.5h1.1v1.1h-1.1zM383 147.5h1.1v1.1h-1.1zM390 141h1.1v1.1h-1.1zM410 160h1.1v1.1h-1.1zM364.5 168h1.1v1.1h-1.1zM376.5 171.5h1.1v1.1h-1.1zM382.5 179h1.1v1.1h-1.1zM412 160.5h1.1v1.1h-1.1zM402.5 159.5h1.1v1.1h-1.1zM364.5 175h1.1v1.1h-1.1zM406.5 159.5h1.1v1.1h-1.1zM416.5 171h1.1v1.1h-1.1zM405 133h1.1v1.1h-1.1zM391.5 176h1.1v1.1h-1.1zM411.5 165h1.1v1.1h-1.1zM416.5 165.5h1.1v1.1h-1.1zM410 172h1.1v1.1h-1.1zM384.5 162h1.1v1.1h-1.1zM374 143h1.1v1.1h-1.1zM361.5 156h1.1v1.1h-1.1zM368.5 159h1.1v1.1h-1.1zM366.5 161h1.1v1.1h-1.1zM407.5 155h1.1v1.1h-1.1zM381 159h1.1v1.1h-1.1zM363 153.5h1.1v1.1h-1.1zM366.5 147.5h1.1v1.1h-1.1zM391.5 160.5h1.1v1.1h-1.1zM373 153h1.1v1.1h-1.1zM401 147h1.1v1.1h-1.1zM416 174.5h1.1v1.1h-1.1zM407 158h1.1v1.1h-1.1zM405 165h1.1v1.1h-1.1zM393.5 155h1.1v1.1h-1.1z"/>
<path fill="#333" d="M312.5 143.5h1v1h-1zM327 138.5h1v1h-1zM324 146.5h1v1h-1zM321.5 129h1v1h-1zM323 154.5h1v1h-1zM313.5 148h1v1h-1zM304 159h1v1h-1zM329 143.5h1v1h-1zM353.5 175h1v1h-1zM319 149.5h1v1h-1zM363.5 142.5h1v1h-1zM321 165h1v1h-1zM328.5 135.5h1v1h-1zM352.5 172h1v1h-1zM330 133.5h1v1h-1zM337.5 129h1v1h-1zM306 155.5h1v1h-1zM322 161h1v1h-1zM335 160h1v1h-1zM314.5 135h1v1h-1zM304.5 130h1v1h-1zM362.5 117.5h1v1h-1zM316 154.5h1v1h-1zM359.5 137h1v1h-1zM354.5 116.5h1v1h-1zM353 154h1v1h-1zM311 160.5h1v1h-1zM357.5 154h1v1h-1zM318.5 141h1v1h-1zM309 160h1v1h-1zM335 112.5h1v1h-1zM311.5 152h1v1h-1zM355.5 158.5h1v1h-1zM314 145.5h1v1h-1zM344 137h1v1h-1zM355.5 141h1v1h-1zM358.5 170h1v1h-1zM361.5 138h1v1h-1zM359.5 114.5h1v1h-1zM357 151h1v1h-1zM306 126h1v1h-1zM343.5 146h1v1h-1zM330 138.5h1v1h-1zM309.5 147.5h1v1h-1zM340 130h1v1h-1zM308.5 158h1v1h-1zM352.5 158.5h1v1h-1zM334.5 153h1v1h-1zM336.5 154h1v1h-1zM365.5 154.5h1v1h-1zM304.5 142.5h1v1h-1zM311 148h1v1h-1zM329.5 158h1v1h-1zM309 144h1v1h-1zM340.5 130.5h1v1h-1zM315 111.5h1v1h-1zM365.5 154.5h1v1h-1zM363.5 168h1v1h-1zM328.5 151.5h1v1h-1zM336 148h1v1h-1zM308 137.5h1v1h-1zM328.5 145.5h1v1h-1zM345.5 161h1v1h-1zM363.5 178.5h1v1h-1zM314.5 159.5h1v1h-1zM353 152h1v1h-1zM362 171.5h1v1h-1zM338 170h1v1h-1zM319 115h1v1h-1zM327.5 140h1v1h-1zM321 120.5h1v1h-1zM358.5 114h1v1h-1zM351 152h1v1h-1zM365.5 147h1v1h-1zM318.5 145.5h1v1h-1zM348 160h1v1h-1zM313 149h1v1h-1zM319.5 153.5h1v1h-1zM338 155h1v1h-1zM346.5 137h1v1h-1zM348.5 164h1v1h-1zM309.5 148.5h1v1h-1zM328 156.5h1v1h-1zM340 140.5h1v1h-1zM331 154.5h1v1h-1zM305.5 156h1v1h-1zM326.5 139h1v1h-1zM358.5 137.5h1v1h-1zM337 137.5h1v1h-1zM334.5 170h1v1h-1zM318.5 138.5h1v1h-1zM365.5 142.5h1v1h-1zM304.5 160.5h1v1h-1zM324.5 129.5h1v1h-1zM354.5 178.5h1v1h-1zM329 161.5h1v1h-1zM318 150h1v1h-1zM318.5 179.5h1v1h-1zM330 141h1v1h-1zM357.5 172.5h1v1h-1zM342 152h1v1h-1zM331 160.5h1v1h-1zM314 148.5h1v1h-1zM340.5 141.5h1v1h-1zM328.5 144.5h1v1h-1zM348.5 165.5h1v1h-1zM323 150h1v1h-1zM349.5 145h1v1h-1zM347 140.5h1v1h-1zM339.5 121h1v1h-1zM362.5 169.5h1v1h-1zM318.5 153.5h1v1h-1zM336 129.5h1v1h-1zM335 145.5h1v1h-1zM314 153.5h1v1h-1zM350.5 141h1v1h-1zM330.5 146.5h1v1h-1zM345.5 147.5h1v1h-1zM310 156h1v1h-1zM350.5 150.5h1v1h-1zM353 163h1v1h-1zM327.5 164h1v1h-1zM350 154h1v1h-1zM364 154.5h1v1h-1zM305 147h1v1h-1zM362.5 164h1v1h-1zM323 177h1v1h-1zM330.5 157.5h1v1h-1zM365.5 160.5h1v1h-1zM322 168h1v1h-1zM363.5 140.5h1v1h-1zM358.5 150h1v1h-1zM343.5 165.5h1v1h-1zM327.5 155h1v1h-1zM339.5 169h1v1h-1zM363.5 153h1v1h-1zM306 179.5h1v1h-1zM326 163h1v1h-1zM311.5 145.5h1v1h-1zM316 134.5h1v1h-1zM341 168.5h1v1h-1zM327.5 146h1v1h-1zM365 146h1v1h-1zM353 138.5h1v1h-1zM323.5 129h1v1h-1zM365.5 166.5h1v1h-1zM320 144h1v1h-1zM310.5 151.5h1v1h-1zM326.5 137.5h1v1h-1zM332 137.5h1v1h-1zM343.5 150.5h1v1h-1zM320 147h1v1h-1zM323 167.5h1v1h-1zM331.5 162h1v1h-1zM347 159h1v1h-1zM347 177h1v1h-1zM303 156h1v1h-1zM318 141h1v1h-1zM315 165.5h1v1h-1zM344 177.5h1v1h-1zM353.5 148h1v1h-1zM320.5 173.5h1v1h-1zM334.5 161h1v1h-1zM308 151h1v1h-1zM329.5 128h1v1h-1zM320.5 142.5h1v1h-1zM350.5 140h1v1h-1zM325 166h1v1h-1zM359.5 139h1v1h-1zM336 165h1v1h-1zM343 168.5h1v1h-1zM361 148.5h1v1h-1zM338 145.5h1v1h-1zM316.5 140h1v1h-1zM347.5 153h1v1h-1zM334.5 147.5h1v1h-1zM357.5 149.5h1v1h-1zM321.5 146h1v1h-1zM338 150h1v1h-1zM307.5 176.5h1v1h-1zM343 151h1v1h-1zM330.5 141h1v1h-1zM327 139h1v1h-1zM313.5 158h1v1h-1zM354 145h1v1h-1zM326.5 153.5h1v1h-1zM350.5 152h1v1h-1zM335 141.5h1v1h-1zM317.5 123h1v1h-1zM315 149h1v1h-1zM362.5 119.5h1v1h-1zM361 163h1v1h-1zM321 132h1v1h-1zM328.5 143h1v1h-1zM320 147.5h1v1h-1zM328 136.5h1v1h-1zM319 165h1v1h-1zM365 139h1v1h-1zM346.5 152h1v1h-1zM315 155.5h1v1h-1zM320.5 172h1v1h-1zM336 163.5h1v1h-1zM310 172.5h1v1h-1zM343.5 162.5h1v1h-1zM363 122h1v1h-1zM346.5 157.5h1v1h-1zM339.5 145.5h1v1h-1zM308.5 153.5h1v1h-1zM329.5 152h1v1h-1zM347 168.5h1v1h-1zM336 125h1v1h-1zM362.5 156.5h1v1h-1zM354 148h1v1h-1zM304 131h1v1h-1zM332.5 146h1v1h-1zM326.5 155h1v1h-1zM330 149h1v1h-1zM308.5 150h1v1h-1zM365.5 141.5h1v1h-1zM329 154h1v1h-1zM334.5 148.5h1v1h-1zM334 134h1v1h-1zM325 176h1v1h-1zM353 129.5h1v1h-1zM310 167.5h1v1h-1zM330 139.5h1v1h-1zM349 137.5h1v1h-1zM346.5 158.5h1v1h-1zM337 137h1v1h-1zM365 130.5h1v1h-1zM310 139.5h1v1h-1zM349 165h1v1h-1zM334.5 127h1v1h-1zM332 175.5h1v1h-1zM317 165h1v1h-1zM344.5 164.5h1v1h-1zM304 157.5h1v1h-1zM324.5 137.5h1v1h-1zM304.5 144h1v1h-1zM319.5 158h1v1h-1zM336.5 163h1v1h-1zM337 162h1v1h-1zM348.5 150.5h1v1h-1zM331 144.5h1v1h-1zM365 133.5h1v1h-1zM335.5 151.5h1v1h-1zM359.5 133.5h1v1h-1zM335.5 169h1v1h-1zM325.5 143.5h1v1h-1zM331.5 160.5h1v1h-1zM357 173.5h1v1h-1zM329 112h1v1h-1zM305.5 134.5h1v1h-1zM337 118.5h1v1h-1zM309.5 128h1v1h-1zM347 128h1v1h-1zM364 136h1v1h-1zM345.5 169h1v1h-1zM365.5 148h1v1h-1zM338 156h1v1h-1zM350 173h1v1h-1zM311 152.5h1v1h-1zM304 147.5h1v1h-1zM362.5 168h1v1h-1zM365.5 154.5h1v1h-1zM330.5 134.5h1v1h-1zM358.5 117h1v1h-1zM312.5 138.5h1v1h-1zM358.5 150h1v1h-1zM323 137.5h1v1h-1zM350 159h1v1h-1zM312 176h1v1h-1zM312 163.5h1v1h-1zM337 112h1v1h-1zM364 143.5h1v1h-1zM311.5 135h1v1h-1zM327 164h1v1h-1zM321.5 158.5h1v1h-1zM342.5 150h1v1h-1zM344.5 148.5h1v1h-1zM326.5 144h1v1h-1zM303.5 132.5h1v1h-1zM315.5 150h1v1h-1zM358 136h1v1h-1zM331 145h1v1h-1zM362 168h1v1h-1zM361.5 147h1v1h-1zM361 162.5h1v1h-1zM356.5 154.5h1v1h-1zM320.5 139h1v1h-1zM351 161.5h1v1h-1zM304 145.5h1v1h-1zM356 158h1v1h-1zM353.5 150h1v1h-1zM341 168h1v1h-1zM337 159.5h1v1h-1zM335 150.5h1v1h-1zM314 140.5h1v1h-1zM366 149h1v1h-1zM345 154.5h1v1h-1zM344 152.5h1v1h-1zM337 147h1v1h-1zM312.5 132h1v1h-1zM345.5 145h1v1h-1zM340 137h1v1h-1zM306 166.5h1v1h-1zM362 142h1v1h-1zM319.5 153h1v1h-1zM348 163.5h1v1h-1zM317.5 137.5h1v1h-1zM333 141.5h1v1h-1zM310.5 140.5h1v1h-1zM317 173h1v1h-1zM312 160h1v1h-1zM315 138h1v1h-1zM355 152h1v1h-1zM320 151.5h1v1h-1zM347 151.5h1v1h-1zM320 122.5h1v1h-1zM325 150h1v1h-1zM352 154h1v1h-1zM304.5 159.5h1v1h-1zM349.5 153h1v1h-1zM359.5 142.5h1v1h-1zM330 145.5h1v1h-1zM359 163.5h1v1h-1zM336.5 139h1v1h-1zM307 167h1v1h-1zM353 168.5h1v1h-1zM313.5 149h1v1h-1zM359 104h1v1h-1zM346.5 158.5h1v1h-1zM356.5 143.5h1v1h-1zM355.5 141h1v1h-1zM312 158h1v1h-1zM340 137h1v1h-1zM355.5 135.5h1v1h-1zM314.5 165h1v1h-1zM341.5 165.5h1v1h-1zM355 167.5h1v1h-1zM319.5 158.5h1v1h-1zM312.5 153h1v1h-1zM322 161h1v1h-1zM317 169.5h1v1h-1zM326 176h1v1h-1zM305.5 162h1v1h-1zM344 166h1v1h-1zM354.5 147h1v1h-1zM334.5 169.5h1v1h-1zM359.5 155h1v1h-1zM363.5 126h1v1h-1zM335 140h1v1h-1zM307.5 157.5h1v1h-1zM330.5 136h1v1h-1zM317 142h1v1h-1zM362 131h1v1h-1zM337.5 131h1v1h-1zM355 152.5h1v1h-1zM332 152h1v1h-1zM363 158.5h1v1h-1zM339.5 161h1v1h-1zM312.5 158h1v1h-1zM315 130.5h1v1h-1zM347 124.5h1v1h-1zM347.5 129.5h1v1h-1zM323 149h1v1h-1zM317.5 126.5h1v1h-1zM324.5 164h1v1h-1zM305.5 151.5h1v1h-1zM327.5 160h1v1h-1zM347.5 161h1v1h-1zM334 152.5h1v1h-1zM327.5 126h1v1h-1zM324.5 138h1v1h-1zM333.5 153.5h1v1h-1zM360 128h1v1h-1zM337 146h1v1h-1zM319 131.5h1v1h-1zM359.5 159h1v1h-1zM341.5 156.5h1v1h-1zM332 151.5h1v1h-1zM351.5 157.5h1v1h-1zM347.5 165.5h1v1h-1zM313.5 150.5h1v1h-1zM350.5 154.5h1v1h-1zM365.5 164h1v1h-1zM335 154h1v1h-1zM307 151.5h1v1h-1zM353 148h1v1h-1zM303.5 144h1v1h-1zM334.5 139.5h1v1h-1zM335 158.5h1v1h-1zM331.5 154h1v1h-1zM304 144.5h1v1h-1zM333 166.5h1v1h-1zM319 168.5h1v1h-1zM362 152.5h1v1h-1zM356 138h1v1h-1zM352.5 156.5h1v1h-1zM364.5 151h1v1h-1zM350 160h1v1h-1zM317.5 151.5h1v1h-1zM323 166h1v1h-1zM351 134h1v1h-1zM336.5 150.5h1v1h-1zM314 146.5h1v1h-1zM313 156h1v1h-1zM324.5 140.5h1v1h-1zM355.5 140h1v1h-1zM341.5 130.5h1v1h-1zM303.5 151h1v1h-1zM349 177h1v1h-1zM342.5 175.5h1v1h-1zM347.5 144.5h1v1h-1zM342.5 150.5h1v1h-1zM323.5 156h1v1h-1zM360.5 126h1v1h-1zM306 160.5h1v1h-1zM329 171h1v1h-1zM331.5 148.5h1v1h-1zM306.5 123.5h1v1h-1zM353.5 128.5h1v1h-1zM328 158.5h1v1h-1zM355.5 145h1v1h-1zM340.5 148.5h1v1h-1zM360.5 160h1v1h-1zM324 151h1v1h-1zM316.5 145.5h1v1h-1zM321 145.5h1v1h-1zM308 123h1v1h-1zM360 169h1v1h-1zM330.5 170h1v1h-1zM344.5 143.5h1v1h-1zM347 156h1v1h-1zM353.5 138h1v1h-1zM337.5 160.5h1v1h-1zM314 150.5h1v1h-1zM348 143.5h1v1h-1zM358 141.5h1v1h-1zM329 167h1v1h-1zM320 151h1v1h-1zM355.5 158.5h1v1h-1zM345.5 139h1v1h-1zM360 156.5h1v1h-1zM333.5 132h1v1h-1zM330.5 171h1v1h-1zM345.5 134h1v1h-1zM353 168.5h1v1h-1zM310 166.5h1v1h-1zM306 179.5h1v1h-1zM312.5 147.5h1v1h-1zM306 128.5h1v1h-1zM337 159h1v1h-1zM310 163.5h1v1h-1zM351 155.5h1v1h-1zM357 153h1v1h-1zM343 177h1v1h-1zM342 167.5h1v1h-1zM338.5 138.5h1v1h-1zM343.5 157h1v1h-1zM343 133.5h1v1h-1zM360.5 147.5h1v1h-1zM361.5 125h1v1h-1zM317.5 138h1v1h-1zM354.5 134.5h1v1h-1zM333.5 123.5h1v1h-1zM355 149.5h1v1h-1zM304.5 154.5h1v1h-1zM304 142h1v1h-1zM339.5 128h1v1h-1zM332.5 173.5h1v1h-1zM331.5 148.5h1v1h-1zM356 144h1v1h-1zM339.5 142.5h1v1h-1zM338 165h1v1h-1zM317 134h1v1h-1zM352 151h1v1h-1zM344.5 130.5h1v1h-1zM333 165.5h1v1h-1zM347.5 137h1v1h-1zM313 135h1v1h-1zM309 158h1v1h-1zM348.5 156.5h1v1h-1zM336.5 163h1v1h-1zM312.5 159.5h1v1h-1zM324 178.5h1v1h-1zM308 137.5h1v1h-1zM335.5 157h1v1h-1zM328.5 161h1v1h-1zM306 155.5h1v1h-1zM339 171h1v1h-1zM311.5 165h1v1h-1zM336.5 156.5h1v1h-1zM355.5 169.5h1v1h-1zM333.5 142.5h1v1h-1zM328.5 154h1v1h-1zM306.5 142h1v1h-1zM308 169.5h1v1h-1zM342 139h1v1h-1zM325.5 138h1v1h-1zM357 156.5h1v1h-1zM314 151.5h1v1h-1zM349 133.5h1v1h-1zM349.5 151h1v1h-1zM312 168.5h1v1h-1zM312.5 151h1v1h-1zM349.5 131h1v1h-1zM345 146.5h1v1h-1zM364 133h1v1h-1zM341.5 136h1v1h-1zM330 162.5h1v1h-1zM343 157h1v1h-1zM351 169.5h1v1h-1zM360.5 138h1v1h-1zM362 146.5h1v1h-1zM353.5 133.5h1v1h-1zM346 163.5h1v1h-1zM306 136h1v1h-1zM341.5 135h1v1h-1zM350 132.5h1v1h-1zM318.5 158h1v1h-1zM303.5 154.5h1v1h-1zM353.5 152h1v1h-1zM320.5 169h1v1h-1zM353 151.5h1v1h-1zM346.5 139.5h1v1h-1zM330 141h1v1h-1zM342.5 142h1v1h-1zM360 169.5h1v1h-1zM304 151.5h1v1h-1zM346.5 155h1v1h-1zM362.5 128h1v1h-1zM318.5 140h1v1h-1zM364 137.5h1v1h-1zM330.5 156.5h1v1h-1zM352 146.5h1v1h-1zM353 157.5h1v1h-1zM328.5 139.5h1v1h-1zM332 146.5h1v1h-1zM311 156h1v1h-1zM347 133h1v1h-1zM328 136.5h1v1h-1zM332 167h1v1h-1zM351.5 142.5h1v1h-1zM328.5 162h1v1h-1zM310 161h1v1h-1zM333 148.5h1v1h-1zM320.5 156.5h1v1h-1zM313 152h1v1h-1zM364 130h1v1h-1zM361 143h1v1h-1zM365.5 145.5h1v1h-1zM325 162.5h1v1h-1zM304 147h1v1h-1zM358.5 114h1v1h-1zM328 153.5h1v1h-1zM329 146.5h1v1h-1zM360.5 158.5h1v1h-1zM356.5 154h1v1h-1zM306.5 131h1v1h-1zM364 127.5h1v1h-1zM304 140h1v1h-1zM348.5 135.5h1v1h-1zM341 148.5h1v1h-1zM350 141h1v1h-1zM330.5 147h1v1h-1zM322 158h1v1h-1zM322 145.5h1v1h-1zM336.5 142.5h1v1h-1zM308.5 158h1v1h-1zM326.5 164h1v1h-1zM315.5 158.5h1v1h-1zM343 127h1v1h-1zM321.5 152h1v1h-1zM364 146.5h1v1h-1zM320.5 164.5h1v1h-1zM349.5 113h1v1h-1zM353.5 149h1v1h-1zM353 150.5h1v1h-1zM362 156.5h1v1h-1zM334 145h1v1h-1zM335 144.5h1v1h-1zM360.5 151.5h1v1h-1zM360 128h1v1h-1zM359.5 151.5h1v1h-1zM359 126h1v1h-1zM360 137.5h1v1h-1zM315 162.5h1v1h-1zM363.5 156h1v1h-1zM339.5 156.5h1v1h-1zM312 167h1v1h-1zM338.5 156.5h1v1h-1zM304 155.5h1v1h-1zM316.5 139h1v1h-1zM326 140.5h1v1h-1zM325 171.5h1v1h-1zM305 139.5h1v1h-1zM358.5 165h1v1h-1zM334.5 156.5h1v1h-1zM363 174.5h1v1h-1zM318 140h1v1h-1zM325.5 167h1v1h-1zM309 142h1v1h-1zM326 145.5h1v1h-1zM318 177h1v1h-1zM310.5 175.5h1v1h-1zM362.5 154h1v1h-1zM318 172.5h1v1h-1zM336.5 159h1v1h-1zM305.5 150h1v1h-1zM346.5 166h1v1h-1zM311 132.5h1v1h-1zM320 132.5h1v1h-1zM336.5 110h1v1h-1zM318.5 154.5h1v1h-1zM340 138.5h1v1h-1zM347 144.5h1v1h-1zM315.5 151.5h1v1h-1zM308.5 150.5h1v1h-1zM317.5 160h1v1h-1zM333 150.5h1v1h-1zM304.5 169h1v1h-1zM366 125h1v1h-1zM335 165h1v1h-1zM310 166.5h1v1h-1zM352.5 145.5h1v1h-1zM304.5 173h1v1h-1zM330 147.5h1v1h-1zM318.5 171.5h1v1h-1zM310 157.5h1v1h-1zM344.5 152h1v1h-1zM345.5 159.5h1v1h-1zM328 155.5h1v1h-1zM344 151.5h1v1h-1zM345.5 156.5h1v1h-1zM323 171h1v1h-1zM311 148.5h1v1h-1zM359.5 139h1v1h-1zM342 154.5h1v1h-1zM359.5 161h1v1h-1zM312.5 150h1v1h-1zM349 142.5h1v1h-1zM338 166h1v1h-1zM362 169.5h1v1h-1zM343 144.5h1v1h-1zM344 141h1v1h-1zM330 154h1v1h-1zM317.5 156.5h1v1h-1zM334.5 144.5h1v1h-1zM328 165.5h1v1h-1zM318 155h1v1h-1zM343 137.5h1v1h-1zM336.5 149h1v1h-1zM336.5 152.5h1v1h-1zM315.5 153.5h1v1h-1zM321 143.5h1v1h-1zM356 161h1v1h-1zM322.5 137h1v1h-1zM314.5 158h1v1h-1zM350.5 149.5h1v1h-1zM324 136.5h1v1h-1zM332 140h1v1h-1zM353.5 127.5h1v1h-1zM323 127h1v1h-1zM321 127h1v1h-1zM359.5 154h1v1h-1zM347 148.5h1v1h-1zM350 132h1v1h-1zM344.5 140h1v1h-1zM327.5 133h1v1h-1zM364.5 162.5h1v1h-1zM315 137h1v1h-1zM303.5 151h1v1h-1zM318 156h1v1h-1zM345.5 158.5h1v1h-1zM351 166h1v1h-1zM307 146h1v1h-1zM352 125.5h1v1h-1zM332.5 158h1v1h-1zM324.5 159h1v1h-1zM311.5 123.5h1v1h-1zM327.5 148h1v1h-1zM305.5 154.5h1v1h-1zM356.5 144h1v1h-1zM305 149.5h1v1h-1zM351.5 129h1v1h-1zM339.5 136h1v1h-1zM358 132.5h1v1h-1zM356.5 173h1v1h-1zM313 150h1v1h-1zM327 144.5h1v1h-1zM326.5 136.5h1v1h-1zM345 151.5h1v1h-1zM332.5 152h1v1h-1zM357 146.5h1v1h-1zM335.5 133h1v1h-1zM351 136h1v1h-1zM312 128h1v1h-1zM323 124h1v1h-1zM318 155h1v1h-1zM343 141.5h1v1h-1zM340 157h1v1h-1zM362 148h1v1h-1zM358 146h1v1h-1zM312.5 145h1v1h-1zM335.5 150h1v1h-1zM333.5 178h1v1h-1zM360.5 159h1v1h-1zM320 139.5h1v1h-1zM317.5 168h1v1h-1zM317 144h1v1h-1zM353.5 130.5h1v1h-1zM346.5 121h1v1h-1zM305.5 123.5h1v1h-1zM311.5 159h1v1h-1zM307 161h1v1h-1zM359.5 135h1v1h-1zM349.5 147h1v1h-1zM333.5 130h1v1h-1zM340 148h1v1h-1zM341 163.5h1v1h-1zM340 155.5h1v1h-1zM309.5 144h1v1h-1zM304 136.5h1v1h-1zM356.5 152h1v1h-1zM360.5 156h1v1h-1zM363 143.5h1v1h-1zM328.5 147.5h1v1h-1zM334.5 163h1v1h-1zM313 151.5h1v1h-1zM352.5 131h1v1h-1zM363 167.5h1v1h-1zM311.5 148.5h1v1h-1zM322.5 122h1v1h-1zM324.5 167h1v1h-1zM330 172h1v1h-1zM346 155.5h1v1h-1zM341 141.5h1v1h-1zM344.5 134h1v1h-1zM319.5 143h1v1h-1zM328 120h1v1h-1zM311 158h1v1h-1zM338.5 158h1v1h-1zM340 134.5h1v1h-1zM360 175.5h1v1h-1zM307.5 163h1v1h-1zM326.5 173h1v1h-1zM345 158.5h1v1h-1zM305.5 169h1v1h-1zM324 156h1v1h-1zM323 135h1v1h-1zM335 152h1v1h-1zM342 131h1v1h-1zM311 136h1v1h-1zM363 148.5h1v1h-1zM327.5 133h1v1h-1zM303.5 129.5h1v1h-1zM336 159h1v1h-1zM346 147h1v1h-1zM351 147.5h1v1h-1zM309.5 152.5h1v1h-1zM334 129.5h1v1h-1zM304 152h1v1h-1zM347.5 136.5h1v1h-1zM333.5 156h1v1h-1zM348.5 154.5h1v1h-1zM308.5 150.5h1v1h-1zM362 172.5h1v1h-1zM305.5 152h1v1h-1zM325 157.5h1v1h-1zM350 152.5h1v1h-1zM330.5 155h1v1h-1zM332.5 168.5h1v1h-1zM307.5 154h1v1h-1zM346 147h1v1h-1zM340.5 146.5h1v1h-1zM319.5 148.5h1v1h-1zM366 169h1v1h-1zM326 142h1v1h-1zM362.5 130.5h1v1h-1zM337 110h1v1h-1zM320 146h1v1h-1zM342.5 149.5h1v1h-1z"/>
<path fill="#000" d="M173.5 335h2v1.5h-2zM174.5 352h2v1.5h-2zM176 330h2v1.5h-2zM170.5 325.5h2v1.5h-2zM175.5 339h2v1.5h-2zM169 340h2v1.5h-2zM174 325.5h2v1.5h-2zM192 330.5h2v1.5h-2zM179 348.5h2v1.5h-2zM177 340.5h2v1.5h-2zM175 347h2v1.5h-2zM176 331.5h2v1.5h-2zM185 334.5h2v1.5h-2zM170.5 324h2v1.5h-2zM176 314h2v1.5h-2zM174 342.5h2v1.5h-2zM183.5 323.5h2v1.5h-2zM179.5 333h2v1.5h-2zM171 326h2v1.5h-2zM162.5 333h2v1.5h-2zM180.5 328h2v1.5h-2zM184.5 349.5h2v1.5h-2zM172 334h2v1.5h-2zM185.5 328h2v1.5h-2zM165.5 333.5h2v1.5h-2zM166 310.5h2v1.5h-2zM163 338.5h2v1.5h-2zM179.5 326.5h2v1.5h-2zM172.5 343h2v1.5h-2zM180.5 322.5h2v1.5h-2zM156 345.5h2v1.5h-2zM180 311h2v1.5h-2zM176 326.5h2v1.5h-2zM186.5 342.5h2v1.5h-2zM179.5 338.5h2v1.5h-2zM165.5 328.5h2v1.5h-2zM187 341.5h2v1.5h-2zM176.5 325.5h2v1.5h-2zM184.5 342h2v1.5h-2zM169.5 347h2v1.5h-2zM178.5 348.5h2v1.5h-2zM182.5 324.5h2v1.5h-2zM183 347h2v1.5h-2zM181.5 346h2v1.5h-2zM167.5 336h2v1.5h-2zM173.5 336.5h2v1.5h-2zM168.5 338h2v1.5h-2zM178 330h2v1.5h-2zM163.5 331.5h2v1.5h-2zM187 339h2v1.5h-2zM170 342h2v1.5h-2zM181 334h2v1.5h-2zM168.5 318h2v1.5h-2zM191.5 339h2v1.5h-2zM188.5 315.5h2v1.5h-2zM164 345h2v1.5h-2zM164 340.5h2v1.5h-2zM178.5 325.5h2v1.5h-2zM164.5 342h2v1.5h-2zM174.5 341.5h2v1.5h-2zM182.5 330h2v1.5h-2zM169 320.5h2v1.5h-2zM172 344h2v1.5h-2zM172.5 335.5h2v1.5h-2zM176.5 329.5h2v1.5h-2zM182 341.5h2v1.5h-2zM180 327.5h2v1.5h-2zM166.5 344h2v1.5h-2zM167.5 349h2v1.5h-2zM177.5 328h2v1.5h-2zM184.5 329h2v1.5h-2zM172 341h2v1.5h-2zM170 334.5h2v1.5h-2zM173.5 317.5h2v1.5h-2zM174 344h2v1.5h-2zM177 330h2v1.5h-2zM174.5 345h2v1.5h-2zM177.5 322h2v1.5h-2zM171 337.5h2v1.5h-2zM182.5 338.5h2v1.5h-2zM181 339h2v1.5h-2zM178.5 326h2v1.5h-2zM176.5 320.5h2v1.5h-2zM171.5 340.5h2v1.5h-2zM167.5 343.5h2v1.5h-2zM178 335.5h2v1.5h-2zM174.5 339h2v1.5h-2zM174 328h2v1.5h-2zM186 325h2v1.5h-2zM174 345.5h2v1.5h-2zM185.5 348.5h2v1.5h-2zM190 352h2v1.5h-2zM184.5 338h2v1.5h-2zM174.5 326.5h2v1.5h-2zM179.5 310h2v1.5h-2zM174.5 337.5h2v1.5h-2zM177.5 345h2v1.5h-2zM178.5 341h2v1.5h-2zM167 341h2v1.5h-2zM175.5 324.5h2v1.5h-2zM178 345.5h2v1.5h-2zM180.5 348h2v1.5h-2zM178.5 359h2v1.5h-2zM177 347.5h2v1.5h-2zM174.5 350h2v1.5h-2zM184.5 318.5h2v1.5h-2zM172.5 322h2v1.5h-2zM172.5 323h2v1.5h-2zM176.5 343h2v1.5h-2zM174.5 335.5h2v1.5h-2zM167.5 326h2v1.5h-2zM181 327h2v1.5h-2zM184 340.5h2v1.5h-2zM177.5 320h2v1.5h-2zM176.5 339h2v1.5h-2zM178 339.5h2v1.5h-2zM183 354.5h2v1.5h-2zM170 336h2v1.5h-2zM177 318.5h2v1.5h-2zM184.5 348h2v1.5h-2zM171 337h2v1.5h-2zM181.5 334.5h2v1.5h-2zM163 329.5h2v1.5h-2zM183 337.5h2v1.5h-2zM188.5 329h2v1.5h-2zM182.5 331.5h2v1.5h-2zM180 331h2v1.5h-2zM170 346h2v1.5h-2zM170 342h2v1.5h-2zM169.5 324h2v1.5h-2zM180 335.5h2v1.5h-2zM175.5 330.5h2v1.5h-2zM184 337.5h2v1.5h-2zM175 340h2v1.5h-2zM181.5 333h2v1.5h-2zM179.5 347h2v1.5h-2zM176 346.5h2v1.5h-2zM173 326.5h2v1.5h-2zM181.5 335.5h2v1.5h-2zM160 325.5h2v1.5h-2zM193 321h2v1.5h-2zM173 322.5h2v1.5h-2zM180 324.5h2v1.5h-2zM190.5 325.5h2v1.5h-2zM167.5 339.5h2v1.5h-2zM170 338h2v1.5h-2zM183.5 328.5h2v1.5h-2zM167.5 326h2v1.5h-2zM175.5 337h2v1.5h-2zM175 339.5h2v1.5h-2zM178.5 347.5h2v1.5h-2zM175 337h2v1.5h-2zM181 339h2v1.5h-2zM171 321h2v1.5h-2zM176 331.5h2v1.5h-2zM167 339h2v1.5h-2zM180 328.5h2v1.5h-2zM164 327.5h2v1.5h-2zM179 355.5h2v1.5h-2zM172 344h2v1.5h-2zM186.5 334.5h2v1.5h-2zM178.5 343.5h2v1.5h-2zM179 337.5h2v1.5h-2zM172 328.5h2v1.5h-2zM179 333.5h2v1.5h-2zM182.5 332.5h2v1.5h-2zM180 343.5h2v1.5h-2zM188.5 332.5h2v1.5h-2zM176.5 334h2v1.5h-2zM190 323.5h2v1.5h-2zM166.5 324h2v1.5h-2zM173 332.5h2v1.5h-2zM175.5 333h2v1.5h-2zM175 339.5h2v1.5h-2zM180 339.5h2v1.5h-2zM174 336.5h2v1.5h-2zM168 325h2v1.5h-2zM173.5 339h2v1.5h-2zM167.5 321h2v1.5h-2zM176 336h2v1.5h-2zM177.5 339.5h2v1.5h-2zM151 347.5h2v1.5h-2zM182 330.5h2v1.5h-2zM170 336h2v1.5h-2zM175 334.5h2v1.5h-2zM177.5 320.5h2v1.5h-2zM175.5 342.5h2v1.5h-2zM183 330.5h2v1.5h-2zM185 340.5h2v1.5h-2zM156.5 323.5h2v1.5h-2zM193 339h2v1.5h-2zM174 341h2v1.5h-2zM177 335h2v1.5h-2zM174.5 354h2v1.5h-2zM169.5 337h2v1.5h-2zM174.5 342.5h2v1.5h-2zM176 316.5h2v1.5h-2zM177 342h2v1.5h-2zM182.5 320h2v1.5h-2zM180 324.5h2v1.5h-2zM171 326.5h2v1.5h-2zM185.5 330h2v1.5h-2zM180.5 350.5h2v1.5h-2zM171.5 332.5h2v1.5h-2zM180 335h2v1.5h-2zM182.5 328.5h2v1.5h-2zM175 333h2v1.5h-2zM176 318.5h2v1.5h-2zM159 337h2v1.5h-2zM163 337h2v1.5h-2zM173 320.5h2v1.5h-2zM174.5 315h2v1.5h-2zM182 327h2v1.5h-2zM166 335h2v1.5h-2zM170 325h2v1.5h-2zM175 318h2v1.5h-2zM168 337.5h2v1.5h-2zM167.5 318.5h2v1.5h-2zM183 340.5h2v1.5h-2zM176 344.5h2v1.5h-2zM185.5 316h2v1.5h-2zM168.5 339.5h2v1.5h-2zM181.5 339.5h2v1.5h-2zM182 339.5h2v1.5h-2zM189.5 347.5h2v1.5h-2zM177 350h2v1.5h-2zM185 338h2v1.5h-2zM183 338h2v1.5h-2zM176 335h2v1.5h-2zM166.5 333h2v1.5h-2zM170.5 346.5h2v1.5h-2zM171 343.5h2v1.5h-2zM173.5 337.5h2v1.5h-2zM180 351h2v1.5h-2zM182.5 350h2v1.5h-2zM168 348h2v1.5h-2zM178.5 338h2v1.5h-2zM179.5 339.5h2v1.5h-2zM180.5 354h2v1.5h-2zM167.5 349.5h2v1.5h-2zM166.5 343.5h2v1.5h-2zM180 332h2v1.5h-2zM174 334.5h2v1.5h-2zM174.5 338h2v1.5h-2zM186 336.5h2v1.5h-2zM170.5 347h2v1.5h-2zM165 344.5h2v1.5h-2zM170.5 320.5h2v1.5h-2zM185.5 339h2v1.5h-2zM174 342h2v1.5h-2zM179.5 327h2v1.5h-2zM179 323.5h2v1.5h-2zM190 336h2v1.5h-2zM170.5 335h2v1.5h-2zM178.5 350h2v1.5h-2zM177.5 337h2v1.5h-2zM174 345.5h2v1.5h-2zM177.5 349.5h2v1.5h-2zM164 348h2v1.5h-2zM178.5 332h2v1.5h-2zM166.5 337.5h2v1.5h-2zM182.5 332h2v1.5h-2zM175 328h2v1.5h-2zM164 345.5h2v1.5h-2zM172 324h2v1.5h-2zM180.5 325h2v1.5h-2zM169.5 325.5h2v1.5h-2zM160.5 336h2v1.5h-2zM173.5 334.5h2v1.5h-2zM175 340h2v1.5h-2zM174.5 340.5h2v1.5h-2zM177 306.5h2v1.5h-2zM184 325.5h2v1.5h-2zM182.5 334h2v1.5h-2zM183.5 341h2v1.5h-2zM174 341.5h2v1.5h-2zM188 323.5h2v1.5h-2zM164.5 330h2v1.5h-2zM165.5 319.5h2v1.5h-2zM167.5 341h2v1.5h-2zM174 333.5h2v1.5h-2zM176.5 339h2v1.5h-2zM168.5 334h2v1.5h-2zM175.5 326h2v1.5h-2zM181.5 319.5h2v1.5h-2zM178.5 350h2v1.5h-2zM178 319h2v1.5h-2zM182.5 322h2v1.5h-2zM185 345.5h2v1.5h-2zM169.5 324.5h2v1.5h-2zM174 339h2v1.5h-2zM164 347h2v1.5h-2zM169.5 346.5h2v1.5h-2zM169 341.5h2v1.5h-2zM172 338h2v1.5h-2zM163 346h2v1.5h-2zM173.5 338.5h2v1.5h-2zM175 341h2v1.5h-2zM166.5 333.5h2v1.5h-2zM171 332h2v1.5h-2zM180 323h2v1.5h-2zM179.5 348.5h2v1.5h-2zM168.5 337h2v1.5h-2zM171.5 352.5h2v1.5h-2zM173.5 320.5h2v1.5h-2zM179 321h2v1.5h-2zM181 331.5h2v1.5h-2zM171.5 326.5h2v1.5h-2zM172 333h2v1.5h-2zM176.5 329h2v1.5h-2zM171 330.5h2v1.5h-2zM177 335h2v1.5h-2zM165 348.5h2v1.5h-2zM169.5 341h2v1.5h-2zM186.5 327h2v1.5h-2zM175.5 334h2v1.5h-2zM167.5 333h2v1.5h-2zM182 350h2v1.5h-2zM175.5 316h2v1.5h-2zM175 327.5h2v1.5h-2zM180 363h2v1.5h-2zM168.5 361.5h2v1.5h-2zM188 369.5h2v1.5h-2zM167.5 373.5h2v1.5h-2zM176 364.5h2v1.5h-2zM186 369h2v1.5h-2zM196.5 348.5h2v1.5h-2zM172 368h2v1.5h-2zM189 342.5h2v1.5h-2zM166.5 354.5h2v1.5h-2zM173 356.5h2v1.5h-2zM189 340h2v1.5h-2zM161 348h2v1.5h-2zM190.5 344.5h2v1.5h-2zM164 372h2v1.5h-2zM184.5 384h2v1.5h-2zM177.5 362.5h2v1.5h-2zM182.5 379.5h2v1.5h-2zM180.5 342h2v1.5h-2zM161 359.5h2v1.5h-2zM176.5 352.5h2v1.5h-2zM184.5 369.5h2v1.5h-2zM174 347h2v1.5h-2zM185 356h2v1.5h-2zM161 355.5h2v1.5h-2zM168.5 351h2v1.5h-2zM191 341h2v1.5h-2zM178.5 368h2v1.5h-2zM177.5 342.5h2v1.5h-2zM179.5 360h2v1.5h-2zM190 336h2v1.5h-2zM168.5 334.5h2v1.5h-2zM185.5 341h2v1.5h-2zM176.5 343h2v1.5h-2zM175.5 370.5h2v1.5h-2zM165.5 344h2v1.5h-2zM192.5 348.5h2v1.5h-2zM180.5 347h2v1.5h-2zM171 362.5h2v1.5h-2zM174 371h2v1.5h-2zM168.5 347.5h2v1.5h-2zM186.5 352.5h2v1.5h-2zM160.5 374.5h2v1.5h-2zM170 377h2v1.5h-2zM174 359h2v1.5h-2zM177.5 356h2v1.5h-2zM166.5 322.5h2v1.5h-2zM166 348h2v1.5h-2zM185 375.5h2v1.5h-2zM194 350.5h2v1.5h-2zM166.5 328.5h2v1.5h-2zM172 353h2v1.5h-2zM171 348.5h2v1.5h-2zM167.5 366.5h2v1.5h-2zM184 356h2v1.5h-2zM149 360h2v1.5h-2zM159.5 381h2v1.5h-2zM171 352h2v1.5h-2zM178 345h2v1.5h-2zM179.5 358.5h2v1.5h-2zM182 362h2v1.5h-2zM182 340h2v1.5h-2zM172.5 366.5h2v1.5h-2zM173.5 333h2v1.5h-2zM180.5 343h2v1.5h-2zM188 365h2v1.5h-2zM187.5 377.5h2v1.5h-2zM172.5 353h2v1.5h-2zM171 371h2v1.5h-2zM191 354.5h2v1.5h-2zM184 343.5h2v1.5h-2zM192.5 351.5h2v1.5h-2zM176.5 367h2v1.5h-2zM173 366h2v1.5h-2zM183 380.5h2v1.5h-2zM159.5 363.5h2v1.5h-2zM185 377.5h2v1.5h-2zM171 379.5h2v1.5h-2zM170 342.5h2v1.5h-2zM176.5 341.5h2v1.5h-2zM163 354.5h2v1.5h-2zM170 374h2v1.5h-2zM192 377h2v1.5h-2zM163 348h2v1.5h-2zM177.5 352h2v1.5h-2zM165 343h2v1.5h-2zM189 348.5h2v1.5h-2zM154 357.5h2v1.5h-2zM145.5 366.5h2v1.5h-2zM147 367.5h2v1.5h-2zM142 358h2v1.5h-2zM157.5 362h2v1.5h-2zM152 369h2v1.5h-2zM165.5 364.5h2v1.5h-2zM163 353h2v1.5h-2zM146.5 364.5h2v1.5h-2zM144.5 359.5h2v1.5h-2zM144.5 360.5h2v1.5h-2zM158.5 361.5h2v1.5h-2zM169.5 353h2v1.5h-2zM150.5 357.5h2v1.5h-2zM149.5 355.5h2v1.5h-2zM151 357h2v1.5h-2zM147.5 364.5h2v1.5h-2zM142 367h2v1.5h-2zM148.5 364.5h2v1.5h-2zM144.5 366.5h2v1.5h-2zM151.5 361.5h2v1.5h-2zM150 360h2v1.5h-2zM149.5 357h2v1.5h-2zM155 366.5h2v1.5h-2zM144 362h2v1.5h-2zM158.5 364.5h2v1.5h-2zM103 381.5h2v1.5h-2zM87 371h2v1.5h-2zM131 342.5h2v1.5h-2zM115 347h2v1.5h-2zM93 336h2v1.5h-2zM104 376.5h2v1.5h-2zM117.5 377h2v1.5h-2zM111.5 346.5h2v1.5h-2zM107.5 380.5h2v1.5h-2zM117 355h2v1.5h-2zM114.5 334.5h2v1.5h-2zM114 355h2v1.5h-2zM87 374h2v1.5h-2zM87 376.5h2v1.5h-2zM121.5 334.5h2v1.5h-2zM90 358h2v1.5h-2zM95 343h2v1.5h-2zM124 345h2v1.5h-2zM95 357.5h2v1.5h-2zM115.5 362h2v1.5h-2z"/>
<path fill="#000" d="M413.5 328h1.1v1.1h-1.1zM394 318h1.1v1.1h-1.1zM399 337h1.1v1.1h-1.1zM407.5 322h1.1v1.1h-1.1zM401 331h1.1v1.1h-1.1zM398.5 329.5h1.1v1.1h-1.1zM396 315h1.1v1.1h-1.1zM391 337.5h1.1v1.1h-1.1zM409.5 324.5h1.1v1.1h-1.1zM401 308h1.1v1.1h-1.1zM391 316.5h1.1v1.1h-1.1zM405 325h1.1v1.1h-1.1zM408 323h1.1v1.1h-1.1zM403 324h1.1v1.1h-1.1zM404.5 324.5h1.1v1.1h-1.1zM393 321.5h1.1v1.1h-1.1zM405 319.5h1.1v1.1h-1.1zM400.5 335h1.1v1.1h-1.1zM399 309h1.1v1.1h-1.1zM397 307.5h1.1v1.1h-1.1zM403 334h1.1v1.1h-1.1zM419 321h1.1v1.1h-1.1zM400.5 338h1.1v1.1h-1.1zM402.5 331h1.1v1.1h-1.1zM401.5 333.5h1.1v1.1h-1.1zM401.5 327.5h1.1v1.1h-1.1zM412.5 310h1.1v1.1h-1.1zM408 315h1.1v1.1h-1.1zM415 326h1.1v1.1h-1.1zM413 321.5h1.1v1.1h-1.1zM392.5 335.5h1.1v1.1h-1.1zM409.5 333.5h1.1v1.1h-1.1zM402 324.5h1.1v1.1h-1.1zM393 345h1.1v1.1h-1.1zM394 325h1.1v1.1h-1.1zM401.5 325.5h1.1v1.1h-1.1zM410.5 326.5h1.1v1.1h-1.1zM408 328.5h1.1v1.1h-1.1zM404 322.5h1.1v1.1h-1.1zM397.5 334h1.1v1.1h-1.1zM402 313h1.1v1.1h-1.1zM404.5 327h1.1v1.1h-1.1zM406 331h1.1v1.1h-1.1zM400 327.5h1.1v1.1h-1.1zM391 330.5h1.1v1.1h-1.1zM397 329h1.1v1.1h-1.1zM405.5 317h1.1v1.1h-1.1zM402 340h1.1v1.1h-1.1zM406.5 325h1.1v1.1h-1.1zM406.5 322h1.1v1.1h-1.1zM397.5 327.5h1.1v1.1h-1.1zM405 327.5h1.1v1.1h-1.1zM409 318.5h1.1v1.1h-1.1zM397 318.5h1.1v1.1h-1.1zM398 335h1.1v1.1h-1.1zM408.5 318h1.1v1.1h-1.1zM400 323.5h1.1v1.1h-1.1zM403 311h1.1v1.1h-1.1zM401.5 329.5h1.1v1.1h-1.1zM402 332h1.1v1.1h-1.1zM401.5 330.5h1.1v1.1h-1.1zM409.5 325h1.1v1.1h-1.1zM404 311h1.1v1.1h-1.1zM403 338h1.1v1.1h-1.1zM405 328.5h1.1v1.1h-1.1zM400.5 323h1.1v1.1h-1.1zM397 333.5h1.1v1.1h-1.1zM395 331h1.1v1.1h-1.1zM414 323h1.1v1.1h-1.1zM399 323h1.1v1.1h-1.1zM397 328.5h1.1v1.1h-1.1zM407 320.5h1.1v1.1h-1.1zM407.5 327h1.1v1.1h-1.1zM407 321.5h1.1v1.1h-1.1zM407.5 326h1.1v1.1h-1.1zM396.5 328h1.1v1.1h-1.1zM415.5 324h1.1v1.1h-1.1zM410.5 328h1.1v1.1h-1.1zM401.5 327.5h1.1v1.1h-1.1zM401 334.5h1.1v1.1h-1.1zM388 332.5h1.1v1.1h-1.1zM397 350h1.1v1.1h-1.1zM408.5 332h1.1v1.1h-1.1zM409 332h1.1v1.1h-1.1zM400.5 316h1.1v1.1h-1.1zM397.5 325h1.1v1.1h-1.1zM402.5 326h1.1v1.1h-1.1zM401 330.5h1.1v1.1h-1.1zM402 329h1.1v1.1h-1.1zM407 327.5h1.1v1.1h-1.1zM387 325h1.1v1.1h-1.1zM402.5 341h1.1v1.1h-1.1zM392.5 333h1.1v1.1h-1.1zM406.5 329h1.1v1.1h-1.1zM397 329h1.1v1.1h-1.1zM392 331.5h1.1v1.1h-1.1zM405.5 324.5h1.1v1.1h-1.1zM407 336.5h1.1v1.1h-1.1zM398 325h1.1v1.1h-1.1zM412 325.5h1.1v1.1h-1.1zM399.5 336.5h1.1v1.1h-1.1zM399.5 317.5h1.1v1.1h-1.1zM402.5 319h1.1v1.1h-1.1zM401.5 318h1.1v1.1h-1.1zM398.5 331h1.1v1.1h-1.1zM412.5 308.5h1.1v1.1h-1.1zM400.5 323.5h1.1v1.1h-1.1zM406 323.5h1.1v1.1h-1.1zM399 324h1.1v1.1h-1.1zM398 314h1.1v1.1h-1.1zM398.5 339.5h1.1v1.1h-1.1zM395 322.5h1.1v1.1h-1.1zM409 317h1.1v1.1h-1.1zM394 337h1.1v1.1h-1.1zM402.5 321h1.1v1.1h-1.1zM404.5 320h1.1v1.1h-1.1zM390.5 323.5h1.1v1.1h-1.1zM405.5 320.5h1.1v1.1h-1.1zM396 329.5h1.1v1.1h-1.1zM398.5 335.5h1.1v1.1h-1.1zM395 327.5h1.1v1.1h-1.1zM406.5 324.5h1.1v1.1h-1.1zM392.5 314.5h1.1v1.1h-1.1zM395 329.5h1.1v1.1h-1.1zM403.5 330.5h1.1v1.1h-1.1zM415.5 326.5h1.1v1.1h-1.1zM408.5 309h1.1v1.1h-1.1zM409.5 314h1.1v1.1h-1.1zM395.5 315h1.1v1.1h-1.1zM410 320h1.1v1.1h-1.1zM400.5 334.5h1.1v1.1h-1.1zM400.5 313.5h1.1v1.1h-1.1zM419.5 320h1.1v1.1h-1.1zM412 315h1.1v1.1h-1.1zM404.5 331.5h1.1v1.1h-1.1zM396 322.5h1.1v1.1h-1.1zM404 309.5h1.1v1.1h-1.1zM409 317h1.1v1.1h-1.1zM404.5 321h1.1v1.1h-1.1zM411.5 316h1.1v1.1h-1.1zM400 318.5h1.1v1.1h-1.1zM407 326h1.1v1.1h-1.1zM409.5 324h1.1v1.1h-1.1zM402.5 321.5h1.1v1.1h-1.1zM400 329.5h1.1v1.1h-1.1zM412 321.5h1.1v1.1h-1.1zM404.5 333.5h1.1v1.1h-1.1zM406 336h1.1v1.1h-1.1zM398.5 340.5h1.1v1.1h-1.1zM405.5 320h1.1v1.1h-1.1zM406 328h1.1v1.1h-1.1zM406 321.5h1.1v1.1h-1.1zM404 327.5h1.1v1.1h-1.1zM405 328h1.1v1.1h-1.1zM402 324h1.1v1.1h-1.1zM405 322.5h1.1v1.1h-1.1zM401 331.5h1.1v1.1h-1.1zM400.5 322.5h1.1v1.1h-1.1zM413 315h1.1v1.1h-1.1zM386.5 323.5h1.1v1.1h-1.1zM392.5 319.5h1.1v1.1h-1.1zM403 330h1.1v1.1h-1.1zM400 334h1.1v1.1h-1.1zM418.5 315.5h1.1v1.1h-1.1zM408.5 316.5h1.1v1.1h-1.1zM412 331h1.1v1.1h-1.1zM398.5 324h1.1v1.1h-1.1zM400.5 320.5h1.1v1.1h-1.1zM393.5 325.5h1.1v1.1h-1.1zM399 331.5h1.1v1.1h-1.1zM407.5 323h1.1v1.1h-1.1zM398 338h1.1v1.1h-1.1zM408 328.5h1.1v1.1h-1.1zM404.5 325.5h1.1v1.1h-1.1zM394.5 315h1.1v1.1h-1.1zM396.5 320.5h1.1v1.1h-1.1zM400.5 337h1.1v1.1h-1.1zM407 332h1.1v1.1h-1.1zM397.5 332h1.1v1.1h-1.1zM397.5 332.5h1.1v1.1h-1.1zM401 326.5h1.1v1.1h-1.1zM402.5 325h1.1v1.1h-1.1zM403.5 317h1.1v1.1h-1.1zM407 328h1.1v1.1h-1.1zM391.5 333.5h1.1v1.1h-1.1zM400.5 317h1.1v1.1h-1.1zM406 314h1.1v1.1h-1.1zM412.5 323h1.1v1.1h-1.1zM407 317.5h1.1v1.1h-1.1zM402 337h1.1v1.1h-1.1zM404 324.5h1.1v1.1h-1.1zM397.5 319h1.1v1.1h-1.1zM407 319h1.1v1.1h-1.1zM395.5 322h1.1v1.1h-1.1zM396.5 322h1.1v1.1h-1.1zM398 331.5h1.1v1.1h-1.1zM403.5 318.5h1.1v1.1h-1.1zM409 313.5h1.1v1.1h-1.1zM402 307.5h1.1v1.1h-1.1zM412 324.5h1.1v1.1h-1.1zM409.5 323h1.1v1.1h-1.1zM411.5 304.5h1.1v1.1h-1.1zM407.5 331h1.1v1.1h-1.1zM405.5 320h1.1v1.1h-1.1zM403 337.5h1.1v1.1h-1.1zM409 323h1.1v1.1h-1.1zM404 319.5h1.1v1.1h-1.1zM400 331h1.1v1.1h-1.1zM407.5 330.5h1.1v1.1h-1.1zM409 312.5h1.1v1.1h-1.1zM402 327h1.1v1.1h-1.1zM398 331h1.1v1.1h-1.1zM402.5 322.5h1.1v1.1h-1.1zM391.5 321.5h1.1v1.1h-1.1zM409.5 317h1.1v1.1h-1.1zM401 333h1.1v1.1h-1.1zM409 329h1.1v1.1h-1.1zM407 325h1.1v1.1h-1.1zM401.5 339h1.1v1.1h-1.1zM403.5 329.5h1.1v1.1h-1.1zM390 338h1.1v1.1h-1.1zM402 331h1.1v1.1h-1.1zM395.5 330.5h1.1v1.1h-1.1zM408 322.5h1.1v1.1h-1.1zM401 331h1.1v1.1h-1.1zM406 320.5h1.1v1.1h-1.1zM400 326h1.1v1.1h-1.1zM396.5 308h1.1v1.1h-1.1zM397 318.5h1.1v1.1h-1.1zM410.5 311h1.1v1.1h-1.1zM405.5 337.5h1.1v1.1h-1.1zM402 310h1.1v1.1h-1.1zM404 325.5h1.1v1.1h-1.1zM397.5 334h1.1v1.1h-1.1zM403.5 321.5h1.1v1.1h-1.1zM400 324.5h1.1v1.1h-1.1zM416.5 320h1.1v1.1h-1.1zM396.5 312.5h1.1v1.1h-1.1zM403 323.5h1.1v1.1h-1.1zM395 338h1.1v1.1h-1.1zM394 334.5h1.1v1.1h-1.1zM392.5 329.5h1.1v1.1h-1.1zM412 320h1.1v1.1h-1.1zM407 330.5h1.1v1.1h-1.1zM410.5 315h1.1v1.1h-1.1zM408 324.5h1.1v1.1h-1.1zM401 334h1.1v1.1h-1.1zM395.5 319h1.1v1.1h-1.1zM397 325.5h1.1v1.1h-1.1zM393.5 335h1.1v1.1h-1.1zM400.5 341.5h1.1v1.1h-1.1zM399 318.5h1.1v1.1h-1.1zM399 333.5h1.1v1.1h-1.1zM412 334h1.1v1.1h-1.1zM393.5 334h1.1v1.1h-1.1zM403 325h1.1v1.1h-1.1zM397 327h1.1v1.1h-1.1zM400 316.5h1.1v1.1h-1.1zM400.5 336.5h1.1v1.1h-1.1zM410 310.5h1.1v1.1h-1.1zM398.5 326h1.1v1.1h-1.1zM403 321h1.1v1.1h-1.1zM414 322.5h1.1v1.1h-1.1zM414 316h1.1v1.1h-1.1zM406 333h1.1v1.1h-1.1zM406.5 309h1.1v1.1h-1.1zM414.5 303.5h1.1v1.1h-1.1zM408 321.5h1.1v1.1h-1.1zM401.5 314h1.1v1.1h-1.1zM399 331h1.1v1.1h-1.1zM398.5 331h1.1v1.1h-1.1zM404.5 329.5h1.1v1.1h-1.1zM402.5 316h1.1v1.1h-1.1zM412.5 314h1.1v1.1h-1.1zM400 322h1.1v1.1h-1.1zM410 322h1.1v1.1h-1.1zM405.5 323h1.1v1.1h-1.1zM404.5 329h1.1v1.1h-1.1zM409.5 317.5h1.1v1.1h-1.1zM403.5 338.5h1.1v1.1h-1.1zM403 326.5h1.1v1.1h-1.1zM392.5 332.5h1.1v1.1h-1.1zM401.5 307h1.1v1.1h-1.1zM395 321h1.1v1.1h-1.1zM403.5 331.5h1.1v1.1h-1.1zM402 320.5h1.1v1.1h-1.1zM401.5 320.5h1.1v1.1h-1.1zM396.5 318.5h1.1v1.1h-1.1zM399 324.5h1.1v1.1h-1.1zM410.5 326.5h1.1v1.1h-1.1zM408 322h1.1v1.1h-1.1zM400.5 334.5h1.1v1.1h-1.1zM410.5 314h1.1v1.1h-1.1zM401 329.5h1.1v1.1h-1.1zM392 330.5h1.1v1.1h-1.1zM400.5 327h1.1v1.1h-1.1zM401 314h1.1v1.1h-1.1zM396.5 327h1.1v1.1h-1.1zM398 328.5h1.1v1.1h-1.1zM404 312h1.1v1.1h-1.1zM397 340.5h1.1v1.1h-1.1zM401.5 324.5h1.1v1.1h-1.1zM404.5 313.5h1.1v1.1h-1.1zM396 336.5h1.1v1.1h-1.1zM399 317.5h1.1v1.1h-1.1zM395.5 330.5h1.1v1.1h-1.1zM405.5 311h1.1v1.1h-1.1zM411.5 329h1.1v1.1h-1.1zM406 325.5h1.1v1.1h-1.1zM390.5 329.5h1.1v1.1h-1.1zM407.5 316h1.1v1.1h-1.1zM396 318.5h1.1v1.1h-1.1zM403 335h1.1v1.1h-1.1zM394.5 326h1.1v1.1h-1.1zM414 328h1.1v1.1h-1.1zM404 316h1.1v1.1h-1.1zM399 326.5h1.1v1.1h-1.1zM403.5 315.5h1.1v1.1h-1.1zM411.5 323.5h1.1v1.1h-1.1zM391 314.5h1.1v1.1h-1.1zM407.5 328h1.1v1.1h-1.1zM402 315h1.1v1.1h-1.1zM390 333h1.1v1.1h-1.1zM403 325h1.1v1.1h-1.1zM405.5 322.5h1.1v1.1h-1.1zM399.5 325.5h1.1v1.1h-1.1zM394.5 341h1.1v1.1h-1.1zM396.5 319h1.1v1.1h-1.1zM402 319h1.1v1.1h-1.1zM407 330.5h1.1v1.1h-1.1zM403 329h1.1v1.1h-1.1zM407 332.5h1.1v1.1h-1.1zM395 330.5h1.1v1.1h-1.1zM393.5 325h1.1v1.1h-1.1zM410 320.5h1.1v1.1h-1.1zM412.5 323.5h1.1v1.1h-1.1zM399.5 331.5h1.1v1.1h-1.1zM402.5 326.5h1.1v1.1h-1.1zM402 318.5h1.1v1.1h-1.1zM406.5 321h1.1v1.1h-1.1zM405 335.5h1.1v1.1h-1.1zM403.5 318h1.1v1.1h-1.1zM401 335.5h1.1v1.1h-1.1zM389 320h1.1v1.1h-1.1zM411 313.5h1.1v1.1h-1.1zM393.5 317h1.1v1.1h-1.1zM395.5 335h1.1v1.1h-1.1zM390 327h1.1v1.1h-1.1zM397 325.5h1.1v1.1h-1.1zM394 338h1.1v1.1h-1.1zM397.5 330h1.1v1.1h-1.1zM394.5 317.5h1.1v1.1h-1.1zM404 316h1.1v1.1h-1.1zM402.5 311.5h1.1v1.1h-1.1zM392 335h1.1v1.1h-1.1zM407.5 321h1.1v1.1h-1.1zM395.5 320.5h1.1v1.1h-1.1zM414.5 318.5h1.1v1.1h-1.1zM401.5 329.5h1.1v1.1h-1.1zM402.5 331.5h1.1v1.1h-1.1zM400 342.5h1.1v1.1h-1.1zM405 318h1.1v1.1h-1.1zM418.5 324h1.1v1.1h-1.1zM403 331.5h1.1v1.1h-1.1zM402.5 327h1.1v1.1h-1.1zM399 306h1.1v1.1h-1.1zM397.5 316.5h1.1v1.1h-1.1zM407 337h1.1v1.1h-1.1zM408.5 315.5h1.1v1.1h-1.1zM396.5 329h1.1v1.1h-1.1zM400 319.5h1.1v1.1h-1.1zM399 341.5h1.1v1.1h-1.1zM397 334h1.1v1.1h-1.1zM401.5 319h1.1v1.1h-1.1zM396.5 318.5h1.1v1.1h-1.1zM395.5 333.5h1.1v1.1h-1.1zM417.5 326.5h1.1v1.1h-1.1zM387 329.5h1.1v1.1h-1.1zM399 333h1.1v1.1h-1.1zM404 325.5h1.1v1.1h-1.1zM396 329h1.1v1.1h-1.1zM393 331h1.1v1.1h-1.1zM402.5 314h1.1v1.1h-1.1zM404 318.5h1.1v1.1h-1.1zM407.5 325.5h1.1v1.1h-1.1zM389.5 331h1.1v1.1h-1.1zM400 337.5h1.1v1.1h-1.1zM405.5 313h1.1v1.1h-1.1zM412.5 323.5h1.1v1.1h-1.1zM407 341.5h1.1v1.1h-1.1zM394.5 333h1.1v1.1h-1.1zM402 331.5h1.1v1.1h-1.1zM400.5 323h1.1v1.1h-1.1zM404 321.5h1.1v1.1h-1.1zM406 327h1.1v1.1h-1.1zM411 314.5h1.1v1.1h-1.1zM397 318.5h1.1v1.1h-1.1zM407 312.5h1.1v1.1h-1.1zM399.5 316.5h1.1v1.1h-1.1zM397 335.5h1.1v1.1h-1.1zM397 333.5h1.1v1.1h-1.1zM397.5 335h1.1v1.1h-1.1zM405.5 325h1.1v1.1h-1.1zM404.5 326.5h1.1v1.1h-1.1zM385 323.5h1.1v1.1h-1.1zM401.5 324h1.1v1.1h-1.1zM405.5 329h1.1v1.1h-1.1zM405 318.5h1.1v1.1h-1.1zM406.5 310h1.1v1.1h-1.1zM400 330h1.1v1.1h-1.1zM404.5 315h1.1v1.1h-1.1zM389.5 336h1.1v1.1h-1.1zM400 323h1.1v1.1h-1.1zM395 323h1.1v1.1h-1.1zM390.5 325.5h1.1v1.1h-1.1zM391 326h1.1v1.1h-1.1zM398.5 331h1.1v1.1h-1.1zM403.5 329h1.1v1.1h-1.1zM388 338h1.1v1.1h-1.1zM399 328h1.1v1.1h-1.1zM404 324h1.1v1.1h-1.1zM397 331.5h1.1v1.1h-1.1zM406.5 319.5h1.1v1.1h-1.1zM398 321h1.1v1.1h-1.1zM405 321.5h1.1v1.1h-1.1zM403 320.5h1.1v1.1h-1.1zM410 308h1.1v1.1h-1.1zM410.5 311.5h1.1v1.1h-1.1zM394 332h1.1v1.1h-1.1zM409 321h1.1v1.1h-1.1zM412 317h1.1v1.1h-1.1zM389.5 332h1.1v1.1h-1.1zM411 323h1.1v1.1h-1.1zM405 332h1.1v1.1h-1.1zM396 332.5h1.1v1.1h-1.1zM410.5 321h1.1v1.1h-1.1zM405 326h1.1v1.1h-1.1zM398 328.5h1.1v1.1h-1.1zM399.5 311.5h1.1v1.1h-1.1zM400.5 338.5h1.1v1.1h-1.1zM402 316.5h1.1v1.1h-1.1zM401.5 330h1.1v1.1h-1.1zM400.5 322h1.1v1.1h-1.1zM396.5 321.5h1.1v1.1h-1.1zM402 334h1.1v1.1h-1.1zM405.5 316.5h1.1v1.1h-1.1zM408.5 318h1.1v1.1h-1.1zM399 307.5h1.1v1.1h-1.1zM397 331h1.1v1.1h-1.1zM393 325h1.1v1.1h-1.1zM411 313.5h1.1v1.1h-1.1zM408.5 328.5h1.1v1.1h-1.1zM393.5 327h1.1v1.1h-1.1zM389.5 310.5h1.1v1.1h-1.1zM401.5 329h1.1v1.1h-1.1zM396 319h1.1v1.1h-1.1zM405 316.5h1.1v1.1h-1.1zM415 311.5h1.1v1.1h-1.1zM401 312h1.1v1.1h-1.1zM394 323h1.1v1.1h-1.1zM407.5 320.5h1.1v1.1h-1.1zM408 328h1.1v1.1h-1.1zM405.5 332.5h1.1v1.1h-1.1zM403 319h1.1v1.1h-1.1zM400.5 338.5h1.1v1.1h-1.1zM404 322h1.1v1.1h-1.1zM391 339.5h1.1v1.1h-1.1zM403 326h1.1v1.1h-1.1zM402 325.5h1.1v1.1h-1.1zM405 305.5h1.1v1.1h-1.1zM387 340.5h1.1v1.1h-1.1zM403.5 312.5h1.1v1.1h-1.1zM404 328.5h1.1v1.1h-1.1zM397 313.5h1.1v1.1h-1.1zM403.5 309h1.1v1.1h-1.1zM396 315h1.1v1.1h-1.1zM402.5 313.5h1.1v1.1h-1.1zM390 321h1.1v1.1h-1.1zM398 328.5h1.1v1.1h-1.1zM402 328h1.1v1.1h-1.1zM399 329.5h1.1v1.1h-1.1zM406 331h1.1v1.1h-1.1zM404 329h1.1v1.1h-1.1zM391.5 333h1.1v1.1h-1.1zM398 327h1.1v1.1h-1.1zM407 332.5h1.1v1.1h-1.1zM403.5 323.5h1.1v1.1h-1.1zM408 307h1.1v1.1h-1.1zM399 319.5h1.1v1.1h-1.1zM403 334h1.1v1.1h-1.1zM405.5 321h1.1v1.1h-1.1zM393 325h1.1v1.1h-1.1zM402 333.5h1.1v1.1h-1.1zM391.5 330.5h1.1v1.1h-1.1zM401.5 325.5h1.1v1.1h-1.1zM408.5 322h1.1v1.1h-1.1zM404 335h1.1v1.1h-1.1zM402.5 327h1.1v1.1h-1.1zM401 326.5h1.1v1.1h-1.1zM406.5 324.5h1.1v1.1h-1.1zM396 323.5h1.1v1.1h-1.1zM415 317.5h1.1v1.1h-1.1zM405.5 337h1.1v1.1h-1.1zM406 323.5h1.1v1.1h-1.1zM406.5 332.5h1.1v1.1h-1.1zM398.5 322h1.1v1.1h-1.1zM408.5 319.5h1.1v1.1h-1.1zM406 317.5h1.1v1.1h-1.1zM399.5 326.5h1.1v1.1h-1.1zM401 333.5h1.1v1.1h-1.1zM400 323h1.1v1.1h-1.1zM396 325.5h1.1v1.1h-1.1zM389 320h1.1v1.1h-1.1zM400.5 332h1.1v1.1h-1.1zM404 330h1.1v1.1h-1.1zM410 322.5h1.1v1.1h-1.1zM404.5 332.5h1.1v1.1h-1.1zM413 325h1.1v1.1h-1.1zM401.5 324h1.1v1.1h-1.1zM402 312.5h1.1v1.1h-1.1zM403 323.5h1.1v1.1h-1.1zM400 318.5h1.1v1.1h-1.1zM409 324.5h1.1v1.1h-1.1zM396.5 334h1.1v1.1h-1.1zM403 321.5h1.1v1.1h-1.1zM403.5 311h1.1v1.1h-1.1zM401 333.5h1.1v1.1h-1.1zM418.5 323.5h1.1v1.1h-1.1zM405.5 330h1.1v1.1h-1.1zM400.5 316h1.1v1.1h-1.1zM410.5 318h1.1v1.1h-1.1zM403 331h1.1v1.1h-1.1zM406 331h1.1v1.1h-1.1zM398.5 333h1.1v1.1h-1.1zM391 314.5h1.1v1.1h-1.1zM415 331.5h1.1v1.1h-1.1zM405 318.5h1.1v1.1h-1.1zM400 320.5h1.1v1.1h-1.1zM395.5 333.5h1.1v1.1h-1.1zM398.5 323h1.1v1.1h-1.1zM399.5 322h1.1v1.1h-1.1zM401 326h1.1v1.1h-1.1zM389 330h1.1v1.1h-1.1zM398 326.5h1.1v1.1h-1.1zM411 317.5h1.1v1.1h-1.1zM406.5 315h1.1v1.1h-1.1zM412.5 316h1.1v1.1h-1.1zM405 321h1.1v1.1h-1.1zM398.5 324h1.1v1.1h-1.1zM410.5 325h1.1v1.1h-1.1zM399.5 339.5h1.1v1.1h-1.1zM403.5 314.5h1.1v1.1h-1.1zM404 325h1.1v1.1h-1.1zM403.5 327h1.1v1.1h-1.1zM392 321.5h1.1v1.1h-1.1zM410 317.5h1.1v1.1h-1.1zM397.5 324h1.1v1.1h-1.1zM405 322h1.1v1.1h-1.1zM398 324h1.1v1.1h-1.1zM402.5 321.5h1.1v1.1h-1.1zM407 328.5h1.1v1.1h-1.1zM391 319h1.1v1.1h-1.1zM392.5 333.5h1.1v1.1h-1.1zM407.5 328h1.1v1.1h-1.1zM396.5 331.5h1.1v1.1h-1.1zM397 316.5h1.1v1.1h-1.1zM410 310h1.1v1.1h-1.1zM406.5 320h1.1v1.1h-1.1zM403 319h1.1v1.1h-1.1zM408.5 315h1.1v1.1h-1.1zM399.5 335h1.1v1.1h-1.1zM407.5 315h1.1v1.1h-1.1zM407 328.5h1.1v1.1h-1.1zM407 332.5h1.1v1.1h-1.1zM401.5 336h1.1v1.1h-1.1zM409.5 336.5h1.1v1.1h-1.1zM411.5 328.5h1.1v1.1h-1.1zM414 321h1.1v1.1h-1.1zM400 315h1.1v1.1h-1.1zM400 324.5h1.1v1.1h-1.1zM409.5 318.5h1.1v1.1h-1.1zM403 337.5h1.1v1.1h-1.1zM416 324.5h1.1v1.1h-1.1zM405 324h1.1v1.1h-1.1zM403 314.5h1.1v1.1h-1.1zM395.5 319h1.1v1.1h-1.1zM406.5 320.5h1.1v1.1h-1.1zM400 328h1.1v1.1h-1.1zM411 328h1.1v1.1h-1.1zM407 326h1.1v1.1h-1.1zM407 323.5h1.1v1.1h-1.1zM404.5 330.5h1.1v1.1h-1.1zM396.5 319h1.1v1.1h-1.1zM403.5 319.5h1.1v1.1h-1.1zM399.5 321h1.1v1.1h-1.1zM404 325h1.1v1.1h-1.1zM400.5 329.5h1.1v1.1h-1.1zM410.5 318h1.1v1.1h-1.1zM410.5 308.5h1.1v1.1h-1.1zM402.5 325.5h1.1v1.1h-1.1zM404.5 315h1.1v1.1h-1.1zM402 328.5h1.1v1.1h-1.1zM406 306.5h1.1v1.1h-1.1zM420 331h1.1v1.1h-1.1zM403 316.5h1.1v1.1h-1.1zM386.5 344.5h1.1v1.1h-1.1zM409.5 326.5h1.1v1.1h-1.1zM403 334.5h1.1v1.1h-1.1zM399 334h1.1v1.1h-1.1zM397 321.5h1.1v1.1h-1.1zM407.5 318h1.1v1.1h-1.1zM398 320.5h1.1v1.1h-1.1zM409.5 313.5h1.1v1.1h-1.1zM404.5 332h1.1v1.1h-1.1zM397 319.5h1.1v1.1h-1.1zM403.5 320.5h1.1v1.1h-1.1zM408 307.5h1.1v1.1h-1.1zM399.5 327.5h1.1v1.1h-1.1zM394 316.5h1.1v1.1h-1.1zM403.5 341.5h1.1v1.1h-1.1zM418 316.5h1.1v1.1h-1.1zM399.5 324h1.1v1.1h-1.1zM399.5 328.5h1.1v1.1h-1.1zM397 320.5h1.1v1.1h-1.1zM411.5 316.5h1.1v1.1h-1.1zM402 324.5h1.1v1.1h-1.1zM403.5 325h1.1v1.1h-1.1zM406 327h1.1v1.1h-1.1zM405.5 322.5h1.1v1.1h-1.1zM393 313h1.1v1.1h-1.1zM407.5 319h1.1v1.1h-1.1zM396 320.5h1.1v1.1h-1.1zM393 325.5h1.1v1.1h-1.1zM400.5 326h1.1v1.1h-1.1zM404.5 322h1.1v1.1h-1.1zM401.5 340h1.1v1.1h-1.1zM397.5 323.5h1.1v1.1h-1.1zM397.5 319.5h1.1v1.1h-1.1zM404 323h1.1v1.1h-1.1zM400 326h1.1v1.1h-1.1zM394.5 338.5h1.1v1.1h-1.1zM392.5 323.5h1.1v1.1h-1.1zM399.5 329.5h1.1v1.1h-1.1zM399.5 328h1.1v1.1h-1.1zM388.5 332h1.1v1.1h-1.1zM401 325.5h1.1v1.1h-1.1zM406 324h1.1v1.1h-1.1zM409.5 311h1.1v1.1h-1.1zM407 317.5h1.1v1.1h-1.1zM398 327.5h1.1v1.1h-1.1zM397 338h1.1v1.1h-1.1zM405 330h1.1v1.1h-1.1zM395.5 329.5h1.1v1.1h-1.1zM396 329h1.1v1.1h-1.1zM416 320.5h1.1v1.1h-1.1zM391 333.5h1.1v1.1h-1.1zM401.5 331h1.1v1.1h-1.1zM392 317.5h1.1v1.1h-1.1zM405 320.5h1.1v1.1h-1.1zM395 344h1.1v1.1h-1.1zM403.5 330h1.1v1.1h-1.1zM405.5 321h1.1v1.1h-1.1zM405 319h1.1v1.1h-1.1zM410 321h1.1v1.1h-1.1zM413 309.5h1.1v1.1h-1.1zM393.5 323h1.1v1.1h-1.1zM396.5 333h1.1v1.1h-1.1zM409.5 327.5h1.1v1.1h-1.1zM403 326.5h1.1v1.1h-1.1zM405 324.5h1.1v1.1h-1.1zM403 322h1.1v1.1h-1.1zM407 313h1.1v1.1h-1.1zM400 318.5h1.1v1.1h-1.1zM410 317h1.1v1.1h-1.1zM405 322.5h1.1v1.1h-1.1zM414 311.5h1.1v1.1h-1.1zM395 320.5h1.1v1.1h-1.1zM395.5 337.5h1.1v1.1h-1.1zM400.5 323.5h1.1v1.1h-1.1zM393 335.5h1.1v1.1h-1.1zM393.5 328.5h1.1v1.1h-1.1zM398 320.5h1.1v1.1h-1.1zM397 324.5h1.1v1.1h-1.1zM414 309.5h1.1v1.1h-1.1zM396 334h1.1v1.1h-1.1zM403 330.5h1.1v1.1h-1.1zM398.5 332h1.1v1.1h-1.1zM394.5 330h1.1v1.1h-1.1zM403.5 321h1.1v1.1h-1.1zM408 316h1.1v1.1h-1.1zM409.5 327h1.1v1.1h-1.1zM400 324.5h1.1v1.1h-1.1zM409.5 318h1.1v1.1h-1.1zM405 320.5h1.1v1.1h-1.1zM400 325.5h1.1v1.1h-1.1zM407 318h1.1v1.1h-1.1zM398 326.5h1.1v1.1h-1.1zM410.5 326.5h1.1v1.1h-1.1zM393.5 335.5h1.1v1.1h-1.1zM394.5 323.5h1.1v1.1h-1.1zM387 334h1.1v1.1h-1.1zM403.5 322.5h1.1v1.1h-1.1zM396.5 319.5h1.1v1.1h-1.1zM397.5 315h1.1v1.1h-1.1zM404.5 328h1.1v1.1h-1.1zM410.5 335h1.1v1.1h-1.1zM401.5 329.5h1.1v1.1h-1.1zM392.5 339.5h1.1v1.1h-1.1zM412 335h1.1v1.1h-1.1zM395 339.5h1.1v1.1h-1.1zM403 318h1.1v1.1h-1.1zM405.5 325.5h1.1v1.1h-1.1zM408.5 319h1.1v1.1h-1.1zM402.5 311.5h1.1v1.1h-1.1zM409 329h1.1v1.1h-1.1zM406.5 318.5h1.1v1.1h-1.1zM404 333.5h1.1v1.1h-1.1zM401.5 322.5h1.1v1.1h-1.1zM403.5 324h1.1v1.1h-1.1zM397 323.5h1.1v1.1h-1.1zM397 326.5h1.1v1.1h-1.1zM404.5 330.5h1.1v1.1h-1.1zM415 320.5h1.1v1.1h-1.1zM391.5 331.5h1.1v1.1h-1.1zM402.5 323.5h1.1v1.1h-1.1zM406.5 327h1.1v1.1h-1.1zM397 319.5h1.1v1.1h-1.1zM400 327.5h1.1v1.1h-1.1zM407.5 326h1.1v1.1h-1.1zM392.5 325h1.1v1.1h-1.1zM406 332.5h1.1v1.1h-1.1zM406 324h1.1v1.1h-1.1zM403 314h1.1v1.1h-1.1zM408.5 320h1.1v1.1h-1.1zM406 327.5h1.1v1.1h-1.1zM402 325.5h1.1v1.1h-1.1zM403 311.5h1.1v1.1h-1.1zM393 332.5h1.1v1.1h-1.1zM395 323h1.1v1.1h-1.1zM408.5 322h1.1v1.1h-1.1zM404 307.5h1.1v1.1h-1.1zM407.5 335h1.1v1.1h-1.1zM410 333.5h1.1v1.1h-1.1zM398 326.5h1.1v1.1h-1.1zM421 304h1.1v1.1h-1.1zM395.5 330.5h1.1v1.1h-1.1zM410.5 336h1.1v1.1h-1.1zM394 337.5h1.1v1.1h-1.1zM407 340.5h1.1v1.1h-1.1zM402 314h1.1v1.1h-1.1zM395 338h1.1v1.1h-1.1zM400.5 323h1.1v1.1h-1.1zM400.5 322.5h1.1v1.1h-1.1zM399 331.5h1.1v1.1h-1.1zM402 326h1.1v1.1h-1.1zM399.5 317.5h1.1v1.1h-1.1zM404.5 308h1.1v1.1h-1.1zM410 318h1.1v1.1h-1.1zM398.5 320.5h1.1v1.1h-1.1zM395.5 346h1.1v1.1h-1.1zM417.5 311h1.1v1.1h-1.1zM395.5 338.5h1.1v1.1h-1.1zM392.5 325h1.1v1.1h-1.1zM410 332h1.1v1.1h-1.1zM396 334h1.1v1.1h-1.1zM405 335h1.1v1.1h-1.1zM400.5 329h1.1v1.1h-1.1zM396.5 334.5h1.1v1.1h-1.1zM406 321.5h1.1v1.1h-1.1zM394.5 320.5h1.1v1.1h-1.1zM407 335h1.1v1.1h-1.1zM389 345.5h1.1v1.1h-1.1zM404.5 328.5h1.1v1.1h-1.1zM402 341.5h1.1v1.1h-1.1zM396.5 320h1.1v1.1h-1.1zM387.5 331.5h1.1v1.1h-1.1zM398 322.5h1.1v1.1h-1.1zM402 330h1.1v1.1h-1.1zM402.5 316.5h1.1v1.1h-1.1zM410 323.5h1.1v1.1h-1.1zM408.5 327.5h1.1v1.1h-1.1zM396 339.5h1.1v1.1h-1.1zM397 329h1.1v1.1h-1.1zM393.5 346h1.1v1.1h-1.1zM400.5 318.5h1.1v1.1h-1.1zM402.5 329h1.1v1.1h-1.1zM404 338h1.1v1.1h-1.1zM398 317h1.1v1.1h-1.1zM406.5 322h1.1v1.1h-1.1zM396.5 329h1.1v1.1h-1.1zM402.5 335h1.1v1.1h-1.1zM411.5 327h1.1v1.1h-1.1zM397.5 319h1.1v1.1h-1.1zM400.5 321.5h1.1v1.1h-1.1zM387.5 329.5h1.1v1.1h-1.1zM408 330h1.1v1.1h-1.1zM408.5 334.5h1.1v1.1h-1.1zM404 324.5h1.1v1.1h-1.1zM406 316h1.1v1.1h-1.1zM392 319.5h1.1v1.1h-1.1zM407.5 327.5h1.1v1.1h-1.1zM407 332h1.1v1.1h-1.1zM413.5 316.5h1.1v1.1h-1.1zM398.5 318h1.1v1.1h-1.1zM401.5 317.5h1.1v1.1h-1.1zM393.5 330h1.1v1.1h-1.1zM391.5 316h1.1v1.1h-1.1zM405 318h1.1v1.1h-1.1zM402 324.5h1.1v1.1h-1.1zM396 313.5h1.1v1.1h-1.1zM405.5 325.5h1.1v1.1h-1.1zM410 314h1.1v1.1h-1.1zM398 333.5h1.1v1.1h-1.1zM405.5 307.5h1.1v1.1h-1.1zM402.5 332h1.1v1.1h-1.1zM403.5 312.5h1.1v1.1h-1.1zM409 322h1.1v1.1h-1.1zM399.5 331h1.1v1.1h-1.1zM405.5 320h1.1v1.1h-1.1zM390 332h1.1v1.1h-1.1zM404 323.5h1.1v1.1h-1.1zM415.5 317h1.1v1.1h-1.1zM413 329h1.1v1.1h-1.1zM407.5 313.5h1.1v1.1h-1.1zM395.5 333.5h1.1v1.1h-1.1zM406 336h1.1v1.1h-1.1zM402 331h1.1v1.1h-1.1zM399 319.5h1.1v1.1h-1.1zM403 327.5h1.1v1.1h-1.1zM403.5 329.5h1.1v1.1h-1.1zM409 327.5h1.1v1.1h-1.1zM401.5 310.5h1.1v1.1h-1.1zM389.5 315h1.1v1.1h-1.1zM400 337h1.1v1.1h-1.1zM411 326h1.1v1.1h-1.1zM402 327h1.1v1.1h-1.1zM407.5 321h1.1v1.1h-1.1zM406 329.5h1.1v1.1h-1.1zM401.5 336.5h1.1v1.1h-1.1zM408 328h1.1v1.1h-1.1zM409.5 316h1.1v1.1h-1.1zM410.5 323h1.1v1.1h-1.1zM396 343h1.1v1.1h-1.1zM403 324.5h1.1v1.1h-1.1zM403.5 318h1.1v1.1h-1.1zM404.5 332h1.1v1.1h-1.1zM394 325h1.1v1.1h-1.1zM398 328h1.1v1.1h-1.1zM406 337h1.1v1.1h-1.1zM409.5 331h1.1v1.1h-1.1zM402.5 318h1.1v1.1h-1.1zM396 335h1.1v1.1h-1.1zM413.5 329h1.1v1.1h-1.1zM406.5 334.5h1.1v1.1h-1.1zM409.5 322.5h1.1v1.1h-1.1zM401 327.5h1.1v1.1h-1.1zM402.5 339.5h1.1v1.1h-1.1zM403.5 312h1.1v1.1h-1.1zM405 317h1.1v1.1h-1.1zM394.5 322h1.1v1.1h-1.1zM401 332.5h1.1v1.1h-1.1zM385.5 339h1.1v1.1h-1.1zM404.5 325.5h1.1v1.1h-1.1zM394 337h1.1v1.1h-1.1zM413.5 316h1.1v1.1h-1.1zM408 317h1.1v1.1h-1.1zM409 320.5h1.1v1.1h-1.1zM409.5 308h1.1v1.1h-1.1zM407 313h1.1v1.1h-1.1zM400.5 328h1.1v1.1h-1.1zM401.5 324h1.1v1.1h-1.1zM403.5 319h1.1v1.1h-1.1zM398 335.5h1.1v1.1h-1.1zM397 332h1.1v1.1h-1.1zM407 323.5h1.1v1.1h-1.1zM416.5 319h1.1v1.1h-1.1zM404 333h1.1v1.1h-1.1zM395.5 346h1.1v1.1h-1.1zM389 325h1.1v1.1h-1.1zM389 330.5h1.1v1.1h-1.1zM395.5 324.5h1.1v1.1h-1.1zM405.5 326.5h1.1v1.1h-1.1zM400 317.5h1.1v1.1h-1.1zM394.5 327.5h1.1v1.1h-1.1zM401.5 337.5h1.1v1.1h-1.1zM401 324h1.1v1.1h-1.1zM406.5 315.5h1.1v1.1h-1.1zM405.5 327.5h1.1v1.1h-1.1zM402 331h1.1v1.1h-1.1zM394.5 324.5h1.1v1.1h-1.1zM394 339h1.1v1.1h-1.1zM400.5 327h1.1v1.1h-1.1zM398 337h1.1v1.1h-1.1zM410 327.5h1.1v1.1h-1.1zM409.5 322h1.1v1.1h-1.1zM392.5 327h1.1v1.1h-1.1zM411 327.5h1.1v1.1h-1.1zM394.5 322h1.1v1.1h-1.1zM402 315h1.1v1.1h-1.1zM406.5 336.5h1.1v1.1h-1.1zM394.5 319.5h1.1v1.1h-1.1zM402 321.5h1.1v1.1h-1.1zM400 323h1.1v1.1h-1.1zM407.5 322.5h1.1v1.1h-1.1zM399.5 316.5h1.1v1.1h-1.1zM397 320h1.1v1.1h-1.1zM407 328h1.1v1.1h-1.1zM404.5 326h1.1v1.1h-1.1zM407.5 308.5h1.1v1.1h-1.1zM400.5 332h1.1v1.1h-1.1zM394 333.5h1.1v1.1h-1.1zM409.5 320.5h1.1v1.1h-1.1zM404.5 314h1.1v1.1h-1.1zM418.5 329.5h1.1v1.1h-1.1zM402.5 344.5h1.1v1.1h-1.1zM390.5 326.5h1.1v1.1h-1.1zM399.5 311.5h1.1v1.1h-1.1zM405 341h1.1v1.1h-1.1zM391 332h1.1v1.1h-1.1zM395 332.5h1.1v1.1h-1.1zM402 329h1.1v1.1h-1.1zM399 320.5h1.1v1.1h-1.1zM405 321.5h1.1v1.1h-1.1zM398 323.5h1.1v1.1h-1.1zM416.5 321h1.1v1.1h-1.1zM398 324h1.1v1.1h-1.1zM403 335.5h1.1v1.1h-1.1zM396 327h1.1v1.1h-1.1zM402 335h1.1v1.1h-1.1zM403 315.5h1.1v1.1h-1.1zM397.5 328h1.1v1.1h-1.1zM394 330.5h1.1v1.1h-1.1zM415.5 313h1.1v1.1h-1.1zM400 329.5h1.1v1.1h-1.1zM400.5 325h1.1v1.1h-1.1zM393.5 341.5h1.1v1.1h-1.1zM414.5 329h1.1v1.1h-1.1zM395.5 329.5h1.1v1.1h-1.1zM402.5 321.5h1.1v1.1h-1.1zM402.5 325.5h1.1v1.1h-1.1zM410 332h1.1v1.1h-1.1zM395.5 331h1.1v1.1h-1.1zM405 322.5h1.1v1.1h-1.1zM404.5 321h1.1v1.1h-1.1zM399.5 312h1.1v1.1h-1.1zM395.5 336h1.1v1.1h-1.1zM393.5 324h1.1v1.1h-1.1zM400.5 327h1.1v1.1h-1.1zM398 330h1.1v1.1h-1.1zM404 318.5h1.1v1.1h-1.1zM409.5 319.5h1.1v1.1h-1.1zM404 326.5h1.1v1.1h-1.1zM406.5 334.5h1.1v1.1h-1.1zM395.5 327.5h1.1v1.1h-1.1zM389 329.5h1.1v1.1h-1.1zM402 325h1.1v1.1h-1.1zM406.5 320h1.1v1.1h-1.1zM398.5 333.5h1.1v1.1h-1.1zM393.5 320.5h1.1v1.1h-1.1zM399 325.5h1.1v1.1h-1.1zM401 325.5h1.1v1.1h-1.1zM406 329.5h1.1v1.1h-1.1zM398.5 330.5h1.1v1.1h-1.1zM403 319.5h1.1v1.1h-1.1zM399 323.5h1.1v1.1h-1.1zM384.5 324h1.1v1.1h-1.1zM407.5 321.5h1.1v1.1h-1.1zM397 326h1.1v1.1h-1.1zM413 309h1.1v1.1h-1.1zM412.5 321.5h1.1v1.1h-1.1zM399 344h1.1v1.1h-1.1zM400 328h1.1v1.1h-1.1zM406 319.5h1.1v1.1h-1.1zM402.5 320h1.1v1.1h-1.1zM411.5 330.5h1.1v1.1h-1.1zM412 320h1.1v1.1h-1.1zM392.5 324.5h1.1v1.1h-1.1zM388 319.5h1.1v1.1h-1.1zM408 329.5h1.1v1.1h-1.1zM412.5 302.5h1.1v1.1h-1.1zM400.5 328h1.1v1.1h-1.1zM398 320.5h1.1v1.1h-1.1zM403.5 332.5h1.1v1.1h-1.1zM398 326h1.1v1.1h-1.1zM385.5 328.5h1.1v1.1h-1.1zM390 339.5h1.1v1.1h-1.1zM396.5 317h1.1v1.1h-1.1zM407 329h1.1v1.1h-1.1zM397.5 332.5h1.1v1.1h-1.1zM400.5 307.5h1.1v1.1h-1.1zM391.5 322h1.1v1.1h-1.1zM407 315h1.1v1.1h-1.1zM388 327.5h1.1v1.1h-1.1zM405 324h1.1v1.1h-1.1zM402 323h1.1v1.1h-1.1zM401.5 329.5h1.1v1.1h-1.1zM401 321.5h1.1v1.1h-1.1zM401 313.5h1.1v1.1h-1.1zM398 308h1.1v1.1h-1.1zM403.5 315h1.1v1.1h-1.1zM415.5 312.5h1.1v1.1h-1.1zM403.5 317.5h1.1v1.1h-1.1zM389 334.5h1.1v1.1h-1.1zM397 326h1.1v1.1h-1.1zM405.5 310h1.1v1.1h-1.1zM404 317h1.1v1.1h-1.1zM403.5 320h1.1v1.1h-1.1zM399.5 344h1.1v1.1h-1.1zM398.5 331h1.1v1.1h-1.1zM396 325h1.1v1.1h-1.1zM391.5 332.5h1.1v1.1h-1.1zM405 331h1.1v1.1h-1.1zM405.5 314.5h1.1v1.1h-1.1zM417 331h1.1v1.1h-1.1zM406.5 316h1.1v1.1h-1.1zM400.5 331.5h1.1v1.1h-1.1zM408.5 335h1.1v1.1h-1.1zM407.5 323h1.1v1.1h-1.1zM392 334.5h1.1v1.1h-1.1zM403 316.5h1.1v1.1h-1.1zM406 333.5h1.1v1.1h-1.1zM395 335.5h1.1v1.1h-1.1zM398 342.5h1.1v1.1h-1.1zM398.5 334h1.1v1.1h-1.1zM407.5 318h1.1v1.1h-1.1zM397.5 320.5h1.1v1.1h-1.1zM404.5 317h1.1v1.1h-1.1zM391 324h1.1v1.1h-1.1zM408.5 332h1.1v1.1h-1.1zM407.5 309.5h1.1v1.1h-1.1zM411.5 310h1.1v1.1h-1.1zM402 317.5h1.1v1.1h-1.1zM399 313.5h1.1v1.1h-1.1zM391 321.5h1.1v1.1h-1.1zM407.5 329h1.1v1.1h-1.1zM410.5 317h1.1v1.1h-1.1zM402 325.5h1.1v1.1h-1.1zM401.5 322h1.1v1.1h-1.1zM396 330.5h1.1v1.1h-1.1zM411.5 328.5h1.1v1.1h-1.1zM398.5 330h1.1v1.1h-1.1zM406.5 323.5h1.1v1.1h-1.1zM388.5 324.5h1.1v1.1h-1.1zM403 314h1.1v1.1h-1.1zM403 326h1.1v1.1h-1.1zM407.5 325.5h1.1v1.1h-1.1zM411 327h1.1v1.1h-1.1zM397 328h1.1v1.1h-1.1zM396.5 321h1.1v1.1h-1.1zM405.5 316.5h1.1v1.1h-1.1zM408.5 325.5h1.1v1.1h-1.1zM390 326h1.1v1.1h-1.1zM395.5 319.5h1.1v1.1h-1.1zM412.5 308h1.1v1.1h-1.1zM398 319h1.1v1.1h-1.1zM399.5 330.5h1.1v1.1h-1.1zM399.5 329.5h1.1v1.1h-1.1zM405 334.5h1.1v1.1h-1.1zM404 327h1.1v1.1h-1.1zM399 328h1.1v1.1h-1.1zM414 327.5h1.1v1.1h-1.1zM411 330h1.1v1.1h-1.1zM403.5 322.5h1.1v1.1h-1.1zM401 303.5h1.1v1.1h-1.1zM396 325.5h1.1v1.1h-1.1zM405 316.5h1.1v1.1h-1.1zM392.5 338h1.1v1.1h-1.1zM398.5 327.5h1.1v1.1h-1.1zM400.5 319h1.1v1.1h-1.1zM401.5 313.5h1.1v1.1h-1.1zM399 329h1.1v1.1h-1.1zM411.5 328h1.1v1.1h-1.1zM400 313h1.1v1.1h-1.1zM406.5 324h1.1v1.1h-1.1zM404 317h1.1v1.1h-1.1zM399.5 326.5h1.1v1.1h-1.1zM404.5 339h1.1v1.1h-1.1zM400 314h1.1v1.1h-1.1zM395.5 330.5h1.1v1.1h-1.1zM395 341h1.1v1.1h-1.1zM403.5 322h1.1v1.1h-1.1zM396.5 316.5h1.1v1.1h-1.1zM403 302.5h1.1v1.1h-1.1zM402 316.5h1.1v1.1h-1.1zM404 325h1.1v1.1h-1.1zM403.5 315h1.1v1.1h-1.1zM399 335.5h1.1v1.1h-1.1zM405.5 303.5h1.1v1.1h-1.1zM402 312.5h1.1v1.1h-1.1zM404.5 326h1.1v1.1h-1.1zM401.5 323.5h1.1v1.1h-1.1zM398.5 330h1.1v1.1h-1.1zM398 328h1.1v1.1h-1.1zM398 319h1.1v1.1h-1.1zM400.5 320h1.1v1.1h-1.1zM396 337h1.1v1.1h-1.1zM403.5 324.5h1.1v1.1h-1.1zM401.5 332.5h1.1v1.1h-1.1zM400.5 326.5h1.1v1.1h-1.1zM397.5 335h1.1v1.1h-1.1zM409 324h1.1v1.1h-1.1zM410 317h1.1v1.1h-1.1zM408 311.5h1.1v1.1h-1.1zM400 332.5h1.1v1.1h-1.1zM402.5 319.5h1.1v1.1h-1.1zM408 307.5h1.1v1.1h-1.1zM408 331h1.1v1.1h-1.1zM406.5 324h1.1v1.1h-1.1zM407 322.5h1.1v1.1h-1.1zM410.5 310h1.1v1.1h-1.1zM402.5 329h1.1v1.1h-1.1zM394 326h1.1v1.1h-1.1zM404.5 312h1.1v1.1h-1.1zM403.5 318h1.1v1.1h-1.1zM413.5 309h1.1v1.1h-1.1zM401.5 335.5h1.1v1.1h-1.1zM402.5 319.5h1.1v1.1h-1.1zM404.5 325.5h1.1v1.1h-1.1zM396.5 335.5h1.1v1.1h-1.1zM396.5 341.5h1.1v1.1h-1.1zM394 323h1.1v1.1h-1.1zM394 319h1.1v1.1h-1.1zM407 328.5h1.1v1.1h-1.1zM408.5 327h1.1v1.1h-1.1zM389 349h1.1v1.1h-1.1zM403 321h1.1v1.1h-1.1zM404 336h1.1v1.1h-1.1zM404.5 331.5h1.1v1.1h-1.1zM408.5 322.5h1.1v1.1h-1.1zM385 308h1.1v1.1h-1.1zM410.5 321h1.1v1.1h-1.1zM395.5 325h1.1v1.1h-1.1zM385 315.5h1.1v1.1h-1.1zM408 327.5h1.1v1.1h-1.1zM404 317.5h1.1v1.1h-1.1zM391 321h1.1v1.1h-1.1zM386.5 329h1.1v1.1h-1.1zM400.5 333.5h1.1v1.1h-1.1zM410 335.5h1.1v1.1h-1.1zM408.5 329.5h1.1v1.1h-1.1zM397 330.5h1.1v1.1h-1.1zM398 328h1.1v1.1h-1.1zM407 309.5h1.1v1.1h-1.1zM400 317h1.1v1.1h-1.1zM397.5 325h1.1v1.1h-1.1zM401.5 324h1.1v1.1h-1.1zM396.5 321.5h1.1v1.1h-1.1zM388 343.5h1.1v1.1h-1.1zM401 335h1.1v1.1h-1.1zM395 321.5h1.1v1.1h-1.1zM408 330h1.1v1.1h-1.1zM402.5 325.5h1.1v1.1h-1.1zM396.5 346.5h1.1v1.1h-1.1zM391 338.5h1.1v1.1h-1.1zM397.5 333.5h1.1v1.1h-1.1zM401 330h1.1v1.1h-1.1zM396.5 335.5h1.1v1.1h-1.1zM409.5 322h1.1v1.1h-1.1zM412.5 334.5h1.1v1.1h-1.1zM405.5 322.5h1.1v1.1h-1.1zM392.5 316.5h1.1v1.1h-1.1zM394.5 327.5h1.1v1.1h-1.1zM386 338h1.1v1.1h-1.1zM399 314.5h1.1v1.1h-1.1zM397.5 314h1.1v1.1h-1.1zM402 322.5h1.1v1.1h-1.1zM396 337.5h1.1v1.1h-1.1zM391 335.5h1.1v1.1h-1.1zM404 302h1.1v1.1h-1.1zM398 331.5h1.1v1.1h-1.1zM404 320.5h1.1v1.1h-1.1zM411.5 314h1.1v1.1h-1.1zM397.5 327h1.1v1.1h-1.1zM410 339.5h1.1v1.1h-1.1zM399 315.5h1.1v1.1h-1.1zM400.5 323.5h1.1v1.1h-1.1zM406 305.5h1.1v1.1h-1.1zM386.5 335.5h1.1v1.1h-1.1zM403.5 326.5h1.1v1.1h-1.1zM403.5 326h1.1v1.1h-1.1zM405.5 326.5h1.1v1.1h-1.1zM409 311.5h1.1v1.1h-1.1zM403.5 323h1.1v1.1h-1.1zM402 322.5h1.1v1.1h-1.1zM406.5 315h1.1v1.1h-1.1zM405 329h1.1v1.1h-1.1zM413 324.5h1.1v1.1h-1.1zM399 318h1.1v1.1h-1.1zM408 322.5h1.1v1.1h-1.1zM408.5 325h1.1v1.1h-1.1zM409.5 322.5h1.1v1.1h-1.1zM402 329h1.1v1.1h-1.1zM401.5 325h1.1v1.1h-1.1zM391 327h1.1v1.1h-1.1zM401.5 314h1.1v1.1h-1.1zM390.5 323h1.1v1.1h-1.1zM399 326h1.1v1.1h-1.1zM398 326.5h1.1v1.1h-1.1zM399 315.5h1.1v1.1h-1.1zM399 324h1.1v1.1h-1.1zM403 327.5h1.1v1.1h-1.1zM409.5 331h1.1v1.1h-1.1zM405.5 327h1.1v1.1h-1.1zM397.5 326h1.1v1.1h-1.1zM397 333h1.1v1.1h-1.1zM401.5 312h1.1v1.1h-1.1zM406 324.5h1.1v1.1h-1.1zM395.5 320.5h1.1v1.1h-1.1zM405.5 336.5h1.1v1.1h-1.1zM414.5 309.5h1.1v1.1h-1.1zM402.5 329.5h1.1v1.1h-1.1zM395.5 342.5h1.1v1.1h-1.1zM411 316.5h1.1v1.1h-1.1zM406.5 317h1.1v1.1h-1.1zM401.5 324h1.1v1.1h-1.1zM401 322h1.1v1.1h-1.1zM405 315h1.1v1.1h-1.1zM406 317h1.1v1.1h-1.1zM397.5 332h1.1v1.1h-1.1zM405 327.5h1.1v1.1h-1.1zM392 321h1.1v1.1h-1.1zM400.5 316.5h1.1v1.1h-1.1zM396.5 327.5h1.1v1.1h-1.1zM403.5 326.5h1.1v1.1h-1.1zM406.5 322.5h1.1v1.1h-1.1zM412 320.5h1.1v1.1h-1.1zM408 336.5h1.1v1.1h-1.1zM394 337h1.1v1.1h-1.1zM403 329.5h1.1v1.1h-1.1zM411 315.5h1.1v1.1h-1.1zM395 341h1.1v1.1h-1.1zM401.5 323.5h1.1v1.1h-1.1zM411.5 322h1.1v1.1h-1.1zM402.5 305h1.1v1.1h-1.1zM395.5 334.5h1.1v1.1h-1.1zM404.5 310.5h1.1v1.1h-1.1zM398.5 321h1.1v1.1h-1.1zM405 331.5h1.1v1.1h-1.1zM397 325h1.1v1.1h-1.1zM402 318.5h1.1v1.1h-1.1zM398.5 332h1.1v1.1h-1.1zM393.5 336.5h1.1v1.1h-1.1zM400 327.5h1.1v1.1h-1.1zM422.5 320.5h1.1v1.1h-1.1zM408.5 313.5h1.1v1.1h-1.1zM422 316.5h1.1v1.1h-1.1zM396 323.5h1.1v1.1h-1.1zM404 308h1.1v1.1h-1.1zM405 325.5h1.1v1.1h-1.1zM396.5 323h1.1v1.1h-1.1zM400 322.5h1.1v1.1h-1.1zM404.5 323.5h1.1v1.1h-1.1zM414.5 317h1.1v1.1h-1.1zM402 330.5h1.1v1.1h-1.1zM393 324h1.1v1.1h-1.1zM407.5 326.5h1.1v1.1h-1.1zM417 313h1.1v1.1h-1.1zM400.5 329h1.1v1.1h-1.1zM401.5 324.5h1.1v1.1h-1.1zM402.5 330h1.1v1.1h-1.1zM394 346.5h1.1v1.1h-1.1zM395 328h1.1v1.1h-1.1zM402 330h1.1v1.1h-1.1zM408 314.5h1.1v1.1h-1.1zM405.5 319h1.1v1.1h-1.1zM398.5 328.5h1.1v1.1h-1.1zM401.5 334h1.1v1.1h-1.1zM411 312h1.1v1.1h-1.1zM404.5 322h1.1v1.1h-1.1zM400 335.5h1.1v1.1h-1.1zM410 307.5h1.1v1.1h-1.1zM423 318.5h1.1v1.1h-1.1zM399 324h1.1v1.1h-1.1zM395 342h1.1v1.1h-1.1zM399.5 324h1.1v1.1h-1.1zM392 321.5h1.1v1.1h-1.1zM395 339h1.1v1.1h-1.1zM399 337.5h1.1v1.1h-1.1zM399 330h1.1v1.1h-1.1zM398.5 341h1.1v1.1h-1.1zM398.5 323.5h1.1v1.1h-1.1zM391.5 330.5h1.1v1.1h-1.1zM405 318h1.1v1.1h-1.1zM400 319h1.1v1.1h-1.1zM399 328.5h1.1v1.1h-1.1zM404.5 321h1.1v1.1h-1.1zM399 340h1.1v1.1h-1.1zM404 318.5h1.1v1.1h-1.1zM419.5 318h1.1v1.1h-1.1zM395.5 310.5h1.1v1.1h-1.1zM394.5 329.5h1.1v1.1h-1.1zM398 322.5h1.1v1.1h-1.1zM404 319h1.1v1.1h-1.1zM389.5 332h1.1v1.1h-1.1zM403 322h1.1v1.1h-1.1zM403 315.5h1.1v1.1h-1.1zM403 329h1.1v1.1h-1.1zM397.5 327.5h1.1v1.1h-1.1zM401.5 320h1.1v1.1h-1.1zM402.5 336h1.1v1.1h-1.1zM402.5 324h1.1v1.1h-1.1zM394 335h1.1v1.1h-1.1zM404.5 330h1.1v1.1h-1.1zM394.5 325h1.1v1.1h-1.1zM406.5 325h1.1v1.1h-1.1zM388 329.5h1.1v1.1h-1.1zM401 318.5h1.1v1.1h-1.1zM397.5 323.5h1.1v1.1h-1.1zM404 337h1.1v1.1h-1.1zM396.5 328h1.1v1.1h-1.1zM415 331.5h1.1v1.1h-1.1zM398.5 332h1.1v1.1h-1.1zM409 310h1.1v1.1h-1.1zM402.5 323h1.1v1.1h-1.1zM402 330.5h1.1v1.1h-1.1zM412 320.5h1.1v1.1h-1.1zM405 326.5h1.1v1.1h-1.1zM395.5 330h1.1v1.1h-1.1zM402 319h1.1v1.1h-1.1zM397 334h1.1v1.1h-1.1zM405 338h1.1v1.1h-1.1zM400.5 322h1.1v1.1h-1.1zM388 329h1.1v1.1h-1.1zM394 330h1.1v1.1h-1.1zM399.5 332.5h1.1v1.1h-1.1zM405.5 321h1.1v1.1h-1.1zM406 331h1.1v1.1h-1.1zM388 329h1.1v1.1h-1.1zM402 320h1.1v1.1h-1.1zM398 312h1.1v1.1h-1.1zM398.5 330h1.1v1.1h-1.1zM400.5 332.5h1.1v1.1h-1.1zM397.5 320.5h1.1v1.1h-1.1zM395.5 328.5h1.1v1.1h-1.1zM386 326.5h1.1v1.1h-1.1zM412 314h1.1v1.1h-1.1zM399 338.5h1.1v1.1h-1.1zM402 332.5h1.1v1.1h-1.1zM417 302.5h1.1v1.1h-1.1zM410.5 327.5h1.1v1.1h-1.1zM407.5 324.5h1.1v1.1h-1.1zM404.5 337.5h1.1v1.1h-1.1zM396.5 330h1.1v1.1h-1.1zM399.5 328h1.1v1.1h-1.1zM402 318h1.1v1.1h-1.1zM410 319.5h1.1v1.1h-1.1zM406 320h1.1v1.1h-1.1zM406.5 310.5h1.1v1.1h-1.1zM406 329h1.1v1.1h-1.1zM404 319.5h1.1v1.1h-1.1zM405.5 324h1.1v1.1h-1.1zM387.5 336h1.1v1.1h-1.1zM389.5 315.5h1.1v1.1h-1.1zM390.5 326h1.1v1.1h-1.1zM401 318.5h1.1v1.1h-1.1zM406 317h1.1v1.1h-1.1zM404 313h1.1v1.1h-1.1zM407 322h1.1v1.1h-1.1zM402 313h1.1v1.1h-1.1zM405.5 317h1.1v1.1h-1.1zM393 323h1.1v1.1h-1.1zM407.5 316.5h1.1v1.1h-1.1zM396 324h1.1v1.1h-1.1zM400 323.5h1.1v1.1h-1.1zM399.5 326.5h1.1v1.1h-1.1zM403 338.5h1.1v1.1h-1.1zM394 321.5h1.1v1.1h-1.1zM393.5 325.5h1.1v1.1h-1.1zM411.5 313.5h1.1v1.1h-1.1zM393 341h1.1v1.1h-1.1zM410 306h1.1v1.1h-1.1zM402.5 314.5h1.1v1.1h-1.1zM400 331h1.1v1.1h-1.1zM402 326h1.1v1.1h-1.1zM411 308h1.1v1.1h-1.1zM401 332.5h1.1v1.1h-1.1zM402 315.5h1.1v1.1h-1.1zM408 313h1.1v1.1h-1.1zM395.5 337h1.1v1.1h-1.1zM403.5 333h1.1v1.1h-1.1zM404 330h1.1v1.1h-1.1zM398 327h1.1v1.1h-1.1zM411.5 325.5h1.1v1.1h-1.1zM399 319h1.1v1.1h-1.1zM402 339h1.1v1.1h-1.1zM407 308h1.1v1.1h-1.1zM402 328.5h1.1v1.1h-1.1zM403.5 333.5h1.1v1.1h-1.1zM395.5 319.5h1.1v1.1h-1.1zM411 317.5h1.1v1.1h-1.1zM417 320h1.1v1.1h-1.1zM410.5 334h1.1v1.1h-1.1zM404.5 331h1.1v1.1h-1.1zM411.5 329h1.1v1.1h-1.1zM408.5 321h1.1v1.1h-1.1zM400 329h1.1v1.1h-1.1zM401.5 329h1.1v1.1h-1.1zM407 333.5h1.1v1.1h-1.1zM403.5 313h1.1v1.1h-1.1zM398 327.5h1.1v1.1h-1.1zM402.5 323.5h1.1v1.1h-1.1zM410 317.5h1.1v1.1h-1.1zM402 339h1.1v1.1h-1.1zM400.5 319.5h1.1v1.1h-1.1zM404.5 327.5h1.1v1.1h-1.1zM389 331.5h1.1v1.1h-1.1zM405.5 328h1.1v1.1h-1.1zM414 313h1.1v1.1h-1.1zM402 315h1.1v1.1h-1.1zM390.5 346h1.1v1.1h-1.1zM404 332h1.1v1.1h-1.1zM401.5 323.5h1.1v1.1h-1.1zM391.5 323.5h1.1v1.1h-1.1zM396.5 328h1.1v1.1h-1.1zM406.5 322h1.1v1.1h-1.1zM409 318h1.1v1.1h-1.1zM403 330h1.1v1.1h-1.1zM402 326.5h1.1v1.1h-1.1zM406.5 321h1.1v1.1h-1.1zM397 329h1.1v1.1h-1.1zM400 320.5h1.1v1.1h-1.1zM401.5 329.5h1.1v1.1h-1.1zM401.5 327h1.1v1.1h-1.1zM401 309.5h1.1v1.1h-1.1zM403 329.5h1.1v1.1h-1.1zM406.5 319h1.1v1.1h-1.1zM398 325h1.1v1.1h-1.1zM402 329.5h1.1v1.1h-1.1zM401 324.5h1.1v1.1h-1.1zM402 328h1.1v1.1h-1.1zM410.5 310.5h1.1v1.1h-1.1zM402 333.5h1.1v1.1h-1.1zM413.5 317.5h1.1v1.1h-1.1zM403 333h1.1v1.1h-1.1zM393.5 330h1.1v1.1h-1.1zM402 326.5h1.1v1.1h-1.1zM398.5 335.5h1.1v1.1h-1.1zM409 327.5h1.1v1.1h-1.1zM393.5 329h1.1v1.1h-1.1zM401 329.5h1.1v1.1h-1.1zM386 348h1.1v1.1h-1.1zM401.5 326h1.1v1.1h-1.1zM391.5 327.5h1.1v1.1h-1.1zM408.5 327.5h1.1v1.1h-1.1zM405.5 313.5h1.1v1.1h-1.1zM402 328h1.1v1.1h-1.1zM406 321.5h1.1v1.1h-1.1zM395.5 330.5h1.1v1.1h-1.1zM400.5 308h1.1v1.1h-1.1zM397.5 335h1.1v1.1h-1.1zM404 326h1.1v1.1h-1.1zM391.5 324h1.1v1.1h-1.1zM411 328.5h1.1v1.1h-1.1zM399.5 322.5h1.1v1.1h-1.1zM396 317h1.1v1.1h-1.1zM414 310h1.1v1.1h-1.1zM416 316.5h1.1v1.1h-1.1zM408 318.5h1.1v1.1h-1.1zM383 332.5h1.1v1.1h-1.1zM403.5 320h1.1v1.1h-1.1zM398 330h1.1v1.1h-1.1zM398 332h1.1v1.1h-1.1zM393.5 321h1.1v1.1h-1.1zM401.5 334h1.1v1.1h-1.1zM398 319.5h1.1v1.1h-1.1zM407 328h1.1v1.1h-1.1zM395 334.5h1.1v1.1h-1.1zM406 322.5h1.1v1.1h-1.1zM404.5 319.5h1.1v1.1h-1.1zM409.5 313h1.1v1.1h-1.1zM392.5 344.5h1.1v1.1h-1.1zM399.5 314h1.1v1.1h-1.1zM400 324.5h1.1v1.1h-1.1zM404 323.5h1.1v1.1h-1.1zM402 333.5h1.1v1.1h-1.1zM397.5 332.5h1.1v1.1h-1.1zM400 324h1.1v1.1h-1.1zM404.5 318.5h1.1v1.1h-1.1zM399.5 342h1.1v1.1h-1.1zM402 323h1.1v1.1h-1.1zM391.5 323.5h1.1v1.1h-1.1zM401 338h1.1v1.1h-1.1zM409 319.5h1.1v1.1h-1.1zM409 313h1.1v1.1h-1.1zM400 330h1.1v1.1h-1.1zM398 323.5h1.1v1.1h-1.1zM403 307h1.1v1.1h-1.1zM399.5 323h1.1v1.1h-1.1zM393.5 331h1.1v1.1h-1.1zM405.5 310.5h1.1v1.1h-1.1zM403 323h1.1v1.1h-1.1zM405 332.5h1.1v1.1h-1.1zM416.5 315h1.1v1.1h-1.1zM399 317h1.1v1.1h-1.1zM409 314.5h1.1v1.1h-1.1zM407.5 328h1.1v1.1h-1.1zM413 315.5h1.1v1.1h-1.1zM414.5 322.5h1.1v1.1h-1.1zM404.5 322h1.1v1.1h-1.1zM397 320h1.1v1.1h-1.1zM399.5 333h1.1v1.1h-1.1zM400 339h1.1v1.1h-1.1zM416.5 309.5h1.1v1.1h-1.1zM394 330.5h1.1v1.1h-1.1zM406.5 325.5h1.1v1.1h-1.1zM396.5 329.5h1.1v1.1h-1.1zM393.5 329.5h1.1v1.1h-1.1zM404 336.5h1.1v1.1h-1.1zM399 346.5h1.1v1.1h-1.1zM404.5 326h1.1v1.1h-1.1zM397.5 326.5h1.1v1.1h-1.1zM408 329.5h1.1v1.1h-1.1zM411.5 315.5h1.1v1.1h-1.1zM397.5 322h1.1v1.1h-1.1zM404.5 329h1.1v1.1h-1.1zM398 335h1.1v1.1h-1.1zM392 332h1.1v1.1h-1.1zM390.5 335h1.1v1.1h-1.1zM415.5 302h1.1v1.1h-1.1zM400.5 318.5h1.1v1.1h-1.1zM393 328.5h1.1v1.1h-1.1zM403.5 330h1.1v1.1h-1.1zM402.5 316.5h1.1v1.1h-1.1zM399 330h1.1v1.1h-1.1zM402 324.5h1.1v1.1h-1.1zM399 330h1.1v1.1h-1.1zM397.5 325h1.1v1.1h-1.1zM404.5 332h1.1v1.1h-1.1zM414 314.5h1.1v1.1h-1.1zM408 334h1.1v1.1h-1.1zM406 320h1.1v1.1h-1.1zM406 327.5h1.1v1.1h-1.1zM405.5 314.5h1.1v1.1h-1.1zM411 315.5h1.1v1.1h-1.1zM412.5 323h1.1v1.1h-1.1zM396 310.5h1.1v1.1h-1.1zM393 329.5h1.1v1.1h-1.1zM399.5 326.5h1.1v1.1h-1.1zM411 346.5h1.1v1.1h-1.1zM412.5 320.5h1.1v1.1h-1.1zM403.5 338h1.1v1.1h-1.1zM407.5 322.5h1.1v1.1h-1.1zM399 322.5h1.1v1.1h-1.1zM404 334h1.1v1.1h-1.1zM397 332h1.1v1.1h-1.1zM406 337h1.1v1.1h-1.1zM391.5 321h1.1v1.1h-1.1zM389 320h1.1v1.1h-1.1zM393 338.5h1.1v1.1h-1.1zM400.5 336.5h1.1v1.1h-1.1zM403 334.5h1.1v1.1h-1.1zM407.5 323h1.1v1.1h-1.1zM401 335.5h1.1v1.1h-1.1zM407 324h1.1v1.1h-1.1zM399.5 323h1.1v1.1h-1.1zM400 326.5h1.1v1.1h-1.1zM406 310.5h1.1v1.1h-1.1zM392.5 337h1.1v1.1h-1.1zM397.5 334.5h1.1v1.1h-1.1zM400 321h1.1v1.1h-1.1zM396.5 316.5h1.1v1.1h-1.1zM397.5 331h1.1v1.1h-1.1zM398.5 337h1.1v1.1h-1.1zM402 308.5h1.1v1.1h-1.1zM392.5 328h1.1v1.1h-1.1zM404 320.5h1.1v1.1h-1.1zM400 338.5h1.1v1.1h-1.1zM404.5 337.5h1.1v1.1h-1.1zM401 316h1.1v1.1h-1.1zM402.5 320.5h1.1v1.1h-1.1zM396.5 314h1.1v1.1h-1.1zM401 326.5h1.1v1.1h-1.1zM393.5 332h1.1v1.1h-1.1zM402.5 335h1.1v1.1h-1.1zM409 307.5h1.1v1.1h-1.1zM397 314h1.1v1.1h-1.1zM402.5 327.5h1.1v1.1h-1.1zM390 333h1.1v1.1h-1.1zM395.5 323h1.1v1.1h-1.1zM403.5 324.5h1.1v1.1h-1.1zM396 331.5h1.1v1.1h-1.1zM401.5 324h1.1v1.1h-1.1zM405.5 337h1.1v1.1h-1.1zM397.5 341.5h1.1v1.1h-1.1zM409 326h1.1v1.1h-1.1zM390.5 329h1.1v1.1h-1.1zM397.5 318h1.1v1.1h-1.1zM399 324h1.1v1.1h-1.1zM402 322h1.1v1.1h-1.1zM387 307.5h1.1v1.1h-1.1zM410 320.5h1.1v1.1h-1.1zM401.5 327.5h1.1v1.1h-1.1zM401 325h1.1v1.1h-1.1zM405 311h1.1v1.1h-1.1zM400 314h1.1v1.1h-1.1zM405.5 327h1.1v1.1h-1.1zM401.5 332h1.1v1.1h-1.1zM399 319h1.1v1.1h-1.1zM396 315.5h1.1v1.1h-1.1zM413 314.5h1.1v1.1h-1.1zM390.5 330.5h1.1v1.1h-1.1zM389 346h1.1v1.1h-1.1zM400.5 332h1.1v1.1h-1.1zM396.5 330.5h1.1v1.1h-1.1zM417.5 313.5h1.1v1.1h-1.1zM413.5 319.5h1.1v1.1h-1.1zM403.5 316h1.1v1.1h-1.1zM396.5 334.5h1.1v1.1h-1.1zM406 324.5h1.1v1.1h-1.1zM397 320h1.1v1.1h-1.1zM412.5 321h1.1v1.1h-1.1zM403 338h1.1v1.1h-1.1zM410 316h1.1v1.1h-1.1zM412.5 312h1.1v1.1h-1.1zM402 323h1.1v1.1h-1.1zM412 320.5h1.1v1.1h-1.1zM395.5 331h1.1v1.1h-1.1zM404.5 323.5h1.1v1.1h-1.1zM403 331h1.1v1.1h-1.1zM404 324.5h1.1v1.1h-1.1zM401 329h1.1v1.1h-1.1zM411.5 334.5h1.1v1.1h-1.1zM399.5 317h1.1v1.1h-1.1zM405 316h1.1v1.1h-1.1zM398 328.5h1.1v1.1h-1.1zM412 313h1.1v1.1h-1.1zM407.5 318h1.1v1.1h-1.1zM404 343.5h1.1v1.1h-1.1zM401.5 318h1.1v1.1h-1.1zM403 318h1.1v1.1h-1.1zM399.5 330.5h1.1v1.1h-1.1zM393 330h1.1v1.1h-1.1zM392.5 316h1.1v1.1h-1.1zM410.5 323.5h1.1v1.1h-1.1zM394 340h1.1v1.1h-1.1zM411 319.5h1.1v1.1h-1.1zM397 331.5h1.1v1.1h-1.1zM403.5 323.5h1.1v1.1h-1.1zM407.5 315h1.1v1.1h-1.1zM388 324.5h1.1v1.1h-1.1zM391 335.5h1.1v1.1h-1.1zM402.5 328.5h1.1v1.1h-1.1zM417.5 305h1.1v1.1h-1.1zM389.5 338h1.1v1.1h-1.1zM402.5 327.5h1.1v1.1h-1.1zM399 331h1.1v1.1h-1.1zM402 333h1.1v1.1h-1.1zM401.5 312h1.1v1.1h-1.1zM398.5 323.5h1.1v1.1h-1.1zM406 317.5h1.1v1.1h-1.1zM410 315h1.1v1.1h-1.1zM408.5 321h1.1v1.1h-1.1zM384.5 336.5h1.1v1.1h-1.1zM408 320.5h1.1v1.1h-1.1zM399 342.5h1.1v1.1h-1.1zM397 318.5h1.1v1.1h-1.1zM408 344.5h1.1v1.1h-1.1zM403.5 326h1.1v1.1h-1.1zM412.5 335h1.1v1.1h-1.1zM392 333.5h1.1v1.1h-1.1zM408.5 316h1.1v1.1h-1.1zM399.5 325h1.1v1.1h-1.1zM405 319.5h1.1v1.1h-1.1zM400.5 331.5h1.1v1.1h-1.1zM400 328h1.1v1.1h-1.1zM394.5 319h1.1v1.1h-1.1zM393.5 347.5h1.1v1.1h-1.1zM415.5 327h1.1v1.1h-1.1zM401.5 312.5h1.1v1.1h-1.1zM411.5 314h1.1v1.1h-1.1zM399 323h1.1v1.1h-1.1zM410.5 322.5h1.1v1.1h-1.1zM403 326h1.1v1.1h-1.1zM401.5 322h1.1v1.1h-1.1zM398.5 340h1.1v1.1h-1.1zM408.5 310.5h1.1v1.1h-1.1zM395.5 332h1.1v1.1h-1.1zM396.5 329h1.1v1.1h-1.1zM412.5 330.5h1.1v1.1h-1.1zM403 321.5h1.1v1.1h-1.1zM402 324h1.1v1.1h-1.1zM391 345.5h1.1v1.1h-1.1zM397 329.5h1.1v1.1h-1.1zM409 321.5h1.1v1.1h-1.1zM398 325.5h1.1v1.1h-1.1zM389.5 327.5h1.1v1.1h-1.1zM407 312h1.1v1.1h-1.1zM392 319h1.1v1.1h-1.1zM405 319.5h1.1v1.1h-1.1zM416.5 318.5h1.1v1.1h-1.1zM411 327.5h1.1v1.1h-1.1zM401.5 322h1.1v1.1h-1.1zM397 323.5h1.1v1.1h-1.1zM395.5 328h1.1v1.1h-1.1zM403.5 319.5h1.1v1.1h-1.1zM401.5 324.5h1.1v1.1h-1.1zM411 329.5h1.1v1.1h-1.1zM402 318h1.1v1.1h-1.1zM409.5 311.5h1.1v1.1h-1.1zM405 319h1.1v1.1h-1.1zM413.5 319.5h1.1v1.1h-1.1zM386 324h1.1v1.1h-1.1zM403.5 329.5h1.1v1.1h-1.1zM396.5 343.5h1.1v1.1h-1.1zM399 334.5h1.1v1.1h-1.1zM389 342h1.1v1.1h-1.1zM403 337h1.1v1.1h-1.1zM394 335.5h1.1v1.1h-1.1zM408.5 323.5h1.1v1.1h-1.1zM413.5 321.5h1.1v1.1h-1.1zM411 309h1.1v1.1h-1.1zM391.5 320h1.1v1.1h-1.1zM401 320.5h1.1v1.1h-1.1zM408.5 313.5h1.1v1.1h-1.1zM393.5 323h1.1v1.1h-1.1zM408.5 325.5h1.1v1.1h-1.1zM409 321h1.1v1.1h-1.1zM395 326h1.1v1.1h-1.1zM405 339.5h1.1v1.1h-1.1zM403 320.5h1.1v1.1h-1.1zM403 323.5h1.1v1.1h-1.1zM409 329.5h1.1v1.1h-1.1zM401.5 323.5h1.1v1.1h-1.1zM406.5 332h1.1v1.1h-1.1zM401 319.5h1.1v1.1h-1.1zM398.5 338h1.1v1.1h-1.1zM394.5 331.5h1.1v1.1h-1.1zM407 309.5h1.1v1.1h-1.1zM398.5 325.5h1.1v1.1h-1.1zM412 325h1.1v1.1h-1.1zM402 322h1.1v1.1h-1.1zM396 331h1.1v1.1h-1.1zM397.5 323.5h1.1v1.1h-1.1zM405 328h1.1v1.1h-1.1zM407 321.5h1.1v1.1h-1.1zM399.5 335h1.1v1.1h-1.1zM395.5 332.5h1.1v1.1h-1.1zM402.5 333h1.1v1.1h-1.1zM402 332.5h1.1v1.1h-1.1zM408 319.5h1.1v1.1h-1.1zM394 327h1.1v1.1h-1.1zM410.5 324.5h1.1v1.1h-1.1zM395 338h1.1v1.1h-1.1zM397 332h1.1v1.1h-1.1zM407.5 313h1.1v1.1h-1.1zM409.5 332h1.1v1.1h-1.1zM400.5 329.5h1.1v1.1h-1.1zM401 336h1.1v1.1h-1.1zM403 318h1.1v1.1h-1.1zM398 323.5h1.1v1.1h-1.1zM401.5 321h1.1v1.1h-1.1zM410.5 312.5h1.1v1.1h-1.1zM412 332.5h1.1v1.1h-1.1zM403 323.5h1.1v1.1h-1.1zM403.5 318.5h1.1v1.1h-1.1zM403.5 314.5h1.1v1.1h-1.1zM411.5 316h1.1v1.1h-1.1zM392.5 335.5h1.1v1.1h-1.1zM404 334.5h1.1v1.1h-1.1zM402.5 330.5h1.1v1.1h-1.1zM401 323.5h1.1v1.1h-1.1zM401.5 327h1.1v1.1h-1.1zM395 314.5h1.1v1.1h-1.1zM402.5 314h1.1v1.1h-1.1zM403.5 323.5h1.1v1.1h-1.1zM399 329h1.1v1.1h-1.1zM407 322h1.1v1.1h-1.1zM411 323h1.1v1.1h-1.1zM407.5 318.5h1.1v1.1h-1.1zM402 322.5h1.1v1.1h-1.1zM400.5 326.5h1.1v1.1h-1.1zM401.5 322.5h1.1v1.1h-1.1zM393.5 325h1.1v1.1h-1.1zM402 323h1.1v1.1h-1.1zM408.5 335h1.1v1.1h-1.1zM400.5 318h1.1v1.1h-1.1zM404 341h1.1v1.1h-1.1zM397.5 320.5h1.1v1.1h-1.1zM402.5 332h1.1v1.1h-1.1zM404.5 333.5h1.1v1.1h-1.1zM403 336h1.1v1.1h-1.1zM389.5 328.5h1.1v1.1h-1.1zM398 306h1.1v1.1h-1.1zM400 319h1.1v1.1h-1.1zM399.5 328.5h1.1v1.1h-1.1zM404.5 342.5h1.1v1.1h-1.1zM400.5 323.5h1.1v1.1h-1.1zM389.5 334.5h1.1v1.1h-1.1zM399 330.5h1.1v1.1h-1.1zM396 342.5h1.1v1.1h-1.1zM407.5 328.5h1.1v1.1h-1.1zM405.5 337.5h1.1v1.1h-1.1zM404 320h1.1v1.1h-1.1zM410 309.5h1.1v1.1h-1.1zM403 324.5h1.1v1.1h-1.1zM401 319h1.1v1.1h-1.1zM395.5 334.5h1.1v1.1h-1.1zM408 322.5h1.1v1.1h-1.1zM401 334h1.1v1.1h-1.1zM406 315.5h1.1v1.1h-1.1zM389 327h1.1v1.1h-1.1zM412.5 317h1.1v1.1h-1.1zM405 333h1.1v1.1h-1.1zM406.5 321.5h1.1v1.1h-1.1zM400 325.5h1.1v1.1h-1.1zM394 341h1.1v1.1h-1.1zM402.5 320.5h1.1v1.1h-1.1zM399.5 323h1.1v1.1h-1.1zM397.5 340h1.1v1.1h-1.1zM398 309h1.1v1.1h-1.1zM405 333h1.1v1.1h-1.1zM401 323.5h1.1v1.1h-1.1zM394 328h1.1v1.1h-1.1zM404.5 325h1.1v1.1h-1.1zM404.5 326h1.1v1.1h-1.1zM404.5 324h1.1v1.1h-1.1zM397.5 338.5h1.1v1.1h-1.1zM397 311h1.1v1.1h-1.1zM401.5 308h1.1v1.1h-1.1zM410.5 323h1.1v1.1h-1.1zM396 316.5h1.1v1.1h-1.1zM395.5 325.5h1.1v1.1h-1.1zM399.5 323h1.1v1.1h-1.1zM393.5 327.5h1.1v1.1h-1.1zM412 324h1.1v1.1h-1.1zM397 308.5h1.1v1.1h-1.1zM406.5 315.5h1.1v1.1h-1.1zM397 339h1.1v1.1h-1.1zM414.5 315h1.1v1.1h-1.1zM408 317h1.1v1.1h-1.1zM405 344h1.1v1.1h-1.1zM409 324h1.1v1.1h-1.1zM407.5 314.5h1.1v1.1h-1.1zM395 332h1.1v1.1h-1.1zM405 328h1.1v1.1h-1.1zM403.5 315h1.1v1.1h-1.1zM411.5 326.5h1.1v1.1h-1.1zM405 321h1.1v1.1h-1.1zM397.5 311.5h1.1v1.1h-1.1zM413.5 325.5h1.1v1.1h-1.1zM403.5 330h1.1v1.1h-1.1zM398 330.5h1.1v1.1h-1.1zM395.5 331h1.1v1.1h-1.1zM406 318h1.1v1.1h-1.1zM394.5 324.5h1.1v1.1h-1.1zM402 317h1.1v1.1h-1.1zM404 331.5h1.1v1.1h-1.1zM390 334.5h1.1v1.1h-1.1zM394 342.5h1.1v1.1h-1.1zM388.5 334h1.1v1.1h-1.1zM403.5 320.5h1.1v1.1h-1.1zM401.5 319.5h1.1v1.1h-1.1zM402 317h1.1v1.1h-1.1zM400.5 318h1.1v1.1h-1.1zM406.5 345.5h1.1v1.1h-1.1zM427 298h1.1v1.1h-1.1zM407 313.5h1.1v1.1h-1.1zM403.5 311.5h1.1v1.1h-1.1zM403 331.5h1.1v1.1h-1.1zM414.5 320.5h1.1v1.1h-1.1zM393 327h1.1v1.1h-1.1zM402.5 332h1.1v1.1h-1.1zM411 317.5h1.1v1.1h-1.1zM397 330.5h1.1v1.1h-1.1zM410.5 334.5h1.1v1.1h-1.1zM396 327h1.1v1.1h-1.1zM401.5 324h1.1v1.1h-1.1zM398 331h1.1v1.1h-1.1zM402.5 331h1.1v1.1h-1.1zM386.5 338.5h1.1v1.1h-1.1zM400.5 323.5h1.1v1.1h-1.1zM401.5 328h1.1v1.1h-1.1zM399.5 327h1.1v1.1h-1.1zM409 330h1.1v1.1h-1.1zM406 321h1.1v1.1h-1.1zM399 324h1.1v1.1h-1.1zM407 314.5h1.1v1.1h-1.1zM397 323.5h1.1v1.1h-1.1zM401 320h1.1v1.1h-1.1zM405 326.5h1.1v1.1h-1.1zM402.5 334.5h1.1v1.1h-1.1zM409.5 318h1.1v1.1h-1.1zM401.5 341h1.1v1.1h-1.1zM399 324.5h1.1v1.1h-1.1zM408.5 332h1.1v1.1h-1.1zM404.5 329h1.1v1.1h-1.1zM406.5 318.5h1.1v1.1h-1.1zM419 317h1.1v1.1h-1.1zM408 310h1.1v1.1h-1.1zM403 328.5h1.1v1.1h-1.1zM403 339.5h1.1v1.1h-1.1zM396.5 330h1.1v1.1h-1.1zM403 339h1.1v1.1h-1.1zM397 327.5h1.1v1.1h-1.1zM408.5 320.5h1.1v1.1h-1.1zM401.5 326.5h1.1v1.1h-1.1zM394 326h1.1v1.1h-1.1zM404.5 327h1.1v1.1h-1.1zM410 336.5h1.1v1.1h-1.1zM407 324h1.1v1.1h-1.1zM405.5 320h1.1v1.1h-1.1zM412 321h1.1v1.1h-1.1zM398.5 334.5h1.1v1.1h-1.1zM404.5 323h1.1v1.1h-1.1zM401.5 311.5h1.1v1.1h-1.1zM406 316.5h1.1v1.1h-1.1zM395 341h1.1v1.1h-1.1zM409 321.5h1.1v1.1h-1.1zM400 336h1.1v1.1h-1.1zM407.5 322.5h1.1v1.1h-1.1zM410 316h1.1v1.1h-1.1zM404 326h1.1v1.1h-1.1zM415.5 327h1.1v1.1h-1.1zM397 325.5h1.1v1.1h-1.1zM398.5 316.5h1.1v1.1h-1.1zM397.5 324.5h1.1v1.1h-1.1zM400.5 320.5h1.1v1.1h-1.1zM407 332h1.1v1.1h-1.1zM410.5 314h1.1v1.1h-1.1zM403.5 316h1.1v1.1h-1.1zM399.5 315h1.1v1.1h-1.1zM399.5 326h1.1v1.1h-1.1zM392 326h1.1v1.1h-1.1zM403 322h1.1v1.1h-1.1zM392.5 332.5h1.1v1.1h-1.1zM409 320.5h1.1v1.1h-1.1zM395.5 347.5h1.1v1.1h-1.1zM414.5 333h1.1v1.1h-1.1zM388 326.5h1.1v1.1h-1.1zM407.5 337.5h1.1v1.1h-1.1zM391.5 331h1.1v1.1h-1.1zM400 329.5h1.1v1.1h-1.1zM398.5 319h1.1v1.1h-1.1zM405.5 328h1.1v1.1h-1.1zM412 329.5h1.1v1.1h-1.1zM409.5 327h1.1v1.1h-1.1zM392.5 333h1.1v1.1h-1.1zM409.5 330.5h1.1v1.1h-1.1zM392 335.5h1.1v1.1h-1.1zM397.5 316h1.1v1.1h-1.1zM411.5 320.5h1.1v1.1h-1.1zM394 333h1.1v1.1h-1.1zM397.5 322.5h1.1v1.1h-1.1zM402 342.5h1.1v1.1h-1.1zM394 334h1.1v1.1h-1.1zM405 324h1.1v1.1h-1.1zM391 332.5h1.1v1.1h-1.1zM409 326.5h1.1v1.1h-1.1zM403.5 322h1.1v1.1h-1.1zM401.5 321h1.1v1.1h-1.1zM410 309h1.1v1.1h-1.1zM395 337h1.1v1.1h-1.1zM405 326.5h1.1v1.1h-1.1zM404.5 314.5h1.1v1.1h-1.1zM401.5 334h1.1v1.1h-1.1zM403 326h1.1v1.1h-1.1zM399 323.5h1.1v1.1h-1.1zM393 323h1.1v1.1h-1.1zM389.5 346.5h1.1v1.1h-1.1zM406 332.5h1.1v1.1h-1.1zM407.5 327.5h1.1v1.1h-1.1zM401.5 330.5h1.1v1.1h-1.1zM400.5 326.5h1.1v1.1h-1.1zM393 330h1.1v1.1h-1.1zM412.5 334h1.1v1.1h-1.1zM399.5 323.5h1.1v1.1h-1.1zM406.5 319h1.1v1.1h-1.1zM406.5 332h1.1v1.1h-1.1zM397 314h1.1v1.1h-1.1zM403 321.5h1.1v1.1h-1.1zM406.5 318.5h1.1v1.1h-1.1zM400.5 326h1.1v1.1h-1.1zM403 314.5h1.1v1.1h-1.1zM405.5 321h1.1v1.1h-1.1zM386.5 329.5h1.1v1.1h-1.1zM404.5 326h1.1v1.1h-1.1zM400.5 332.5h1.1v1.1h-1.1zM401.5 337h1.1v1.1h-1.1zM392 332.5h1.1v1.1h-1.1zM397.5 324.5h1.1v1.1h-1.1zM400 322h1.1v1.1h-1.1zM397.5 325h1.1v1.1h-1.1zM402 342.5h1.1v1.1h-1.1zM397 340h1.1v1.1h-1.1zM399.5 336.5h1.1v1.1h-1.1zM400 333h1.1v1.1h-1.1zM413 313h1.1v1.1h-1.1zM400.5 336h1.1v1.1h-1.1zM390.5 330.5h1.1v1.1h-1.1zM392.5 323h1.1v1.1h-1.1zM405 317.5h1.1v1.1h-1.1zM406 326.5h1.1v1.1h-1.1zM398.5 323h1.1v1.1h-1.1zM397 341.5h1.1v1.1h-1.1zM405 335.5h1.1v1.1h-1.1zM390 338h1.1v1.1h-1.1zM404.5 329.5h1.1v1.1h-1.1zM403.5 332.5h1.1v1.1h-1.1zM404 310h1.1v1.1h-1.1zM389.5 321.5h1.1v1.1h-1.1zM404 326.5h1.1v1.1h-1.1zM407.5 321h1.1v1.1h-1.1zM400 310.5h1.1v1.1h-1.1zM397 331h1.1v1.1h-1.1zM395 325.5h1.1v1.1h-1.1zM400.5 319h1.1v1.1h-1.1zM406 331h1.1v1.1h-1.1zM403 335h1.1v1.1h-1.1zM404.5 319.5h1.1v1.1h-1.1zM409.5 322h1.1v1.1h-1.1zM398 330h1.1v1.1h-1.1zM392 328.5h1.1v1.1h-1.1zM392.5 332h1.1v1.1h-1.1zM400.5 317.5h1.1v1.1h-1.1zM401.5 319.5h1.1v1.1h-1.1zM402 329h1.1v1.1h-1.1zM411 322h1.1v1.1h-1.1zM396 344h1.1v1.1h-1.1zM400.5 322.5h1.1v1.1h-1.1zM391 329h1.1v1.1h-1.1zM392 333h1.1v1.1h-1.1zM393 334.5h1.1v1.1h-1.1zM398.5 330h1.1v1.1h-1.1zM415.5 330h1.1v1.1h-1.1zM402.5 328.5h1.1v1.1h-1.1zM403.5 333h1.1v1.1h-1.1zM392.5 326.5h1.1v1.1h-1.1zM398 336h1.1v1.1h-1.1zM395.5 332.5h1.1v1.1h-1.1zM407 312.5h1.1v1.1h-1.1zM400 335.5h1.1v1.1h-1.1zM407.5 330.5h1.1v1.1h-1.1zM394.5 323h1.1v1.1h-1.1zM401.5 328.5h1.1v1.1h-1.1zM405 335.5h1.1v1.1h-1.1zM411.5 320.5h1.1v1.1h-1.1zM413.5 332h1.1v1.1h-1.1zM395.5 327.5h1.1v1.1h-1.1zM409.5 332.5h1.1v1.1h-1.1zM400.5 329h1.1v1.1h-1.1zM401 305.5h1.1v1.1h-1.1zM400 327h1.1v1.1h-1.1zM402.5 323h1.1v1.1h-1.1zM389.5 334h1.1v1.1h-1.1zM404.5 320h1.1v1.1h-1.1zM398 336h1.1v1.1h-1.1zM402.5 328h1.1v1.1h-1.1zM389 332h1.1v1.1h-1.1zM400.5 325.5h1.1v1.1h-1.1zM399 326.5h1.1v1.1h-1.1zM400 320.5h1.1v1.1h-1.1zM401.5 328h1.1v1.1h-1.1zM407.5 316h1.1v1.1h-1.1zM401.5 321h1.1v1.1h-1.1zM404.5 315.5h1.1v1.1h-1.1zM397.5 336.5h1.1v1.1h-1.1zM395 339h1.1v1.1h-1.1zM398 321.5h1.1v1.1h-1.1zM397.5 324.5h1.1v1.1h-1.1zM405.5 312h1.1v1.1h-1.1zM405 312h1.1v1.1h-1.1zM406.5 327.5h1.1v1.1h-1.1zM404 342h1.1v1.1h-1.1zM399 321.5h1.1v1.1h-1.1zM395.5 334.5h1.1v1.1h-1.1zM408.5 311h1.1v1.1h-1.1zM408.5 336h1.1v1.1h-1.1zM392 348.5h1.1v1.1h-1.1zM417 319.5h1.1v1.1h-1.1zM398 331h1.1v1.1h-1.1zM410 337.5h1.1v1.1h-1.1zM395.5 332.5h1.1v1.1h-1.1zM404.5 315.5h1.1v1.1h-1.1zM403 328.5h1.1v1.1h-1.1zM408 312h1.1v1.1h-1.1zM403.5 332.5h1.1v1.1h-1.1zM397.5 332h1.1v1.1h-1.1zM411.5 331h1.1v1.1h-1.1zM391.5 334.5h1.1v1.1h-1.1zM399 332.5h1.1v1.1h-1.1zM391 329h1.1v1.1h-1.1zM407.5 328.5h1.1v1.1h-1.1zM403 325h1.1v1.1h-1.1zM399.5 324h1.1v1.1h-1.1zM411.5 343h1.1v1.1h-1.1zM406.5 309.5h1.1v1.1h-1.1zM400 328.5h1.1v1.1h-1.1zM401.5 321.5h1.1v1.1h-1.1zM403 322h1.1v1.1h-1.1zM401.5 327h1.1v1.1h-1.1zM408.5 324.5h1.1v1.1h-1.1zM405.5 333h1.1v1.1h-1.1zM403.5 312h1.1v1.1h-1.1zM405.5 328.5h1.1v1.1h-1.1zM400 326h1.1v1.1h-1.1zM407.5 332h1.1v1.1h-1.1zM410.5 314h1.1v1.1h-1.1zM405.5 306h1.1v1.1h-1.1zM400.5 326h1.1v1.1h-1.1zM402.5 322.5h1.1v1.1h-1.1zM399 321h1.1v1.1h-1.1zM410 318h1.1v1.1h-1.1zM410 329.5h1.1v1.1h-1.1zM400 323.5h1.1v1.1h-1.1zM404 334h1.1v1.1h-1.1zM399 332h1.1v1.1h-1.1zM403 318.5h1.1v1.1h-1.1zM399 308.5h1.1v1.1h-1.1zM411 326.5h1.1v1.1h-1.1zM398 318h1.1v1.1h-1.1zM410 312.5h1.1v1.1h-1.1zM399.5 331h1.1v1.1h-1.1zM405.5 333h1.1v1.1h-1.1zM402 335h1.1v1.1h-1.1zM399 324h1.1v1.1h-1.1zM398 325.5h1.1v1.1h-1.1zM404 315.5h1.1v1.1h-1.1zM407 323h1.1v1.1h-1.1zM405.5 325.5h1.1v1.1h-1.1zM406 338h1.1v1.1h-1.1zM401.5 324.5h1.1v1.1h-1.1zM409.5 314h1.1v1.1h-1.1zM401 333.5h1.1v1.1h-1.1zM401.5 319h1.1v1.1h-1.1zM401.5 316h1.1v1.1h-1.1zM404.5 324.5h1.1v1.1h-1.1zM392.5 330.5h1.1v1.1h-1.1zM406 323h1.1v1.1h-1.1zM404.5 315h1.1v1.1h-1.1zM406 321.5h1.1v1.1h-1.1zM424.5 305h1.1v1.1h-1.1zM404 311.5h1.1v1.1h-1.1zM395 332h1.1v1.1h-1.1zM396.5 337.5h1.1v1.1h-1.1zM406.5 326h1.1v1.1h-1.1zM400.5 336.5h1.1v1.1h-1.1zM405.5 328h1.1v1.1h-1.1zM405 341h1.1v1.1h-1.1zM400.5 321h1.1v1.1h-1.1zM389.5 329.5h1.1v1.1h-1.1zM396 326.5h1.1v1.1h-1.1zM398 331.5h1.1v1.1h-1.1zM403.5 331.5h1.1v1.1h-1.1zM397.5 322.5h1.1v1.1h-1.1zM403 315h1.1v1.1h-1.1zM414 305.5h1.1v1.1h-1.1zM397 312h1.1v1.1h-1.1zM390 336.5h1.1v1.1h-1.1zM390 321.5h1.1v1.1h-1.1zM403 332.5h1.1v1.1h-1.1zM400 324h1.1v1.1h-1.1zM416 325h1.1v1.1h-1.1zM394.5 335.5h1.1v1.1h-1.1zM390.5 336.5h1.1v1.1h-1.1zM400.5 334h1.1v1.1h-1.1zM406 320.5h1.1v1.1h-1.1zM412 326h1.1v1.1h-1.1zM414 317.5h1.1v1.1h-1.1zM409 315h1.1v1.1h-1.1zM402 324h1.1v1.1h-1.1zM400 329.5h1.1v1.1h-1.1zM397.5 322.5h1.1v1.1h-1.1zM405.5 333.5h1.1v1.1h-1.1zM402.5 316.5h1.1v1.1h-1.1zM395 318.5h1.1v1.1h-1.1zM400.5 319.5h1.1v1.1h-1.1zM395.5 336h1.1v1.1h-1.1zM404.5 322h1.1v1.1h-1.1zM405 326.5h1.1v1.1h-1.1zM406.5 326.5h1.1v1.1h-1.1zM396.5 316.5h1.1v1.1h-1.1zM398.5 325.5h1.1v1.1h-1.1zM400.5 332.5h1.1v1.1h-1.1zM392 335.5h1.1v1.1h-1.1zM398.5 326h1.1v1.1h-1.1zM400.5 329.5h1.1v1.1h-1.1zM403 326h1.1v1.1h-1.1zM398 332.5h1.1v1.1h-1.1zM412 307.5h1.1v1.1h-1.1zM407 314h1.1v1.1h-1.1zM399 336h1.1v1.1h-1.1zM398 326.5h1.1v1.1h-1.1zM400.5 316.5h1.1v1.1h-1.1zM406 325.5h1.1v1.1h-1.1zM407 324h1.1v1.1h-1.1zM407 314.5h1.1v1.1h-1.1zM405.5 324h1.1v1.1h-1.1zM405 321.5h1.1v1.1h-1.1zM396 333.5h1.1v1.1h-1.1zM399.5 325.5h1.1v1.1h-1.1zM403 326h1.1v1.1h-1.1zM405.5 329.5h1.1v1.1h-1.1zM395 330h1.1v1.1h-1.1zM407.5 317.5h1.1v1.1h-1.1zM409.5 312.5h1.1v1.1h-1.1zM392 323h1.1v1.1h-1.1zM391.5 324h1.1v1.1h-1.1zM395 326.5h1.1v1.1h-1.1zM396.5 325h1.1v1.1h-1.1zM404 321h1.1v1.1h-1.1zM409 315.5h1.1v1.1h-1.1zM410 331h1.1v1.1h-1.1zM400.5 324.5h1.1v1.1h-1.1zM398 316h1.1v1.1h-1.1zM412 321h1.1v1.1h-1.1zM407 330h1.1v1.1h-1.1zM405 323.5h1.1v1.1h-1.1zM399.5 329h1.1v1.1h-1.1zM398.5 319h1.1v1.1h-1.1zM406 329.5h1.1v1.1h-1.1zM402 330h1.1v1.1h-1.1zM401.5 334h1.1v1.1h-1.1zM401 328.5h1.1v1.1h-1.1zM406 340h1.1v1.1h-1.1zM408 331h1.1v1.1h-1.1zM406 332.5h1.1v1.1h-1.1zM403 335h1.1v1.1h-1.1zM391 322h1.1v1.1h-1.1zM405 329.5h1.1v1.1h-1.1zM402 332.5h1.1v1.1h-1.1zM389.5 338.5h1.1v1.1h-1.1zM399 324h1.1v1.1h-1.1zM396 320.5h1.1v1.1h-1.1zM402 320.5h1.1v1.1h-1.1zM402 315h1.1v1.1h-1.1zM406 325.5h1.1v1.1h-1.1zM414 314h1.1v1.1h-1.1zM392.5 330h1.1v1.1h-1.1zM408.5 322h1.1v1.1h-1.1zM394.5 326.5h1.1v1.1h-1.1zM408 316h1.1v1.1h-1.1zM403 319h1.1v1.1h-1.1zM402 334.5h1.1v1.1h-1.1zM381 323h1.1v1.1h-1.1zM404 326h1.1v1.1h-1.1zM406 316h1.1v1.1h-1.1zM402.5 319h1.1v1.1h-1.1zM406.5 321h1.1v1.1h-1.1zM412 336h1.1v1.1h-1.1zM403.5 327.5h1.1v1.1h-1.1zM404.5 329h1.1v1.1h-1.1zM402 331h1.1v1.1h-1.1zM395 336h1.1v1.1h-1.1zM410.5 324h1.1v1.1h-1.1zM408.5 333.5h1.1v1.1h-1.1zM399 328.5h1.1v1.1h-1.1zM399.5 322.5h1.1v1.1h-1.1zM406.5 323h1.1v1.1h-1.1zM403 324.5h1.1v1.1h-1.1zM396.5 340h1.1v1.1h-1.1zM398 315h1.1v1.1h-1.1zM411.5 315h1.1v1.1h-1.1zM399 326h1.1v1.1h-1.1zM400.5 326h1.1v1.1h-1.1zM405.5 321.5h1.1v1.1h-1.1zM406.5 315.5h1.1v1.1h-1.1zM407.5 321.5h1.1v1.1h-1.1zM400 327.5h1.1v1.1h-1.1zM400.5 315.5h1.1v1.1h-1.1zM403 323h1.1v1.1h-1.1zM397 327h1.1v1.1h-1.1zM415 318.5h1.1v1.1h-1.1zM401 337.5h1.1v1.1h-1.1zM409.5 311.5h1.1v1.1h-1.1zM397.5 330h1.1v1.1h-1.1zM398.5 329.5h1.1v1.1h-1.1zM398.5 316h1.1v1.1h-1.1zM398.5 333h1.1v1.1h-1.1zM393 320.5h1.1v1.1h-1.1zM398.5 328h1.1v1.1h-1.1zM405.5 317h1.1v1.1h-1.1zM410.5 318h1.1v1.1h-1.1zM409 326.5h1.1v1.1h-1.1zM409.5 329.5h1.1v1.1h-1.1zM413.5 320.5h1.1v1.1h-1.1zM404 325.5h1.1v1.1h-1.1zM409.5 320.5h1.1v1.1h-1.1zM410.5 329h1.1v1.1h-1.1zM400.5 329.5h1.1v1.1h-1.1zM403.5 307.5h1.1v1.1h-1.1zM408.5 335.5h1.1v1.1h-1.1zM413 314h1.1v1.1h-1.1zM396.5 314.5h1.1v1.1h-1.1zM412.5 313h1.1v1.1h-1.1zM400 324h1.1v1.1h-1.1zM396 324h1.1v1.1h-1.1zM397 316h1.1v1.1h-1.1zM391 334h1.1v1.1h-1.1zM401 321h1.1v1.1h-1.1zM402.5 325h1.1v1.1h-1.1zM411 334h1.1v1.1h-1.1zM407 324.5h1.1v1.1h-1.1zM411.5 304h1.1v1.1h-1.1zM417.5 308.5h1.1v1.1h-1.1zM413.5 315h1.1v1.1h-1.1zM400 328.5h1.1v1.1h-1.1zM398.5 334.5h1.1v1.1h-1.1zM403.5 318.5h1.1v1.1h-1.1zM402 322h1.1v1.1h-1.1zM406.5 324.5h1.1v1.1h-1.1zM400.5 330h1.1v1.1h-1.1zM399 334h1.1v1.1h-1.1zM409.5 329h1.1v1.1h-1.1zM406 315h1.1v1.1h-1.1zM411 325.5h1.1v1.1h-1.1zM411 313.5h1.1v1.1h-1.1zM399 326.5h1.1v1.1h-1.1zM409 327h1.1v1.1h-1.1zM406.5 327.5h1.1v1.1h-1.1zM407 322h1.1v1.1h-1.1zM407.5 316h1.1v1.1h-1.1zM399 332.5h1.1v1.1h-1.1zM400 330h1.1v1.1h-1.1zM395.5 311.5h1.1v1.1h-1.1zM394 338h1.1v1.1h-1.1zM397 334.5h1.1v1.1h-1.1zM392.5 315.5h1.1v1.1h-1.1zM408 332.5h1.1v1.1h-1.1zM405 329h1.1v1.1h-1.1zM402.5 328h1.1v1.1h-1.1zM407 314h1.1v1.1h-1.1zM391.5 323.5h1.1v1.1h-1.1zM415.5 320h1.1v1.1h-1.1zM396.5 333.5h1.1v1.1h-1.1zM404 327.5h1.1v1.1h-1.1zM402.5 337h1.1v1.1h-1.1zM398.5 323h1.1v1.1h-1.1zM406 312h1.1v1.1h-1.1zM401 318h1.1v1.1h-1.1zM408 327.5h1.1v1.1h-1.1zM408 327.5h1.1v1.1h-1.1zM401.5 333.5h1.1v1.1h-1.1zM414.5 324.5h1.1v1.1h-1.1zM407.5 330h1.1v1.1h-1.1zM399.5 328.5h1.1v1.1h-1.1zM399 331.5h1.1v1.1h-1.1zM407 330.5h1.1v1.1h-1.1zM387 338h1.1v1.1h-1.1zM396 323.5h1.1v1.1h-1.1zM403.5 316.5h1.1v1.1h-1.1zM406.5 322.5h1.1v1.1h-1.1zM403 344h1.1v1.1h-1.1zM403 327h1.1v1.1h-1.1zM397 320.5h1.1v1.1h-1.1zM396 321.5h1.1v1.1h-1.1zM412.5 315h1.1v1.1h-1.1zM400.5 332.5h1.1v1.1h-1.1zM404 332.5h1.1v1.1h-1.1zM401.5 315.5h1.1v1.1h-1.1zM411 315.5h1.1v1.1h-1.1zM390 325.5h1.1v1.1h-1.1zM401.5 307h1.1v1.1h-1.1zM397.5 325.5h1.1v1.1h-1.1zM401 323.5h1.1v1.1h-1.1zM404.5 325.5h1.1v1.1h-1.1zM396 320.5h1.1v1.1h-1.1zM410.5 317.5h1.1v1.1h-1.1zM399 328.5h1.1v1.1h-1.1zM407.5 320.5h1.1v1.1h-1.1zM402 333h1.1v1.1h-1.1zM403 332.5h1.1v1.1h-1.1zM407.5 322h1.1v1.1h-1.1zM402.5 326h1.1v1.1h-1.1zM405.5 322.5h1.1v1.1h-1.1zM402.5 342h1.1v1.1h-1.1zM405.5 318.5h1.1v1.1h-1.1zM395 318h1.1v1.1h-1.1zM395 314h1.1v1.1h-1.1zM404 312h1.1v1.1h-1.1zM402 325.5h1.1v1.1h-1.1zM401 323.5h1.1v1.1h-1.1zM399.5 324h1.1v1.1h-1.1zM392 306.5h1.1v1.1h-1.1zM405 334h1.1v1.1h-1.1zM406 326.5h1.1v1.1h-1.1zM400 310.5h1.1v1.1h-1.1zM392 331h1.1v1.1h-1.1zM393 321h1.1v1.1h-1.1zM406 341.5h1.1v1.1h-1.1zM400 327.5h1.1v1.1h-1.1zM402.5 318.5h1.1v1.1h-1.1zM398.5 315.5h1.1v1.1h-1.1zM406.5 332h1.1v1.1h-1.1zM403 318h1.1v1.1h-1.1zM395 323h1.1v1.1h-1.1zM391 330h1.1v1.1h-1.1zM397.5 325h1.1v1.1h-1.1zM395 317h1.1v1.1h-1.1zM394.5 334h1.1v1.1h-1.1zM408.5 318.5h1.1v1.1h-1.1zM408 331.5h1.1v1.1h-1.1zM405 323h1.1v1.1h-1.1zM402.5 330h1.1v1.1h-1.1zM416 330h1.1v1.1h-1.1zM397 331.5h1.1v1.1h-1.1zM402 322.5h1.1v1.1h-1.1zM399 315.5h1.1v1.1h-1.1zM396 326h1.1v1.1h-1.1zM409 310.5h1.1v1.1h-1.1zM401 321h1.1v1.1h-1.1zM397 323h1.1v1.1h-1.1zM396.5 327h1.1v1.1h-1.1zM400.5 333h1.1v1.1h-1.1zM398.5 332h1.1v1.1h-1.1zM394 333.5h1.1v1.1h-1.1zM397 327h1.1v1.1h-1.1zM404 324.5h1.1v1.1h-1.1zM392.5 320.5h1.1v1.1h-1.1zM398 337h1.1v1.1h-1.1zM416 315.5h1.1v1.1h-1.1zM404.5 327.5h1.1v1.1h-1.1zM398.5 328.5h1.1v1.1h-1.1zM403 313h1.1v1.1h-1.1zM400 331.5h1.1v1.1h-1.1zM400.5 322.5h1.1v1.1h-1.1zM408.5 327.5h1.1v1.1h-1.1zM403.5 336.5h1.1v1.1h-1.1zM406 320h1.1v1.1h-1.1zM399.5 329h1.1v1.1h-1.1zM400 321.5h1.1v1.1h-1.1zM406.5 325h1.1v1.1h-1.1zM411 322h1.1v1.1h-1.1zM405 320.5h1.1v1.1h-1.1zM399 327h1.1v1.1h-1.1zM407.5 327h1.1v1.1h-1.1zM405 326.5h1.1v1.1h-1.1zM400 331.5h1.1v1.1h-1.1zM399.5 329h1.1v1.1h-1.1zM402.5 322h1.1v1.1h-1.1zM394 318.5h1.1v1.1h-1.1zM400.5 329h1.1v1.1h-1.1zM393 330.5h1.1v1.1h-1.1zM410 329h1.1v1.1h-1.1zM404.5 322.5h1.1v1.1h-1.1zM406.5 326h1.1v1.1h-1.1zM396.5 326.5h1.1v1.1h-1.1zM407.5 316.5h1.1v1.1h-1.1zM406 318.5h1.1v1.1h-1.1zM398 301.5h1.1v1.1h-1.1zM410 322.5h1.1v1.1h-1.1zM401.5 317.5h1.1v1.1h-1.1zM403.5 328h1.1v1.1h-1.1zM404.5 330.5h1.1v1.1h-1.1zM397.5 321.5h1.1v1.1h-1.1zM400.5 321h1.1v1.1h-1.1zM401.5 326h1.1v1.1h-1.1zM403 326h1.1v1.1h-1.1zM400.5 332.5h1.1v1.1h-1.1zM406.5 315h1.1v1.1h-1.1zM398.5 325.5h1.1v1.1h-1.1zM394.5 341.5h1.1v1.1h-1.1zM403.5 324.5h1.1v1.1h-1.1zM400.5 339h1.1v1.1h-1.1zM404 327h1.1v1.1h-1.1zM413 314.5h1.1v1.1h-1.1zM409 327h1.1v1.1h-1.1zM409.5 327.5h1.1v1.1h-1.1zM403 318h1.1v1.1h-1.1zM403.5 341h1.1v1.1h-1.1zM401.5 335h1.1v1.1h-1.1zM403 333.5h1.1v1.1h-1.1zM406 311h1.1v1.1h-1.1zM407.5 315.5h1.1v1.1h-1.1zM403.5 317h1.1v1.1h-1.1zM398 324.5h1.1v1.1h-1.1zM408 327h1.1v1.1h-1.1zM391.5 338h1.1v1.1h-1.1zM399 333.5h1.1v1.1h-1.1zM404 319h1.1v1.1h-1.1zM413.5 334h1.1v1.1h-1.1zM407.5 318h1.1v1.1h-1.1zM412.5 315h1.1v1.1h-1.1zM405.5 322h1.1v1.1h-1.1zM394.5 340h1.1v1.1h-1.1zM401 305.5h1.1v1.1h-1.1zM398 336h1.1v1.1h-1.1zM402.5 321h1.1v1.1h-1.1zM400 320h1.1v1.1h-1.1zM400.5 306h1.1v1.1h-1.1zM407 321h1.1v1.1h-1.1zM407 317.5h1.1v1.1h-1.1zM414.5 316.5h1.1v1.1h-1.1zM401.5 316.5h1.1v1.1h-1.1zM403.5 322.5h1.1v1.1h-1.1zM407.5 312.5h1.1v1.1h-1.1zM404 324h1.1v1.1h-1.1zM400 334h1.1v1.1h-1.1zM401.5 341.5h1.1v1.1h-1.1zM392.5 325h1.1v1.1h-1.1zM397.5 338.5h1.1v1.1h-1.1zM404 328.5h1.1v1.1h-1.1zM403 336h1.1v1.1h-1.1zM398 317h1.1v1.1h-1.1zM401 313h1.1v1.1h-1.1zM418.5 312.5h1.1v1.1h-1.1zM410.5 324h1.1v1.1h-1.1zM404 329.5h1.1v1.1h-1.1zM396.5 309h1.1v1.1h-1.1zM409 324h1.1v1.1h-1.1zM397 339.5h1.1v1.1h-1.1zM388.5 328h1.1v1.1h-1.1zM406 331h1.1v1.1h-1.1zM414.5 312h1.1v1.1h-1.1zM392.5 332h1.1v1.1h-1.1zM390.5 323.5h1.1v1.1h-1.1zM398 323.5h1.1v1.1h-1.1zM406 310h1.1v1.1h-1.1zM400.5 333.5h1.1v1.1h-1.1zM400 342h1.1v1.1h-1.1zM398.5 322h1.1v1.1h-1.1zM406 325h1.1v1.1h-1.1zM409 317.5h1.1v1.1h-1.1zM401.5 323h1.1v1.1h-1.1zM411 322h1.1v1.1h-1.1zM401 326.5h1.1v1.1h-1.1zM405.5 323h1.1v1.1h-1.1zM402.5 326.5h1.1v1.1h-1.1zM400.5 331.5h1.1v1.1h-1.1zM401.5 342.5h1.1v1.1h-1.1zM389 336.5h1.1v1.1h-1.1zM403.5 329h1.1v1.1h-1.1zM414 314.5h1.1v1.1h-1.1zM412 315h1.1v1.1h-1.1zM407.5 323h1.1v1.1h-1.1zM405.5 323h1.1v1.1h-1.1zM395 329.5h1.1v1.1h-1.1zM406.5 318h1.1v1.1h-1.1zM394.5 328h1.1v1.1h-1.1zM405.5 321h1.1v1.1h-1.1zM409 322.5h1.1v1.1h-1.1zM392 329h1.1v1.1h-1.1zM400 330.5h1.1v1.1h-1.1zM408 327h1.1v1.1h-1.1zM404.5 321h1.1v1.1h-1.1zM402.5 332.5h1.1v1.1h-1.1zM411 324.5h1.1v1.1h-1.1zM412 332.5h1.1v1.1h-1.1zM399.5 309.5h1.1v1.1h-1.1zM392 325.5h1.1v1.1h-1.1zM399.5 321.5h1.1v1.1h-1.1zM403.5 336.5h1.1v1.1h-1.1zM416.5 322h1.1v1.1h-1.1zM409.5 326.5h1.1v1.1h-1.1zM399 328h1.1v1.1h-1.1zM410 319h1.1v1.1h-1.1zM399 324.5h1.1v1.1h-1.1zM398 327.5h1.1v1.1h-1.1zM398 312h1.1v1.1h-1.1zM402.5 321.5h1.1v1.1h-1.1zM407 317h1.1v1.1h-1.1zM405.5 323h1.1v1.1h-1.1zM397 324h1.1v1.1h-1.1zM402.5 315.5h1.1v1.1h-1.1zM388.5 325.5h1.1v1.1h-1.1zM397.5 316h1.1v1.1h-1.1zM388.5 326.5h1.1v1.1h-1.1zM400.5 333h1.1v1.1h-1.1zM414 314.5h1.1v1.1h-1.1zM407 334.5h1.1v1.1h-1.1zM396 316h1.1v1.1h-1.1zM406 330h1.1v1.1h-1.1zM405.5 319.5h1.1v1.1h-1.1zM398.5 333.5h1.1v1.1h-1.1zM401 318h1.1v1.1h-1.1zM394.5 333h1.1v1.1h-1.1zM411 333.5h1.1v1.1h-1.1zM401.5 319.5h1.1v1.1h-1.1zM394 334.5h1.1v1.1h-1.1zM391.5 338.5h1.1v1.1h-1.1zM410.5 310.5h1.1v1.1h-1.1zM392 331h1.1v1.1h-1.1zM400 325h1.1v1.1h-1.1zM397 319h1.1v1.1h-1.1zM398.5 331h1.1v1.1h-1.1zM403 328.5h1.1v1.1h-1.1zM406 325.5h1.1v1.1h-1.1zM398.5 321h1.1v1.1h-1.1zM399 326h1.1v1.1h-1.1zM405.5 322.5h1.1v1.1h-1.1zM403.5 326h1.1v1.1h-1.1zM408 329h1.1v1.1h-1.1zM393 325.5h1.1v1.1h-1.1zM408.5 317h1.1v1.1h-1.1zM409.5 332h1.1v1.1h-1.1zM394.5 333h1.1v1.1h-1.1zM402 315.5h1.1v1.1h-1.1zM405 332h1.1v1.1h-1.1zM403.5 335h1.1v1.1h-1.1zM408.5 333h1.1v1.1h-1.1zM411 327.5h1.1v1.1h-1.1zM410 316.5h1.1v1.1h-1.1zM395.5 324.5h1.1v1.1h-1.1zM411.5 324h1.1v1.1h-1.1zM408.5 326.5h1.1v1.1h-1.1zM397.5 323h1.1v1.1h-1.1zM396.5 331h1.1v1.1h-1.1zM406.5 326h1.1v1.1h-1.1zM399 316.5h1.1v1.1h-1.1zM399 323.5h1.1v1.1h-1.1zM396 344.5h1.1v1.1h-1.1zM409.5 314.5h1.1v1.1h-1.1zM400 327h1.1v1.1h-1.1zM409.5 314.5h1.1v1.1h-1.1zM394.5 326h1.1v1.1h-1.1zM398 327h1.1v1.1h-1.1zM404 317.5h1.1v1.1h-1.1zM407.5 327.5h1.1v1.1h-1.1zM415 329.5h1.1v1.1h-1.1zM403.5 329.5h1.1v1.1h-1.1zM400.5 311.5h1.1v1.1h-1.1zM395 327.5h1.1v1.1h-1.1zM411.5 318h1.1v1.1h-1.1zM403.5 324.5h1.1v1.1h-1.1zM404.5 332h1.1v1.1h-1.1zM404 315h1.1v1.1h-1.1zM404.5 329h1.1v1.1h-1.1zM402 320.5h1.1v1.1h-1.1zM404 328h1.1v1.1h-1.1zM404.5 324.5h1.1v1.1h-1.1zM404 325h1.1v1.1h-1.1zM408.5 329h1.1v1.1h-1.1zM405.5 334h1.1v1.1h-1.1zM394 318.5h1.1v1.1h-1.1zM395 329h1.1v1.1h-1.1zM398 309h1.1v1.1h-1.1zM403.5 320.5h1.1v1.1h-1.1zM407 332.5h1.1v1.1h-1.1zM408 313.5h1.1v1.1h-1.1zM405.5 319h1.1v1.1h-1.1zM402.5 319h1.1v1.1h-1.1zM395.5 324h1.1v1.1h-1.1zM404.5 328h1.1v1.1h-1.1zM405.5 327.5h1.1v1.1h-1.1zM397 321h1.1v1.1h-1.1zM406 314.5h1.1v1.1h-1.1zM405 322.5h1.1v1.1h-1.1zM398 332h1.1v1.1h-1.1zM405 326.5h1.1v1.1h-1.1zM405 332.5h1.1v1.1h-1.1zM399 331h1.1v1.1h-1.1zM402 323.5h1.1v1.1h-1.1zM403 328h1.1v1.1h-1.1zM401 317.5h1.1v1.1h-1.1zM392 339.5h1.1v1.1h-1.1zM404 320.5h1.1v1.1h-1.1zM393.5 324.5h1.1v1.1h-1.1zM407 319.5h1.1v1.1h-1.1zM404.5 328h1.1v1.1h-1.1zM409 318.5h1.1v1.1h-1.1zM403.5 311h1.1v1.1h-1.1zM400 339h1.1v1.1h-1.1zM402 321.5h1.1v1.1h-1.1zM395.5 314.5h1.1v1.1h-1.1zM407.5 307.5h1.1v1.1h-1.1zM405.5 322h1.1v1.1h-1.1zM402.5 311.5h1.1v1.1h-1.1zM410.5 315.5h1.1v1.1h-1.1zM394 316h1.1v1.1h-1.1zM403.5 320.5h1.1v1.1h-1.1zM396.5 328h1.1v1.1h-1.1zM392 316.5h1.1v1.1h-1.1zM400 337h1.1v1.1h-1.1zM397 320h1.1v1.1h-1.1zM412 321.5h1.1v1.1h-1.1zM399 338.5h1.1v1.1h-1.1zM393 334h1.1v1.1h-1.1zM413 325.5h1.1v1.1h-1.1zM406.5 311h1.1v1.1h-1.1zM408 309.5h1.1v1.1h-1.1zM405 323h1.1v1.1h-1.1zM405.5 324.5h1.1v1.1h-1.1zM410.5 327h1.1v1.1h-1.1zM410.5 324h1.1v1.1h-1.1zM400 325.5h1.1v1.1h-1.1zM410 318.5h1.1v1.1h-1.1zM387.5 328.5h1.1v1.1h-1.1zM401 324.5h1.1v1.1h-1.1zM400.5 315h1.1v1.1h-1.1zM401.5 320.5h1.1v1.1h-1.1zM405 324h1.1v1.1h-1.1zM403.5 327.5h1.1v1.1h-1.1zM412 318.5h1.1v1.1h-1.1zM390.5 335.5h1.1v1.1h-1.1zM398 332.5h1.1v1.1h-1.1zM405.5 328.5h1.1v1.1h-1.1zM405 325.5h1.1v1.1h-1.1zM395.5 324.5h1.1v1.1h-1.1zM400.5 333h1.1v1.1h-1.1zM399.5 331h1.1v1.1h-1.1zM402 322h1.1v1.1h-1.1zM401.5 330.5h1.1v1.1h-1.1zM394.5 335.5h1.1v1.1h-1.1zM397.5 327h1.1v1.1h-1.1zM394.5 328.5h1.1v1.1h-1.1zM402 315h1.1v1.1h-1.1zM409 317.5h1.1v1.1h-1.1zM411 323h1.1v1.1h-1.1zM408 325h1.1v1.1h-1.1zM403.5 316.5h1.1v1.1h-1.1zM391 341.5h1.1v1.1h-1.1zM403.5 324h1.1v1.1h-1.1zM392.5 328h1.1v1.1h-1.1zM395.5 319.5h1.1v1.1h-1.1zM397.5 330h1.1v1.1h-1.1zM402.5 316h1.1v1.1h-1.1zM402.5 329h1.1v1.1h-1.1zM393.5 324h1.1v1.1h-1.1zM390.5 334h1.1v1.1h-1.1zM404 311.5h1.1v1.1h-1.1zM401.5 325.5h1.1v1.1h-1.1zM392 335.5h1.1v1.1h-1.1zM404.5 323.5h1.1v1.1h-1.1zM395 333h1.1v1.1h-1.1zM406.5 320.5h1.1v1.1h-1.1zM408 334.5h1.1v1.1h-1.1zM413.5 318.5h1.1v1.1h-1.1zM403.5 315.5h1.1v1.1h-1.1zM394 313.5h1.1v1.1h-1.1zM414.5 330.5h1.1v1.1h-1.1zM391.5 323.5h1.1v1.1h-1.1zM401 332.5h1.1v1.1h-1.1zM397 318.5h1.1v1.1h-1.1zM402.5 317.5h1.1v1.1h-1.1zM407.5 333h1.1v1.1h-1.1zM408.5 314h1.1v1.1h-1.1zM394.5 332h1.1v1.1h-1.1zM385.5 323h1.1v1.1h-1.1zM406.5 312.5h1.1v1.1h-1.1zM408.5 320h1.1v1.1h-1.1zM404 318.5h1.1v1.1h-1.1zM408.5 314h1.1v1.1h-1.1zM398.5 328.5h1.1v1.1h-1.1zM399.5 314.5h1.1v1.1h-1.1zM391 335h1.1v1.1h-1.1zM404.5 324.5h1.1v1.1h-1.1zM396.5 315h1.1v1.1h-1.1zM405 326.5h1.1v1.1h-1.1zM397 328.5h1.1v1.1h-1.1zM395 343.5h1.1v1.1h-1.1zM388 336.5h1.1v1.1h-1.1zM399.5 330.5h1.1v1.1h-1.1zM398 338h1.1v1.1h-1.1zM403.5 309.5h1.1v1.1h-1.1zM393.5 318h1.1v1.1h-1.1zM402.5 316.5h1.1v1.1h-1.1zM397 317h1.1v1.1h-1.1zM399 330h1.1v1.1h-1.1zM395 330h1.1v1.1h-1.1zM398 344.5h1.1v1.1h-1.1zM403 316h1.1v1.1h-1.1zM408.5 314.5h1.1v1.1h-1.1zM397.5 331h1.1v1.1h-1.1zM401.5 326.5h1.1v1.1h-1.1zM407 324.5h1.1v1.1h-1.1zM399 321h1.1v1.1h-1.1zM410.5 325.5h1.1v1.1h-1.1zM399 328h1.1v1.1h-1.1zM401.5 321.5h1.1v1.1h-1.1zM406 329h1.1v1.1h-1.1zM403 311h1.1v1.1h-1.1zM407 328h1.1v1.1h-1.1zM408.5 334.5h1.1v1.1h-1.1zM406.5 318h1.1v1.1h-1.1zM403 340.5h1.1v1.1h-1.1zM394 335h1.1v1.1h-1.1zM401 321.5h1.1v1.1h-1.1zM404 332.5h1.1v1.1h-1.1zM397.5 317.5h1.1v1.1h-1.1zM405.5 314.5h1.1v1.1h-1.1zM402.5 320.5h1.1v1.1h-1.1zM402.5 327.5h1.1v1.1h-1.1zM399.5 319.5h1.1v1.1h-1.1zM402 318h1.1v1.1h-1.1zM403.5 316.5h1.1v1.1h-1.1zM400 338.5h1.1v1.1h-1.1zM404 328.5h1.1v1.1h-1.1zM394 317h1.1v1.1h-1.1zM401.5 315h1.1v1.1h-1.1zM404.5 325h1.1v1.1h-1.1zM391.5 339h1.1v1.1h-1.1zM400 323.5h1.1v1.1h-1.1zM401.5 336h1.1v1.1h-1.1zM397.5 332.5h1.1v1.1h-1.1zM405.5 315.5h1.1v1.1h-1.1zM412 314h1.1v1.1h-1.1zM409.5 326h1.1v1.1h-1.1zM403.5 329h1.1v1.1h-1.1zM406.5 319h1.1v1.1h-1.1zM413 319h1.1v1.1h-1.1zM401 316.5h1.1v1.1h-1.1zM403.5 329h1.1v1.1h-1.1zM405.5 330.5h1.1v1.1h-1.1zM408 322h1.1v1.1h-1.1zM398.5 332h1.1v1.1h-1.1zM405.5 332h1.1v1.1h-1.1zM390 325.5h1.1v1.1h-1.1zM405 334h1.1v1.1h-1.1zM399 322h1.1v1.1h-1.1zM401 331.5h1.1v1.1h-1.1zM416.5 320h1.1v1.1h-1.1zM401 326h1.1v1.1h-1.1zM391.5 332.5h1.1v1.1h-1.1zM403.5 338h1.1v1.1h-1.1zM406 321.5h1.1v1.1h-1.1zM400 330.5h1.1v1.1h-1.1zM401 335.5h1.1v1.1h-1.1zM404.5 333h1.1v1.1h-1.1zM403.5 327h1.1v1.1h-1.1zM394 326h1.1v1.1h-1.1zM397 332.5h1.1v1.1h-1.1zM404 324.5h1.1v1.1h-1.1zM404 321.5h1.1v1.1h-1.1zM402 332h1.1v1.1h-1.1zM409 333h1.1v1.1h-1.1zM406.5 327.5h1.1v1.1h-1.1zM399 325.5h1.1v1.1h-1.1zM405.5 319.5h1.1v1.1h-1.1zM407.5 330h1.1v1.1h-1.1zM394 333h1.1v1.1h-1.1zM399 330h1.1v1.1h-1.1zM402 323.5h1.1v1.1h-1.1zM391 327h1.1v1.1h-1.1zM409 311h1.1v1.1h-1.1zM409.5 326.5h1.1v1.1h-1.1zM386 328h1.1v1.1h-1.1zM396 316.5h1.1v1.1h-1.1zM409 315h1.1v1.1h-1.1zM413 309h1.1v1.1h-1.1zM404.5 313h1.1v1.1h-1.1zM412.5 327.5h1.1v1.1h-1.1zM405 322h1.1v1.1h-1.1zM403 318.5h1.1v1.1h-1.1zM411.5 316h1.1v1.1h-1.1zM398 317.5h1.1v1.1h-1.1zM398.5 318h1.1v1.1h-1.1zM401 328h1.1v1.1h-1.1zM400 322.5h1.1v1.1h-1.1zM394.5 326h1.1v1.1h-1.1zM395.5 313h1.1v1.1h-1.1zM413 312h1.1v1.1h-1.1zM401.5 332.5h1.1v1.1h-1.1zM398 324h1.1v1.1h-1.1zM393 332.5h1.1v1.1h-1.1zM395.5 323h1.1v1.1h-1.1zM400 333h1.1v1.1h-1.1zM393.5 334.5h1.1v1.1h-1.1zM408 329h1.1v1.1h-1.1zM398.5 328.5h1.1v1.1h-1.1zM404.5 318h1.1v1.1h-1.1zM397 324.5h1.1v1.1h-1.1zM401 324.5h1.1v1.1h-1.1zM391 329h1.1v1.1h-1.1zM396 323h1.1v1.1h-1.1zM397.5 321h1.1v1.1h-1.1zM405 321h1.1v1.1h-1.1zM395 325h1.1v1.1h-1.1zM408.5 328.5h1.1v1.1h-1.1zM395.5 329h1.1v1.1h-1.1zM401 341h1.1v1.1h-1.1zM403 329.5h1.1v1.1h-1.1zM399.5 319.5h1.1v1.1h-1.1zM396 326h1.1v1.1h-1.1zM395.5 333.5h1.1v1.1h-1.1zM402 339.5h1.1v1.1h-1.1zM396 323h1.1v1.1h-1.1zM411.5 319.5h1.1v1.1h-1.1zM405 325.5h1.1v1.1h-1.1zM399 327.5h1.1v1.1h-1.1zM393 319.5h1.1v1.1h-1.1zM407 327h1.1v1.1h-1.1zM413 322h1.1v1.1h-1.1zM395.5 339.5h1.1v1.1h-1.1zM391 328.5h1.1v1.1h-1.1zM405.5 336h1.1v1.1h-1.1zM412.5 325h1.1v1.1h-1.1zM404.5 328h1.1v1.1h-1.1zM395 328.5h1.1v1.1h-1.1zM398 318.5h1.1v1.1h-1.1zM405.5 307.5h1.1v1.1h-1.1zM395 324.5h1.1v1.1h-1.1zM403 309h1.1v1.1h-1.1zM404.5 324h1.1v1.1h-1.1zM407.5 313h1.1v1.1h-1.1zM395 315.5h1.1v1.1h-1.1zM402 335.5h1.1v1.1h-1.1zM405.5 333.5h1.1v1.1h-1.1zM400.5 337.5h1.1v1.1h-1.1zM406 319.5h1.1v1.1h-1.1zM399.5 321h1.1v1.1h-1.1zM395.5 328h1.1v1.1h-1.1zM392.5 331h1.1v1.1h-1.1zM399 335h1.1v1.1h-1.1zM400.5 325h1.1v1.1h-1.1zM407 319h1.1v1.1h-1.1zM402.5 323.5h1.1v1.1h-1.1zM394.5 317.5h1.1v1.1h-1.1zM404 328h1.1v1.1h-1.1zM412 317.5h1.1v1.1h-1.1zM396.5 341.5h1.1v1.1h-1.1zM402.5 320.5h1.1v1.1h-1.1zM389.5 332h1.1v1.1h-1.1zM415 314h1.1v1.1h-1.1zM406.5 330h1.1v1.1h-1.1zM409 336h1.1v1.1h-1.1zM402 343h1.1v1.1h-1.1zM403.5 321h1.1v1.1h-1.1zM400.5 336.5h1.1v1.1h-1.1zM397.5 334h1.1v1.1h-1.1zM412.5 330h1.1v1.1h-1.1zM408 324h1.1v1.1h-1.1zM398 330h1.1v1.1h-1.1zM399 328.5h1.1v1.1h-1.1zM402 318.5h1.1v1.1h-1.1zM404 325.5h1.1v1.1h-1.1zM412 333h1.1v1.1h-1.1zM391.5 320.5h1.1v1.1h-1.1zM397 334.5h1.1v1.1h-1.1zM389.5 324h1.1v1.1h-1.1zM397.5 328h1.1v1.1h-1.1zM401.5 337h1.1v1.1h-1.1zM412 312h1.1v1.1h-1.1zM407.5 333h1.1v1.1h-1.1zM407 309.5h1.1v1.1h-1.1zM399.5 338.5h1.1v1.1h-1.1zM414 315.5h1.1v1.1h-1.1zM409.5 348h1.1v1.1h-1.1zM400 324h1.1v1.1h-1.1zM398.5 318.5h1.1v1.1h-1.1zM406.5 315.5h1.1v1.1h-1.1zM395 328h1.1v1.1h-1.1zM397 322h1.1v1.1h-1.1zM405.5 324.5h1.1v1.1h-1.1zM402.5 319h1.1v1.1h-1.1zM399.5 335h1.1v1.1h-1.1zM402 340.5h1.1v1.1h-1.1zM401 320h1.1v1.1h-1.1zM400.5 332.5h1.1v1.1h-1.1zM403.5 324.5h1.1v1.1h-1.1zM392 335.5h1.1v1.1h-1.1zM407 330.5h1.1v1.1h-1.1zM400.5 327h1.1v1.1h-1.1zM401 323.5h1.1v1.1h-1.1zM402 308h1.1v1.1h-1.1zM405.5 341h1.1v1.1h-1.1zM417 308h1.1v1.1h-1.1zM397.5 336h1.1v1.1h-1.1zM397 325h1.1v1.1h-1.1zM401 329.5h1.1v1.1h-1.1zM399 317h1.1v1.1h-1.1zM392 335h1.1v1.1h-1.1zM399.5 321.5h1.1v1.1h-1.1zM399 321.5h1.1v1.1h-1.1zM411 317h1.1v1.1h-1.1zM407.5 323h1.1v1.1h-1.1zM390.5 323h1.1v1.1h-1.1zM389 330h1.1v1.1h-1.1zM412.5 311.5h1.1v1.1h-1.1zM400.5 334h1.1v1.1h-1.1zM390.5 323h1.1v1.1h-1.1zM398.5 331.5h1.1v1.1h-1.1zM410 316.5h1.1v1.1h-1.1zM404.5 316.5h1.1v1.1h-1.1zM414.5 314h1.1v1.1h-1.1zM412 321.5h1.1v1.1h-1.1zM400.5 329h1.1v1.1h-1.1zM408 330h1.1v1.1h-1.1zM394 328.5h1.1v1.1h-1.1zM405.5 329h1.1v1.1h-1.1zM405 317h1.1v1.1h-1.1zM404 307.5h1.1v1.1h-1.1zM405.5 332h1.1v1.1h-1.1zM415 319h1.1v1.1h-1.1zM397 330.5h1.1v1.1h-1.1zM399 313h1.1v1.1h-1.1zM403 325.5h1.1v1.1h-1.1zM401 326.5h1.1v1.1h-1.1zM407.5 331h1.1v1.1h-1.1zM403 317h1.1v1.1h-1.1zM394.5 331.5h1.1v1.1h-1.1zM405 322.5h1.1v1.1h-1.1zM400 327.5h1.1v1.1h-1.1zM394.5 337.5h1.1v1.1h-1.1zM408 323.5h1.1v1.1h-1.1zM397.5 332h1.1v1.1h-1.1zM400 328.5h1.1v1.1h-1.1zM406.5 323.5h1.1v1.1h-1.1zM398 326h1.1v1.1h-1.1zM397.5 325.5h1.1v1.1h-1.1zM399 327h1.1v1.1h-1.1zM403.5 324.5h1.1v1.1h-1.1zM402 325.5h1.1v1.1h-1.1zM409 316h1.1v1.1h-1.1zM397.5 316h1.1v1.1h-1.1zM410 316.5h1.1v1.1h-1.1zM406 310.5h1.1v1.1h-1.1zM407 334h1.1v1.1h-1.1zM402.5 316h1.1v1.1h-1.1zM394 323.5h1.1v1.1h-1.1zM400.5 329.5h1.1v1.1h-1.1zM406.5 318.5h1.1v1.1h-1.1zM409 321h1.1v1.1h-1.1zM399.5 333.5h1.1v1.1h-1.1zM402 318h1.1v1.1h-1.1zM405 335.5h1.1v1.1h-1.1zM407.5 315h1.1v1.1h-1.1zM404 329h1.1v1.1h-1.1zM395.5 320.5h1.1v1.1h-1.1zM396.5 322h1.1v1.1h-1.1zM403.5 311h1.1v1.1h-1.1zM399.5 333h1.1v1.1h-1.1zM417 320.5h1.1v1.1h-1.1zM395 315h1.1v1.1h-1.1zM403.5 335h1.1v1.1h-1.1zM398.5 319h1.1v1.1h-1.1zM405.5 320h1.1v1.1h-1.1zM414 312.5h1.1v1.1h-1.1zM390 315.5h1.1v1.1h-1.1zM401 342.5h1.1v1.1h-1.1zM399.5 318h1.1v1.1h-1.1zM405.5 315.5h1.1v1.1h-1.1zM399 334h1.1v1.1h-1.1zM403.5 321.5h1.1v1.1h-1.1zM396.5 318h1.1v1.1h-1.1zM409 328.5h1.1v1.1h-1.1zM408.5 340.5h1.1v1.1h-1.1zM399.5 329.5h1.1v1.1h-1.1zM389 323h1.1v1.1h-1.1zM400.5 318.5h1.1v1.1h-1.1zM401.5 318h1.1v1.1h-1.1zM396 317.5h1.1v1.1h-1.1zM411 313h1.1v1.1h-1.1zM392.5 325h1.1v1.1h-1.1zM414.5 316.5h1.1v1.1h-1.1zM404 323.5h1.1v1.1h-1.1zM407 335.5h1.1v1.1h-1.1zM396.5 314.5h1.1v1.1h-1.1zM395 329h1.1v1.1h-1.1zM405 323.5h1.1v1.1h-1.1zM414.5 307h1.1v1.1h-1.1zM401 338h1.1v1.1h-1.1zM411 327.5h1.1v1.1h-1.1zM405 308h1.1v1.1h-1.1zM397.5 340h1.1v1.1h-1.1zM405.5 312.5h1.1v1.1h-1.1zM408 325h1.1v1.1h-1.1zM402 336h1.1v1.1h-1.1zM407 319.5h1.1v1.1h-1.1zM405 329.5h1.1v1.1h-1.1zM411.5 310h1.1v1.1h-1.1zM400.5 318.5h1.1v1.1h-1.1zM400.5 318.5h1.1v1.1h-1.1zM407.5 320.5h1.1v1.1h-1.1zM393 341.5h1.1v1.1h-1.1zM402.5 336.5h1.1v1.1h-1.1zM400 315.5h1.1v1.1h-1.1zM400 312.5h1.1v1.1h-1.1zM408.5 321.5h1.1v1.1h-1.1zM404.5 315h1.1v1.1h-1.1zM402.5 313.5h1.1v1.1h-1.1zM408.5 319h1.1v1.1h-1.1zM395 330h1.1v1.1h-1.1zM407.5 318.5h1.1v1.1h-1.1zM399 322.5h1.1v1.1h-1.1zM405.5 318.5h1.1v1.1h-1.1zM412.5 323.5h1.1v1.1h-1.1zM403.5 331.5h1.1v1.1h-1.1zM397.5 327.5h1.1v1.1h-1.1zM393.5 322h1.1v1.1h-1.1zM398.5 327h1.1v1.1h-1.1zM398 322.5h1.1v1.1h-1.1zM396 316h1.1v1.1h-1.1zM395.5 326.5h1.1v1.1h-1.1zM398.5 327h1.1v1.1h-1.1zM398 331.5h1.1v1.1h-1.1zM401 329.5h1.1v1.1h-1.1zM400 322h1.1v1.1h-1.1zM411 314h1.1v1.1h-1.1zM400 327.5h1.1v1.1h-1.1zM400.5 334.5h1.1v1.1h-1.1zM403.5 324.5h1.1v1.1h-1.1zM403.5 325.5h1.1v1.1h-1.1zM398 317.5h1.1v1.1h-1.1zM397 315h1.1v1.1h-1.1zM399.5 324.5h1.1v1.1h-1.1zM398.5 319.5h1.1v1.1h-1.1zM408.5 301.5h1.1v1.1h-1.1zM396 328h1.1v1.1h-1.1zM399.5 332h1.1v1.1h-1.1zM402.5 337.5h1.1v1.1h-1.1zM405 317h1.1v1.1h-1.1zM411 313h1.1v1.1h-1.1zM400 322h1.1v1.1h-1.1zM401 318h1.1v1.1h-1.1zM411 329h1.1v1.1h-1.1zM410 323.5h1.1v1.1h-1.1zM401.5 315.5h1.1v1.1h-1.1zM396 331.5h1.1v1.1h-1.1zM405.5 322h1.1v1.1h-1.1zM394 329h1.1v1.1h-1.1zM410.5 308h1.1v1.1h-1.1zM407 302.5h1.1v1.1h-1.1zM395 330h1.1v1.1h-1.1zM408 316.5h1.1v1.1h-1.1zM396.5 326h1.1v1.1h-1.1zM400 326h1.1v1.1h-1.1zM409.5 318h1.1v1.1h-1.1zM395 339h1.1v1.1h-1.1zM390.5 333.5h1.1v1.1h-1.1zM395 309h1.1v1.1h-1.1zM404 321.5h1.1v1.1h-1.1zM403 327h1.1v1.1h-1.1zM397 328.5h1.1v1.1h-1.1zM390 330.5h1.1v1.1h-1.1zM399.5 319h1.1v1.1h-1.1zM396 325.5h1.1v1.1h-1.1zM406.5 321.5h1.1v1.1h-1.1zM390.5 335h1.1v1.1h-1.1zM406.5 322h1.1v1.1h-1.1zM400.5 323.5h1.1v1.1h-1.1zM403.5 325h1.1v1.1h-1.1zM404.5 319h1.1v1.1h-1.1zM405 330h1.1v1.1h-1.1zM395.5 324h1.1v1.1h-1.1zM406.5 335.5h1.1v1.1h-1.1zM394.5 324h1.1v1.1h-1.1zM406.5 325h1.1v1.1h-1.1zM402 323h1.1v1.1h-1.1zM399 333.5h1.1v1.1h-1.1zM402 330h1.1v1.1h-1.1zM403.5 317h1.1v1.1h-1.1zM403 338h1.1v1.1h-1.1zM407.5 333h1.1v1.1h-1.1zM403.5 329h1.1v1.1h-1.1zM401 324h1.1v1.1h-1.1zM416.5 308h1.1v1.1h-1.1zM398 333h1.1v1.1h-1.1zM396 324h1.1v1.1h-1.1zM405.5 326h1.1v1.1h-1.1zM409.5 305.5h1.1v1.1h-1.1zM409.5 318h1.1v1.1h-1.1zM409.5 330.5h1.1v1.1h-1.1zM411 329.5h1.1v1.1h-1.1zM398.5 328.5h1.1v1.1h-1.1zM408 329h1.1v1.1h-1.1zM396 321.5h1.1v1.1h-1.1zM405 337.5h1.1v1.1h-1.1zM397.5 324h1.1v1.1h-1.1zM404.5 317h1.1v1.1h-1.1zM405.5 319h1.1v1.1h-1.1zM405.5 327h1.1v1.1h-1.1zM401.5 331.5h1.1v1.1h-1.1zM399 317h1.1v1.1h-1.1zM409.5 325.5h1.1v1.1h-1.1zM411.5 328h1.1v1.1h-1.1zM401 334.5h1.1v1.1h-1.1zM391.5 330h1.1v1.1h-1.1zM403 328h1.1v1.1h-1.1zM408.5 311h1.1v1.1h-1.1zM401 314.5h1.1v1.1h-1.1zM400.5 340.5h1.1v1.1h-1.1zM407.5 324h1.1v1.1h-1.1zM410.5 319.5h1.1v1.1h-1.1zM397.5 338h1.1v1.1h-1.1zM396.5 327h1.1v1.1h-1.1zM400.5 323.5h1.1v1.1h-1.1zM394.5 334.5h1.1v1.1h-1.1zM405.5 331.5h1.1v1.1h-1.1zM394.5 312.5h1.1v1.1h-1.1zM411 306h1.1v1.1h-1.1zM400 332h1.1v1.1h-1.1zM401 332.5h1.1v1.1h-1.1zM408 311.5h1.1v1.1h-1.1zM406.5 323.5h1.1v1.1h-1.1zM405 333h1.1v1.1h-1.1zM406.5 329.5h1.1v1.1h-1.1zM399 328.5h1.1v1.1h-1.1zM414.5 331.5h1.1v1.1h-1.1zM394.5 323.5h1.1v1.1h-1.1zM399.5 327.5h1.1v1.1h-1.1zM397 329h1.1v1.1h-1.1zM396.5 322.5h1.1v1.1h-1.1zM409.5 317.5h1.1v1.1h-1.1zM411 326.5h1.1v1.1h-1.1zM410.5 325h1.1v1.1h-1.1zM405 326.5h1.1v1.1h-1.1zM392.5 316h1.1v1.1h-1.1zM393 340h1.1v1.1h-1.1zM396 330.5h1.1v1.1h-1.1zM397.5 328.5h1.1v1.1h-1.1zM405 324h1.1v1.1h-1.1zM405 332h1.1v1.1h-1.1zM402 321h1.1v1.1h-1.1zM392.5 328.5h1.1v1.1h-1.1zM406.5 318.5h1.1v1.1h-1.1zM402.5 334.5h1.1v1.1h-1.1zM392 340h1.1v1.1h-1.1zM404.5 321h1.1v1.1h-1.1zM397.5 344h1.1v1.1h-1.1zM414 314h1.1v1.1h-1.1zM394 327.5h1.1v1.1h-1.1zM406.5 325h1.1v1.1h-1.1zM400 319.5h1.1v1.1h-1.1zM389.5 329.5h1.1v1.1h-1.1zM393.5 321h1.1v1.1h-1.1zM393.5 323.5h1.1v1.1h-1.1zM400 327h1.1v1.1h-1.1zM409.5 329.5h1.1v1.1h-1.1zM405 316.5h1.1v1.1h-1.1zM411.5 306h1.1v1.1h-1.1zM407 314h1.1v1.1h-1.1zM410 309.5h1.1v1.1h-1.1zM403 322h1.1v1.1h-1.1zM406 327h1.1v1.1h-1.1zM406.5 329h1.1v1.1h-1.1zM400 314.5h1.1v1.1h-1.1zM403.5 338.5h1.1v1.1h-1.1zM398 317h1.1v1.1h-1.1zM401 324.5h1.1v1.1h-1.1zM397 327.5h1.1v1.1h-1.1zM400.5 318h1.1v1.1h-1.1zM400 331h1.1v1.1h-1.1zM408.5 315h1.1v1.1h-1.1zM398 325h1.1v1.1h-1.1zM397.5 319h1.1v1.1h-1.1zM403.5 317.5h1.1v1.1h-1.1zM399 325.5h1.1v1.1h-1.1zM399 322h1.1v1.1h-1.1zM403 321h1.1v1.1h-1.1zM404 326h1.1v1.1h-1.1zM403 315h1.1v1.1h-1.1zM409 319h1.1v1.1h-1.1zM412.5 306.5h1.1v1.1h-1.1zM409 326h1.1v1.1h-1.1zM400.5 323h1.1v1.1h-1.1zM394.5 333.5h1.1v1.1h-1.1zM395.5 324h1.1v1.1h-1.1zM402.5 323h1.1v1.1h-1.1zM393 326h1.1v1.1h-1.1zM404 319h1.1v1.1h-1.1zM399 319.5h1.1v1.1h-1.1zM401.5 334h1.1v1.1h-1.1zM405.5 325h1.1v1.1h-1.1zM403 322.5h1.1v1.1h-1.1zM389.5 331.5h1.1v1.1h-1.1zM392 328h1.1v1.1h-1.1zM410.5 335.5h1.1v1.1h-1.1zM400.5 335h1.1v1.1h-1.1zM410.5 320h1.1v1.1h-1.1zM401 318h1.1v1.1h-1.1zM403.5 336.5h1.1v1.1h-1.1zM398 314.5h1.1v1.1h-1.1zM405 323h1.1v1.1h-1.1zM407 326.5h1.1v1.1h-1.1zM403 330h1.1v1.1h-1.1zM407.5 311.5h1.1v1.1h-1.1zM403.5 323h1.1v1.1h-1.1zM389.5 324h1.1v1.1h-1.1zM405.5 322h1.1v1.1h-1.1zM407 314.5h1.1v1.1h-1.1zM397 327.5h1.1v1.1h-1.1zM407.5 317h1.1v1.1h-1.1zM394.5 328.5h1.1v1.1h-1.1zM400.5 317h1.1v1.1h-1.1zM404.5 318h1.1v1.1h-1.1zM387 323h1.1v1.1h-1.1zM405 330.5h1.1v1.1h-1.1zM402 322h1.1v1.1h-1.1zM407 324.5h1.1v1.1h-1.1zM399 317.5h1.1v1.1h-1.1zM401.5 327h1.1v1.1h-1.1zM401.5 320.5h1.1v1.1h-1.1zM402 327.5h1.1v1.1h-1.1zM396 323h1.1v1.1h-1.1zM409.5 304h1.1v1.1h-1.1zM393.5 333h1.1v1.1h-1.1zM399.5 310h1.1v1.1h-1.1zM404 327h1.1v1.1h-1.1zM397 327h1.1v1.1h-1.1zM407.5 335h1.1v1.1h-1.1zM399 319.5h1.1v1.1h-1.1zM398 340h1.1v1.1h-1.1zM404.5 332.5h1.1v1.1h-1.1zM413 323h1.1v1.1h-1.1zM401 337h1.1v1.1h-1.1zM408.5 316.5h1.1v1.1h-1.1zM398.5 321h1.1v1.1h-1.1zM401.5 317h1.1v1.1h-1.1zM402.5 325.5h1.1v1.1h-1.1zM406.5 315.5h1.1v1.1h-1.1zM405 339h1.1v1.1h-1.1zM397 336h1.1v1.1h-1.1zM398.5 336.5h1.1v1.1h-1.1zM401 321h1.1v1.1h-1.1zM405 315h1.1v1.1h-1.1zM417.5 306h1.1v1.1h-1.1zM402 316h1.1v1.1h-1.1zM413 326.5h1.1v1.1h-1.1zM414.5 316h1.1v1.1h-1.1zM399.5 328h1.1v1.1h-1.1zM396.5 324h1.1v1.1h-1.1zM378 313.5h1.1v1.1h-1.1zM411 340.5h1.1v1.1h-1.1zM388 325.5h1.1v1.1h-1.1zM396.5 342h1.1v1.1h-1.1zM395.5 323.5h1.1v1.1h-1.1zM390 316h1.1v1.1h-1.1zM401 342.5h1.1v1.1h-1.1zM382.5 304.5h1.1v1.1h-1.1zM409 325h1.1v1.1h-1.1zM399.5 331.5h1.1v1.1h-1.1zM394 346h1.1v1.1h-1.1zM394 346h1.1v1.1h-1.1zM389.5 336h1.1v1.1h-1.1zM401 324h1.1v1.1h-1.1zM413.5 320h1.1v1.1h-1.1zM409.5 314.5h1.1v1.1h-1.1zM394.5 337.5h1.1v1.1h-1.1zM392.5 300h1.1v1.1h-1.1zM413 323h1.1v1.1h-1.1zM404.5 347h1.1v1.1h-1.1zM407 345.5h1.1v1.1h-1.1zM410 356.5h1.1v1.1h-1.1zM399 349.5h1.1v1.1h-1.1zM404 326h1.1v1.1h-1.1zM387.5 339.5h1.1v1.1h-1.1zM389 291.5h1.1v1.1h-1.1zM398.5 329.5h1.1v1.1h-1.1zM383 340.5h1.1v1.1h-1.1zM386 322h1.1v1.1h-1.1zM400 336h1.1v1.1h-1.1zM388.5 349.5h1.1v1.1h-1.1zM390.5 327h1.1v1.1h-1.1zM417 348.5h1.1v1.1h-1.1zM382.5 323h1.1v1.1h-1.1zM403 352.5h1.1v1.1h-1.1zM404.5 342h1.1v1.1h-1.1zM407 314h1.1v1.1h-1.1zM413.5 329.5h1.1v1.1h-1.1zM409 341.5h1.1v1.1h-1.1zM405.5 313.5h1.1v1.1h-1.1zM381 330h1.1v1.1h-1.1zM386.5 372.5h1.1v1.1h-1.1zM403.5 337h1.1v1.1h-1.1zM369.5 363h1.1v1.1h-1.1zM407 313.5h1.1v1.1h-1.1zM407 310.5h1.1v1.1h-1.1zM415 334.5h1.1v1.1h-1.1zM392 327h1.1v1.1h-1.1zM409 351h1.1v1.1h-1.1zM377.5 298.5h1.1v1.1h-1.1zM386 330h1.1v1.1h-1.1zM395 339.5h1.1v1.1h-1.1zM414.5 345.5h1.1v1.1h-1.1zM391 341h1.1v1.1h-1.1zM400.5 324.5h1.1v1.1h-1.1zM405.5 337.5h1.1v1.1h-1.1zM383.5 329.5h1.1v1.1h-1.1zM390 327.5h1.1v1.1h-1.1zM374 339.5h1.1v1.1h-1.1zM425 329.5h1.1v1.1h-1.1zM410 321.5h1.1v1.1h-1.1zM394 327.5h1.1v1.1h-1.1zM389 339h1.1v1.1h-1.1zM398.5 352.5h1.1v1.1h-1.1zM418.5 342h1.1v1.1h-1.1zM382 313.5h1.1v1.1h-1.1zM387.5 323h1.1v1.1h-1.1zM376.5 365.5h1.1v1.1h-1.1zM405.5 334.5h1.1v1.1h-1.1zM406 345.5h1.1v1.1h-1.1zM389 337.5h1.1v1.1h-1.1zM384.5 314h1.1v1.1h-1.1zM402.5 330.5h1.1v1.1h-1.1zM413 322h1.1v1.1h-1.1zM407 342.5h1.1v1.1h-1.1zM400.5 339h1.1v1.1h-1.1zM397 311h1.1v1.1h-1.1zM412.5 334.5h1.1v1.1h-1.1zM386.5 335.5h1.1v1.1h-1.1zM399 335.5h1.1v1.1h-1.1zM403.5 348h1.1v1.1h-1.1zM403.5 344.5h1.1v1.1h-1.1zM394 359h1.1v1.1h-1.1zM391 308.5h1.1v1.1h-1.1zM403 347.5h1.1v1.1h-1.1zM402.5 362h1.1v1.1h-1.1zM391.5 328h1.1v1.1h-1.1zM393.5 342.5h1.1v1.1h-1.1zM398 331.5h1.1v1.1h-1.1zM402.5 310.5h1.1v1.1h-1.1zM398 353h1.1v1.1h-1.1zM400.5 323h1.1v1.1h-1.1zM385.5 336h1.1v1.1h-1.1zM397.5 331h1.1v1.1h-1.1zM389 330.5h1.1v1.1h-1.1zM406.5 322h1.1v1.1h-1.1zM418.5 310h1.1v1.1h-1.1zM392.5 343h1.1v1.1h-1.1zM423 335h1.1v1.1h-1.1zM390.5 355h1.1v1.1h-1.1zM397.5 328h1.1v1.1h-1.1zM393 352.5h1.1v1.1h-1.1zM395 329.5h1.1v1.1h-1.1zM401 298h1.1v1.1h-1.1zM407 334h1.1v1.1h-1.1zM402 342.5h1.1v1.1h-1.1zM396.5 336.5h1.1v1.1h-1.1zM412 357.5h1.1v1.1h-1.1zM402 340.5h1.1v1.1h-1.1zM401.5 326h1.1v1.1h-1.1zM401.5 308.5h1.1v1.1h-1.1zM416 315h1.1v1.1h-1.1zM398.5 341.5h1.1v1.1h-1.1zM395 314.5h1.1v1.1h-1.1zM396.5 330.5h1.1v1.1h-1.1zM405.5 346h1.1v1.1h-1.1zM414 352h1.1v1.1h-1.1zM415 353h1.1v1.1h-1.1zM375 326h1.1v1.1h-1.1zM405.5 342h1.1v1.1h-1.1zM397.5 350.5h1.1v1.1h-1.1zM402.5 329.5h1.1v1.1h-1.1zM406 326h1.1v1.1h-1.1zM377 326h1.1v1.1h-1.1zM400 331.5h1.1v1.1h-1.1zM388.5 324h1.1v1.1h-1.1zM422 373h1.1v1.1h-1.1zM394 331.5h1.1v1.1h-1.1zM392 343.5h1.1v1.1h-1.1zM388.5 329h1.1v1.1h-1.1zM395.5 346h1.1v1.1h-1.1zM413.5 378.5h1.1v1.1h-1.1zM400.5 342.5h1.1v1.1h-1.1zM408 368.5h1.1v1.1h-1.1zM397.5 341h1.1v1.1h-1.1zM411 344h1.1v1.1h-1.1zM384.5 347h1.1v1.1h-1.1zM407.5 358.5h1.1v1.1h-1.1zM396 327.5h1.1v1.1h-1.1zM423.5 325.5h1.1v1.1h-1.1zM392 341.5h1.1v1.1h-1.1zM408 350h1.1v1.1h-1.1zM381.5 330h1.1v1.1h-1.1zM396.5 339h1.1v1.1h-1.1zM394.5 343h1.1v1.1h-1.1zM386 348.5h1.1v1.1h-1.1zM383 340.5h1.1v1.1h-1.1zM391 304.5h1.1v1.1h-1.1zM387 342h1.1v1.1h-1.1zM383 350.5h1.1v1.1h-1.1zM411.5 322h1.1v1.1h-1.1zM387 352h1.1v1.1h-1.1zM378.5 333.5h1.1v1.1h-1.1zM389 337h1.1v1.1h-1.1zM408 317.5h1.1v1.1h-1.1zM379 367.5h1.1v1.1h-1.1zM403.5 378h1.1v1.1h-1.1zM367 339.5h1.1v1.1h-1.1zM394.5 313h1.1v1.1h-1.1zM390.5 318.5h1.1v1.1h-1.1zM398.5 329h1.1v1.1h-1.1zM406.5 333.5h1.1v1.1h-1.1zM400.5 330.5h1.1v1.1h-1.1zM373 349h1.1v1.1h-1.1zM399.5 327.5h1.1v1.1h-1.1zM389.5 337.5h1.1v1.1h-1.1zM393.5 342h1.1v1.1h-1.1zM387.5 345h1.1v1.1h-1.1zM390 322.5h1.1v1.1h-1.1zM408 351.5h1.1v1.1h-1.1zM405.5 314.5h1.1v1.1h-1.1zM393.5 341.5h1.1v1.1h-1.1zM380 318h1.1v1.1h-1.1zM387 330h1.1v1.1h-1.1zM395.5 343.5h1.1v1.1h-1.1zM390.5 332h1.1v1.1h-1.1zM408.5 360h1.1v1.1h-1.1zM390.5 320h1.1v1.1h-1.1zM385.5 311h1.1v1.1h-1.1zM402 315.5h1.1v1.1h-1.1zM395 353h1.1v1.1h-1.1zM374 321h1.1v1.1h-1.1zM392 360h1.1v1.1h-1.1zM399.5 329.5h1.1v1.1h-1.1zM409.5 311h1.1v1.1h-1.1zM371.5 319.5h1.1v1.1h-1.1zM396.5 338.5h1.1v1.1h-1.1zM391 325.5h1.1v1.1h-1.1zM393 315.5h1.1v1.1h-1.1zM383 341h1.1v1.1h-1.1zM401 348.5h1.1v1.1h-1.1zM397.5 324h1.1v1.1h-1.1zM381.5 327.5h1.1v1.1h-1.1zM388.5 349.5h1.1v1.1h-1.1zM422 340h1.1v1.1h-1.1zM380.5 331h1.1v1.1h-1.1zM377 337.5h1.1v1.1h-1.1zM391 359h1.1v1.1h-1.1zM407.5 351h1.1v1.1h-1.1zM399 342.5h1.1v1.1h-1.1zM389 308h1.1v1.1h-1.1zM402 333.5h1.1v1.1h-1.1zM393 322.5h1.1v1.1h-1.1zM400 329h1.1v1.1h-1.1zM412.5 357h1.1v1.1h-1.1zM383 338.5h1.1v1.1h-1.1zM397 323h1.1v1.1h-1.1zM380.5 349.5h1.1v1.1h-1.1zM376 304h1.1v1.1h-1.1zM383.5 362h1.1v1.1h-1.1zM405.5 335.5h1.1v1.1h-1.1zM422 346h1.1v1.1h-1.1zM418.5 338h1.1v1.1h-1.1zM391.5 357.5h1.1v1.1h-1.1zM408 326h1.1v1.1h-1.1zM400 328.5h1.1v1.1h-1.1zM416 308.5h1.1v1.1h-1.1zM400 307.5h1.1v1.1h-1.1zM395.5 342h1.1v1.1h-1.1zM403 320.5h1.1v1.1h-1.1zM411.5 349.5h1.1v1.1h-1.1zM389 315h1.1v1.1h-1.1zM403 329.5h1.1v1.1h-1.1zM385.5 299.5h1.1v1.1h-1.1zM417.5 341h1.1v1.1h-1.1zM387 319h1.1v1.1h-1.1zM395.5 333.5h1.1v1.1h-1.1zM407 352h1.1v1.1h-1.1zM407.5 345.5h1.1v1.1h-1.1zM392.5 355.5h1.1v1.1h-1.1zM397 346.5h1.1v1.1h-1.1zM383.5 339h1.1v1.1h-1.1zM359 317.5h1.1v1.1h-1.1zM372 329h1.1v1.1h-1.1zM395.5 346h1.1v1.1h-1.1zM401.5 326.5h1.1v1.1h-1.1zM369 336.5h1.1v1.1h-1.1zM388 325h1.1v1.1h-1.1zM390 358h1.1v1.1h-1.1zM372 337.5h1.1v1.1h-1.1zM393 325h1.1v1.1h-1.1zM398 358.5h1.1v1.1h-1.1zM403 329.5h1.1v1.1h-1.1zM396.5 345.5h1.1v1.1h-1.1zM390 373h1.1v1.1h-1.1zM411 357h1.1v1.1h-1.1zM390 325.5h1.1v1.1h-1.1zM383 318h1.1v1.1h-1.1zM393.5 336.5h1.1v1.1h-1.1zM389 336.5h1.1v1.1h-1.1zM401.5 330.5h1.1v1.1h-1.1zM393.5 346h1.1v1.1h-1.1zM418 340h1.1v1.1h-1.1zM407.5 337.5h1.1v1.1h-1.1zM392.5 313.5h1.1v1.1h-1.1zM393 315.5h1.1v1.1h-1.1zM388.5 349.5h1.1v1.1h-1.1zM402 321h1.1v1.1h-1.1zM396.5 376.5h1.1v1.1h-1.1zM404 326.5h1.1v1.1h-1.1zM392 339h1.1v1.1h-1.1zM398.5 349h1.1v1.1h-1.1zM398.5 361h1.1v1.1h-1.1zM384 348h1.1v1.1h-1.1zM420.5 346.5h1.1v1.1h-1.1zM393.5 309.5h1.1v1.1h-1.1zM396 320.5h1.1v1.1h-1.1zM398.5 339h1.1v1.1h-1.1zM382 324.5h1.1v1.1h-1.1zM411 351.5h1.1v1.1h-1.1zM391.5 329.5h1.1v1.1h-1.1zM405.5 334h1.1v1.1h-1.1zM410.5 344h1.1v1.1h-1.1zM395.5 352.5h1.1v1.1h-1.1zM408.5 324h1.1v1.1h-1.1zM404.5 328.5h1.1v1.1h-1.1zM388 303h1.1v1.1h-1.1zM407 323h1.1v1.1h-1.1zM391 341.5h1.1v1.1h-1.1zM406 341h1.1v1.1h-1.1zM387 352.5h1.1v1.1h-1.1zM397.5 326h1.1v1.1h-1.1zM385.5 340.5h1.1v1.1h-1.1zM404 300.5h1.1v1.1h-1.1zM403 325.5h1.1v1.1h-1.1zM395 356h1.1v1.1h-1.1zM382.5 302h1.1v1.1h-1.1zM370.5 317.5h1.1v1.1h-1.1zM411 330h1.1v1.1h-1.1zM393 319h1.1v1.1h-1.1zM380 312h1.1v1.1h-1.1zM395.5 340h1.1v1.1h-1.1zM394.5 328.5h1.1v1.1h-1.1zM400.5 354h1.1v1.1h-1.1zM371 337.5h1.1v1.1h-1.1zM393 336.5h1.1v1.1h-1.1zM403.5 328.5h1.1v1.1h-1.1zM409.5 344.5h1.1v1.1h-1.1zM401 326.5h1.1v1.1h-1.1zM395.5 332h1.1v1.1h-1.1zM404.5 344.5h1.1v1.1h-1.1zM397 330h1.1v1.1h-1.1zM374.5 362h1.1v1.1h-1.1zM398 313h1.1v1.1h-1.1zM381.5 332.5h1.1v1.1h-1.1zM419.5 362.5h1.1v1.1h-1.1zM400 358h1.1v1.1h-1.1zM410.5 342.5h1.1v1.1h-1.1zM412.5 355.5h1.1v1.1h-1.1zM388.5 322.5h1.1v1.1h-1.1zM389.5 332h1.1v1.1h-1.1zM407.5 304.5h1.1v1.1h-1.1zM400 330.5h1.1v1.1h-1.1zM387.5 339h1.1v1.1h-1.1zM387 347.5h1.1v1.1h-1.1zM406 317.5h1.1v1.1h-1.1zM417 355h1.1v1.1h-1.1zM399.5 342.5h1.1v1.1h-1.1zM393 338h1.1v1.1h-1.1zM394.5 318.5h1.1v1.1h-1.1zM376.5 336.5h1.1v1.1h-1.1zM400.5 322h1.1v1.1h-1.1zM406 340.5h1.1v1.1h-1.1zM381 354h1.1v1.1h-1.1zM400 334h1.1v1.1h-1.1zM402.5 318h1.1v1.1h-1.1zM404.5 336h1.1v1.1h-1.1zM398 333h1.1v1.1h-1.1zM391.5 348.5h1.1v1.1h-1.1zM408 340.5h1.1v1.1h-1.1zM386.5 359h1.1v1.1h-1.1zM409 301.5h1.1v1.1h-1.1zM395.5 331.5h1.1v1.1h-1.1zM401 327.5h1.1v1.1h-1.1zM404 333.5h1.1v1.1h-1.1zM393 304.5h1.1v1.1h-1.1zM410.5 348h1.1v1.1h-1.1zM384 331.5h1.1v1.1h-1.1zM402 317.5h1.1v1.1h-1.1zM384.5 337h1.1v1.1h-1.1zM411.5 348.5h1.1v1.1h-1.1zM392 337.5h1.1v1.1h-1.1zM407 339h1.1v1.1h-1.1zM379 328h1.1v1.1h-1.1zM413.5 366.5h1.1v1.1h-1.1zM377 320h1.1v1.1h-1.1zM373.5 339.5h1.1v1.1h-1.1zM374 325h1.1v1.1h-1.1zM402 329h1.1v1.1h-1.1zM397.5 351.5h1.1v1.1h-1.1zM390.5 334.5h1.1v1.1h-1.1zM384.5 346.5h1.1v1.1h-1.1zM397 327.5h1.1v1.1h-1.1zM409 336.5h1.1v1.1h-1.1zM395.5 352.5h1.1v1.1h-1.1zM379.5 320.5h1.1v1.1h-1.1zM413.5 306h1.1v1.1h-1.1zM402.5 337.5h1.1v1.1h-1.1zM404 332.5h1.1v1.1h-1.1zM387 353h1.1v1.1h-1.1zM384.5 337.5h1.1v1.1h-1.1zM399.5 309.5h1.1v1.1h-1.1zM384 331.5h1.1v1.1h-1.1zM409.5 308h1.1v1.1h-1.1zM392.5 330.5h1.1v1.1h-1.1zM417 322.5h1.1v1.1h-1.1zM407 334.5h1.1v1.1h-1.1zM394 318.5h1.1v1.1h-1.1zM408 348h1.1v1.1h-1.1zM412 342h1.1v1.1h-1.1zM376.5 327h1.1v1.1h-1.1zM408 335.5h1.1v1.1h-1.1zM402.5 347h1.1v1.1h-1.1zM369.5 318h1.1v1.1h-1.1zM389.5 314h1.1v1.1h-1.1zM395 361.5h1.1v1.1h-1.1zM411 317h1.1v1.1h-1.1zM396 318.5h1.1v1.1h-1.1zM390 316.5h1.1v1.1h-1.1zM376 322h1.1v1.1h-1.1zM389 350.5h1.1v1.1h-1.1zM397 358h1.1v1.1h-1.1zM386 352h1.1v1.1h-1.1zM388 347.5h1.1v1.1h-1.1zM403 330h1.1v1.1h-1.1zM400 349.5h1.1v1.1h-1.1zM401 332.5h1.1v1.1h-1.1zM396.5 342.5h1.1v1.1h-1.1zM407.5 326.5h1.1v1.1h-1.1zM381 328.5h1.1v1.1h-1.1zM376 351h1.1v1.1h-1.1zM426 335.5h1.1v1.1h-1.1zM406 342.5h1.1v1.1h-1.1zM381.5 335.5h1.1v1.1h-1.1zM372.5 324.5h1.1v1.1h-1.1zM420 358h1.1v1.1h-1.1zM391 338.5h1.1v1.1h-1.1zM399.5 329.5h1.1v1.1h-1.1zM433.5 349.5h1.1v1.1h-1.1zM388 357h1.1v1.1h-1.1zM372.5 344h1.1v1.1h-1.1zM406.5 314h1.1v1.1h-1.1zM387.5 341.5h1.1v1.1h-1.1zM429.5 334h1.1v1.1h-1.1zM388 326h1.1v1.1h-1.1zM392 329.5h1.1v1.1h-1.1zM392 339h1.1v1.1h-1.1zM396 340.5h1.1v1.1h-1.1zM391.5 327.5h1.1v1.1h-1.1zM387.5 338h1.1v1.1h-1.1zM398 309.5h1.1v1.1h-1.1zM381 314h1.1v1.1h-1.1zM379 347.5h1.1v1.1h-1.1zM393.5 355h1.1v1.1h-1.1zM390.5 326h1.1v1.1h-1.1zM409 329.5h1.1v1.1h-1.1zM411.5 336.5h1.1v1.1h-1.1zM417.5 333h1.1v1.1h-1.1zM425.5 330.5h1.1v1.1h-1.1zM385 326.5h1.1v1.1h-1.1zM392 334h1.1v1.1h-1.1zM407 345.5h1.1v1.1h-1.1zM408 327.5h1.1v1.1h-1.1zM418.5 334.5h1.1v1.1h-1.1zM393 339h1.1v1.1h-1.1zM387.5 337h1.1v1.1h-1.1zM410.5 325.5h1.1v1.1h-1.1zM406.5 349.5h1.1v1.1h-1.1zM385.5 318.5h1.1v1.1h-1.1zM397 327h1.1v1.1h-1.1zM387 341.5h1.1v1.1h-1.1zM406 337.5h1.1v1.1h-1.1zM400 334h1.1v1.1h-1.1zM395 327.5h1.1v1.1h-1.1zM384 343.5h1.1v1.1h-1.1zM384 348.5h1.1v1.1h-1.1zM401.5 376.5h1.1v1.1h-1.1zM377 317.5h1.1v1.1h-1.1zM381.5 327h1.1v1.1h-1.1zM405.5 353.5h1.1v1.1h-1.1zM408 342h1.1v1.1h-1.1zM401.5 340.5h1.1v1.1h-1.1zM387.5 351h1.1v1.1h-1.1zM381 354h1.1v1.1h-1.1zM399 336.5h1.1v1.1h-1.1zM393 336h1.1v1.1h-1.1zM388.5 315.5h1.1v1.1h-1.1zM404 346h1.1v1.1h-1.1zM403.5 349.5h1.1v1.1h-1.1zM368.5 345.5h1.1v1.1h-1.1zM433 322h1.1v1.1h-1.1zM400 311h1.1v1.1h-1.1zM394.5 346.5h1.1v1.1h-1.1zM395.5 325h1.1v1.1h-1.1zM412.5 325.5h1.1v1.1h-1.1zM404.5 360.5h1.1v1.1h-1.1zM395.5 336h1.1v1.1h-1.1zM393 329.5h1.1v1.1h-1.1zM404.5 351h1.1v1.1h-1.1zM422.5 334.5h1.1v1.1h-1.1zM406 352.5h1.1v1.1h-1.1zM411 366h1.1v1.1h-1.1zM402.5 334h1.1v1.1h-1.1zM408.5 318.5h1.1v1.1h-1.1zM405.5 339.5h1.1v1.1h-1.1zM414.5 359.5h1.1v1.1h-1.1zM413 365h1.1v1.1h-1.1zM385.5 358.5h1.1v1.1h-1.1zM384 349.5h1.1v1.1h-1.1zM400 351h1.1v1.1h-1.1zM380.5 325h1.1v1.1h-1.1zM402 304.5h1.1v1.1h-1.1zM391.5 339.5h1.1v1.1h-1.1zM386 328h1.1v1.1h-1.1zM377.5 332h1.1v1.1h-1.1zM383.5 322h1.1v1.1h-1.1zM382.5 349.5h1.1v1.1h-1.1zM423 313h1.1v1.1h-1.1zM405.5 324.5h1.1v1.1h-1.1zM413.5 354h1.1v1.1h-1.1zM399 330h1.1v1.1h-1.1zM400 331.5h1.1v1.1h-1.1zM395 343h1.1v1.1h-1.1zM407.5 332.5h1.1v1.1h-1.1zM399.5 347.5h1.1v1.1h-1.1zM394 353h1.1v1.1h-1.1zM387 342.5h1.1v1.1h-1.1zM378 346h1.1v1.1h-1.1zM380 336.5h1.1v1.1h-1.1zM407 332h1.1v1.1h-1.1zM388.5 320h1.1v1.1h-1.1zM411 359h1.1v1.1h-1.1zM374 347.5h1.1v1.1h-1.1zM400.5 312h1.1v1.1h-1.1zM412 344h1.1v1.1h-1.1zM375.5 339h1.1v1.1h-1.1zM379 354.5h1.1v1.1h-1.1zM399 346h1.1v1.1h-1.1zM401 340.5h1.1v1.1h-1.1zM402 334h1.1v1.1h-1.1zM389 327.5h1.1v1.1h-1.1zM403.5 353.5h1.1v1.1h-1.1zM406 344h1.1v1.1h-1.1zM367 347.5h1.1v1.1h-1.1zM383 342h1.1v1.1h-1.1zM392 344.5h1.1v1.1h-1.1zM387.5 330h1.1v1.1h-1.1zM389.5 327h1.1v1.1h-1.1zM399.5 334h1.1v1.1h-1.1zM376 339h1.1v1.1h-1.1zM394 340h1.1v1.1h-1.1zM417 331.5h1.1v1.1h-1.1zM403 336h1.1v1.1h-1.1zM395.5 360h1.1v1.1h-1.1zM394.5 303.5h1.1v1.1h-1.1zM410.5 317.5h1.1v1.1h-1.1zM406 350h1.1v1.1h-1.1zM406.5 314h1.1v1.1h-1.1zM385.5 358h1.1v1.1h-1.1zM392 357.5h1.1v1.1h-1.1zM392 325h1.1v1.1h-1.1zM391 332h1.1v1.1h-1.1zM398.5 340h1.1v1.1h-1.1zM400.5 326.5h1.1v1.1h-1.1zM408 350.5h1.1v1.1h-1.1zM390.5 343h1.1v1.1h-1.1zM382 309h1.1v1.1h-1.1zM402.5 315.5h1.1v1.1h-1.1zM391.5 352.5h1.1v1.1h-1.1zM389.5 321h1.1v1.1h-1.1zM385 337.5h1.1v1.1h-1.1zM379 333.5h1.1v1.1h-1.1zM393 337.5h1.1v1.1h-1.1zM381.5 327.5h1.1v1.1h-1.1zM390 342.5h1.1v1.1h-1.1zM397.5 360h1.1v1.1h-1.1zM414.5 337h1.1v1.1h-1.1zM394 340h1.1v1.1h-1.1zM390.5 337.5h1.1v1.1h-1.1zM401.5 339h1.1v1.1h-1.1zM412.5 337.5h1.1v1.1h-1.1zM390.5 349.5h1.1v1.1h-1.1zM400 326.5h1.1v1.1h-1.1zM407 314h1.1v1.1h-1.1zM384 360h1.1v1.1h-1.1zM380.5 336.5h1.1v1.1h-1.1zM401.5 344h1.1v1.1h-1.1zM382 345.5h1.1v1.1h-1.1zM372 352.5h1.1v1.1h-1.1zM386.5 314.5h1.1v1.1h-1.1zM403 325h1.1v1.1h-1.1zM401 338.5h1.1v1.1h-1.1zM382.5 340.5h1.1v1.1h-1.1zM409 329h1.1v1.1h-1.1zM390.5 348h1.1v1.1h-1.1zM401.5 317h1.1v1.1h-1.1zM383 315.5h1.1v1.1h-1.1zM405 323h1.1v1.1h-1.1zM422 340h1.1v1.1h-1.1zM388.5 375h1.1v1.1h-1.1zM381.5 332h1.1v1.1h-1.1zM392.5 332h1.1v1.1h-1.1zM399.5 317.5h1.1v1.1h-1.1zM408.5 359.5h1.1v1.1h-1.1zM395 327.5h1.1v1.1h-1.1zM399.5 340.5h1.1v1.1h-1.1zM395.5 358.5h1.1v1.1h-1.1zM383 319.5h1.1v1.1h-1.1zM411.5 320.5h1.1v1.1h-1.1zM395.5 344h1.1v1.1h-1.1zM418.5 340h1.1v1.1h-1.1zM386.5 329.5h1.1v1.1h-1.1zM389.5 348h1.1v1.1h-1.1zM403 328h1.1v1.1h-1.1zM406.5 325.5h1.1v1.1h-1.1zM412.5 318h1.1v1.1h-1.1zM413.5 317.5h1.1v1.1h-1.1zM408.5 324h1.1v1.1h-1.1zM379 348.5h1.1v1.1h-1.1zM427 338h1.1v1.1h-1.1zM402 330.5h1.1v1.1h-1.1zM387.5 328.5h1.1v1.1h-1.1zM400.5 315.5h1.1v1.1h-1.1zM384 336h1.1v1.1h-1.1zM413 339.5h1.1v1.1h-1.1zM402 351.5h1.1v1.1h-1.1zM403.5 318h1.1v1.1h-1.1zM394 357.5h1.1v1.1h-1.1zM409 337.5h1.1v1.1h-1.1zM404 337.5h1.1v1.1h-1.1zM388.5 336h1.1v1.1h-1.1zM396.5 311h1.1v1.1h-1.1zM402.5 345.5h1.1v1.1h-1.1zM382 342h1.1v1.1h-1.1zM412 322.5h1.1v1.1h-1.1zM391 317h1.1v1.1h-1.1zM401.5 340.5h1.1v1.1h-1.1zM402 330.5h1.1v1.1h-1.1zM381 312.5h1.1v1.1h-1.1zM400 329h1.1v1.1h-1.1zM390.5 372h1.1v1.1h-1.1zM372.5 374.5h1.1v1.1h-1.1zM395.5 353.5h1.1v1.1h-1.1zM407 367.5h1.1v1.1h-1.1zM386 360.5h1.1v1.1h-1.1zM393 378h1.1v1.1h-1.1zM382 358h1.1v1.1h-1.1zM379.5 350.5h1.1v1.1h-1.1zM407.5 358h1.1v1.1h-1.1zM378.5 349.5h1.1v1.1h-1.1zM415.5 366h1.1v1.1h-1.1zM385.5 351h1.1v1.1h-1.1zM386 359h1.1v1.1h-1.1zM369.5 368.5h1.1v1.1h-1.1zM383 355.5h1.1v1.1h-1.1zM401 355.5h1.1v1.1h-1.1zM392.5 354h1.1v1.1h-1.1zM397.5 364h1.1v1.1h-1.1zM407.5 343.5h1.1v1.1h-1.1zM386.5 376.5h1.1v1.1h-1.1zM396 357h1.1v1.1h-1.1zM426 352h1.1v1.1h-1.1zM383 380.5h1.1v1.1h-1.1zM408 359h1.1v1.1h-1.1zM373 372h1.1v1.1h-1.1zM394.5 371h1.1v1.1h-1.1zM407 360.5h1.1v1.1h-1.1zM373 352.5h1.1v1.1h-1.1zM387 359.5h1.1v1.1h-1.1zM368.5 355h1.1v1.1h-1.1zM394.5 370h1.1v1.1h-1.1zM380 353h1.1v1.1h-1.1zM398 356h1.1v1.1h-1.1zM408.5 359.5h1.1v1.1h-1.1zM386.5 350.5h1.1v1.1h-1.1zM380 382h1.1v1.1h-1.1zM400.5 350.5h1.1v1.1h-1.1zM363.5 354.5h1.1v1.1h-1.1zM387 369h1.1v1.1h-1.1zM379.5 380h1.1v1.1h-1.1zM365.5 348.5h1.1v1.1h-1.1zM403.5 367.5h1.1v1.1h-1.1zM387 357h1.1v1.1h-1.1zM382 367h1.1v1.1h-1.1zM388.5 373h1.1v1.1h-1.1zM380 362.5h1.1v1.1h-1.1zM374 368.5h1.1v1.1h-1.1zM389.5 351h1.1v1.1h-1.1zM390.5 358h1.1v1.1h-1.1zM394 373.5h1.1v1.1h-1.1zM392.5 371h1.1v1.1h-1.1zM382.5 376.5h1.1v1.1h-1.1zM414 371h1.1v1.1h-1.1zM398.5 364.5h1.1v1.1h-1.1zM403.5 367.5h1.1v1.1h-1.1zM369.5 347.5h1.1v1.1h-1.1zM384.5 361h1.1v1.1h-1.1zM384.5 356.5h1.1v1.1h-1.1zM405 380.5h1.1v1.1h-1.1zM385 346h1.1v1.1h-1.1zM380 354.5h1.1v1.1h-1.1zM385.5 355h1.1v1.1h-1.1zM373.5 351h1.1v1.1h-1.1zM381.5 351.5h1.1v1.1h-1.1zM392.5 353.5h1.1v1.1h-1.1zM405 361.5h1.1v1.1h-1.1zM369 368.5h1.1v1.1h-1.1zM428.5 363h1.1v1.1h-1.1zM391.5 355.5h1.1v1.1h-1.1zM400.5 354.5h1.1v1.1h-1.1zM379.5 355h1.1v1.1h-1.1zM391.5 374.5h1.1v1.1h-1.1zM394 379h1.1v1.1h-1.1zM399 349h1.1v1.1h-1.1zM385.5 352.5h1.1v1.1h-1.1zM380.5 350.5h1.1v1.1h-1.1zM387.5 357.5h1.1v1.1h-1.1zM398.5 355h1.1v1.1h-1.1zM426 382.5h1.1v1.1h-1.1zM379.5 369.5h1.1v1.1h-1.1zM375 352h1.1v1.1h-1.1zM407.5 346h1.1v1.1h-1.1zM388.5 372h1.1v1.1h-1.1zM394 357.5h1.1v1.1h-1.1zM416 365h1.1v1.1h-1.1zM403.5 358.5h1.1v1.1h-1.1zM403.5 367h1.1v1.1h-1.1zM394 379.5h1.1v1.1h-1.1zM398 350h1.1v1.1h-1.1zM395 351h1.1v1.1h-1.1zM405 354.5h1.1v1.1h-1.1zM412 354h1.1v1.1h-1.1zM394.5 370h1.1v1.1h-1.1zM400 364h1.1v1.1h-1.1zM400 373h1.1v1.1h-1.1zM411.5 344h1.1v1.1h-1.1zM412.5 367.5h1.1v1.1h-1.1zM394 336.5h1.1v1.1h-1.1zM392.5 363.5h1.1v1.1h-1.1zM383.5 355h1.1v1.1h-1.1zM387.5 357.5h1.1v1.1h-1.1zM406 346h1.1v1.1h-1.1zM405 378.5h1.1v1.1h-1.1zM359 359.5h1.1v1.1h-1.1zM386 349h1.1v1.1h-1.1zM397 353h1.1v1.1h-1.1zM407.5 383h1.1v1.1h-1.1zM382 359.5h1.1v1.1h-1.1zM374.5 366h1.1v1.1h-1.1zM395 350.5h1.1v1.1h-1.1zM392 355h1.1v1.1h-1.1zM408.5 363h1.1v1.1h-1.1zM386.5 353h1.1v1.1h-1.1zM380.5 364.5h1.1v1.1h-1.1zM387 374.5h1.1v1.1h-1.1zM377 356.5h1.1v1.1h-1.1zM389 361h1.1v1.1h-1.1zM400.5 370h1.1v1.1h-1.1zM386 369h1.1v1.1h-1.1zM366.5 357.5h1.1v1.1h-1.1zM380 373h1.1v1.1h-1.1zM405 372h1.1v1.1h-1.1zM410 345h1.1v1.1h-1.1zM409.5 357h1.1v1.1h-1.1zM392.5 368.5h1.1v1.1h-1.1zM379 349h1.1v1.1h-1.1zM394 354h1.1v1.1h-1.1zM404.5 359.5h1.1v1.1h-1.1zM398 356h1.1v1.1h-1.1zM382 362.5h1.1v1.1h-1.1zM401 384.5h1.1v1.1h-1.1zM403.5 363h1.1v1.1h-1.1zM361.5 359h1.1v1.1h-1.1zM378 351.5h1.1v1.1h-1.1zM405.5 376.5h1.1v1.1h-1.1zM401 373h1.1v1.1h-1.1zM397 351.5h1.1v1.1h-1.1zM403.5 363h1.1v1.1h-1.1zM391 346.5h1.1v1.1h-1.1zM403.5 359h1.1v1.1h-1.1zM374 367.5h1.1v1.1h-1.1zM382 353h1.1v1.1h-1.1zM423 362.5h1.1v1.1h-1.1zM390.5 359h1.1v1.1h-1.1zM409.5 377h1.1v1.1h-1.1zM408 374h1.1v1.1h-1.1zM406.5 365.5h1.1v1.1h-1.1zM399.5 368h1.1v1.1h-1.1zM358.5 376h1.1v1.1h-1.1zM408.5 346.5h1.1v1.1h-1.1zM400 368.5h1.1v1.1h-1.1zM406.5 363h1.1v1.1h-1.1zM408.5 358h1.1v1.1h-1.1zM431 361h1.1v1.1h-1.1zM380 355.5h1.1v1.1h-1.1zM399 360h1.1v1.1h-1.1zM431 369.5h1.1v1.1h-1.1zM385.5 359.5h1.1v1.1h-1.1zM409 347.5h1.1v1.1h-1.1zM404 361h1.1v1.1h-1.1zM396.5 367.5h1.1v1.1h-1.1zM370.5 361h1.1v1.1h-1.1zM393 338.5h1.1v1.1h-1.1zM384 345.5h1.1v1.1h-1.1zM382 373h1.1v1.1h-1.1zM383 361.5h1.1v1.1h-1.1zM385.5 359.5h1.1v1.1h-1.1zM398 351.5h1.1v1.1h-1.1zM372.5 367h1.1v1.1h-1.1zM390.5 374.5h1.1v1.1h-1.1zM389.5 360.5h1.1v1.1h-1.1zM376 363h1.1v1.1h-1.1zM386 369h1.1v1.1h-1.1zM390.5 367h1.1v1.1h-1.1zM383.5 364.5h1.1v1.1h-1.1zM368.5 375h1.1v1.1h-1.1zM394 343.5h1.1v1.1h-1.1zM388 354h1.1v1.1h-1.1zM393.5 353h1.1v1.1h-1.1zM368 344h1.1v1.1h-1.1zM407 361h1.1v1.1h-1.1zM376 374h1.1v1.1h-1.1zM397 349.5h1.1v1.1h-1.1zM387 364h1.1v1.1h-1.1zM372.5 369.5h1.1v1.1h-1.1zM385 345.5h1.1v1.1h-1.1zM415.5 358h1.1v1.1h-1.1zM406.5 352h1.1v1.1h-1.1zM408.5 374.5h1.1v1.1h-1.1zM396.5 359.5h1.1v1.1h-1.1zM399 366h1.1v1.1h-1.1zM370.5 372.5h1.1v1.1h-1.1zM411.5 381h1.1v1.1h-1.1zM409.5 359.5h1.1v1.1h-1.1zM389.5 360h1.1v1.1h-1.1zM393.5 356.5h1.1v1.1h-1.1zM386 354.5h1.1v1.1h-1.1zM401 356h1.1v1.1h-1.1zM404.5 341.5h1.1v1.1h-1.1zM418.5 345h1.1v1.1h-1.1zM399 354h1.1v1.1h-1.1zM396.5 372h1.1v1.1h-1.1zM403.5 354h1.1v1.1h-1.1zM390.5 344h1.1v1.1h-1.1zM392.5 360.5h1.1v1.1h-1.1zM397.5 367.5h1.1v1.1h-1.1zM414.5 359.5h1.1v1.1h-1.1zM413.5 343.5h1.1v1.1h-1.1zM399 351.5h1.1v1.1h-1.1zM410 364h1.1v1.1h-1.1zM399 370h1.1v1.1h-1.1zM387.5 353.5h1.1v1.1h-1.1zM378.5 352h1.1v1.1h-1.1zM401 362.5h1.1v1.1h-1.1zM395.5 362h1.1v1.1h-1.1zM394.5 358.5h1.1v1.1h-1.1zM388 368h1.1v1.1h-1.1zM398 364h1.1v1.1h-1.1zM379.5 348.5h1.1v1.1h-1.1zM401.5 352.5h1.1v1.1h-1.1zM390.5 361h1.1v1.1h-1.1zM393 342.5h1.1v1.1h-1.1zM395 365.5h1.1v1.1h-1.1zM361 353.5h1.1v1.1h-1.1zM426 358.5h1.1v1.1h-1.1zM375.5 354.5h1.1v1.1h-1.1zM407.5 362.5h1.1v1.1h-1.1zM383.5 373h1.1v1.1h-1.1zM408 364.5h1.1v1.1h-1.1zM384.5 349h1.1v1.1h-1.1zM385.5 361h1.1v1.1h-1.1zM377 353h1.1v1.1h-1.1zM408 360h1.1v1.1h-1.1zM398.5 360h1.1v1.1h-1.1zM359.5 356.5h1.1v1.1h-1.1zM390.5 372.5h1.1v1.1h-1.1zM386.5 352h1.1v1.1h-1.1zM383 355.5h1.1v1.1h-1.1zM403 368h1.1v1.1h-1.1zM388 376h1.1v1.1h-1.1zM395 357.5h1.1v1.1h-1.1zM395.5 362.5h1.1v1.1h-1.1zM398.5 384h1.1v1.1h-1.1zM392.5 358h1.1v1.1h-1.1zM420.5 379h1.1v1.1h-1.1zM367 359h1.1v1.1h-1.1zM370.5 365h1.1v1.1h-1.1zM376 354.5h1.1v1.1h-1.1zM390 356h1.1v1.1h-1.1zM413 373.5h1.1v1.1h-1.1zM399.5 353.5h1.1v1.1h-1.1zM399 362.5h1.1v1.1h-1.1zM405.5 370h1.1v1.1h-1.1zM406.5 361.5h1.1v1.1h-1.1zM384 346h1.1v1.1h-1.1zM394 372.5h1.1v1.1h-1.1zM390.5 364h1.1v1.1h-1.1zM396.5 372h1.1v1.1h-1.1zM397 343.5h1.1v1.1h-1.1zM393.5 343.5h1.1v1.1h-1.1zM402.5 359h1.1v1.1h-1.1zM365 354h1.1v1.1h-1.1zM430.5 373h1.1v1.1h-1.1zM408.5 380h1.1v1.1h-1.1zM379 358h1.1v1.1h-1.1zM372.5 368h1.1v1.1h-1.1zM414 366h1.1v1.1h-1.1zM403 364.5h1.1v1.1h-1.1zM393.5 374.5h1.1v1.1h-1.1zM389.5 351.5h1.1v1.1h-1.1zM392.5 369.5h1.1v1.1h-1.1zM377.5 354.5h1.1v1.1h-1.1zM373 351.5h1.1v1.1h-1.1zM371.5 366.5h1.1v1.1h-1.1zM380.5 361.5h1.1v1.1h-1.1zM374.5 360.5h1.1v1.1h-1.1zM402.5 368h1.1v1.1h-1.1zM386.5 372h1.1v1.1h-1.1zM402 370.5h1.1v1.1h-1.1zM382 341.5h1.1v1.1h-1.1zM364.5 356h1.1v1.1h-1.1zM385 354.5h1.1v1.1h-1.1zM396 359h1.1v1.1h-1.1zM374 368.5h1.1v1.1h-1.1zM374.5 358h1.1v1.1h-1.1zM396 371.5h1.1v1.1h-1.1zM399 357.5h1.1v1.1h-1.1zM392.5 351h1.1v1.1h-1.1zM393.5 365h1.1v1.1h-1.1zM403 366.5h1.1v1.1h-1.1zM373.5 361h1.1v1.1h-1.1zM401.5 372h1.1v1.1h-1.1zM401 368.5h1.1v1.1h-1.1z"/>
<path fill="#333" d="M316 369.5h1v1h-1zM348 321.5h1v1h-1zM325.5 338h1v1h-1zM339.5 347h1v1h-1zM389 361h1v1h-1zM355.5 338.5h1v1h-1zM348.5 321h1v1h-1zM354.5 351h1v1h-1zM324 383h1v1h-1zM328 374h1v1h-1zM324.5 352h1v1h-1zM375.5 341h1v1h-1zM342 363h1v1h-1zM336.5 356.5h1v1h-1zM338 335.5h1v1h-1zM329 373h1v1h-1zM321.5 354.5h1v1h-1zM368.5 358h1v1h-1zM329 355.5h1v1h-1zM331.5 354h1v1h-1zM335.5 364.5h1v1h-1zM320 369.5h1v1h-1zM304.5 360.5h1v1h-1zM359 370.5h1v1h-1zM345.5 372h1v1h-1zM324 370.5h1v1h-1zM304.5 355.5h1v1h-1zM309.5 381h1v1h-1zM331 339.5h1v1h-1zM340 370h1v1h-1zM362 338h1v1h-1zM351.5 350.5h1v1h-1zM356 359h1v1h-1zM336.5 361h1v1h-1zM365 366.5h1v1h-1zM350 338h1v1h-1zM391.5 336h1v1h-1zM348 363.5h1v1h-1zM330 367h1v1h-1zM332.5 339.5h1v1h-1zM336 340h1v1h-1zM348 354.5h1v1h-1zM353.5 321.5h1v1h-1zM336 380.5h1v1h-1zM347.5 370h1v1h-1zM362.5 343h1v1h-1zM344 363.5h1v1h-1zM337.5 344.5h1v1h-1zM347.5 360.5h1v1h-1zM324.5 365h1v1h-1zM320 354h1v1h-1zM334 336.5h1v1h-1zM360.5 372h1v1h-1zM321 373h1v1h-1zM343 357h1v1h-1zM306.5 329.5h1v1h-1zM340.5 368.5h1v1h-1zM323 337.5h1v1h-1zM313 326h1v1h-1zM327.5 377h1v1h-1zM325 366h1v1h-1zM319 366.5h1v1h-1zM313.5 363.5h1v1h-1zM352 364.5h1v1h-1zM372.5 378h1v1h-1zM315 344h1v1h-1zM328 339.5h1v1h-1zM353 370.5h1v1h-1zM323.5 363h1v1h-1zM342.5 334.5h1v1h-1zM383 321.5h1v1h-1zM314 327h1v1h-1zM307.5 343h1v1h-1zM344.5 327h1v1h-1zM322 330h1v1h-1zM311 330.5h1v1h-1zM327.5 351h1v1h-1zM334 357.5h1v1h-1zM350.5 349.5h1v1h-1zM356 334h1v1h-1zM312 338h1v1h-1zM343 343h1v1h-1zM363 365.5h1v1h-1zM339.5 378.5h1v1h-1zM336 338.5h1v1h-1zM351.5 358h1v1h-1zM348.5 370h1v1h-1zM331.5 364.5h1v1h-1zM321 377.5h1v1h-1zM320.5 346.5h1v1h-1zM398.5 357.5h1v1h-1zM324.5 381.5h1v1h-1zM327 372.5h1v1h-1zM327 371h1v1h-1zM326 329h1v1h-1zM348 380h1v1h-1zM337 361h1v1h-1zM335 357.5h1v1h-1zM361.5 368h1v1h-1zM355 354.5h1v1h-1zM363.5 335.5h1v1h-1zM305 344.5h1v1h-1zM351 356.5h1v1h-1zM328 331h1v1h-1zM329.5 332h1v1h-1zM339.5 366.5h1v1h-1zM330 342h1v1h-1zM361.5 361.5h1v1h-1zM321.5 360.5h1v1h-1zM315 360h1v1h-1zM335 340.5h1v1h-1zM343.5 355.5h1v1h-1zM356.5 347h1v1h-1zM321.5 354h1v1h-1zM338 328.5h1v1h-1zM311 375h1v1h-1zM348 345h1v1h-1zM367 372.5h1v1h-1zM305.5 381h1v1h-1zM304.5 350h1v1h-1zM354 342.5h1v1h-1zM338.5 353.5h1v1h-1zM337 352.5h1v1h-1zM377.5 351.5h1v1h-1zM309.5 346h1v1h-1zM317.5 354h1v1h-1zM306 359.5h1v1h-1zM323.5 364h1v1h-1zM361 360h1v1h-1zM321 358.5h1v1h-1zM341 333.5h1v1h-1zM347.5 361h1v1h-1zM314.5 367h1v1h-1zM322 360h1v1h-1zM366 371.5h1v1h-1zM354.5 336h1v1h-1zM332 369h1v1h-1zM335.5 365h1v1h-1zM336.5 371h1v1h-1zM337.5 380.5h1v1h-1zM357 368h1v1h-1zM397 372h1v1h-1zM341.5 359h1v1h-1zM337 370.5h1v1h-1zM350 347.5h1v1h-1zM334 342h1v1h-1zM361.5 358h1v1h-1zM322.5 374h1v1h-1zM366 375.5h1v1h-1zM339 373h1v1h-1zM325 352h1v1h-1zM356.5 349h1v1h-1zM334 350.5h1v1h-1zM338 356.5h1v1h-1zM326 355h1v1h-1zM323 368.5h1v1h-1zM320.5 347h1v1h-1zM327 344.5h1v1h-1zM305.5 359.5h1v1h-1zM310.5 359h1v1h-1zM347 357.5h1v1h-1zM319.5 335.5h1v1h-1zM366 359.5h1v1h-1zM337 343.5h1v1h-1zM317.5 347h1v1h-1zM333.5 376h1v1h-1zM330 335.5h1v1h-1zM352.5 365h1v1h-1zM375 358.5h1v1h-1zM332.5 351h1v1h-1zM320.5 380h1v1h-1zM329.5 381.5h1v1h-1zM324.5 321h1v1h-1zM339.5 348.5h1v1h-1zM345.5 327.5h1v1h-1zM354 358.5h1v1h-1zM344.5 353.5h1v1h-1zM348.5 373.5h1v1h-1zM333.5 317.5h1v1h-1zM323.5 348h1v1h-1zM329 372h1v1h-1zM320.5 365.5h1v1h-1zM353.5 367h1v1h-1zM314.5 348h1v1h-1zM350.5 339.5h1v1h-1zM337 380h1v1h-1zM341.5 346h1v1h-1zM345 348h1v1h-1zM355 379h1v1h-1zM317 375h1v1h-1zM329 346.5h1v1h-1zM333 374.5h1v1h-1zM356 378.5h1v1h-1zM358.5 368.5h1v1h-1zM352.5 379h1v1h-1zM356 341h1v1h-1zM313.5 364h1v1h-1zM368.5 345h1v1h-1zM367.5 353h1v1h-1zM308.5 334h1v1h-1zM360 346h1v1h-1zM339.5 372h1v1h-1zM316.5 346h1v1h-1zM344.5 368h1v1h-1zM330.5 374.5h1v1h-1zM333 349.5h1v1h-1zM319.5 326.5h1v1h-1zM331 366h1v1h-1zM314 347.5h1v1h-1zM363.5 345.5h1v1h-1zM347.5 364.5h1v1h-1zM341 356h1v1h-1zM318.5 356h1v1h-1zM333.5 345.5h1v1h-1zM331 344.5h1v1h-1zM349.5 349h1v1h-1zM348.5 383h1v1h-1zM317.5 369.5h1v1h-1zM321.5 381.5h1v1h-1zM348.5 341.5h1v1h-1zM355 352.5h1v1h-1zM381 370h1v1h-1zM320.5 337.5h1v1h-1zM359 352.5h1v1h-1zM358 359.5h1v1h-1zM312 370.5h1v1h-1zM305 347.5h1v1h-1zM307 353h1v1h-1zM351 355h1v1h-1zM348.5 370h1v1h-1zM308 360h1v1h-1zM305 343h1v1h-1zM334 356h1v1h-1zM346 333.5h1v1h-1zM352 381.5h1v1h-1zM321.5 354.5h1v1h-1zM319.5 356h1v1h-1zM351 343h1v1h-1zM308.5 337h1v1h-1zM336 366.5h1v1h-1zM372 335h1v1h-1zM340 341h1v1h-1zM345.5 332h1v1h-1zM345.5 349h1v1h-1zM343.5 354h1v1h-1zM315.5 364.5h1v1h-1zM314.5 354.5h1v1h-1zM355 343.5h1v1h-1zM336.5 347.5h1v1h-1zM339.5 362h1v1h-1zM327.5 353h1v1h-1zM348.5 368.5h1v1h-1zM325.5 373h1v1h-1zM322 345h1v1h-1zM317.5 358.5h1v1h-1zM334 362h1v1h-1zM312 342.5h1v1h-1zM320 341.5h1v1h-1zM315 354.5h1v1h-1zM345 343h1v1h-1zM377.5 361h1v1h-1zM327.5 366h1v1h-1zM336 357.5h1v1h-1zM336 345h1v1h-1zM348 344h1v1h-1zM353.5 362h1v1h-1zM307 351.5h1v1h-1zM317 362h1v1h-1zM381 376h1v1h-1zM377.5 361h1v1h-1zM355 363.5h1v1h-1zM315.5 374h1v1h-1zM316.5 323h1v1h-1zM342.5 348.5h1v1h-1zM336.5 345.5h1v1h-1zM340.5 340h1v1h-1zM353.5 372.5h1v1h-1zM316 380.5h1v1h-1zM347 325.5h1v1h-1zM352.5 343.5h1v1h-1zM335 363.5h1v1h-1zM359.5 353.5h1v1h-1zM336 376.5h1v1h-1zM335 357h1v1h-1zM363.5 358.5h1v1h-1zM340 353h1v1h-1zM335.5 343.5h1v1h-1zM329 373.5h1v1h-1zM345.5 356.5h1v1h-1zM340.5 359h1v1h-1zM329 362h1v1h-1zM354.5 363.5h1v1h-1zM311.5 354h1v1h-1zM368 330h1v1h-1zM326.5 333h1v1h-1zM368.5 363.5h1v1h-1zM342 359h1v1h-1zM354 352h1v1h-1zM319 339h1v1h-1zM342.5 360.5h1v1h-1zM322.5 373.5h1v1h-1zM334.5 362h1v1h-1zM355 374h1v1h-1zM366 360h1v1h-1zM305 331.5h1v1h-1zM339 355h1v1h-1zM336.5 339h1v1h-1zM356 375h1v1h-1zM358 371h1v1h-1zM326 384.5h1v1h-1zM309.5 362h1v1h-1zM336 336.5h1v1h-1zM372 329h1v1h-1zM343.5 338.5h1v1h-1zM352.5 355h1v1h-1zM323 368.5h1v1h-1zM378 364h1v1h-1zM314.5 373h1v1h-1zM339.5 341h1v1h-1zM328.5 362.5h1v1h-1zM310.5 360.5h1v1h-1zM347.5 349.5h1v1h-1zM349 337.5h1v1h-1zM326 357h1v1h-1zM347 362.5h1v1h-1zM328.5 341h1v1h-1zM362.5 337.5h1v1h-1zM336.5 373.5h1v1h-1zM358.5 323.5h1v1h-1zM314 360h1v1h-1zM314 364h1v1h-1zM319 345h1v1h-1zM318.5 343h1v1h-1zM340 354h1v1h-1zM347.5 360h1v1h-1zM359.5 335.5h1v1h-1zM315.5 361.5h1v1h-1zM330 337h1v1h-1zM324.5 338h1v1h-1zM313 356h1v1h-1zM322.5 351h1v1h-1zM337 368h1v1h-1zM337.5 332h1v1h-1zM343 377.5h1v1h-1zM348.5 324h1v1h-1zM343.5 340h1v1h-1zM330.5 375h1v1h-1zM368 378.5h1v1h-1zM359.5 334h1v1h-1zM318 342.5h1v1h-1zM305.5 363.5h1v1h-1zM352 342.5h1v1h-1zM345.5 374.5h1v1h-1zM328.5 354.5h1v1h-1zM333 344h1v1h-1zM353 367h1v1h-1zM313.5 368h1v1h-1zM329 377h1v1h-1zM308 332h1v1h-1zM330.5 348.5h1v1h-1zM326.5 355.5h1v1h-1zM327.5 356.5h1v1h-1zM352.5 352.5h1v1h-1zM334 374.5h1v1h-1zM357 348.5h1v1h-1zM317 378h1v1h-1zM383.5 339h1v1h-1zM338 342h1v1h-1zM306.5 346h1v1h-1zM310 384h1v1h-1zM365 368.5h1v1h-1zM368 355.5h1v1h-1zM335 361.5h1v1h-1zM313.5 340h1v1h-1zM312.5 341.5h1v1h-1zM332.5 362.5h1v1h-1zM371 364h1v1h-1zM311.5 345.5h1v1h-1zM360 376h1v1h-1zM349.5 345.5h1v1h-1zM308 325.5h1v1h-1zM336 348.5h1v1h-1zM355 348h1v1h-1zM337.5 373.5h1v1h-1zM334.5 335h1v1h-1zM311 370h1v1h-1zM412.5 349h1v1h-1zM369 362.5h1v1h-1zM375 349h1v1h-1zM330.5 356h1v1h-1zM356 327.5h1v1h-1zM337 361h1v1h-1zM310.5 348.5h1v1h-1zM327 359h1v1h-1zM311.5 342.5h1v1h-1zM303.5 352.5h1v1h-1zM325 318h1v1h-1zM346 356.5h1v1h-1zM349 354.5h1v1h-1zM336.5 353.5h1v1h-1zM331 346.5h1v1h-1zM303.5 322.5h1v1h-1zM331 352h1v1h-1zM337.5 379.5h1v1h-1zM326 352.5h1v1h-1zM334.5 335h1v1h-1zM311.5 348h1v1h-1zM346.5 351.5h1v1h-1zM308 351.5h1v1h-1zM330.5 364h1v1h-1zM334.5 350.5h1v1h-1zM326.5 354h1v1h-1zM324.5 366.5h1v1h-1zM324.5 362.5h1v1h-1zM333 338.5h1v1h-1zM319 380h1v1h-1zM338 356.5h1v1h-1zM325 367h1v1h-1zM357.5 347h1v1h-1zM312.5 354h1v1h-1zM340 369.5h1v1h-1zM346 356h1v1h-1zM413 353h1v1h-1zM343.5 346.5h1v1h-1zM309.5 359.5h1v1h-1zM338 341.5h1v1h-1zM331 370.5h1v1h-1zM361.5 332.5h1v1h-1zM330 355.5h1v1h-1zM331.5 380.5h1v1h-1zM304 336.5h1v1h-1zM318 368.5h1v1h-1zM311.5 342.5h1v1h-1zM336 358h1v1h-1zM322 338.5h1v1h-1zM305.5 356h1v1h-1zM381.5 349.5h1v1h-1zM323 327.5h1v1h-1zM324.5 347h1v1h-1zM327 355.5h1v1h-1zM304.5 339h1v1h-1zM328 336h1v1h-1zM352.5 350.5h1v1h-1zM317 355.5h1v1h-1zM335.5 357.5h1v1h-1zM336.5 363h1v1h-1zM338 342.5h1v1h-1zM358.5 362.5h1v1h-1zM330.5 343.5h1v1h-1zM359 351.5h1v1h-1zM308.5 368.5h1v1h-1zM336 337h1v1h-1zM332 375h1v1h-1zM324.5 340.5h1v1h-1zM346.5 365h1v1h-1zM329 340h1v1h-1zM324.5 354.5h1v1h-1zM331 353.5h1v1h-1zM337.5 359.5h1v1h-1zM364.5 361.5h1v1h-1zM342.5 365.5h1v1h-1zM326.5 366.5h1v1h-1zM352 373.5h1v1h-1zM348 366h1v1h-1zM341 336.5h1v1h-1zM318 339.5h1v1h-1zM354.5 368.5h1v1h-1zM327.5 343.5h1v1h-1zM337.5 332h1v1h-1zM350 319h1v1h-1zM334 321.5h1v1h-1zM317.5 362.5h1v1h-1zM326 340h1v1h-1zM325 348.5h1v1h-1zM305 352h1v1h-1zM346 357h1v1h-1zM335.5 345h1v1h-1zM310.5 351h1v1h-1zM331.5 351.5h1v1h-1zM340.5 348.5h1v1h-1zM316 369h1v1h-1zM318.5 380.5h1v1h-1zM324.5 335h1v1h-1zM357 357.5h1v1h-1zM357 363.5h1v1h-1zM335 355h1v1h-1zM340.5 353h1v1h-1zM345 350h1v1h-1zM304.5 350.5h1v1h-1zM333.5 363h1v1h-1zM346.5 352.5h1v1h-1zM366 357.5h1v1h-1zM331 363.5h1v1h-1zM346 351h1v1h-1zM312.5 376.5h1v1h-1zM349 329.5h1v1h-1zM337 344.5h1v1h-1zM318.5 361h1v1h-1zM335 349.5h1v1h-1zM308 371h1v1h-1zM322.5 349h1v1h-1zM310 345h1v1h-1zM346 362h1v1h-1zM343 378.5h1v1h-1zM319.5 329.5h1v1h-1zM327.5 350.5h1v1h-1zM322.5 375h1v1h-1zM334.5 353h1v1h-1zM323.5 349.5h1v1h-1zM346.5 362h1v1h-1zM361 365.5h1v1h-1zM365.5 363h1v1h-1zM351 367h1v1h-1zM347.5 379h1v1h-1zM336.5 333h1v1h-1zM312.5 375.5h1v1h-1zM353 360.5h1v1h-1zM319 374.5h1v1h-1zM352.5 342.5h1v1h-1zM381 336h1v1h-1zM317.5 369.5h1v1h-1zM348.5 370.5h1v1h-1zM353.5 328h1v1h-1zM353 374h1v1h-1zM315 369h1v1h-1zM372 381.5h1v1h-1zM320.5 358.5h1v1h-1zM325.5 380.5h1v1h-1zM308.5 374h1v1h-1zM346.5 353h1v1h-1zM359 384h1v1h-1zM353 360.5h1v1h-1zM330 373.5h1v1h-1zM343 357h1v1h-1zM358 351h1v1h-1zM316 365h1v1h-1zM338 382.5h1v1h-1zM381.5 338.5h1v1h-1zM340.5 323h1v1h-1zM352 324h1v1h-1zM377.5 352h1v1h-1zM315.5 343.5h1v1h-1zM370 358.5h1v1h-1zM333 349h1v1h-1zM339 371.5h1v1h-1zM351 357h1v1h-1zM338 351.5h1v1h-1zM332.5 355.5h1v1h-1zM328.5 330h1v1h-1zM331 349h1v1h-1zM349.5 356.5h1v1h-1zM352 378h1v1h-1zM312.5 335h1v1h-1zM335.5 361h1v1h-1zM334.5 354.5h1v1h-1zM366 323h1v1h-1zM317 374h1v1h-1zM316 348h1v1h-1zM336.5 372h1v1h-1zM344.5 347.5h1v1h-1zM347.5 372h1v1h-1zM349 380.5h1v1h-1zM350.5 352.5h1v1h-1zM341.5 354.5h1v1h-1zM334 367h1v1h-1zM346.5 345h1v1h-1zM326 342.5h1v1h-1zM344.5 374h1v1h-1zM343.5 341h1v1h-1zM351.5 347h1v1h-1zM326 343.5h1v1h-1zM344 366.5h1v1h-1zM337.5 345h1v1h-1zM338 358.5h1v1h-1zM319.5 363h1v1h-1zM351 363.5h1v1h-1zM330 339.5h1v1h-1zM310 349.5h1v1h-1zM335 370h1v1h-1zM365.5 345.5h1v1h-1zM376.5 360.5h1v1h-1zM321.5 334.5h1v1h-1zM365 362h1v1h-1zM355 367h1v1h-1zM343 373.5h1v1h-1zM344.5 351.5h1v1h-1zM316 352.5h1v1h-1zM335.5 338.5h1v1h-1zM368 368.5h1v1h-1zM319 347h1v1h-1zM325.5 356.5h1v1h-1zM339 347.5h1v1h-1zM330 356.5h1v1h-1zM362.5 332.5h1v1h-1zM311.5 353.5h1v1h-1zM352 356.5h1v1h-1zM345.5 344.5h1v1h-1zM330 354.5h1v1h-1zM350 354h1v1h-1zM326.5 362.5h1v1h-1zM351 333.5h1v1h-1zM311.5 365.5h1v1h-1zM357 356h1v1h-1zM336.5 381.5h1v1h-1z"/>
<path d="M73.3 169.9H77.3M73.3 162.9H77.3M73.3 158H77.3M73.3 154.2H77.3M73.3 151H77.3M73.3 148.4H77.3M73.3 146.1H77.3M73.3 144.1H77.3M70.1 142.3H77.3M73.3 130.4H77.3M73.3 123.4H77.3M73.3 118.5H77.3M73.3 114.6H77.3M73.3 111.5H77.3M73.3 108.9H77.3M73.3 106.6H77.3M73.3 104.6H77.3M70.1 102.8H77.3M73.3 90.9H77.3M73.3 83.9H77.3M73.3 79H77.3M73.3 75.1H77.3M73.3 72H77.3M73.3 69.3H77.3M73.3 67.1H77.3M73.3 65H77.3M70.1 63.2H77.3M73.3 51.3H77.3M73.3 44.4H77.3M73.3 39.4H77.3M73.3 35.6H77.3M73.3 32.5H77.3M73.3 29.8H77.3M73.3 27.5H77.3M73.3 25.5H77.3M70.1 23.7H77.3M89.1 181.3V184.8M96.8 181.3V184.8M102.2 181.3V184.8M106.4 181.3V184.8M109.8 181.3V184.8M112.7 181.3V184.8M115.2 181.3V184.8M117.5 181.3V184.8M119.4 181.3V187.8M132.5 181.3V184.8M140.1 181.3V184.8M145.5 181.3V184.8M149.8 181.3V184.8M153.2 181.3V184.8M156.1 181.3V184.8M158.6 181.3V184.8M160.8 181.3V184.8M162.8 181.3V187.8M175.8 181.3V184.8M183.5 181.3V184.8M188.9 181.3V184.8M193.1 181.3V184.8M196.5 181.3V184.8M199.4 181.3V184.8M201.9 181.3V184.8M204.2 181.3V184.8M206.2 181.3V187.8M219.2 181.3V184.8M226.8 181.3V184.8M232.2 181.3V184.8M236.5 181.3V184.8M239.9 181.3V184.8M242.8 181.3V184.8M245.3 181.3V184.8M247.5 181.3V184.8M249.5 181.3V187.8" stroke="#222" stroke-width="1.1" fill="none"/>
<path d="M76.5 23.7H249.5" stroke="#111" stroke-width="1.5" fill="none"/>
<path d="M249.5 22.9V182.1" stroke="#111" stroke-width="1.5" fill="none"/>
<path d="M77.3 181.3H249.5" stroke="#111" stroke-width="1.5" fill="none"/>
<path d="M77.3 22.9V182.1" stroke="#111" stroke-width="1.5" fill="none"/>
<path d="M134.3 23.7V181.3M77.3 146.6H249.5" stroke="#111" stroke-width="1.4" fill="none"/>
<text x="63.9" y="147.3" text-anchor="end" font-size="10.5">10<tspan font-size="7.4" dy="-5.2">0</tspan></text>
<text x="63.9" y="107.8" text-anchor="end" font-size="10.5">10<tspan font-size="7.4" dy="-5.2">1</tspan></text>
<text x="63.9" y="68.2" text-anchor="end" font-size="10.5">10<tspan font-size="7.4" dy="-5.2">2</tspan></text>
<text x="63.9" y="28.7" text-anchor="end" font-size="10.5">10<tspan font-size="7.4" dy="-5.2">3</tspan></text>
<text x="119.3" y="203.4" text-anchor="middle" font-size="10.5">10<tspan font-size="7.4" dy="-5.4">0</tspan></text>
<text x="162.7" y="203.4" text-anchor="middle" font-size="10.5">10<tspan font-size="7.4" dy="-5.4">1</tspan></text>
<text x="206.1" y="203.4" text-anchor="middle" font-size="10.5">10<tspan font-size="7.4" dy="-5.4">2</tspan></text>
<text x="249.4" y="203.4" text-anchor="middle" font-size="10.5">10<tspan font-size="7.4" dy="-5.4">3</tspan></text>
<g font-size="8.5" fill="#444">
<text x="79.3" y="32.7">J1</text>
<text x="136.5" y="32.7">J2</text>
</g>
<path d="M207.2 31.2V80M179 55.5H236" stroke="#111" stroke-width="1.8" fill="none"/>
<text x="196.4" y="50.2" text-anchor="end" font-size="10">2</text>
<text x="215" y="50.2" font-size="10">46</text>
<text x="196.4" y="69.8" text-anchor="end" font-size="10">9</text>
<text x="215" y="69.8" font-size="10">43</text>
<path d="M298 169.2H302M298 162.2H302M298 157.3H302M298 153.5H302M298 150.3H302M298 147.7H302M298 145.4H302M298 143.4H302M294.8 141.6H302M298 129.7H302M298 122.7H302M298 117.8H302M298 113.9H302M298 110.8H302M298 108.2H302M298 105.9H302M298 103.9H302M294.8 102H302M298 90.2H302M298 83.2H302M298 78.3H302M298 74.4H302M298 71.3H302M298 68.6H302M298 66.4H302M298 64.3H302M294.8 62.5H302M298 50.6H302M298 43.7H302M298 38.7H302M298 34.9H302M298 31.8H302M298 29.1H302M298 26.8H302M298 24.8H302M294.8 23H302M313.9 180.6V184.1M321.6 180.6V184.1M327 180.6V184.1M331.2 180.6V184.1M334.7 180.6V184.1M337.6 180.6V184.1M340.1 180.6V184.1M342.3 180.6V184.1M344.3 180.6V187.1M357.4 180.6V184.1M365.1 180.6V184.1M370.5 180.6V184.1M374.7 180.6V184.1M378.2 180.6V184.1M381.1 180.6V184.1M383.6 180.6V184.1M385.9 180.6V184.1M387.9 180.6V187.1M401 180.6V184.1M408.6 180.6V184.1M414.1 180.6V184.1M418.3 180.6V184.1M421.7 180.6V184.1M424.6 180.6V184.1M427.2 180.6V184.1M429.4 180.6V184.1M431.4 180.6V187.1M444.5 180.6V184.1M452.1 180.6V184.1M457.6 180.6V184.1M461.8 180.6V184.1M465.2 180.6V184.1M468.2 180.6V184.1M470.7 180.6V184.1M472.9 180.6V184.1M474.9 180.6V187.1" stroke="#333" stroke-width="1.1" fill="none"/>
<path d="M301.2 23H474.9" stroke="#858585" stroke-width="1.5" fill="none"/>
<path d="M474.9 22.2V181.3" stroke="#555" stroke-width="1.5" fill="none"/>
<path d="M302 180.6H474.9" stroke="#666" stroke-width="1.5" fill="none"/>
<path d="M302 22.2V181.3" stroke="#333" stroke-width="1.5" fill="none"/>
<path d="M359.6 23V180.6M302 146.2H474.9" stroke="#111" stroke-width="1.4" fill="none"/>
<text x="288.6" y="146.2" text-anchor="end" font-size="10.5">10<tspan font-size="7.4" dy="-5.2">0</tspan></text>
<text x="288.6" y="106.6" text-anchor="end" font-size="10.5">10<tspan font-size="7.4" dy="-5.2">1</tspan></text>
<text x="288.6" y="67.1" text-anchor="end" font-size="10.5">10<tspan font-size="7.4" dy="-5.2">2</tspan></text>
<text x="288.6" y="27.6" text-anchor="end" font-size="10.5">10<tspan font-size="7.4" dy="-5.2">3</tspan></text>
<text x="344.2" y="203.6" text-anchor="middle" font-size="10.5">10<tspan font-size="7.4" dy="-5.4">0</tspan></text>
<text x="387.8" y="203.6" text-anchor="middle" font-size="10.5">10<tspan font-size="7.4" dy="-5.4">1</tspan></text>
<text x="431.3" y="203.6" text-anchor="middle" font-size="10.5">10<tspan font-size="7.4" dy="-5.4">2</tspan></text>
<text x="474.8" y="203.6" text-anchor="middle" font-size="10.5">10<tspan font-size="7.4" dy="-5.4">3</tspan></text>
<g font-size="8.5" fill="#444">
<text x="304" y="32">J1</text>
<text x="361.8" y="32">J2</text>
<text x="304" y="155.2">J3</text>
<text x="361.8" y="155.2">J4</text>
</g>
<path d="M432.3 30.7V79.5M404.1 55H461.1" stroke="#111" stroke-width="1.8" fill="none"/>
<text x="421.5" y="48.4" text-anchor="end" font-size="10">8</text>
<text x="440.1" y="48.4" font-size="10">76</text>
<text x="421.5" y="68.8" text-anchor="end" font-size="10">9</text>
<text x="440.1" y="68.8" font-size="10">7</text>
<path d="M73.3 374.8H77.3M73.3 367.8H77.3M73.3 362.9H77.3M73.3 359.1H77.3M73.3 355.9H77.3M73.3 353.3H77.3M73.3 351H77.3M73.3 349H77.3M70.1 347.1H77.3M73.3 335.2H77.3M73.3 328.3H77.3M73.3 323.3H77.3M73.3 319.5H77.3M73.3 316.4H77.3M73.3 313.7H77.3M73.3 311.4H77.3M73.3 309.4H77.3M70.1 307.6H77.3M73.3 295.7H77.3M73.3 288.7H77.3M73.3 283.8H77.3M73.3 280H77.3M73.3 276.8H77.3M73.3 274.2H77.3M73.3 271.9H77.3M73.3 269.9H77.3M70.1 268.1H77.3M73.3 256.1H77.3M73.3 249.2H77.3M73.3 244.2H77.3M73.3 240.4H77.3M73.3 237.3H77.3M73.3 234.6H77.3M73.3 232.3H77.3M73.3 230.3H77.3M70.1 228.5H77.3M89.2 386.2V389.7M96.8 386.2V389.7M102.2 386.2V389.7M106.4 386.2V389.7M109.9 386.2V389.7M112.8 386.2V389.7M115.3 386.2V389.7M117.5 386.2V389.7M119.5 386.2V392.7M132.5 386.2V389.7M140.2 386.2V389.7M145.6 386.2V389.7M149.8 386.2V389.7M153.2 386.2V389.7M156.1 386.2V389.7M158.6 386.2V389.7M160.9 386.2V389.7M162.8 386.2V392.7M175.9 386.2V389.7M183.5 386.2V389.7M189 386.2V389.7M193.2 386.2V389.7M196.6 386.2V389.7M199.5 386.2V389.7M202 386.2V389.7M204.2 386.2V389.7M206.2 386.2V392.7M219.3 386.2V389.7M226.9 386.2V389.7M232.3 386.2V389.7M236.5 386.2V389.7M240 386.2V389.7M242.9 386.2V389.7M245.4 386.2V389.7M247.6 386.2V389.7M249.6 386.2V392.7" stroke="#222" stroke-width="1.1" fill="none"/>
<path d="M76.5 228.5H249.6" stroke="#111" stroke-width="1.5" fill="none"/>
<path d="M249.6 227.8V386.9" stroke="#111" stroke-width="1.5" fill="none"/>
<path d="M77.3 386.2H249.6" stroke="#111" stroke-width="1.5" fill="none"/>
<path d="M77.3 227.8V386.9" stroke="#111" stroke-width="1.5" fill="none"/>
<path d="M137.8 228.5V386.2M77.3 347.8H249.6" stroke="#111" stroke-width="1.4" fill="none"/>
<text x="63.9" y="350.8" text-anchor="end" font-size="10.5">10<tspan font-size="7.4" dy="-5.2">0</tspan></text>
<text x="63.9" y="311.2" text-anchor="end" font-size="10.5">10<tspan font-size="7.4" dy="-5.2">1</tspan></text>
<text x="63.9" y="271.7" text-anchor="end" font-size="10.5">10<tspan font-size="7.4" dy="-5.2">2</tspan></text>
<text x="63.9" y="232.1" text-anchor="end" font-size="10.5">10<tspan font-size="7.4" dy="-5.2">3</tspan></text>
<text x="119.4" y="409.3" text-anchor="middle" font-size="10.5">10<tspan font-size="7.4" dy="-5.4">0</tspan></text>
<text x="162.8" y="409.3" text-anchor="middle" font-size="10.5">10<tspan font-size="7.4" dy="-5.4">1</tspan></text>
<text x="206.1" y="409.3" text-anchor="middle" font-size="10.5">10<tspan font-size="7.4" dy="-5.4">2</tspan></text>
<text x="249.5" y="409.3" text-anchor="middle" font-size="10.5">10<tspan font-size="7.4" dy="-5.4">3</tspan></text>
<g font-size="8.5" fill="#444">
<text x="79.3" y="237.5">J1</text>
<text x="140" y="237.5">J2</text>
<text x="79.3" y="356.8">J3</text>
<text x="140" y="356.8">J4</text>
</g>
<path d="M207.1 237.4V286.2M178.9 261.7H235.9" stroke="#111" stroke-width="1.8" fill="none"/>
<text x="196.3" y="254.7" text-anchor="end" font-size="10.7">1</text>
<text x="215.4" y="254.7" font-size="10.7">70</text>
<text x="196.3" y="275" text-anchor="end" font-size="10.7">3</text>
<text x="215.4" y="275" font-size="10.7">26</text>
<path d="M298.1 374.5H302.1M298.1 367.6H302.1M298.1 362.6H302.1M298.1 358.8H302.1M298.1 355.7H302.1M298.1 353H302.1M298.1 350.7H302.1M298.1 348.7H302.1M294.9 346.9H302.1M298.1 335H302.1M298.1 328.1H302.1M298.1 323.1H302.1M298.1 319.3H302.1M298.1 316.2H302.1M298.1 313.5H302.1M298.1 311.2H302.1M298.1 309.2H302.1M294.9 307.4H302.1M298.1 295.5H302.1M298.1 288.6H302.1M298.1 283.6H302.1M298.1 279.8H302.1M298.1 276.7H302.1M298.1 274H302.1M298.1 271.7H302.1M298.1 269.7H302.1M294.9 267.9H302.1M298.1 256H302.1M298.1 249.1H302.1M298.1 244.1H302.1M298.1 240.3H302.1M298.1 237.2H302.1M298.1 234.5H302.1M298.1 232.2H302.1M298.1 230.2H302.1M294.9 228.4H302.1M314 385.9V389.4M321.6 385.9V389.4M327 385.9V389.4M331.2 385.9V389.4M334.7 385.9V389.4M337.6 385.9V389.4M340.1 385.9V389.4M342.3 385.9V389.4M344.3 385.9V392.4M357.4 385.9V389.4M365 385.9V389.4M370.4 385.9V389.4M374.6 385.9V389.4M378.1 385.9V389.4M381 385.9V389.4M383.5 385.9V389.4M385.7 385.9V389.4M387.7 385.9V392.4M400.8 385.9V389.4M408.4 385.9V389.4M413.8 385.9V389.4M418 385.9V389.4M421.5 385.9V389.4M424.4 385.9V389.4M426.9 385.9V389.4M429.1 385.9V389.4M431.1 385.9V392.4M444.2 385.9V389.4M451.8 385.9V389.4M457.2 385.9V389.4M461.4 385.9V389.4M464.9 385.9V389.4M467.8 385.9V389.4M470.3 385.9V389.4M472.5 385.9V389.4M474.5 385.9V392.4" stroke="#3a3a3a" stroke-width="1.1" fill="none"/>
<path d="M301.4 228.4H474.5" stroke="#999" stroke-width="1.5" fill="none"/>
<path d="M474.5 227.7V386.6" stroke="#555" stroke-width="1.5" fill="none"/>
<path d="M302.1 385.9H474.5" stroke="#777" stroke-width="1.5" fill="none"/>
<path d="M302.1 227.7V386.6" stroke="#444" stroke-width="1.5" fill="none"/>
<path d="M362.9 228.4V385.9M302.1 347.8H474.5" stroke="#111" stroke-width="1.4" fill="none"/>
<text x="288.7" y="350.5" text-anchor="end" font-size="10.5">10<tspan font-size="7.4" dy="-5.2">0</tspan></text>
<text x="288.7" y="311" text-anchor="end" font-size="10.5">10<tspan font-size="7.4" dy="-5.2">1</tspan></text>
<text x="288.7" y="271.5" text-anchor="end" font-size="10.5">10<tspan font-size="7.4" dy="-5.2">2</tspan></text>
<text x="288.7" y="232" text-anchor="end" font-size="10.5">10<tspan font-size="7.4" dy="-5.2">3</tspan></text>
<text x="344.2" y="410.2" text-anchor="middle" font-size="10.5">10<tspan font-size="7.4" dy="-5.4">0</tspan></text>
<text x="387.6" y="410.2" text-anchor="middle" font-size="10.5">10<tspan font-size="7.4" dy="-5.4">1</tspan></text>
<text x="431" y="410.2" text-anchor="middle" font-size="10.5">10<tspan font-size="7.4" dy="-5.4">2</tspan></text>
<text x="474.4" y="410.2" text-anchor="middle" font-size="10.5">10<tspan font-size="7.4" dy="-5.4">3</tspan></text>
<g font-size="8.5" fill="#444">
<text x="304.1" y="237.4">J1</text>
<text x="365.1" y="237.4">J2</text>
<text x="304.1" y="356.8">H3</text>
<text x="365.1" y="356.8">H4</text>
</g>
<path d="M432.1 236.7V285.5M403.9 261H460.9" stroke="#111" stroke-width="1.8" fill="none"/>
<text x="421.3" y="254.5" text-anchor="end" font-size="10">2</text>
<text x="439.9" y="254.5" font-size="10">91</text>
<text x="421.3" y="275.3" text-anchor="end" font-size="10">3</text>
<text x="439.9" y="275.3" font-size="10">4</text>

<defs>
<pattern id="hatch" width="3.72" height="3.72" patternUnits="userSpaceOnUse" patternTransform="rotate(45)">
<rect width="3.72" height="3.72" fill="#fff"/><rect width="1.35" height="3.72" fill="#111"/>
</pattern>
<pattern id="dots" width="2" height="2" patternUnits="userSpaceOnUse">
<rect width="2" height="2" fill="#2a2a2a"/><rect x="1" y="0" width="1" height="1" fill="#858585"/><rect x="0" y="1" width="1" height="1" fill="#858585"/>
</pattern>
</defs>
<text x="0.2" y="473.7" font-size="13.3" font-weight="bold">B</text>
<path d="M102.7 468.7V667.5M98.3 468.7H102.7M98.3 565.6H102.7M98.3 662.5H384.5M243.2 662.5V667.5M384.5 662.5V667.5" stroke="#222" stroke-width="1.3" fill="none"/>
<text x="90.5" y="472.8" text-anchor="end" font-size="10">100</text>
<text x="90.5" y="569.6" text-anchor="end" font-size="10">50</text>
<text x="90.5" y="666.4" text-anchor="end" font-size="10">0</text>
<text transform="translate(66.2,565.5) rotate(-90)" text-anchor="middle" font-size="11.1" fill="#333">% CD4+CD25+CCR7&#8722;</text>
<rect x="144.9" y="469.3" width="55" height="61.6" fill="url(#hatch)" stroke="#000" stroke-width="1.6"/>
<rect x="144.9" y="530.9" width="55" height="131.6" fill="url(#dots)" stroke="#000" stroke-width="1.6"/>
<rect x="285.3" y="469.3" width="55.6" height="30.9" fill="url(#hatch)" stroke="#000" stroke-width="1.6"/>
<rect x="285.3" y="500.2" width="55.6" height="162.3" fill="url(#dots)" stroke="#000" stroke-width="1.6"/>
<text x="172" y="501.5" text-anchor="middle" font-size="10" fill="#555" stroke="#fff" stroke-width="1.6" paint-order="stroke">32</text>
<text x="170.7" y="597.5" text-anchor="middle" font-size="10" fill="#eee">68</text>
<text x="313" y="488.3" text-anchor="middle" font-size="10" fill="#555" stroke="#fff" stroke-width="1.6" paint-order="stroke">16</text>
<rect x="367" y="529.5" width="62.3" height="31.3" fill="#fff" stroke="#777" stroke-width="1"/>
<rect x="371.2" y="533.2" width="8.9" height="9.1" fill="#111" stroke="#000" stroke-width="1"/><path d="M373 540.6L378.4 535" stroke="#fff" stroke-width="2.3" stroke-linecap="round"/>
<rect x="371.2" y="548.4" width="8.9" height="8.7" fill="url(#dots)" stroke="#000" stroke-width="1"/>
<text x="385.3" y="542.2" font-size="10.6" fill="#333">CD62L&#8722;</text>
<text x="385.3" y="556.5" font-size="10.6" fill="#333">CD62L+</text>
<text x="173" y="681.6" text-anchor="middle" font-size="10.6" fill="#333">SCCHN (ratio&#8201;=&#8201;1 : 2)</text>
<text x="311.2" y="681.6" text-anchor="middle" font-size="10.6" fill="#333">NC (ratio&#8201;=&#8201;1 : 5)</text>

</svg>
</body></html>
